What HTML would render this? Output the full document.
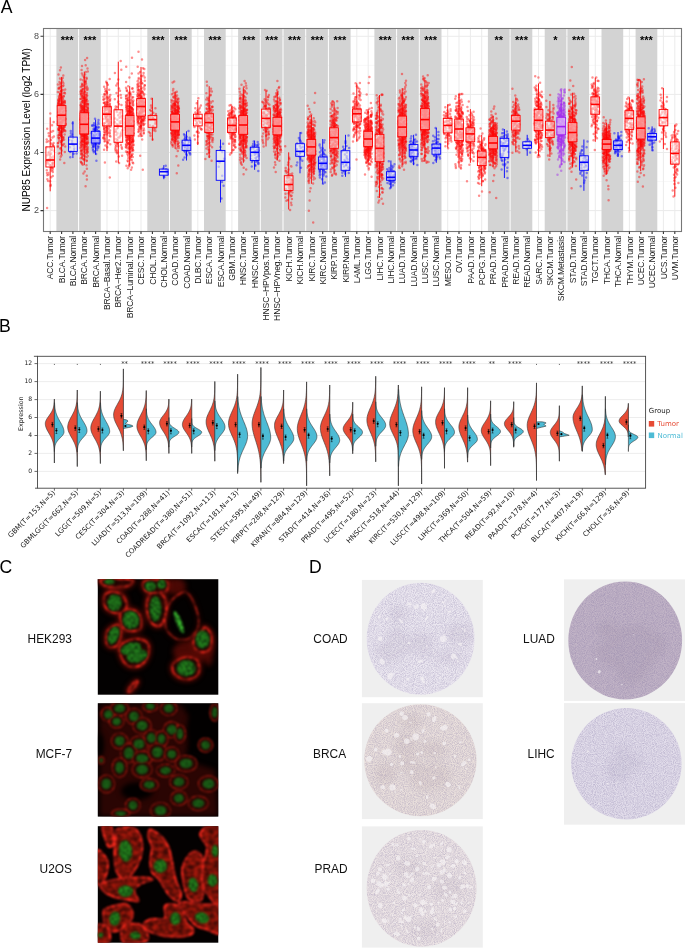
<!DOCTYPE html><html><head><meta charset="utf-8"><title>NUP85 figure</title><style>html,body{margin:0;padding:0;background:#fff;}svg{display:block;}</style></head><body><svg width="685" height="949" viewBox="0 0 685 949" font-family="Liberation Sans, Arial, sans-serif">
<rect width="685" height="949" fill="#fff"/>
<g id="pa">
<rect x="43.5" y="28.5" width="638.0" height="203.0" fill="#fff"/>
<path d="M43.5 181.6H681.5M43.5 123.5H681.5M43.5 65.3H681.5" stroke="#f2f2f2" stroke-width="0.6"/>
<path d="M43.5 210.6H681.5M43.5 152.5H681.5M43.5 94.4H681.5M43.5 36.3H681.5M50.2 28.5V231.5M61.6 28.5V231.5M72.9 28.5V231.5M84.3 28.5V231.5M95.6 28.5V231.5M107.0 28.5V231.5M118.3 28.5V231.5M129.7 28.5V231.5M141.0 28.5V231.5M152.4 28.5V231.5M163.8 28.5V231.5M175.1 28.5V231.5M186.5 28.5V231.5M197.8 28.5V231.5M209.2 28.5V231.5M220.5 28.5V231.5M231.9 28.5V231.5M243.3 28.5V231.5M254.6 28.5V231.5M266.0 28.5V231.5M277.3 28.5V231.5M288.7 28.5V231.5M300.0 28.5V231.5M311.4 28.5V231.5M322.7 28.5V231.5M334.1 28.5V231.5M345.5 28.5V231.5M356.8 28.5V231.5M368.2 28.5V231.5M379.5 28.5V231.5M390.9 28.5V231.5M402.2 28.5V231.5M413.6 28.5V231.5M424.9 28.5V231.5M436.3 28.5V231.5M447.7 28.5V231.5M459.0 28.5V231.5M470.4 28.5V231.5M481.7 28.5V231.5M493.1 28.5V231.5M504.4 28.5V231.5M515.8 28.5V231.5M527.2 28.5V231.5M538.5 28.5V231.5M549.9 28.5V231.5M561.2 28.5V231.5M572.6 28.5V231.5M583.9 28.5V231.5M595.3 28.5V231.5M606.6 28.5V231.5M618.0 28.5V231.5M629.4 28.5V231.5M640.7 28.5V231.5M652.1 28.5V231.5M663.4 28.5V231.5M674.8 28.5V231.5" stroke="#ebebeb" stroke-width="1"/>
<rect x="56.4" y="28.5" width="21.7" height="203.0" fill="#d3d3d3"/>
<rect x="79.1" y="28.5" width="21.7" height="203.0" fill="#d3d3d3"/>
<rect x="147.3" y="28.5" width="21.7" height="203.0" fill="#d3d3d3"/>
<rect x="170.0" y="28.5" width="21.7" height="203.0" fill="#d3d3d3"/>
<rect x="204.0" y="28.5" width="21.7" height="203.0" fill="#d3d3d3"/>
<rect x="238.1" y="28.5" width="21.7" height="203.0" fill="#d3d3d3"/>
<rect x="260.8" y="28.5" width="21.7" height="203.0" fill="#d3d3d3"/>
<rect x="283.5" y="28.5" width="21.7" height="203.0" fill="#d3d3d3"/>
<rect x="306.2" y="28.5" width="21.7" height="203.0" fill="#d3d3d3"/>
<rect x="328.9" y="28.5" width="21.7" height="203.0" fill="#d3d3d3"/>
<rect x="374.4" y="28.5" width="21.7" height="203.0" fill="#d3d3d3"/>
<rect x="397.1" y="28.5" width="21.7" height="203.0" fill="#d3d3d3"/>
<rect x="419.8" y="28.5" width="21.7" height="203.0" fill="#d3d3d3"/>
<rect x="487.9" y="28.5" width="21.7" height="203.0" fill="#d3d3d3"/>
<rect x="510.6" y="28.5" width="21.7" height="203.0" fill="#d3d3d3"/>
<rect x="544.7" y="28.5" width="21.7" height="203.0" fill="#d3d3d3"/>
<rect x="567.4" y="28.5" width="21.7" height="203.0" fill="#d3d3d3"/>
<rect x="601.5" y="28.5" width="21.7" height="203.0" fill="#d3d3d3"/>
<rect x="635.6" y="28.5" width="21.7" height="203.0" fill="#d3d3d3"/>
<path d="M47.8 162.0h0M47.2 128.7h0M50.2 181.3h0M51.3 167.2h0M48.1 162.3h0M48.1 181.0h0M53.7 146.0h0M49.0 164.2h0M49.6 160.5h0M48.6 133.3h0M50.0 165.0h0M53.9 136.5h0M52.1 125.3h0M52.9 164.5h0M52.5 137.6h0M46.8 170.2h0" stroke="#ff0000" stroke-opacity="0.44" stroke-width="2.5" stroke-linecap="round" fill="none"/>
<path d="M52.2 149.1h0M52.6 168.2h0M51.4 169.2h0M47.1 208.1h0M52.6 163.8h0M50.7 156.9h0M48.8 152.0h0M52.7 144.6h0M50.3 152.4h0M50.7 184.7h0M52.7 169.7h0M51.9 149.7h0M53.7 161.7h0M53.8 150.7h0M50.3 113.6h0M50.1 157.8h0" stroke="#ff0000" stroke-opacity="0.44" stroke-width="2.5" stroke-linecap="round" fill="none"/>
<path d="M52.8 172.1h0M53.8 166.0h0M48.4 153.2h0M51.0 140.0h0M53.7 122.0h0M48.5 141.3h0M52.8 176.0h0M47.1 163.5h0M52.9 145.5h0M46.7 161.3h0M51.1 154.0h0M46.6 147.6h0M50.5 186.0h0M47.3 179.2h0M47.9 159.8h0M47.3 175.2h0" stroke="#ff0000" stroke-opacity="0.44" stroke-width="2.5" stroke-linecap="round" fill="none"/>
<path d="M48.4 174.6h0M51.6 131.7h0M48.9 135.9h0M53.6 142.9h0M47.0 173.0h0M52.4 162.7h0M50.8 166.9h0M51.1 146.9h0M49.9 155.6h0M49.5 159.2h0M50.3 165.2h0M49.9 147.9h0M53.2 156.5h0M48.3 173.1h0M53.1 130.9h0M50.2 161.0h0" stroke="#ff0000" stroke-opacity="0.44" stroke-width="2.5" stroke-linecap="round" fill="none"/>
<path d="M52.4 167.9h0M47.4 155.3h0M51.6 158.4h0M51.5 170.8h0M52.0 166.5h0M46.7 139.6h0M53.0 163.0h0M50.9 143.4h0M51.2 177.3h0M47.9 160.6h0M50.6 150.2h0M52.1 165.4h0M52.9 158.5h0M46.7 141.9h0M49.7 154.5h0" stroke="#ff0000" stroke-opacity="0.44" stroke-width="2.5" stroke-linecap="round" fill="none"/>
<path d="M61.5 122.5h0M62.6 115.5h0M65.2 89.5h0M60.0 111.4h0M58.9 123.5h0M57.8 146.9h0M62.7 128.0h0M59.4 133.7h0M58.6 109.4h0M62.3 126.4h0M61.4 136.0h0M64.2 118.8h0M61.1 86.9h0M61.2 142.1h0M63.4 90.0h0M64.1 115.8h0M59.1 132.8h0M62.1 107.1h0M62.2 131.0h0M62.0 106.6h0M63.3 121.4h0M60.0 117.2h0M63.3 129.3h0M60.3 153.1h0M65.3 123.7h0M60.0 141.0h0M61.7 150.4h0M60.7 122.2h0M61.1 109.1h0M60.2 99.5h0M59.3 134.8h0M60.1 109.3h0M59.4 113.3h0M59.5 101.2h0M59.1 125.4h0M61.5 125.9h0M62.6 139.4h0M62.6 121.1h0M63.4 118.1h0M62.6 81.5h0M59.5 82.0h0M61.7 124.5h0M59.1 124.7h0M60.4 118.7h0M60.4 95.4h0M60.1 123.6h0M61.2 123.2h0M64.2 110.9h0M61.6 104.4h0M59.6 138.3h0M60.5 128.3h0M65.1 118.3h0M59.0 130.0h0M59.5 112.9h0M59.1 141.2h0M61.2 97.4h0M61.5 104.0h0M62.5 120.4h0M58.9 106.1h0M62.5 101.4h0M60.4 95.2h0M62.3 112.5h0M60.9 67.5h0M62.0 90.2h0M60.0 111.6h0M59.0 138.9h0M64.7 134.4h0M63.1 138.2h0M58.6 113.6h0M61.4 103.9h0M58.6 114.8h0M59.8 110.4h0M59.7 111.0h0M58.8 119.1h0M64.1 120.6h0M58.8 87.8h0M62.1 132.0h0M64.6 125.1h0M63.8 96.5h0M62.7 86.3h0M60.5 110.7h0M61.0 91.0h0" stroke="#ff0000" stroke-opacity="0.44" stroke-width="2.5" stroke-linecap="round" fill="none"/>
<path d="M65.0 93.4h0M58.7 100.4h0M63.0 122.7h0M62.0 132.6h0M63.1 108.2h0M60.7 114.6h0M58.7 105.3h0M63.7 137.2h0M58.6 115.3h0M64.9 101.0h0M58.2 103.1h0M61.3 123.8h0M60.9 122.1h0M60.7 118.6h0M60.0 94.2h0M58.7 113.7h0M62.1 134.0h0M60.6 105.0h0M60.2 115.1h0M62.6 120.1h0M60.4 117.9h0M59.1 121.9h0M59.6 92.6h0M63.7 105.7h0M58.1 121.8h0M59.6 92.4h0M58.2 143.0h0M62.0 116.7h0M64.7 93.0h0M57.8 145.9h0M61.1 110.6h0M61.1 108.9h0M60.3 124.8h0M58.8 119.3h0M64.5 123.2h0M65.2 124.2h0M62.2 117.3h0M63.4 83.2h0M60.2 108.3h0M58.5 124.4h0M60.2 133.4h0M64.6 105.8h0M64.0 129.4h0M61.2 142.5h0M62.2 102.8h0M64.3 106.5h0M63.2 131.6h0M59.2 135.0h0M64.2 113.8h0M64.4 114.2h0M59.5 88.5h0M63.3 75.4h0M61.4 110.3h0M63.0 119.4h0M60.0 98.2h0M57.9 84.6h0M60.7 134.1h0M63.5 116.2h0M60.2 110.1h0M58.9 128.4h0M62.6 126.5h0M62.2 140.7h0M64.8 113.9h0M63.6 126.5h0M59.2 97.1h0M64.7 102.2h0M62.0 132.6h0M59.0 117.4h0M60.7 133.3h0M63.0 115.4h0M60.6 120.5h0M63.7 95.9h0M60.4 114.4h0M58.4 112.6h0M58.8 129.7h0M64.6 120.2h0M65.2 146.5h0M58.9 96.2h0M58.8 111.5h0M59.7 109.1h0M58.7 118.4h0M60.0 125.2h0" stroke="#ff0000" stroke-opacity="0.44" stroke-width="2.5" stroke-linecap="round" fill="none"/>
<path d="M63.4 119.8h0M64.1 139.7h0M61.0 90.7h0M59.1 119.9h0M63.0 117.0h0M59.1 126.2h0M58.9 137.7h0M61.0 116.4h0M60.0 105.5h0M57.8 143.2h0M61.9 121.3h0M63.4 139.8h0M61.8 100.6h0M63.5 85.6h0M64.3 105.2h0M62.3 120.6h0M59.0 116.8h0M63.1 109.8h0M62.2 100.0h0M62.2 130.3h0M63.0 109.7h0M62.3 129.1h0M61.1 118.9h0M59.1 100.8h0M60.9 107.0h0M60.7 131.3h0M61.5 112.9h0M57.8 124.1h0M63.0 120.1h0M58.2 104.1h0M59.3 129.7h0M60.5 127.3h0M62.2 104.7h0M60.1 94.6h0M61.0 120.0h0M61.3 97.3h0M65.0 108.0h0M64.4 115.0h0M64.2 101.7h0M62.8 145.6h0M62.7 107.6h0M61.6 141.5h0M64.0 113.3h0M65.1 130.6h0M62.2 121.2h0M62.2 99.2h0M64.3 162.9h0M58.5 111.8h0M60.2 112.7h0M62.9 108.0h0M59.9 111.7h0M59.3 98.9h0M59.3 125.0h0M61.8 121.6h0M60.6 95.6h0M59.1 124.0h0M61.6 155.3h0M58.6 120.9h0M60.4 135.2h0M64.8 126.7h0M62.5 98.4h0M62.9 115.3h0M62.7 112.3h0M61.0 91.6h0M64.1 143.9h0M61.4 89.2h0M60.5 103.4h0M62.8 107.3h0M62.0 113.4h0M59.5 122.0h0M58.9 98.9h0M65.0 115.0h0M60.4 87.6h0M65.2 119.0h0M58.1 104.9h0M61.1 103.6h0M61.0 97.8h0M58.0 116.9h0M63.3 112.7h0M62.5 123.4h0M59.4 109.5h0M58.6 99.8h0" stroke="#ff0000" stroke-opacity="0.44" stroke-width="2.5" stroke-linecap="round" fill="none"/>
<path d="M63.1 99.4h0M64.4 92.7h0M65.2 124.9h0M61.5 136.8h0M61.3 110.6h0M62.5 137.0h0M61.7 114.1h0M59.1 102.7h0M60.7 116.6h0M60.6 85.7h0M64.6 108.5h0M61.8 135.7h0M60.1 125.7h0M60.0 117.8h0M65.0 124.3h0M58.2 100.2h0M58.7 110.0h0M59.8 111.9h0M59.4 109.9h0M63.1 111.4h0M60.4 118.1h0M59.4 117.9h0M59.8 112.0h0M62.5 102.0h0M61.9 116.3h0M59.4 130.4h0M58.6 112.1h0M60.6 133.0h0M58.5 74.5h0M57.8 116.3h0M58.0 104.3h0M63.2 116.1h0M61.6 144.3h0M62.0 116.6h0M63.8 106.8h0M58.8 107.4h0M60.0 100.9h0M58.2 123.0h0M60.2 94.5h0M62.7 78.1h0M65.0 121.0h0M59.6 96.7h0M64.7 107.4h0M59.5 97.5h0M60.5 99.9h0M63.2 103.2h0M62.5 98.1h0M61.2 114.9h0M63.5 109.6h0M63.3 127.6h0M60.4 113.7h0M60.1 105.9h0M63.9 117.5h0M62.3 107.0h0M58.4 108.6h0M61.7 128.6h0M61.4 131.8h0M60.9 148.1h0M58.9 98.5h0M60.6 107.9h0M63.1 111.3h0M59.9 105.2h0M64.8 151.9h0M60.6 125.7h0M63.2 118.5h0M61.9 119.5h0M63.3 109.2h0M58.7 117.1h0M60.2 122.9h0M59.7 112.4h0M60.6 115.9h0M62.8 128.0h0M58.6 130.2h0M60.3 105.7h0M61.5 91.2h0M61.0 83.0h0M60.0 70.2h0M61.0 132.4h0M59.3 127.7h0M62.0 108.2h0M65.0 110.3h0" stroke="#ff0000" stroke-opacity="0.44" stroke-width="2.5" stroke-linecap="round" fill="none"/>
<path d="M58.6 121.1h0M64.9 108.7h0M61.3 106.4h0M59.0 107.7h0M60.8 115.6h0M60.1 159.6h0M58.9 110.1h0M58.0 135.6h0M64.9 103.0h0M58.8 153.6h0M58.5 88.8h0M64.2 127.0h0M58.9 110.8h0M63.5 113.2h0M60.2 148.5h0M62.4 138.6h0M60.8 149.1h0M61.3 115.7h0M61.2 136.1h0M63.6 102.6h0M65.2 111.1h0M65.3 131.2h0M58.7 122.3h0M61.7 79.6h0M62.4 93.6h0M58.3 121.6h0M63.3 129.0h0M60.6 114.3h0M61.5 108.8h0M64.5 111.2h0M63.3 120.7h0M63.8 102.4h0M64.8 122.8h0M58.6 119.7h0M60.7 156.8h0M59.3 128.6h0M59.9 125.5h0M64.4 117.6h0M64.7 113.5h0M64.5 101.7h0M58.2 128.8h0M64.1 130.8h0M60.8 134.6h0M62.1 114.1h0M61.7 122.3h0M61.8 140.2h0M61.5 108.7h0M64.8 106.3h0M60.2 118.2h0M59.6 103.7h0M58.2 102.0h0M59.1 114.4h0M60.5 131.8h0M61.0 127.2h0M61.8 136.5h0M60.9 94.9h0M60.8 127.4h0M64.3 106.7h0M60.0 78.4h0M58.1 106.2h0M65.2 123.8h0M60.2 94.0h0M61.0 117.7h0M59.1 107.7h0M60.2 84.0h0M61.3 114.7h0M62.4 144.7h0M62.0 116.0h0M59.8 114.6h0M59.4 122.6h0M62.9 104.6h0M59.6 126.0h0M64.4 113.1h0M58.6 112.2h0M65.3 119.2h0M62.1 96.3h0M59.8 126.9h0M57.8 92.1h0M63.1 112.4h0M65.1 119.5h0M58.3 137.4h0" stroke="#ff0000" stroke-opacity="0.44" stroke-width="2.5" stroke-linecap="round" fill="none"/>
<path d="M73.9 145.6h0M70.3 157.3h0M74.2 148.6h0M70.8 131.0h0" stroke="#0000ff" stroke-opacity="0.44" stroke-width="2.5" stroke-linecap="round" fill="none"/>
<path d="M72.5 144.3h0M72.1 140.7h0M71.0 151.5h0M72.6 123.3h0" stroke="#0000ff" stroke-opacity="0.44" stroke-width="2.5" stroke-linecap="round" fill="none"/>
<path d="M70.9 133.3h0M72.1 134.5h0M69.8 147.3h0M73.0 137.7h0" stroke="#0000ff" stroke-opacity="0.44" stroke-width="2.5" stroke-linecap="round" fill="none"/>
<path d="M69.2 140.1h0M76.6 153.5h0M72.2 143.0h0M74.0 150.4h0" stroke="#0000ff" stroke-opacity="0.44" stroke-width="2.5" stroke-linecap="round" fill="none"/>
<path d="M70.7 136.0h0M70.0 152.1h0M73.6 153.8h0" stroke="#0000ff" stroke-opacity="0.44" stroke-width="2.5" stroke-linecap="round" fill="none"/>
<path d="M82.4 138.6h0M80.8 130.9h0M85.1 141.1h0M81.3 120.2h0M80.8 142.0h0M85.3 156.7h0M85.3 82.3h0M83.9 97.4h0M83.6 98.1h0M84.7 127.0h0M81.1 153.3h0M87.9 130.4h0M81.7 107.3h0M82.7 102.1h0M86.2 129.4h0M83.1 138.3h0M82.2 128.4h0M85.1 144.2h0M81.8 124.5h0M87.8 132.6h0M86.0 136.5h0M86.9 125.6h0M80.6 116.2h0M81.7 163.2h0M81.8 117.9h0M80.8 133.6h0M82.7 164.7h0M85.9 141.3h0M81.8 135.1h0M84.3 123.8h0M82.1 122.1h0M84.9 146.4h0M80.7 120.6h0M84.5 112.3h0M82.2 117.4h0M81.6 143.9h0M84.0 137.9h0M85.2 127.5h0M82.8 123.4h0M80.8 115.2h0M86.1 84.1h0M81.9 135.5h0M85.5 87.2h0M83.4 130.8h0M87.0 113.7h0M87.5 88.0h0M81.0 131.9h0M86.2 122.7h0M85.3 129.5h0M86.7 95.5h0M80.7 124.6h0M87.1 125.2h0M81.7 122.6h0M81.4 154.1h0M85.4 125.7h0M84.5 119.3h0M81.3 90.8h0M81.5 115.7h0M85.8 113.6h0M80.6 158.2h0M87.3 151.9h0M86.1 124.9h0M82.5 94.7h0M81.0 94.5h0M87.1 131.9h0M82.0 65.9h0M85.9 132.4h0M83.9 125.1h0M80.8 128.5h0M80.7 127.6h0M87.9 113.8h0M87.0 121.1h0M85.7 128.3h0M86.1 87.7h0M84.9 129.1h0M84.6 108.8h0M85.2 109.0h0M83.3 109.9h0M86.4 143.3h0M80.7 79.4h0M84.6 116.4h0M86.9 113.1h0M87.2 138.9h0M84.3 76.9h0M87.9 123.2h0M81.2 131.7h0M82.4 121.2h0M85.3 132.8h0M81.0 144.5h0M83.8 124.4h0M81.8 89.7h0M85.7 101.1h0M83.1 141.6h0M86.7 132.6h0M85.4 114.1h0M87.0 124.7h0M84.5 106.4h0M81.1 121.8h0M84.3 127.0h0M82.9 135.2h0M82.1 115.0h0M85.6 129.0h0M87.9 119.0h0M80.8 117.3h0M86.9 153.8h0M81.1 107.6h0M82.8 140.8h0M85.4 137.0h0M87.1 132.9h0M84.7 125.6h0M85.0 132.1h0M85.8 129.6h0M82.3 125.8h0M85.8 120.4h0M86.8 99.2h0M80.6 111.0h0M85.6 115.1h0M84.7 145.8h0M84.2 103.2h0M86.3 121.9h0M80.6 144.1h0M81.4 129.7h0M81.7 125.9h0M81.7 126.4h0M80.5 99.0h0M84.3 129.9h0M80.9 146.8h0M84.3 133.1h0M84.2 108.5h0M86.6 160.9h0M85.6 97.9h0M82.8 100.5h0M86.5 115.3h0M81.1 141.5h0M86.4 122.3h0M85.8 153.5h0M81.4 151.0h0M87.5 130.1h0M86.7 78.8h0M85.2 134.6h0" stroke="#ff0000" stroke-opacity="0.44" stroke-width="2.5" stroke-linecap="round" fill="none"/>
<path d="M85.8 128.5h0M83.0 126.9h0M86.1 129.5h0M87.3 148.1h0M82.1 141.0h0M80.7 119.6h0M87.7 126.6h0M86.0 120.6h0M83.4 173.5h0M87.7 89.6h0M87.4 106.8h0M84.9 129.4h0M86.7 125.0h0M87.2 114.7h0M82.4 118.4h0M84.2 122.4h0M86.0 128.6h0M87.5 100.9h0M86.9 92.9h0M83.9 108.9h0M87.6 125.3h0M85.2 100.2h0M85.5 136.5h0M81.6 119.7h0M82.3 101.8h0M82.0 130.2h0M85.0 120.5h0M84.0 111.8h0M81.9 118.7h0M84.5 155.7h0M87.7 129.1h0M81.9 108.3h0M82.0 106.2h0M87.3 125.9h0M83.9 137.2h0M80.8 87.0h0M87.3 104.5h0M83.0 86.0h0M86.5 142.8h0M86.9 125.1h0M87.7 106.6h0M81.4 123.0h0M83.3 106.0h0M83.2 131.1h0M87.2 127.9h0M86.1 94.3h0M86.3 136.9h0M82.8 134.9h0M86.6 103.4h0M86.9 168.8h0M87.9 105.5h0M87.1 58.0h0M84.2 120.7h0M81.4 95.9h0M83.6 133.3h0M80.8 131.3h0M84.6 123.8h0M87.6 152.4h0M82.7 126.8h0M81.5 132.2h0M88.0 110.6h0M85.7 146.2h0M85.7 112.9h0M82.9 133.7h0M83.3 116.7h0M85.8 129.7h0M84.6 129.2h0M86.3 143.2h0M84.8 102.0h0M82.4 136.0h0M84.2 131.2h0M82.3 123.6h0M85.4 130.5h0M82.5 113.9h0M86.5 99.6h0M80.6 131.0h0M87.8 133.5h0M81.5 116.5h0M84.8 98.4h0M82.0 153.0h0M81.7 119.5h0M84.9 91.5h0M82.3 127.8h0M85.0 126.3h0M84.3 117.5h0M82.8 127.7h0M84.4 135.7h0M81.4 122.9h0M84.1 130.8h0M81.1 151.2h0M80.7 134.3h0M81.1 90.4h0M84.5 128.4h0M85.9 133.0h0M81.6 70.0h0M84.0 116.0h0M87.2 136.1h0M87.7 125.3h0M80.5 91.8h0M83.9 159.8h0M87.2 109.5h0M83.3 107.7h0M87.9 108.7h0M85.5 128.2h0M82.9 116.1h0M82.0 129.7h0M85.7 117.4h0M81.1 93.6h0M84.0 133.8h0M84.0 114.8h0M82.2 119.1h0M87.8 124.0h0M80.7 130.3h0M85.0 118.1h0M81.7 117.6h0M85.4 104.9h0M84.0 143.0h0M85.8 104.0h0M85.5 133.2h0M86.4 137.8h0M85.0 124.8h0M82.3 113.5h0M86.2 125.2h0M82.3 118.0h0M82.2 116.8h0M80.9 122.5h0M80.5 105.7h0M85.4 129.3h0M83.2 138.2h0M86.7 150.4h0M81.3 131.6h0M85.7 71.9h0M85.7 65.2h0M87.5 152.2h0M82.1 84.7h0M81.4 124.8h0M83.9 113.2h0M88.0 127.9h0M86.3 129.0h0M81.3 128.0h0" stroke="#ff0000" stroke-opacity="0.44" stroke-width="2.5" stroke-linecap="round" fill="none"/>
<path d="M82.3 155.2h0M84.8 128.1h0M82.1 144.8h0M82.5 90.9h0M85.0 136.8h0M83.8 140.4h0M85.5 116.1h0M86.6 123.4h0M83.5 133.9h0M80.6 119.3h0M87.8 71.5h0M85.1 60.1h0M85.1 115.5h0M84.6 139.9h0M81.1 145.2h0M84.5 115.2h0M84.4 144.8h0M82.1 163.6h0M81.8 85.9h0M87.6 139.3h0M85.1 136.7h0M83.3 94.1h0M83.5 129.8h0M83.2 112.6h0M88.0 118.9h0M87.9 107.9h0M80.8 93.7h0M86.3 101.4h0M83.5 108.1h0M82.8 88.8h0M87.5 128.6h0M83.5 114.3h0M85.7 81.4h0M83.7 124.0h0M85.4 118.2h0M82.7 127.6h0M81.3 131.0h0M86.9 127.1h0M82.1 130.0h0M86.8 160.4h0M84.3 124.9h0M87.7 156.0h0M85.5 115.4h0M87.4 144.0h0M83.4 126.3h0M85.8 135.8h0M88.0 112.7h0M81.9 139.2h0M87.9 131.5h0M85.9 124.7h0M86.7 130.3h0M87.7 140.6h0M87.0 133.7h0M85.9 99.9h0M87.8 140.2h0M85.0 126.9h0M86.5 117.0h0M83.7 135.7h0M85.4 103.0h0M84.2 146.5h0M83.1 132.9h0M81.2 154.6h0M82.1 96.3h0M81.2 162.3h0M84.8 121.7h0M80.9 111.7h0M81.0 123.9h0M84.5 126.9h0M80.8 126.7h0M87.3 121.3h0M86.4 130.7h0M85.7 137.2h0M81.1 127.7h0M85.6 152.8h0M85.7 127.4h0M84.1 134.1h0M86.9 179.6h0M81.9 109.8h0M83.8 130.2h0M84.7 121.5h0M85.3 116.3h0M87.0 157.3h0M81.3 117.2h0M81.7 141.8h0M86.6 130.6h0M83.7 126.0h0M84.0 77.8h0M82.1 130.6h0M85.6 138.2h0M85.8 116.5h0M81.8 146.3h0M83.5 132.3h0M83.0 99.6h0M81.9 120.3h0M83.2 106.3h0M87.5 122.4h0M86.1 118.7h0M83.9 98.6h0M82.5 115.9h0M86.6 90.1h0M82.6 139.8h0M82.6 116.3h0M80.7 104.6h0M83.0 100.0h0M85.8 125.5h0M85.4 142.2h0M87.5 151.3h0M86.9 110.2h0M81.5 105.9h0M87.6 122.0h0M82.0 114.6h0M84.3 121.9h0M81.2 142.7h0M82.7 75.4h0M86.5 165.2h0M83.7 135.0h0M82.8 118.5h0M81.8 114.4h0M81.9 121.1h0M86.1 131.2h0M82.0 157.9h0M86.0 103.6h0M84.4 112.8h0M86.8 131.6h0M86.0 128.1h0M84.4 123.1h0M81.0 98.8h0M86.6 110.6h0M84.7 130.2h0M82.9 127.3h0M83.1 140.7h0M83.0 118.6h0M87.7 123.5h0M83.3 93.2h0M82.3 147.1h0M81.4 139.4h0M87.4 113.3h0M84.0 126.1h0M81.6 126.1h0M85.6 131.7h0" stroke="#ff0000" stroke-opacity="0.44" stroke-width="2.5" stroke-linecap="round" fill="none"/>
<path d="M85.7 125.5h0M87.3 123.2h0M87.8 109.6h0M86.2 105.7h0M83.5 121.3h0M82.5 120.8h0M86.8 138.7h0M87.0 129.3h0M84.8 150.7h0M86.7 134.7h0M81.5 120.8h0M81.4 135.3h0M86.8 145.6h0M83.5 149.2h0M88.1 112.2h0M86.0 117.8h0M82.0 156.9h0M82.3 123.5h0M81.0 119.0h0M88.0 131.3h0M84.8 92.1h0M80.7 108.1h0M86.6 134.8h0M81.1 128.9h0M81.2 104.7h0M83.8 114.2h0M82.3 123.0h0M81.8 134.5h0M83.7 115.8h0M81.7 142.3h0M87.5 118.4h0M83.0 132.8h0M86.7 113.9h0M84.6 135.9h0M83.2 145.9h0M82.4 110.3h0M88.0 115.5h0M86.0 126.6h0M80.6 117.9h0M82.8 145.3h0M85.7 119.8h0M83.2 132.7h0M83.8 129.2h0M80.8 137.7h0M85.6 80.6h0M84.6 142.0h0M82.7 106.9h0M85.0 114.5h0M81.0 115.0h0M86.8 133.2h0M85.0 109.7h0M86.1 111.5h0M83.5 84.6h0M87.8 134.0h0M87.2 113.4h0M82.7 125.6h0M87.0 117.3h0M80.7 132.4h0M81.5 119.6h0M83.8 111.4h0M85.7 117.1h0M85.3 97.0h0M81.2 121.0h0M81.6 121.4h0M82.0 130.0h0M86.7 127.1h0M81.6 109.3h0M88.0 142.6h0M85.5 139.4h0M85.2 122.8h0M87.3 128.1h0M85.6 115.9h0M84.3 148.2h0M88.0 103.7h0M84.8 123.3h0M84.9 85.2h0M82.8 159.0h0M87.7 137.4h0M83.2 120.1h0M85.1 114.0h0M81.4 107.1h0M87.0 112.5h0M87.4 149.8h0M85.4 128.8h0M87.6 116.6h0M84.3 120.4h0M87.4 138.0h0M83.7 126.5h0M84.3 126.5h0M80.8 161.8h0M83.6 131.8h0M81.1 105.0h0M84.3 107.4h0M81.7 150.4h0M84.7 138.6h0M82.7 112.0h0M82.7 128.7h0M81.2 131.5h0M82.1 123.6h0M85.3 134.3h0M80.7 109.2h0M85.7 143.4h0M85.0 118.8h0M85.3 128.7h0M85.5 122.6h0M84.0 136.2h0M82.0 120.0h0M86.9 124.1h0M87.1 143.5h0M85.0 129.9h0M82.1 124.1h0M81.9 136.2h0M83.1 92.8h0M83.8 127.3h0M85.0 124.4h0M85.2 142.9h0M81.0 117.8h0M83.9 97.2h0M84.7 171.5h0M87.4 107.8h0M82.3 124.4h0M83.5 123.7h0M82.1 122.7h0M84.7 105.1h0M82.3 92.5h0M82.0 145.5h0M82.3 97.6h0M82.6 118.3h0M81.2 121.8h0M80.5 147.9h0M82.1 123.0h0M83.0 89.2h0M81.7 132.5h0M85.4 150.1h0M87.0 124.6h0M81.8 105.3h0M85.4 118.1h0M87.5 68.5h0M86.4 145.0h0M85.6 186.2h0" stroke="#ff0000" stroke-opacity="0.44" stroke-width="2.5" stroke-linecap="round" fill="none"/>
<path d="M85.1 121.6h0M81.0 110.9h0M87.2 134.1h0M86.9 116.9h0M88.0 117.7h0M82.2 114.5h0M85.6 95.0h0M83.3 139.7h0M81.2 119.2h0M82.0 119.9h0M84.1 103.8h0M85.4 95.1h0M80.6 119.8h0M80.6 122.2h0M82.7 134.6h0M81.4 115.7h0M87.2 124.3h0M85.2 103.1h0M82.6 108.5h0M81.9 126.4h0M83.0 119.0h0M85.6 99.4h0M81.1 136.8h0M87.6 132.3h0M86.9 137.5h0M85.9 138.4h0M85.5 82.8h0M86.9 132.2h0M85.9 149.0h0M86.2 147.4h0M82.0 83.7h0M82.7 144.6h0M84.4 133.6h0M82.9 97.7h0M85.8 135.1h0M87.4 132.1h0M82.1 132.0h0M85.3 112.4h0M83.4 130.7h0M83.1 124.5h0M82.1 135.5h0M84.8 159.2h0M85.4 88.6h0M84.0 136.3h0M81.8 119.5h0M88.1 133.4h0M81.5 114.2h0M82.6 101.7h0M81.7 110.4h0M82.6 120.1h0M82.7 155.5h0M87.7 147.0h0M86.2 127.2h0M83.0 80.2h0M86.3 126.2h0M84.3 125.0h0M84.6 113.5h0M86.8 96.7h0M82.9 120.9h0M84.6 120.0h0M84.0 102.4h0M82.4 101.3h0M81.7 140.0h0M87.5 111.2h0M84.9 128.8h0M83.6 131.4h0M82.2 102.7h0M82.8 140.4h0M82.3 149.5h0M81.4 116.9h0M85.0 114.9h0M86.5 121.6h0M80.9 127.8h0M84.1 117.6h0M86.2 143.8h0M84.3 110.1h0M85.6 116.7h0M87.6 148.7h0M83.7 120.9h0M81.6 111.1h0M86.5 77.7h0M85.6 100.7h0M87.2 137.3h0M86.9 122.1h0M85.9 121.5h0M82.7 141.0h0M83.5 133.0h0M80.7 111.9h0M81.3 134.2h0M81.0 115.6h0M83.2 96.6h0M85.1 74.6h0M83.7 151.7h0M83.8 128.2h0M86.9 86.6h0M82.7 154.6h0M83.8 133.4h0M83.1 119.3h0M87.2 95.6h0M84.8 127.3h0M81.4 111.6h0M81.9 73.5h0M85.7 106.9h0M81.3 149.6h0M84.1 139.6h0M81.9 125.8h0M83.5 96.1h0M86.7 113.7h0M86.2 104.3h0M83.2 141.5h0M84.1 140.3h0M87.9 142.4h0M86.4 122.3h0M86.1 139.0h0M86.8 114.7h0M80.7 113.0h0M84.8 138.8h0M84.1 148.4h0M81.4 130.9h0M82.4 102.4h0M83.6 100.8h0M86.7 147.2h0M87.6 113.1h0M87.9 124.2h0M86.6 137.6h0M83.2 148.5h0M81.0 102.6h0M83.6 127.5h0M84.4 81.9h0M86.8 175.7h0M86.7 118.3h0M84.3 126.2h0M85.8 120.3h0M80.7 125.4h0M86.3 147.6h0M83.6 125.9h0M87.9 104.2h0M85.5 110.8h0M87.8 126.7h0M81.4 91.4h0" stroke="#ff0000" stroke-opacity="0.44" stroke-width="2.5" stroke-linecap="round" fill="none"/>
<path d="M94.3 130.0h0M93.0 150.4h0M98.6 130.9h0M98.3 122.3h0M94.0 123.3h0M99.0 133.7h0M98.2 147.3h0M96.4 160.7h0M95.8 126.8h0M94.3 126.2h0M99.0 134.9h0M94.4 130.5h0M93.6 144.7h0M93.6 145.9h0M93.6 130.3h0M95.8 135.1h0M92.4 137.6h0M93.8 135.1h0M92.5 125.2h0M95.4 142.7h0M98.3 140.4h0M95.5 147.6h0M98.2 148.1h0" stroke="#0000ff" stroke-opacity="0.44" stroke-width="2.5" stroke-linecap="round" fill="none"/>
<path d="M92.9 149.2h0M92.2 140.7h0M98.0 127.6h0M98.7 137.9h0M92.6 147.7h0M91.9 133.0h0M96.8 129.2h0M94.9 136.0h0M95.2 129.7h0M95.5 143.4h0M96.4 149.0h0M99.2 143.2h0M92.3 144.4h0M94.5 131.6h0M93.3 136.6h0M92.6 138.3h0M95.3 137.1h0M97.6 138.7h0M96.8 141.7h0M95.0 128.9h0M92.9 143.6h0M92.8 134.2h0M97.1 149.9h0" stroke="#0000ff" stroke-opacity="0.44" stroke-width="2.5" stroke-linecap="round" fill="none"/>
<path d="M92.2 138.8h0M97.7 142.9h0M93.5 141.1h0M94.2 141.3h0M92.1 125.7h0M94.8 128.5h0M98.5 136.9h0M95.9 143.9h0M94.8 142.5h0M94.5 132.1h0M98.9 144.1h0M92.8 141.2h0M94.6 132.3h0M94.0 144.8h0M98.9 127.3h0M92.0 142.4h0M97.9 136.2h0M98.1 143.6h0M96.1 139.8h0M94.9 130.7h0M97.1 134.6h0M93.5 146.1h0" stroke="#0000ff" stroke-opacity="0.44" stroke-width="2.5" stroke-linecap="round" fill="none"/>
<path d="M96.5 129.9h0M93.9 141.5h0M99.0 140.6h0M94.7 138.5h0M96.1 154.1h0M97.2 138.1h0M99.2 140.1h0M93.5 135.8h0M92.5 139.5h0M96.0 128.1h0M94.6 151.3h0M93.5 139.1h0M95.4 129.4h0M93.2 138.3h0M98.6 131.4h0M95.7 142.1h0M91.9 133.3h0M98.5 120.1h0M94.1 139.9h0M99.1 134.0h0M95.2 140.8h0M95.0 118.7h0" stroke="#0000ff" stroke-opacity="0.44" stroke-width="2.5" stroke-linecap="round" fill="none"/>
<path d="M93.9 139.3h0M98.4 146.6h0M96.6 145.6h0M98.6 124.0h0M94.2 125.1h0M96.4 127.0h0M98.4 139.1h0M93.8 152.3h0M99.3 135.5h0M97.8 132.8h0M95.4 133.5h0M97.7 124.6h0M95.3 131.2h0M95.7 145.1h0M94.7 137.2h0M99.0 141.8h0M96.3 145.2h0M97.8 132.5h0M93.4 136.4h0M93.6 128.7h0M94.8 139.6h0M93.3 146.7h0" stroke="#0000ff" stroke-opacity="0.44" stroke-width="2.5" stroke-linecap="round" fill="none"/>
<path d="M109.5 97.5h0M104.4 108.3h0M105.2 89.0h0M107.2 112.6h0M104.9 134.2h0M105.4 101.9h0M109.3 105.9h0M103.3 137.6h0M106.1 91.1h0M108.2 121.3h0M106.4 128.1h0M106.2 116.6h0M107.0 93.2h0M109.7 78.9h0M106.5 109.7h0M109.6 104.4h0M105.8 109.6h0M110.4 136.6h0M107.1 134.5h0M105.2 108.9h0M104.7 133.3h0M110.0 116.3h0M110.1 110.2h0M108.7 112.4h0M105.9 118.3h0M106.9 128.2h0M108.0 119.4h0M104.1 149.8h0M106.1 117.5h0M110.3 98.8h0M108.7 128.5h0M105.4 116.1h0M109.2 89.7h0M109.2 121.8h0M109.5 109.7h0M110.1 108.0h0M109.5 132.6h0M104.1 86.7h0" stroke="#ff0000" stroke-opacity="0.44" stroke-width="2.5" stroke-linecap="round" fill="none"/>
<path d="M110.3 119.2h0M106.7 121.0h0M107.3 125.0h0M105.4 145.6h0M108.3 97.8h0M104.4 110.7h0M105.0 105.6h0M109.6 111.0h0M110.4 110.9h0M110.3 144.2h0M103.9 102.9h0M104.8 140.8h0M110.5 111.4h0M109.9 116.0h0M106.8 127.7h0M104.5 136.9h0M105.2 98.6h0M106.5 120.3h0M103.5 99.8h0M107.3 129.8h0M109.8 100.6h0M103.4 96.8h0M109.1 125.2h0M104.9 109.1h0M104.1 127.6h0M105.9 104.2h0M110.2 106.4h0M107.4 107.9h0M109.7 112.0h0M107.1 129.2h0M107.5 103.2h0M105.0 95.5h0M103.7 124.8h0M106.2 81.8h0M110.5 122.3h0M110.1 118.0h0M110.2 124.4h0M104.5 139.2h0" stroke="#ff0000" stroke-opacity="0.44" stroke-width="2.5" stroke-linecap="round" fill="none"/>
<path d="M109.7 110.4h0M104.2 94.3h0M110.3 118.6h0M107.3 102.3h0M104.5 123.3h0M110.3 95.0h0M107.3 105.0h0M108.0 120.0h0M110.4 126.7h0M110.2 111.6h0M107.1 114.5h0M107.5 142.1h0M108.1 122.8h0M110.5 117.4h0M105.6 127.1h0M110.8 108.7h0M107.9 84.8h0M110.1 112.0h0M109.9 103.7h0M105.9 117.2h0M106.7 107.1h0M104.1 129.3h0M104.0 135.3h0M105.8 126.8h0M104.2 125.7h0M109.1 111.2h0M107.5 131.2h0M104.3 113.3h0M109.8 133.6h0M107.5 120.7h0M108.5 120.8h0M104.8 115.3h0M110.1 130.4h0M108.0 117.7h0M109.6 95.9h0M108.1 99.6h0M109.1 113.5h0M103.9 126.4h0" stroke="#ff0000" stroke-opacity="0.44" stroke-width="2.5" stroke-linecap="round" fill="none"/>
<path d="M109.8 111.3h0M110.4 122.4h0M107.0 97.3h0M106.3 108.5h0M109.8 106.6h0M108.3 114.3h0M103.7 99.3h0M108.6 108.2h0M103.9 102.7h0M106.2 114.1h0M106.7 110.0h0M105.9 112.8h0M105.6 117.0h0M104.9 113.8h0M104.9 112.3h0M107.2 110.1h0M107.2 121.5h0M104.2 128.9h0M105.2 105.3h0M103.9 123.6h0M105.3 107.4h0M106.2 107.0h0M109.7 120.4h0M103.3 138.2h0M107.7 115.7h0M108.6 115.1h0M105.3 132.2h0M109.8 177.6h0M108.2 104.8h0M104.9 94.0h0M109.2 109.3h0M104.9 162.5h0M109.6 112.9h0M105.9 106.0h0M108.7 123.9h0M108.2 114.7h0M104.6 130.1h0M106.8 82.9h0" stroke="#ff0000" stroke-opacity="0.44" stroke-width="2.5" stroke-linecap="round" fill="none"/>
<path d="M105.9 130.8h0M104.8 110.6h0M104.0 131.7h0M107.4 115.5h0M107.4 125.8h0M106.7 113.7h0M104.8 138.8h0M108.3 109.3h0M110.7 111.8h0M105.9 113.5h0M103.7 119.0h0M106.2 131.4h0M108.3 114.0h0M104.4 113.2h0M108.3 101.7h0M109.3 101.3h0M104.6 141.4h0M107.7 132.9h0M108.2 112.7h0M105.1 107.6h0M106.2 118.7h0M110.5 106.7h0M109.1 140.2h0M106.9 92.3h0M108.9 126.2h0M107.2 147.2h0M105.3 91.4h0M109.7 135.7h0M108.1 143.0h0M107.1 119.6h0M109.1 107.7h0M105.1 103.5h0M109.3 101.2h0M105.1 123.0h0M110.1 100.4h0M105.9 122.6h0M109.4 124.1h0M104.4 135.1h0" stroke="#ff0000" stroke-opacity="0.44" stroke-width="2.5" stroke-linecap="round" fill="none"/>
<path d="M115.4 141.9h0M118.1 127.6h0M121.2 135.4h0M122.0 148.7h0M116.1 145.6h0M117.4 83.4h0M115.5 143.7h0M114.9 122.3h0M121.1 97.8h0M115.7 139.0h0M115.5 132.0h0M119.7 113.0h0M116.9 139.4h0M120.4 114.0h0M115.7 106.4h0M116.9 144.2h0M120.6 116.4h0" stroke="#ff0000" stroke-opacity="0.44" stroke-width="2.5" stroke-linecap="round" fill="none"/>
<path d="M118.0 124.9h0M121.3 69.8h0M121.0 144.9h0M121.5 105.1h0M119.1 163.0h0M121.0 132.4h0M119.7 123.5h0M118.2 137.4h0M115.4 149.8h0M119.5 117.7h0M114.9 73.0h0M121.6 120.8h0M116.9 153.3h0M115.7 146.5h0M117.5 140.2h0M116.8 111.9h0M117.8 127.4h0" stroke="#ff0000" stroke-opacity="0.44" stroke-width="2.5" stroke-linecap="round" fill="none"/>
<path d="M114.8 99.2h0M122.1 130.2h0M116.2 161.4h0M118.2 146.2h0M117.5 152.2h0M120.1 136.0h0M118.3 79.6h0M116.4 109.9h0M118.8 156.5h0M120.0 90.8h0M116.7 123.9h0M116.5 93.1h0M117.3 143.4h0M116.9 150.4h0M120.7 61.0h0M116.4 135.1h0" stroke="#ff0000" stroke-opacity="0.44" stroke-width="2.5" stroke-linecap="round" fill="none"/>
<path d="M120.6 134.0h0M119.1 104.3h0M118.0 102.2h0M115.8 151.5h0M121.0 111.0h0M122.1 116.0h0M121.3 123.1h0M120.6 141.7h0M116.0 129.8h0M116.1 131.2h0M115.1 118.6h0M118.2 115.3h0M120.9 112.2h0M116.7 129.0h0M119.6 137.6h0M118.3 101.6h0" stroke="#ff0000" stroke-opacity="0.44" stroke-width="2.5" stroke-linecap="round" fill="none"/>
<path d="M117.4 133.2h0M117.5 125.9h0M121.7 147.3h0M121.3 126.7h0M117.3 119.8h0M115.4 108.7h0M118.1 96.1h0M120.7 95.1h0M122.0 118.2h0M119.0 88.6h0M117.9 142.7h0M119.8 121.5h0M117.3 106.9h0M116.3 85.4h0M122.1 155.7h0M115.5 148.3h0" stroke="#ff0000" stroke-opacity="0.44" stroke-width="2.5" stroke-linecap="round" fill="none"/>
<path d="M131.6 142.5h0M129.7 120.3h0M133.3 150.6h0M127.3 132.4h0M126.5 130.3h0M125.9 146.7h0M130.7 111.6h0M133.1 103.9h0M128.9 134.2h0M128.8 143.1h0M133.5 127.9h0M132.3 131.1h0M131.0 115.9h0M129.7 128.5h0M128.1 123.2h0M130.1 152.0h0M128.0 126.4h0M132.8 142.2h0M133.3 91.8h0M131.8 160.1h0M127.3 132.1h0M129.4 106.7h0M133.4 100.6h0M130.1 148.9h0M127.3 140.1h0M127.7 131.7h0M133.1 104.8h0M127.3 119.8h0M133.0 114.3h0M126.1 82.0h0M128.8 123.3h0M130.5 140.4h0M132.6 137.2h0M126.6 132.6h0M128.7 132.8h0M133.3 135.8h0M127.2 127.5h0M131.0 117.7h0M126.4 126.4h0M131.7 121.6h0M128.8 133.1h0M127.6 132.9h0M131.7 121.4h0M131.5 116.3h0M129.7 138.6h0M128.8 129.7h0M127.2 115.0h0M126.5 107.2h0M132.6 162.6h0M131.9 132.1h0M128.2 161.4h0M129.0 120.3h0M130.7 112.1h0M128.6 128.4h0M131.7 119.5h0M130.0 103.0h0M129.4 116.5h0M133.4 114.6h0M127.3 127.6h0M130.5 102.5h0M130.8 123.3h0M132.7 132.2h0M132.0 57.7h0M128.9 139.0h0M133.0 138.3h0M131.3 156.0h0M126.9 118.0h0M126.7 137.6h0M130.8 114.7h0M127.4 131.8h0M126.6 117.6h0M129.3 107.7h0M126.0 144.3h0M133.2 125.7h0M129.8 132.5h0M127.8 123.1h0M129.4 122.4h0M132.3 88.8h0M126.0 128.4h0M127.7 95.0h0M127.5 100.8h0M133.0 137.0h0M132.1 116.6h0M130.2 143.9h0M127.5 135.7h0M127.2 137.9h0M132.9 139.6h0M133.2 150.2h0M127.4 144.6h0M127.2 130.9h0M126.4 121.3h0M127.7 107.7h0M132.9 126.1h0M130.4 100.3h0M128.9 129.6h0M129.5 121.7h0M130.7 129.8h0M132.9 127.4h0M130.8 107.4h0M129.0 111.1h0M130.3 138.1h0M131.9 130.7h0M127.1 130.4h0M130.5 129.3h0M128.1 126.9h0M131.4 128.5h0M131.9 115.2h0M131.5 126.2h0M130.3 134.0h0M133.3 140.7h0M129.5 143.8h0M132.6 134.6h0M132.5 140.3h0" stroke="#ff0000" stroke-opacity="0.44" stroke-width="2.5" stroke-linecap="round" fill="none"/>
<path d="M128.0 116.9h0M126.4 136.7h0M128.7 105.9h0M131.2 118.5h0M132.6 149.6h0M127.2 122.7h0M128.7 124.8h0M126.6 128.8h0M131.4 114.8h0M129.5 111.4h0M130.4 111.2h0M131.3 138.2h0M127.7 108.8h0M131.4 115.8h0M132.6 133.0h0M126.2 124.2h0M129.4 77.5h0M133.3 145.3h0M133.2 121.0h0M132.8 147.0h0M129.7 130.7h0M127.4 114.0h0M127.2 124.2h0M130.6 147.1h0M128.6 144.0h0M126.4 165.8h0M128.9 119.9h0M128.8 124.8h0M133.2 163.2h0M130.0 127.3h0M133.0 133.4h0M129.0 135.1h0M128.8 137.1h0M130.2 153.8h0M126.5 111.8h0M127.5 148.6h0M128.0 103.6h0M126.4 109.6h0M131.8 117.0h0M132.9 109.0h0M133.1 113.8h0M131.0 135.3h0M132.5 112.2h0M132.8 157.1h0M128.6 117.3h0M129.3 131.8h0M127.5 100.1h0M128.9 132.3h0M126.7 125.8h0M132.1 131.0h0M128.4 137.3h0M129.7 127.7h0M127.2 131.2h0M130.1 107.3h0M130.2 146.1h0M132.8 102.4h0M131.7 128.6h0M131.5 133.6h0M133.1 105.6h0M131.4 124.6h0M127.5 120.8h0M129.5 136.5h0M133.1 97.3h0M130.9 142.0h0M126.2 99.1h0M132.5 108.5h0M126.7 141.4h0M130.5 117.8h0M127.7 121.0h0M126.8 125.9h0M130.5 145.0h0M131.7 155.1h0M128.0 123.7h0M128.4 110.1h0M130.7 132.8h0M126.2 117.4h0M132.6 138.9h0M129.5 103.2h0M129.3 164.1h0M133.1 105.3h0M130.9 111.7h0M133.0 128.2h0M131.8 123.0h0M127.1 105.6h0M133.1 145.7h0M131.6 109.2h0M132.6 102.9h0M130.4 127.4h0M133.0 117.9h0M126.6 126.8h0M130.6 94.2h0M133.1 140.9h0M126.6 109.9h0M129.3 118.8h0M129.6 122.7h0M129.2 135.2h0M126.9 99.2h0M130.0 141.3h0M129.2 134.9h0M128.3 129.2h0M126.0 134.9h0M126.9 123.5h0M128.4 134.7h0M130.1 141.7h0M126.1 132.1h0M130.2 153.1h0M132.6 131.2h0M127.9 118.0h0M128.1 123.9h0M126.7 105.0h0M132.7 150.0h0M131.3 118.6h0M131.8 113.7h0" stroke="#ff0000" stroke-opacity="0.44" stroke-width="2.5" stroke-linecap="round" fill="none"/>
<path d="M129.9 133.5h0M127.0 152.4h0M131.8 73.5h0M133.5 133.3h0M132.6 154.1h0M126.7 124.3h0M128.5 124.7h0M127.7 125.6h0M133.0 112.8h0M130.1 117.4h0M128.6 129.0h0M129.1 127.9h0M130.1 128.6h0M133.3 124.9h0M128.6 147.6h0M129.2 117.6h0M127.2 101.9h0M126.8 133.9h0M127.4 116.5h0M130.1 106.4h0M126.0 87.7h0M132.6 141.2h0M128.7 121.9h0M128.8 114.8h0M133.1 139.7h0M128.0 110.9h0M131.0 129.8h0M127.5 132.6h0M131.1 120.0h0M126.0 119.0h0M126.6 127.3h0M132.0 129.5h0M127.5 145.9h0M131.5 124.6h0M131.3 127.8h0M131.2 119.4h0M129.2 149.8h0M125.9 127.8h0M131.8 107.9h0M129.2 119.1h0M126.1 101.7h0M131.9 154.8h0M127.7 114.5h0M126.1 119.5h0M130.2 151.1h0M126.5 140.0h0M129.8 125.5h0M132.8 110.6h0M125.9 122.3h0M127.2 142.7h0M129.8 120.6h0M133.5 121.8h0M126.9 91.0h0M128.0 112.5h0M130.1 137.8h0M128.0 109.7h0M131.6 98.8h0M131.8 131.0h0M127.5 124.1h0M128.2 101.3h0M132.1 145.4h0M127.9 132.7h0M126.9 134.3h0M126.7 108.4h0M129.0 135.7h0M128.3 118.1h0M131.7 98.4h0M131.2 96.4h0M132.3 97.6h0M129.0 120.5h0M131.3 115.4h0M129.4 124.4h0M129.5 129.1h0M133.3 136.3h0M129.2 131.3h0M130.8 130.8h0M126.4 119.7h0M127.9 129.0h0M126.2 66.8h0M132.3 118.1h0M128.3 131.6h0M131.5 115.3h0M127.5 154.3h0M129.7 113.1h0M132.3 129.9h0M132.5 148.0h0M128.4 121.2h0M130.0 111.0h0M129.4 165.2h0M130.6 139.2h0M129.1 126.0h0M126.1 96.2h0M129.8 109.5h0M125.9 129.9h0M127.7 168.2h0M127.6 143.3h0M129.9 128.7h0M129.0 109.0h0M131.6 129.1h0M128.0 113.3h0M126.0 97.9h0M128.9 130.9h0M132.0 125.2h0M128.2 86.3h0M130.4 92.4h0M128.6 152.7h0M127.6 117.2h0M128.7 122.2h0M127.6 106.0h0M127.9 143.0h0M130.0 114.1h0M129.6 120.4h0" stroke="#ff0000" stroke-opacity="0.44" stroke-width="2.5" stroke-linecap="round" fill="none"/>
<path d="M131.7 118.2h0M126.6 115.0h0M131.5 133.3h0M126.4 122.1h0M128.1 125.3h0M128.7 137.9h0M130.4 123.4h0M132.1 139.5h0M129.1 121.5h0M131.6 133.7h0M131.3 147.7h0M126.7 89.5h0M129.7 113.5h0M129.4 148.3h0M132.5 88.3h0M126.4 125.1h0M126.7 123.7h0M133.1 123.5h0M131.3 108.6h0M131.6 133.2h0M130.4 122.9h0M127.9 122.1h0M128.1 118.9h0M133.3 126.6h0M130.7 118.3h0M130.0 94.6h0M128.5 127.0h0M129.3 122.5h0M132.9 109.8h0M129.5 130.4h0M126.5 130.6h0M128.2 139.3h0M131.1 119.7h0M130.8 120.9h0M132.1 136.7h0M126.4 102.8h0M129.5 140.6h0M131.6 108.1h0M129.5 93.3h0M126.8 121.7h0M130.5 113.0h0M129.4 110.2h0M132.4 130.0h0M130.9 142.4h0M131.0 128.2h0M131.3 131.9h0M128.2 136.9h0M132.6 132.0h0M126.0 119.2h0M126.8 130.5h0M128.8 125.8h0M130.3 135.9h0M128.7 127.2h0M131.2 125.6h0M130.3 116.9h0M132.6 137.6h0M127.7 121.1h0M132.6 116.8h0M131.8 118.6h0M131.6 134.1h0M132.1 150.9h0M131.6 128.9h0M127.9 98.2h0M131.6 110.7h0M128.2 112.7h0M126.9 131.6h0M127.5 134.4h0M130.5 157.6h0M132.5 122.9h0M131.8 120.4h0M131.9 130.1h0M127.4 126.7h0M132.0 132.4h0M129.6 133.6h0M133.3 124.0h0M130.0 135.4h0M129.6 141.0h0M132.7 116.0h0M132.9 101.7h0M128.0 151.9h0M129.1 153.3h0M133.0 115.5h0M127.5 129.6h0M132.5 116.3h0M130.0 117.1h0M126.9 126.5h0M133.2 141.8h0M128.4 113.5h0M127.7 121.5h0M132.3 128.1h0M132.2 128.0h0M133.5 144.8h0M128.3 158.4h0M132.3 116.0h0M128.2 122.0h0M126.7 135.3h0M131.9 101.1h0M127.3 126.3h0M128.2 111.4h0M126.9 90.4h0M128.7 120.2h0M128.9 131.5h0M131.9 122.5h0M129.8 120.0h0M131.6 110.3h0M128.8 166.3h0M126.1 145.1h0M130.9 112.8h0M130.3 149.1h0M132.5 125.5h0M133.3 144.2h0M128.5 116.1h0" stroke="#ff0000" stroke-opacity="0.44" stroke-width="2.5" stroke-linecap="round" fill="none"/>
<path d="M127.2 125.1h0M131.9 108.2h0M129.1 139.8h0M126.0 133.1h0M132.1 126.7h0M126.1 124.0h0M133.3 133.8h0M128.5 96.9h0M131.5 130.2h0M128.4 135.5h0M132.0 141.5h0M130.3 115.5h0M125.9 127.6h0M129.0 128.3h0M128.5 134.0h0M128.0 143.2h0M127.0 151.7h0M129.3 106.3h0M130.0 158.7h0M128.0 121.3h0M131.7 142.9h0M130.7 104.7h0M132.3 112.0h0M128.2 99.7h0M128.7 127.0h0M132.4 149.2h0M128.2 155.6h0M129.6 138.8h0M129.4 118.7h0M132.8 134.5h0M126.7 142.0h0M131.0 112.4h0M131.1 106.8h0M126.6 138.5h0M128.2 112.3h0M128.7 115.7h0M131.1 129.5h0M131.0 156.8h0M128.3 156.6h0M132.8 126.8h0M128.2 139.3h0M130.1 125.4h0M130.3 159.6h0M126.2 119.2h0M130.2 144.5h0M126.7 131.5h0M126.0 136.4h0M127.6 125.0h0M128.8 138.6h0M127.0 136.6h0M131.9 114.0h0M126.0 147.4h0M132.1 109.3h0M128.4 122.3h0M126.0 125.0h0M128.4 123.1h0M129.3 123.8h0M129.0 135.0h0M131.1 169.8h0M126.9 110.5h0M130.7 129.4h0M126.1 105.4h0M133.3 130.1h0M126.3 95.5h0M126.7 114.4h0M126.0 95.7h0M128.8 118.4h0M128.6 113.7h0M128.2 113.2h0M129.1 119.0h0M127.7 122.6h0M126.3 140.6h0M127.0 104.5h0M126.1 126.1h0M129.6 120.8h0M128.9 143.5h0M127.7 120.7h0M126.2 134.4h0M130.4 148.1h0M126.0 151.4h0M126.1 129.3h0M126.9 123.7h0M131.4 136.1h0M129.1 136.2h0M130.7 146.2h0M130.8 146.8h0M131.1 133.8h0M126.2 134.5h0M130.2 104.1h0M129.9 134.8h0M126.2 107.0h0M131.9 167.4h0M127.7 99.5h0M133.0 119.9h0M128.6 92.8h0M127.2 130.3h0M126.4 127.2h0M126.1 137.4h0M127.5 160.7h0M126.2 127.1h0M129.5 128.8h0M131.4 124.5h0M127.4 106.5h0M131.4 126.5h0M130.4 103.6h0M131.5 116.7h0M126.8 116.2h0M129.5 146.4h0M126.5 104.3h0M129.1 126.3h0M131.8 131.4h0M128.8 119.4h0" stroke="#ff0000" stroke-opacity="0.44" stroke-width="2.5" stroke-linecap="round" fill="none"/>
<path d="M141.2 75.8h0M142.5 116.3h0M138.3 87.0h0M139.8 103.5h0M143.9 115.3h0M141.9 106.9h0M141.7 119.7h0M138.9 97.9h0M139.4 113.0h0M142.8 103.8h0M140.2 103.2h0M141.8 105.0h0M140.6 96.4h0M139.9 110.8h0M142.2 111.2h0M140.5 112.1h0M139.6 93.2h0M138.4 132.1h0M143.3 101.5h0M141.1 110.2h0M142.8 108.7h0M143.7 133.4h0M140.7 102.2h0M141.0 108.7h0M137.4 103.6h0M137.5 92.2h0M139.2 123.2h0M139.5 99.1h0M141.1 125.8h0M141.0 109.7h0M143.0 119.4h0M138.5 51.8h0M144.0 99.3h0M141.5 109.0h0M143.8 124.8h0M137.9 90.7h0M137.6 94.5h0M141.9 91.0h0M144.0 98.9h0M138.9 102.1h0M144.7 85.2h0M143.6 107.8h0M142.4 106.8h0M144.0 105.1h0M139.7 111.0h0M138.3 90.5h0M141.2 111.5h0M143.4 104.9h0M137.6 105.8h0M139.9 102.6h0M138.5 73.5h0M144.7 111.1h0M140.4 91.4h0M139.1 127.2h0M138.6 103.3h0M139.6 105.4h0M141.6 113.2h0M138.2 96.0h0M137.6 122.4h0M141.4 121.2h0M144.4 106.3h0" stroke="#ff0000" stroke-opacity="0.44" stroke-width="2.5" stroke-linecap="round" fill="none"/>
<path d="M139.9 100.2h0M139.0 85.8h0M138.5 129.4h0M141.6 116.1h0M142.2 139.6h0M142.9 98.6h0M143.4 120.4h0M138.7 116.6h0M140.3 126.9h0M137.7 107.6h0M143.4 75.4h0M139.6 113.6h0M141.5 92.6h0M140.2 155.8h0M138.9 82.4h0M144.5 103.2h0M140.9 126.1h0M141.3 100.7h0M137.4 99.7h0M137.6 118.9h0M139.2 114.7h0M139.0 115.8h0M139.7 114.5h0M137.7 104.3h0M141.7 97.5h0M143.8 128.4h0M144.3 93.9h0M144.4 106.5h0M144.1 130.3h0M137.7 66.7h0M144.5 114.6h0M141.2 112.5h0M142.7 111.4h0M140.9 78.8h0M138.8 89.5h0M140.8 105.8h0M139.4 95.3h0M138.0 121.1h0M141.9 96.2h0M142.0 116.0h0M141.9 106.3h0M144.7 77.6h0M144.8 117.8h0M137.9 109.2h0M142.7 91.9h0M144.3 98.3h0M141.5 111.8h0M138.8 107.5h0M138.7 78.0h0M142.2 102.9h0M137.7 96.9h0M138.9 104.1h0M141.3 93.0h0M144.3 107.2h0M137.6 81.2h0M138.9 118.8h0M143.7 103.4h0M139.4 103.0h0M141.6 108.3h0M140.8 113.4h0M138.0 115.8h0" stroke="#ff0000" stroke-opacity="0.44" stroke-width="2.5" stroke-linecap="round" fill="none"/>
<path d="M143.0 93.4h0M143.0 120.9h0M141.2 80.5h0M143.7 104.7h0M143.6 99.8h0M142.5 83.4h0M144.0 118.2h0M143.4 110.2h0M144.8 115.2h0M138.8 105.3h0M144.7 105.5h0M141.5 101.9h0M141.6 97.7h0M141.2 105.6h0M144.1 117.5h0M139.2 113.9h0M144.5 88.6h0M142.6 112.3h0M139.1 119.9h0M138.6 122.6h0M142.2 122.1h0M143.1 99.5h0M143.6 87.6h0M139.5 90.3h0M141.0 117.1h0M142.9 123.4h0M137.9 100.4h0M144.0 95.6h0M143.8 132.8h0M140.1 105.2h0M139.3 91.6h0M141.6 105.7h0M138.3 100.0h0M141.7 118.6h0M140.0 102.7h0M144.8 80.8h0M144.5 115.5h0M144.2 106.7h0M137.9 118.0h0M143.7 106.0h0M138.4 119.1h0M141.3 110.6h0M144.8 85.6h0M140.4 100.1h0M138.4 115.6h0M139.1 106.2h0M144.6 118.4h0M141.9 110.4h0M142.8 113.9h0M142.1 101.1h0M139.6 97.2h0M140.1 112.0h0M144.3 103.9h0M144.8 102.8h0M140.3 96.5h0M139.8 99.0h0M141.1 97.0h0M142.7 110.5h0M144.5 101.1h0M144.4 89.5h0M144.3 109.9h0" stroke="#ff0000" stroke-opacity="0.44" stroke-width="2.5" stroke-linecap="round" fill="none"/>
<path d="M138.9 131.2h0M141.1 82.0h0M140.5 127.6h0M143.1 119.6h0M142.4 109.0h0M140.5 107.7h0M141.8 83.0h0M137.5 87.3h0M137.8 89.8h0M139.4 110.8h0M141.5 128.1h0M139.6 95.1h0M141.9 100.8h0M137.6 109.2h0M142.3 107.4h0M141.3 89.0h0M137.4 110.0h0M141.2 114.3h0M142.8 169.8h0M139.7 107.1h0M142.1 108.1h0M139.0 124.3h0M140.1 106.0h0M138.9 101.7h0M142.5 111.6h0M143.6 106.6h0M141.4 102.4h0M141.1 98.8h0M137.7 88.4h0M141.6 76.6h0M141.2 122.6h0M143.6 102.5h0M143.0 68.3h0M140.4 115.0h0M140.1 108.0h0M141.5 121.7h0M139.6 101.4h0M140.6 98.5h0M140.3 104.6h0M142.3 104.3h0M143.7 119.2h0M137.7 113.6h0M142.3 92.3h0M140.5 112.9h0M142.4 104.4h0M137.3 95.8h0M139.5 99.6h0M139.6 126.0h0M137.9 124.5h0M142.6 120.7h0M137.6 86.5h0M137.5 117.4h0M139.3 118.1h0M140.0 101.3h0M139.6 104.5h0M142.6 102.0h0M138.0 121.8h0M142.5 104.0h0M140.7 109.8h0M137.8 84.1h0M141.5 114.3h0" stroke="#ff0000" stroke-opacity="0.44" stroke-width="2.5" stroke-linecap="round" fill="none"/>
<path d="M144.6 120.6h0M139.4 129.2h0M144.2 108.6h0M142.2 107.2h0M138.8 135.9h0M137.4 120.2h0M141.0 126.4h0M140.6 100.7h0M142.8 130.5h0M138.6 79.6h0M140.7 86.5h0M141.0 125.0h0M140.4 117.2h0M142.1 135.7h0M143.7 116.8h0M141.3 88.0h0M142.9 124.1h0M143.6 72.9h0M142.6 116.5h0M141.2 121.4h0M140.1 72.1h0M143.0 109.6h0M143.2 125.3h0M138.3 103.8h0M140.0 94.1h0M140.5 108.4h0M138.1 93.7h0M137.9 108.3h0M139.2 94.9h0M139.3 114.1h0M142.7 101.5h0M141.7 100.9h0M141.0 98.1h0M140.5 83.8h0M137.3 112.6h0M139.1 112.2h0M143.7 123.5h0M137.5 84.7h0M140.5 128.9h0M138.7 112.8h0M144.4 109.4h0M144.2 101.8h0M138.0 99.3h0M138.5 116.7h0M138.8 115.0h0M141.9 120.0h0M141.5 100.4h0M144.5 123.7h0M142.2 104.8h0M144.3 69.0h0M140.1 134.2h0M142.7 99.9h0M142.0 59.4h0M144.4 111.8h0M138.8 102.4h0M139.0 113.1h0M139.1 94.6h0M140.7 117.0h0M141.4 122.9h0M140.5 117.7h0" stroke="#ff0000" stroke-opacity="0.44" stroke-width="2.5" stroke-linecap="round" fill="none"/>
<path d="M155.4 108.2h0M149.7 117.1h0M155.9 121.8h0M155.9 114.0h0M149.9 125.2h0M151.2 114.8h0M155.4 128.6h0M150.5 135.8h0" stroke="#ff0000" stroke-opacity="0.44" stroke-width="2.5" stroke-linecap="round" fill="none"/>
<path d="M152.7 139.4h0M155.0 123.5h0M153.2 127.4h0M152.7 126.4h0M155.0 120.4h0M152.9 117.5h0M151.6 107.8h0" stroke="#ff0000" stroke-opacity="0.44" stroke-width="2.5" stroke-linecap="round" fill="none"/>
<path d="M153.1 118.0h0M150.2 133.3h0M155.8 124.0h0M153.2 125.9h0M155.4 131.0h0M152.0 116.4h0M151.2 111.1h0" stroke="#ff0000" stroke-opacity="0.44" stroke-width="2.5" stroke-linecap="round" fill="none"/>
<path d="M155.7 122.8h0M155.1 115.9h0M150.8 119.7h0M150.1 110.0h0M150.0 115.7h0M153.3 112.7h0M150.3 118.6h0" stroke="#ff0000" stroke-opacity="0.44" stroke-width="2.5" stroke-linecap="round" fill="none"/>
<path d="M154.1 129.2h0M154.0 119.2h0M148.8 132.0h0M152.5 119.0h0M151.6 98.8h0M151.0 105.4h0M153.7 130.3h0" stroke="#ff0000" stroke-opacity="0.44" stroke-width="2.5" stroke-linecap="round" fill="none"/>
<path d="M165.7 165.8h0M162.8 168.8h0" stroke="#0000ff" stroke-opacity="0.44" stroke-width="2.5" stroke-linecap="round" fill="none"/>
<path d="M163.8 176.4h0M167.5 174.3h0" stroke="#0000ff" stroke-opacity="0.44" stroke-width="2.5" stroke-linecap="round" fill="none"/>
<path d="M166.7 172.4h0M164.3 177.0h0" stroke="#0000ff" stroke-opacity="0.44" stroke-width="2.5" stroke-linecap="round" fill="none"/>
<path d="M167.5 172.1h0M166.0 169.2h0" stroke="#0000ff" stroke-opacity="0.44" stroke-width="2.5" stroke-linecap="round" fill="none"/>
<path d="M166.8 170.9h0" stroke="#0000ff" stroke-opacity="0.44" stroke-width="2.5" stroke-linecap="round" fill="none"/>
<path d="M171.7 120.8h0M177.5 130.1h0M173.2 97.3h0M177.3 124.3h0M173.7 129.8h0M174.2 132.2h0M175.8 136.1h0M174.8 103.4h0M173.1 123.0h0M174.4 113.8h0M172.9 131.7h0M172.0 113.0h0M175.8 113.9h0M173.8 108.4h0M171.6 109.6h0M173.8 123.3h0M173.2 114.2h0M176.5 106.4h0M175.4 111.6h0M178.9 119.6h0M174.6 135.7h0M172.9 110.1h0M172.2 136.2h0M176.0 116.0h0M175.4 115.9h0M176.6 122.2h0M177.5 145.8h0M174.0 113.2h0M173.2 138.1h0M177.3 110.2h0M177.6 140.7h0M176.0 130.3h0M172.0 111.0h0M174.0 109.1h0M177.8 124.4h0M172.8 122.0h0M177.7 130.4h0M177.7 133.4h0M174.0 132.4h0M175.2 129.0h0M178.1 131.1h0M175.8 116.9h0M175.6 115.8h0M172.6 139.3h0M171.5 133.0h0M177.3 115.0h0M173.2 138.1h0M178.9 112.0h0M178.1 125.8h0M176.0 102.1h0M175.4 128.7h0M172.3 126.4h0M173.7 120.5h0M174.9 105.3h0M177.5 132.2h0M174.6 137.6h0M175.0 116.6h0M175.5 96.1h0M173.1 125.4h0M174.4 126.7h0M173.5 109.9h0M173.6 135.2h0M171.5 109.8h0M171.4 129.6h0M178.6 106.6h0M175.4 109.4h0M172.6 144.7h0M173.7 114.1h0M176.9 123.6h0M174.2 118.8h0M171.6 111.5h0M174.4 137.7h0M178.8 134.6h0M174.7 114.5h0M172.7 122.9h0M174.0 115.3h0M178.4 108.6h0M171.4 143.5h0M175.2 120.7h0M172.1 122.8h0M177.9 114.6h0M176.7 119.5h0M175.9 122.0h0M176.7 111.8h0M174.5 103.0h0M173.3 117.1h0M178.4 137.9h0M177.8 135.0h0M173.1 126.9h0M171.6 107.7h0M173.9 120.4h0M175.0 134.7h0" stroke="#ff0000" stroke-opacity="0.44" stroke-width="2.5" stroke-linecap="round" fill="none"/>
<path d="M174.8 128.4h0M178.3 118.0h0M171.9 121.8h0M175.5 110.4h0M176.9 124.2h0M178.7 122.4h0M176.7 119.0h0M176.1 130.6h0M176.8 173.3h0M172.7 121.6h0M172.4 124.3h0M176.0 131.5h0M176.6 121.5h0M174.3 123.4h0M177.7 121.7h0M178.6 134.2h0M174.1 127.2h0M178.3 132.5h0M174.1 125.9h0M174.7 119.8h0M172.1 138.6h0M173.2 126.4h0M175.6 139.7h0M174.2 81.4h0M177.3 119.9h0M177.7 123.4h0M173.7 113.3h0M171.6 130.0h0M175.6 140.5h0M174.7 104.4h0M178.4 115.4h0M176.3 97.6h0M175.3 124.7h0M178.8 133.1h0M175.1 132.1h0M176.3 126.0h0M178.4 119.8h0M177.8 144.0h0M177.3 127.8h0M174.8 128.9h0M178.0 103.7h0M178.4 119.3h0M174.6 116.7h0M178.3 99.3h0M174.7 112.8h0M177.3 112.9h0M173.7 129.2h0M177.4 124.6h0M176.3 127.3h0M178.1 112.5h0M174.2 106.0h0M172.4 145.0h0M178.0 118.9h0M177.6 118.7h0M177.6 107.1h0M176.5 119.0h0M178.3 120.7h0M177.4 122.8h0M172.5 123.7h0M176.3 123.2h0M175.1 104.9h0M174.6 138.9h0M174.2 125.9h0M176.9 134.8h0M178.5 120.8h0M176.8 118.3h0M177.5 116.7h0M174.9 133.3h0M173.7 122.4h0M175.2 112.2h0M174.7 128.5h0M173.0 128.6h0M174.8 125.1h0M176.5 156.2h0M174.4 120.1h0M171.4 119.4h0M177.3 126.5h0M174.9 124.0h0M176.8 91.7h0M172.7 107.4h0M177.5 109.9h0M177.8 133.9h0M173.9 136.8h0M171.8 106.6h0M175.2 120.1h0M173.7 113.6h0M178.8 122.7h0M171.4 127.6h0M172.0 125.2h0M176.9 121.5h0M173.4 93.3h0M173.8 130.5h0" stroke="#ff0000" stroke-opacity="0.44" stroke-width="2.5" stroke-linecap="round" fill="none"/>
<path d="M171.9 94.3h0M172.3 130.1h0M174.6 117.8h0M178.8 142.8h0M177.7 125.0h0M175.2 123.1h0M178.4 135.3h0M172.3 114.7h0M171.7 126.8h0M171.4 125.0h0M172.4 120.3h0M172.3 123.0h0M172.8 114.9h0M174.6 107.8h0M175.4 122.3h0M177.9 110.9h0M175.2 141.1h0M176.6 130.7h0M172.3 129.3h0M172.0 139.4h0M175.9 130.8h0M177.1 114.3h0M173.6 118.1h0M178.3 165.5h0M178.6 135.5h0M177.5 131.5h0M178.2 105.6h0M174.5 97.9h0M175.8 125.7h0M178.8 109.3h0M173.3 115.1h0M178.8 127.9h0M173.9 104.6h0M178.8 148.0h0M171.6 102.0h0M177.2 110.4h0M172.7 118.0h0M173.4 126.6h0M172.2 133.7h0M173.1 136.5h0M177.0 112.9h0M177.3 125.4h0M174.7 114.0h0M172.2 101.1h0M177.6 113.5h0M178.5 108.1h0M177.0 138.3h0M173.8 119.2h0M176.3 119.7h0M172.8 139.8h0M174.3 132.0h0M176.5 127.0h0M178.5 130.9h0M178.7 131.2h0M174.7 129.4h0M176.1 121.7h0M175.6 137.4h0M173.6 106.9h0M174.6 120.6h0M172.8 105.8h0M178.5 131.9h0M174.5 140.3h0M173.7 117.3h0M175.9 128.0h0M178.2 128.3h0M176.3 118.7h0M171.8 111.4h0M178.5 101.5h0M176.1 137.1h0M172.8 121.1h0M175.1 117.0h0M173.7 125.3h0M171.8 108.7h0M172.9 116.2h0M173.8 123.9h0M175.7 139.1h0M172.8 113.4h0M172.1 121.6h0M174.0 129.5h0M173.1 128.9h0M178.7 119.5h0M178.1 147.3h0M174.5 117.4h0M174.0 142.2h0M172.8 134.0h0M174.4 124.6h0M177.5 136.6h0M172.2 120.0h0M177.2 129.8h0M176.9 101.5h0M172.5 137.3h0" stroke="#ff0000" stroke-opacity="0.44" stroke-width="2.5" stroke-linecap="round" fill="none"/>
<path d="M177.4 142.6h0M175.0 127.9h0M172.5 132.9h0M177.5 122.2h0M178.9 121.4h0M177.8 132.8h0M176.8 99.7h0M173.8 96.6h0M173.1 135.1h0M178.5 111.2h0M173.8 120.9h0M176.6 124.5h0M178.0 128.8h0M178.9 123.7h0M177.5 102.3h0M176.0 99.6h0M174.7 103.9h0M177.4 133.8h0M173.5 116.3h0M175.5 133.2h0M173.5 119.1h0M177.8 151.1h0M172.3 106.8h0M175.3 115.6h0M172.6 117.1h0M171.7 126.1h0M175.3 126.1h0M176.1 138.7h0M176.0 114.8h0M172.5 124.8h0M174.6 116.4h0M178.8 124.9h0M172.7 113.6h0M178.3 108.4h0M176.7 125.7h0M173.1 115.7h0M175.1 127.3h0M175.3 120.9h0M173.0 120.0h0M173.9 105.1h0M175.4 92.7h0M177.7 117.6h0M178.2 128.2h0M174.4 117.7h0M172.9 129.6h0M177.6 111.7h0M178.1 131.4h0M177.0 132.5h0M175.7 126.2h0M176.8 122.7h0M173.5 104.3h0M177.5 142.1h0M176.4 148.6h0M175.4 94.8h0M171.7 134.1h0M172.1 123.5h0M177.6 113.8h0M174.3 128.3h0M173.7 133.5h0M177.1 95.4h0M171.8 118.5h0M171.4 121.1h0M174.5 123.8h0M171.8 124.0h0M172.8 126.6h0M177.2 128.1h0M173.6 118.9h0M177.7 106.3h0M177.8 127.6h0M178.4 130.0h0M171.5 115.4h0M172.5 131.7h0M177.8 144.0h0M177.4 118.4h0M172.3 112.1h0M172.8 146.4h0M171.8 114.8h0M175.8 115.6h0M174.0 117.8h0M174.5 127.5h0M177.8 118.3h0M177.2 115.2h0M176.3 131.8h0M177.3 117.5h0M176.6 100.7h0M177.1 114.4h0M176.1 127.7h0M176.1 131.1h0M177.8 117.2h0M174.0 125.1h0M178.6 127.5h0" stroke="#ff0000" stroke-opacity="0.44" stroke-width="2.5" stroke-linecap="round" fill="none"/>
<path d="M171.6 132.7h0M171.9 135.4h0M175.1 120.5h0M178.3 98.5h0M178.0 107.6h0M171.8 115.5h0M173.9 125.6h0M178.9 108.2h0M172.0 125.5h0M174.1 127.1h0M174.9 143.3h0M173.0 90.4h0M176.2 133.6h0M177.3 118.4h0M172.5 134.3h0M175.2 116.5h0M175.1 114.4h0M172.3 131.3h0M177.9 111.1h0M172.5 124.5h0M173.6 124.1h0M173.0 120.2h0M177.0 118.2h0M176.0 123.2h0M175.4 115.8h0M172.4 112.4h0M175.3 137.0h0M172.7 119.3h0M172.4 130.5h0M171.7 121.0h0M176.1 104.9h0M171.4 141.8h0M175.3 141.3h0M174.3 127.0h0M177.3 136.4h0M174.1 128.6h0M173.8 140.9h0M174.3 110.7h0M176.7 135.8h0M175.2 121.3h0M176.4 122.6h0M177.1 107.4h0M177.8 122.5h0M171.7 118.1h0M172.5 140.0h0M173.3 88.9h0M174.3 102.7h0M174.1 100.9h0M174.2 129.4h0M176.5 110.5h0M178.4 121.9h0M171.8 117.3h0M174.9 116.9h0M176.5 117.9h0M178.6 134.4h0M171.6 116.1h0M173.8 116.8h0M178.3 118.6h0M176.6 136.9h0M178.3 121.2h0M172.3 126.3h0M173.6 110.8h0M175.9 120.3h0M175.0 130.2h0M177.6 98.9h0M174.8 134.7h0M177.7 103.0h0M176.0 116.1h0M172.5 104.0h0M177.8 126.8h0M177.5 123.8h0M175.9 112.7h0M177.4 116.5h0M178.8 145.9h0M172.1 115.0h0M175.2 108.9h0M176.2 132.7h0M174.9 119.5h0M173.9 121.3h0M171.5 100.1h0M171.5 105.6h0M178.3 130.9h0M175.9 136.0h0M176.4 109.5h0M177.2 112.0h0M171.5 129.1h0M174.3 109.0h0M173.2 117.5h0M175.5 122.1h0M172.6 82.6h0M177.1 112.4h0" stroke="#ff0000" stroke-opacity="0.44" stroke-width="2.5" stroke-linecap="round" fill="none"/>
<path d="M188.5 131.1h0M190.0 139.0h0M183.1 159.8h0M186.4 150.5h0M186.2 153.9h0M185.3 141.0h0M189.7 137.8h0M185.2 147.6h0M186.9 146.2h0" stroke="#0000ff" stroke-opacity="0.44" stroke-width="2.5" stroke-linecap="round" fill="none"/>
<path d="M182.7 142.3h0M189.3 148.8h0M184.1 151.1h0M187.2 148.4h0M185.2 140.5h0M187.5 145.4h0M186.7 136.7h0M185.1 137.0h0" stroke="#0000ff" stroke-opacity="0.44" stroke-width="2.5" stroke-linecap="round" fill="none"/>
<path d="M184.1 143.9h0M186.8 155.2h0M184.6 157.4h0M190.1 153.3h0M184.4 144.6h0M183.6 145.8h0M184.5 146.8h0M184.0 134.3h0" stroke="#0000ff" stroke-opacity="0.44" stroke-width="2.5" stroke-linecap="round" fill="none"/>
<path d="M185.2 152.0h0M184.5 149.8h0M189.2 152.4h0M188.0 150.7h0M188.5 141.5h0M187.2 149.2h0M188.3 144.2h0M185.2 138.5h0" stroke="#0000ff" stroke-opacity="0.44" stroke-width="2.5" stroke-linecap="round" fill="none"/>
<path d="M184.5 139.3h0M183.5 143.2h0M185.0 143.2h0M184.7 135.3h0M187.0 139.8h0M188.9 142.0h0M190.2 154.4h0M188.5 146.9h0" stroke="#0000ff" stroke-opacity="0.44" stroke-width="2.5" stroke-linecap="round" fill="none"/>
<path d="M197.0 122.3h0M198.4 98.2h0M195.4 112.6h0M196.4 115.2h0M195.2 119.7h0M199.0 116.8h0M196.8 132.1h0M197.9 114.7h0M200.4 128.3h0M194.9 139.5h0" stroke="#ff0000" stroke-opacity="0.44" stroke-width="2.5" stroke-linecap="round" fill="none"/>
<path d="M197.6 124.4h0M198.1 113.5h0M197.5 119.3h0M194.4 135.6h0M201.5 129.4h0M197.0 118.1h0M197.8 143.0h0M200.0 122.7h0M199.8 118.3h0M197.4 116.1h0" stroke="#ff0000" stroke-opacity="0.44" stroke-width="2.5" stroke-linecap="round" fill="none"/>
<path d="M196.8 113.7h0M200.9 105.4h0M199.8 107.7h0M198.0 136.6h0M196.6 116.0h0M200.0 112.3h0M201.4 129.2h0M196.7 103.2h0M196.4 114.3h0M196.8 123.3h0" stroke="#ff0000" stroke-opacity="0.44" stroke-width="2.5" stroke-linecap="round" fill="none"/>
<path d="M198.8 115.6h0M197.4 110.4h0M195.8 124.6h0M197.2 117.1h0M194.5 127.0h0M195.6 116.5h0M199.0 121.1h0M199.0 109.4h0M198.0 111.5h0" stroke="#ff0000" stroke-opacity="0.44" stroke-width="2.5" stroke-linecap="round" fill="none"/>
<path d="M197.1 117.6h0M198.8 132.8h0M199.3 126.2h0M201.2 118.8h0M195.3 108.2h0M200.3 121.9h0M198.3 125.5h0M195.7 120.7h0M197.4 131.4h0" stroke="#ff0000" stroke-opacity="0.44" stroke-width="2.5" stroke-linecap="round" fill="none"/>
<path d="M206.1 112.7h0M207.9 118.3h0M207.1 114.7h0M207.2 97.7h0M205.8 119.3h0M212.2 120.0h0M206.7 141.2h0M207.0 132.4h0M207.1 109.1h0M206.2 99.5h0M212.6 121.1h0M210.8 126.1h0M210.8 123.4h0M209.2 108.3h0M208.7 122.5h0M211.0 120.6h0M209.0 97.4h0M209.7 128.2h0M208.0 112.1h0M210.6 109.8h0M208.6 136.6h0M212.2 116.5h0M209.9 105.6h0M212.9 113.8h0M208.4 121.8h0M206.7 114.2h0M211.9 140.3h0M212.8 128.9h0M209.5 122.1h0M205.8 131.9h0M208.2 146.9h0M209.5 118.9h0M208.0 105.4h0M207.6 104.3h0M207.4 127.6h0M205.8 113.8h0M207.5 138.4h0" stroke="#ff0000" stroke-opacity="0.44" stroke-width="2.5" stroke-linecap="round" fill="none"/>
<path d="M209.5 131.7h0M209.1 103.2h0M208.6 115.7h0M207.1 124.6h0M211.9 122.7h0M206.1 114.5h0M210.7 119.8h0M212.2 116.6h0M210.4 95.4h0M210.9 102.8h0M206.3 117.4h0M206.3 145.0h0M207.1 154.1h0M208.2 133.0h0M209.8 127.8h0M211.2 133.6h0M208.8 137.8h0M211.1 113.4h0M211.3 129.5h0M206.1 120.8h0M205.5 124.7h0M211.9 125.3h0M208.8 130.7h0M208.8 105.9h0M211.0 123.1h0M209.9 116.1h0M212.5 134.4h0M207.2 136.4h0M209.8 118.5h0M207.3 129.8h0M206.7 142.7h0M210.6 101.9h0M206.7 143.8h0M208.5 117.3h0M208.5 114.3h0M211.6 160.7h0M207.4 117.9h0" stroke="#ff0000" stroke-opacity="0.44" stroke-width="2.5" stroke-linecap="round" fill="none"/>
<path d="M206.7 113.0h0M208.4 140.1h0M210.8 109.6h0M207.9 119.1h0M207.8 103.5h0M206.8 122.0h0M208.1 129.1h0M210.8 135.2h0M212.8 110.3h0M209.3 130.9h0M208.4 133.1h0M211.3 126.4h0M208.6 118.2h0M207.9 110.8h0M206.5 108.4h0M212.2 128.4h0M210.0 123.0h0M206.7 120.3h0M210.6 91.3h0M205.5 124.0h0M211.9 117.6h0M208.3 139.5h0M211.9 91.4h0M206.9 132.6h0M207.7 121.6h0M212.2 106.6h0M211.6 111.3h0M212.9 138.1h0M211.0 134.8h0M208.3 124.4h0M208.4 149.4h0M206.5 125.8h0M208.3 127.1h0M209.0 153.0h0M211.4 111.8h0M212.7 101.2h0M212.6 127.4h0" stroke="#ff0000" stroke-opacity="0.44" stroke-width="2.5" stroke-linecap="round" fill="none"/>
<path d="M209.2 151.8h0M210.1 137.1h0M209.2 117.9h0M209.6 142.4h0M210.4 128.0h0M206.3 125.5h0M210.9 130.5h0M211.3 117.0h0M210.4 145.5h0M212.6 107.1h0M209.5 107.8h0M206.4 148.5h0M207.5 130.1h0M206.7 129.4h0M206.5 140.9h0M211.4 120.6h0M209.3 156.5h0M212.1 147.2h0M211.9 115.7h0M208.3 99.0h0M207.6 135.9h0M209.7 138.8h0M206.4 104.7h0M212.8 124.2h0M207.1 135.5h0M207.4 144.3h0M209.2 134.1h0M205.4 158.9h0M210.7 123.8h0M206.8 116.8h0M206.7 126.0h0M212.7 123.5h0M210.7 94.8h0M206.5 132.2h0M209.6 134.7h0M209.2 133.7h0M209.1 100.5h0" stroke="#ff0000" stroke-opacity="0.44" stroke-width="2.5" stroke-linecap="round" fill="none"/>
<path d="M211.8 107.3h0M211.1 128.7h0M208.4 100.4h0M207.3 126.5h0M212.5 142.1h0M213.0 139.7h0M206.4 93.2h0M210.8 115.2h0M209.7 120.2h0M208.4 131.2h0M207.5 115.4h0M206.4 119.6h0M209.3 121.3h0M209.5 111.7h0M209.4 108.9h0M208.2 136.0h0M208.1 125.2h0M211.0 88.8h0M207.1 85.5h0M206.1 131.4h0M207.3 119.5h0M205.6 114.9h0M205.7 121.4h0M209.9 110.7h0M209.0 126.7h0M211.4 137.6h0M208.0 122.4h0M206.8 81.7h0M209.2 149.7h0M206.7 130.0h0M212.8 118.8h0M208.9 127.0h0M212.8 124.9h0M206.3 112.4h0M211.2 116.1h0M208.8 143.3h0" stroke="#ff0000" stroke-opacity="0.44" stroke-width="2.5" stroke-linecap="round" fill="none"/>
<path d="M218.7 166.8h0M221.5 198.6h0M224.1 158.8h0" stroke="#0000ff" stroke-opacity="0.44" stroke-width="2.5" stroke-linecap="round" fill="none"/>
<path d="M220.4 150.2h0M223.6 185.7h0" stroke="#0000ff" stroke-opacity="0.44" stroke-width="2.5" stroke-linecap="round" fill="none"/>
<path d="M222.2 175.8h0M222.3 152.1h0" stroke="#0000ff" stroke-opacity="0.44" stroke-width="2.5" stroke-linecap="round" fill="none"/>
<path d="M220.5 146.9h0M222.0 181.9h0" stroke="#0000ff" stroke-opacity="0.44" stroke-width="2.5" stroke-linecap="round" fill="none"/>
<path d="M223.1 143.8h0M219.5 162.5h0" stroke="#0000ff" stroke-opacity="0.44" stroke-width="2.5" stroke-linecap="round" fill="none"/>
<path d="M230.0 154.6h0M235.4 109.3h0M233.1 141.0h0M228.7 132.2h0M229.3 122.2h0M232.8 118.0h0M235.6 120.1h0M229.1 126.6h0M233.5 125.0h0M232.8 139.2h0M230.0 116.6h0M234.1 145.5h0M234.7 137.1h0M229.6 119.5h0M235.6 129.1h0M235.2 142.1h0M234.5 120.5h0M232.5 128.5h0M234.9 123.2h0M230.1 123.9h0M234.2 130.6h0M232.9 133.3h0M230.5 117.1h0M231.9 112.3h0M234.2 124.9h0M230.9 153.2h0M235.0 133.8h0M232.9 125.8h0M234.7 122.2h0M228.4 127.5h0M232.1 107.3h0" stroke="#ff0000" stroke-opacity="0.44" stroke-width="2.5" stroke-linecap="round" fill="none"/>
<path d="M234.9 130.1h0M232.9 117.2h0M235.7 118.2h0M234.0 114.4h0M234.5 114.8h0M228.5 119.0h0M233.0 117.3h0M234.0 132.9h0M234.2 123.6h0M232.5 134.9h0M231.3 113.0h0M230.9 105.1h0M228.2 111.3h0M234.1 132.6h0M229.4 113.6h0M231.5 127.8h0M228.6 119.3h0M234.6 125.3h0M234.2 131.4h0M235.1 139.7h0M230.9 137.6h0M229.5 120.4h0M234.4 122.9h0M231.8 114.4h0M232.4 125.5h0M235.3 146.9h0M232.3 115.2h0M232.2 132.6h0M234.4 115.8h0M233.8 131.2h0M230.8 134.3h0" stroke="#ff0000" stroke-opacity="0.44" stroke-width="2.5" stroke-linecap="round" fill="none"/>
<path d="M233.9 121.3h0M229.9 129.7h0M228.2 130.8h0M233.0 129.8h0M230.1 127.7h0M229.4 124.4h0M230.0 122.5h0M232.9 134.2h0M228.3 115.1h0M234.0 124.4h0M234.2 119.9h0M231.4 131.0h0M230.6 138.5h0M234.0 121.9h0M229.8 113.3h0M228.4 128.3h0M234.8 116.2h0M235.7 130.3h0M230.4 136.2h0M235.4 128.2h0M231.1 138.0h0M230.3 110.4h0M234.4 126.2h0M230.0 121.2h0M229.6 133.6h0M230.7 136.0h0M229.0 113.9h0M234.0 121.5h0M231.5 112.5h0M232.7 150.2h0M235.0 140.5h0" stroke="#ff0000" stroke-opacity="0.44" stroke-width="2.5" stroke-linecap="round" fill="none"/>
<path d="M233.2 110.4h0M231.8 108.8h0M235.3 117.5h0M234.6 135.1h0M229.5 131.8h0M234.6 141.5h0M234.1 134.7h0M229.5 105.4h0M230.2 126.1h0M232.6 127.0h0M228.8 115.4h0M233.5 117.6h0M235.0 116.0h0M228.8 124.1h0M230.2 130.4h0M234.2 132.0h0M232.8 123.8h0M229.8 126.8h0M228.3 118.4h0M233.1 142.7h0M229.2 119.8h0M233.0 138.7h0M231.0 113.8h0M234.6 116.4h0M235.3 125.9h0M234.5 128.9h0M232.0 136.6h0M234.0 111.7h0M234.5 140.0h0M234.2 107.7h0" stroke="#ff0000" stroke-opacity="0.44" stroke-width="2.5" stroke-linecap="round" fill="none"/>
<path d="M232.5 124.7h0M232.5 111.2h0M235.2 123.5h0M228.9 119.1h0M235.3 135.5h0M230.5 116.6h0M230.5 127.1h0M233.6 145.3h0M230.5 129.5h0M234.0 121.0h0M230.8 121.8h0M232.5 118.6h0M229.9 131.5h0M235.4 147.5h0M233.6 116.8h0M231.4 120.8h0M228.5 127.9h0M231.7 129.2h0M234.8 127.4h0M230.2 115.5h0M234.7 144.4h0M231.3 123.1h0M229.1 143.7h0M230.7 125.3h0M233.7 149.8h0M234.9 128.7h0M230.7 122.7h0M230.1 117.9h0M235.6 136.7h0M234.2 126.5h0" stroke="#ff0000" stroke-opacity="0.44" stroke-width="2.5" stroke-linecap="round" fill="none"/>
<path d="M241.2 126.0h0M239.5 132.7h0M245.4 121.9h0M240.3 134.3h0M241.9 130.6h0M245.5 124.4h0M245.1 103.2h0M244.8 150.4h0M240.9 120.9h0M245.6 115.5h0M240.4 98.1h0M242.2 130.3h0M246.0 125.6h0M244.1 128.4h0M246.0 125.2h0M240.4 136.4h0M241.7 108.0h0M242.2 153.5h0M241.7 141.2h0M245.4 134.5h0M245.4 125.3h0M239.5 131.1h0M240.6 119.3h0M244.7 119.1h0M241.5 123.0h0M246.5 120.4h0M243.0 98.9h0M239.6 127.5h0M243.5 112.2h0M245.3 147.4h0M244.2 111.8h0M244.6 121.5h0M242.7 115.6h0M243.6 174.3h0M246.3 117.5h0M240.5 94.0h0M241.0 135.1h0M244.5 118.2h0M239.9 120.9h0M239.5 116.4h0M239.7 112.1h0M245.5 136.0h0M244.5 140.7h0M242.1 116.3h0M243.1 153.9h0M246.7 123.7h0M242.9 113.9h0M246.2 138.5h0M241.5 151.5h0M239.8 130.4h0M243.8 129.2h0M245.5 144.3h0M243.1 128.7h0M244.4 101.3h0M244.3 111.5h0M242.6 132.4h0M243.9 96.1h0M247.0 123.4h0M245.8 100.5h0M242.0 107.0h0M243.2 137.6h0M246.6 131.5h0M240.8 110.6h0M244.3 117.8h0M241.4 117.1h0M241.9 105.9h0M243.2 118.7h0M245.7 132.2h0M247.0 122.5h0M245.5 133.1h0M244.0 113.7h0M245.9 127.7h0M241.8 141.8h0M245.8 113.5h0M243.1 126.2h0M245.5 142.8h0M241.0 114.2h0M243.6 128.2h0M244.2 121.1h0M246.0 124.2h0M246.5 130.8h0M246.6 119.9h0M247.0 109.7h0M241.0 129.0h0M239.9 133.6h0M246.9 131.1h0M242.8 113.9h0M246.2 169.6h0M240.2 157.4h0M243.7 167.7h0M242.8 126.1h0M242.2 133.2h0M245.7 125.4h0M243.2 131.0h0M244.1 109.1h0M240.9 107.2h0M242.0 129.3h0M240.6 120.2h0M244.0 125.5h0M240.0 159.7h0M240.3 95.7h0M246.5 123.9h0M244.6 81.0h0M244.1 125.1h0" stroke="#ff0000" stroke-opacity="0.44" stroke-width="2.5" stroke-linecap="round" fill="none"/>
<path d="M240.6 149.5h0M242.6 104.0h0M244.2 116.1h0M241.8 118.0h0M244.8 137.1h0M245.8 135.7h0M244.1 128.0h0M240.4 142.3h0M247.0 128.6h0M241.4 119.7h0M245.3 120.5h0M243.8 126.0h0M244.7 133.5h0M241.0 130.6h0M241.7 129.7h0M243.3 135.7h0M243.6 125.7h0M244.1 156.2h0M244.1 125.7h0M243.5 133.3h0M239.5 132.4h0M242.5 114.5h0M241.6 130.0h0M243.8 112.3h0M246.2 105.6h0M243.4 99.9h0M246.5 88.2h0M241.3 127.3h0M242.5 147.2h0M241.5 148.3h0M242.2 135.5h0M241.6 115.2h0M246.5 119.1h0M242.0 110.9h0M242.4 131.5h0M244.2 96.6h0M239.7 144.0h0M239.7 130.1h0M240.4 136.5h0M240.6 132.0h0M245.1 116.1h0M239.6 137.9h0M246.8 124.6h0M246.1 146.7h0M244.6 156.8h0M243.4 101.5h0M241.4 149.6h0M240.5 123.9h0M242.4 118.7h0M244.8 124.7h0M247.0 132.6h0M241.0 163.4h0M244.8 123.8h0M244.4 119.3h0M240.0 105.7h0M245.5 123.3h0M242.4 144.7h0M244.5 140.3h0M241.7 134.0h0M246.0 111.6h0M239.5 116.7h0M246.2 85.7h0M245.8 121.8h0M239.6 134.3h0M239.9 107.5h0M243.7 121.6h0M243.4 94.7h0M244.9 126.2h0M246.6 118.8h0M245.8 114.7h0M243.0 146.6h0M242.7 120.6h0M244.0 90.3h0M239.5 108.3h0M241.7 122.8h0M245.3 92.1h0M244.5 129.9h0M240.6 141.6h0M244.8 129.6h0M246.9 112.8h0M246.1 128.3h0M244.1 137.4h0M241.9 119.5h0M247.0 137.0h0M241.7 122.2h0M245.2 154.7h0M245.2 122.9h0M244.6 122.3h0M245.1 104.4h0M242.6 129.1h0M243.7 96.7h0M243.9 99.6h0M245.8 129.3h0M240.0 98.6h0M241.4 111.9h0M244.6 129.7h0M244.1 110.0h0M244.7 153.0h0M240.0 132.1h0M246.6 141.5h0M244.7 107.2h0M243.4 140.3h0M241.5 106.6h0M243.6 113.2h0" stroke="#ff0000" stroke-opacity="0.44" stroke-width="2.5" stroke-linecap="round" fill="none"/>
<path d="M239.5 144.4h0M244.2 124.0h0M241.5 117.2h0M244.2 139.7h0M239.7 128.9h0M244.6 143.4h0M244.0 128.7h0M246.6 147.6h0M240.9 150.0h0M246.1 123.6h0M240.3 127.6h0M245.9 106.2h0M242.2 132.5h0M246.6 157.9h0M245.3 100.6h0M244.8 110.2h0M244.5 126.8h0M244.4 115.6h0M243.5 128.8h0M240.6 142.1h0M245.0 111.1h0M240.6 141.3h0M247.0 109.9h0M242.8 128.1h0M241.8 121.7h0M243.7 103.6h0M241.6 133.6h0M244.4 104.8h0M240.3 127.4h0M243.6 122.1h0M246.0 118.4h0M246.3 142.9h0M240.0 105.1h0M242.8 127.9h0M245.8 83.2h0M241.5 84.8h0M246.9 93.6h0M240.5 114.8h0M239.5 140.1h0M245.1 108.7h0M245.6 115.0h0M243.4 147.9h0M245.7 114.0h0M241.8 121.0h0M241.6 143.3h0M241.8 123.8h0M244.3 122.8h0M246.1 122.7h0M244.6 124.7h0M241.5 111.9h0M239.5 88.7h0M239.8 102.2h0M245.9 117.3h0M243.8 127.3h0M246.9 105.3h0M243.7 135.3h0M244.5 131.7h0M243.3 123.5h0M241.1 113.0h0M246.5 141.0h0M243.7 116.5h0M241.8 112.8h0M246.1 128.1h0M242.2 129.2h0M243.5 118.6h0M244.2 130.4h0M240.1 138.2h0M243.7 132.2h0M241.6 127.8h0M241.2 107.7h0M241.0 135.2h0M241.0 110.7h0M240.5 118.9h0M243.4 128.4h0M246.1 114.3h0M246.8 137.4h0M240.0 120.7h0M243.2 131.7h0M246.0 122.4h0M244.0 87.0h0M243.9 150.4h0M241.3 111.0h0M240.3 122.5h0M246.7 116.8h0M241.9 118.5h0M242.8 125.9h0M243.7 152.3h0M243.5 121.0h0M246.0 103.9h0M240.4 117.9h0M244.8 124.8h0M244.7 120.0h0M240.7 143.1h0M242.8 126.5h0M246.1 145.8h0M241.1 116.9h0M244.1 119.0h0M239.8 116.6h0M244.7 142.0h0M244.4 119.2h0M242.4 140.9h0M239.9 118.3h0M244.4 130.2h0M240.4 120.1h0" stroke="#ff0000" stroke-opacity="0.44" stroke-width="2.5" stroke-linecap="round" fill="none"/>
<path d="M243.8 136.2h0M243.8 119.6h0M242.0 146.2h0M239.9 145.2h0M245.4 130.0h0M243.1 134.7h0M240.8 130.9h0M243.2 107.9h0M245.2 152.5h0M240.2 106.4h0M246.2 138.0h0M246.0 136.8h0M242.8 124.1h0M245.8 125.0h0M242.4 95.1h0M240.1 131.6h0M241.3 144.1h0M242.0 121.9h0M243.0 134.1h0M243.1 124.5h0M240.4 142.5h0M243.9 120.3h0M239.8 127.7h0M244.9 91.1h0M244.5 116.0h0M242.8 101.8h0M240.9 132.8h0M241.7 117.1h0M239.5 119.9h0M241.2 126.3h0M246.8 103.0h0M246.5 145.7h0M240.5 116.2h0M244.2 131.2h0M244.7 121.4h0M240.0 120.8h0M243.2 134.8h0M240.9 122.1h0M244.8 139.0h0M244.1 111.2h0M242.0 111.4h0M245.5 146.8h0M242.9 117.6h0M244.0 136.8h0M239.6 108.2h0M244.3 92.8h0M241.5 119.4h0M241.3 115.3h0M240.5 125.4h0M243.9 149.0h0M245.1 155.3h0M239.5 135.9h0M243.1 123.2h0M239.9 131.9h0M241.9 158.7h0M240.6 98.2h0M246.4 102.8h0M243.6 115.2h0M241.6 146.0h0M244.7 138.8h0M240.2 148.2h0M242.7 115.7h0M247.0 133.7h0M244.5 126.9h0M242.9 110.5h0M244.6 122.3h0M245.0 109.6h0M239.5 148.5h0M246.0 120.3h0M242.7 133.0h0M244.7 117.4h0M241.2 122.0h0M246.7 139.8h0M239.9 109.0h0M240.6 150.8h0M242.2 139.4h0M242.9 135.4h0M241.2 137.9h0M241.9 164.7h0M244.0 160.6h0M243.9 132.9h0M244.7 128.9h0M246.6 136.7h0M243.0 136.1h0M244.1 134.9h0M244.0 109.4h0M243.5 128.2h0M245.3 151.2h0M245.3 117.7h0M245.7 139.9h0M243.6 137.2h0M245.5 97.4h0M244.3 149.1h0M241.0 130.7h0M240.0 99.4h0M244.5 108.9h0M245.7 125.0h0M241.4 113.1h0M246.8 124.2h0M243.5 125.2h0M242.6 126.9h0M243.7 140.8h0M240.6 128.5h0M245.7 155.8h0" stroke="#ff0000" stroke-opacity="0.44" stroke-width="2.5" stroke-linecap="round" fill="none"/>
<path d="M243.2 126.3h0M240.1 124.3h0M242.5 143.6h0M245.7 133.4h0M243.5 105.1h0M240.7 132.8h0M242.3 127.4h0M240.1 154.4h0M242.6 112.6h0M240.9 118.8h0M246.5 121.3h0M240.8 162.3h0M245.1 116.9h0M244.0 108.6h0M246.9 121.5h0M243.1 106.3h0M241.9 126.6h0M241.4 102.5h0M241.6 101.0h0M246.7 131.8h0M242.2 118.2h0M244.4 127.1h0M244.3 130.8h0M243.4 103.4h0M244.6 126.5h0M247.0 133.7h0M240.9 125.7h0M242.1 131.4h0M243.7 109.2h0M242.9 110.1h0M240.1 102.1h0M245.4 118.0h0M240.8 161.8h0M246.5 126.7h0M245.2 124.9h0M245.2 139.2h0M243.0 113.2h0M243.0 138.4h0M241.3 117.8h0M241.9 115.9h0M246.3 130.5h0M241.3 126.8h0M240.5 138.8h0M245.9 112.4h0M247.0 120.4h0M246.5 133.1h0M242.1 123.5h0M244.6 122.6h0M243.3 138.6h0M242.8 104.6h0M246.1 110.3h0M242.1 139.6h0M242.2 134.6h0M243.1 145.1h0M243.3 123.0h0M239.7 137.8h0M242.7 106.8h0M245.6 143.8h0M242.4 152.0h0M246.0 123.3h0M240.9 117.4h0M241.0 121.4h0M243.0 145.4h0M241.5 129.5h0M243.9 132.0h0M245.2 113.4h0M242.9 119.6h0M243.5 113.7h0M246.6 127.2h0M239.8 123.2h0M239.8 91.7h0M240.3 139.3h0M246.1 129.4h0M243.0 127.0h0M245.0 114.4h0M243.5 114.6h0M246.6 129.8h0M242.6 120.7h0M243.9 129.9h0M240.8 116.6h0M241.7 140.5h0M246.4 124.3h0M241.7 100.2h0M244.9 133.9h0M240.0 136.3h0M240.3 115.8h0M241.8 134.2h0M241.1 127.9h0M244.6 118.1h0M244.2 123.1h0M241.7 125.8h0M244.7 104.2h0M239.9 131.3h0M239.9 144.8h0M246.8 121.2h0M243.2 135.0h0M241.8 124.8h0M243.0 97.5h0M245.3 142.5h0M243.0 107.5h0M244.2 133.9h0M245.0 119.8h0M242.8 126.4h0M245.2 115.0h0" stroke="#ff0000" stroke-opacity="0.44" stroke-width="2.5" stroke-linecap="round" fill="none"/>
<path d="M258.3 144.2h0M257.9 161.0h0M258.2 150.2h0M255.4 165.8h0M251.9 162.1h0M258.3 156.0h0M253.3 148.5h0M258.3 171.1h0M256.1 159.4h0" stroke="#0000ff" stroke-opacity="0.44" stroke-width="2.5" stroke-linecap="round" fill="none"/>
<path d="M254.9 151.0h0M257.9 145.8h0M258.3 163.3h0M256.8 156.9h0M258.1 147.5h0M251.8 166.4h0M252.8 160.4h0M258.0 148.7h0M257.4 146.9h0" stroke="#0000ff" stroke-opacity="0.44" stroke-width="2.5" stroke-linecap="round" fill="none"/>
<path d="M257.1 160.5h0M258.3 150.8h0M254.7 154.7h0M256.9 145.4h0M251.2 155.5h0M258.1 154.3h0M257.0 149.9h0M255.1 165.1h0M257.7 142.0h0" stroke="#0000ff" stroke-opacity="0.44" stroke-width="2.5" stroke-linecap="round" fill="none"/>
<path d="M255.3 144.7h0M250.8 149.6h0M253.7 151.9h0M253.1 143.9h0M252.6 146.1h0M255.4 151.9h0M255.5 158.0h0M255.4 153.0h0M256.2 153.4h0" stroke="#0000ff" stroke-opacity="0.44" stroke-width="2.5" stroke-linecap="round" fill="none"/>
<path d="M258.3 162.7h0M253.7 141.6h0M251.0 158.8h0M253.3 146.4h0M256.0 161.7h0M254.4 147.0h0M258.4 164.1h0M250.9 148.1h0" stroke="#0000ff" stroke-opacity="0.44" stroke-width="2.5" stroke-linecap="round" fill="none"/>
<path d="M268.2 132.5h0M265.2 107.5h0M263.7 112.9h0M268.5 122.2h0M262.3 101.7h0M269.6 113.6h0M269.6 126.5h0M263.2 143.2h0M268.7 117.7h0M262.5 117.3h0M266.6 135.0h0M269.1 125.4h0M264.7 106.6h0M262.4 112.5h0M262.4 136.5h0M269.4 104.8h0M266.3 109.2h0M263.7 107.4h0M266.4 130.7h0M267.6 110.2h0" stroke="#ff0000" stroke-opacity="0.44" stroke-width="2.5" stroke-linecap="round" fill="none"/>
<path d="M267.7 100.1h0M267.9 111.1h0M265.7 132.0h0M265.3 128.3h0M262.8 124.7h0M264.4 106.3h0M267.5 128.6h0M269.5 120.5h0M267.3 118.9h0M263.4 113.2h0M267.1 102.2h0M265.0 116.0h0M262.5 139.8h0M264.2 111.9h0M262.6 115.6h0M267.0 124.0h0M264.6 99.3h0M267.8 108.5h0M266.8 116.1h0M268.6 131.6h0" stroke="#ff0000" stroke-opacity="0.44" stroke-width="2.5" stroke-linecap="round" fill="none"/>
<path d="M267.3 120.7h0M268.1 110.5h0M267.4 129.1h0M265.7 127.9h0M266.2 114.9h0M268.9 111.2h0M266.7 90.8h0M262.5 121.2h0M268.8 134.5h0M267.8 114.3h0M263.6 146.6h0M264.1 104.2h0M265.0 90.0h0M262.6 116.5h0M265.5 119.9h0M264.5 103.1h0M269.1 126.1h0M265.3 123.0h0M266.9 122.0h0" stroke="#ff0000" stroke-opacity="0.44" stroke-width="2.5" stroke-linecap="round" fill="none"/>
<path d="M268.2 103.8h0M267.5 119.3h0M268.2 118.7h0M268.1 96.8h0M268.6 137.7h0M263.8 121.5h0M268.2 122.4h0M265.8 105.5h0M266.1 135.9h0M267.7 139.3h0M263.9 129.8h0M264.0 124.5h0M267.0 118.0h0M268.8 125.3h0M264.9 130.0h0M269.5 127.6h0M268.7 134.1h0M265.9 131.3h0M269.8 108.8h0" stroke="#ff0000" stroke-opacity="0.44" stroke-width="2.5" stroke-linecap="round" fill="none"/>
<path d="M266.2 118.4h0M269.2 112.3h0M262.9 102.6h0M266.8 115.2h0M265.2 126.9h0M262.2 127.4h0M264.6 114.0h0M268.2 97.3h0M268.5 120.1h0M262.8 141.4h0M265.3 106.2h0M268.9 95.0h0M267.5 123.5h0M265.5 100.8h0M268.8 123.2h0M269.3 107.9h0M263.2 133.4h0M265.5 116.9h0M266.1 109.5h0" stroke="#ff0000" stroke-opacity="0.44" stroke-width="2.5" stroke-linecap="round" fill="none"/>
<path d="M279.2 136.3h0M277.4 117.3h0M280.4 104.4h0M280.1 123.3h0M279.7 132.2h0M276.9 124.1h0M279.5 115.3h0M274.6 115.7h0M280.5 108.8h0M274.3 96.9h0M277.1 109.6h0M276.5 132.3h0M275.1 119.2h0M275.1 135.9h0M277.7 115.1h0M278.2 128.9h0M281.0 135.8h0M276.7 127.6h0M273.8 143.5h0M277.1 127.8h0M280.9 118.1h0M277.5 108.0h0M276.2 116.2h0M273.6 125.5h0M276.1 134.9h0M279.4 130.3h0M276.3 124.0h0M277.3 118.7h0M276.7 130.1h0M275.2 118.0h0M278.1 142.6h0M275.1 115.9h0M277.3 123.0h0M276.2 100.9h0M275.9 126.4h0M278.2 119.2h0M279.5 120.2h0M280.7 151.9h0M274.1 121.8h0M275.0 143.0h0M275.7 121.4h0M279.8 150.2h0M275.0 115.5h0M274.0 151.4h0M274.9 152.1h0M279.3 131.1h0M280.2 129.9h0M280.1 125.8h0M277.8 128.6h0M274.9 130.8h0M280.9 123.0h0M274.5 122.5h0M276.0 108.9h0M279.7 128.8h0M280.6 124.9h0M276.5 140.1h0M276.9 132.9h0M277.1 94.8h0M280.1 112.7h0M274.0 106.9h0M274.9 147.4h0M275.9 125.1h0M274.6 120.9h0M278.9 113.3h0M276.1 127.3h0M281.0 150.4h0M278.9 109.9h0M279.6 136.6h0M278.9 117.6h0M276.4 126.1h0M280.3 128.2h0M275.3 119.4h0M278.1 123.6h0M273.7 146.3h0M276.8 149.0h0M275.7 141.9h0M279.7 119.9h0M275.9 128.4h0M274.9 119.7h0M280.4 127.1h0M275.7 110.9h0M279.2 122.4h0M274.8 124.7h0M273.8 106.2h0M273.9 137.8h0" stroke="#ff0000" stroke-opacity="0.44" stroke-width="2.5" stroke-linecap="round" fill="none"/>
<path d="M277.8 94.1h0M275.2 135.1h0M274.2 127.4h0M281.1 130.4h0M277.6 120.1h0M280.4 149.6h0M278.8 143.2h0M276.3 131.2h0M273.8 106.3h0M278.6 141.0h0M274.0 123.8h0M274.7 112.7h0M276.7 136.3h0M279.0 125.7h0M275.8 110.8h0M274.1 136.4h0M274.7 140.7h0M280.4 120.5h0M277.4 81.0h0M280.9 121.1h0M275.5 119.1h0M275.4 113.9h0M274.7 127.9h0M278.9 137.7h0M274.2 118.6h0M277.9 107.2h0M274.5 113.5h0M277.4 120.6h0M276.7 113.2h0M274.4 147.4h0M280.3 126.3h0M275.5 118.3h0M277.2 148.8h0M277.7 140.9h0M279.2 113.1h0M274.6 147.7h0M276.4 105.2h0M275.8 114.4h0M278.1 120.4h0M279.2 122.3h0M280.6 116.1h0M273.8 110.5h0M277.5 124.3h0M275.3 121.2h0M279.2 134.0h0M280.6 127.7h0M276.5 116.4h0M274.6 133.8h0M279.5 125.0h0M280.8 129.8h0M277.8 122.2h0M274.3 111.6h0M275.3 121.0h0M280.9 120.4h0M274.0 141.4h0M277.5 111.0h0M274.2 134.5h0M278.7 114.1h0M275.0 162.3h0M280.2 130.5h0M275.6 137.3h0M278.4 153.2h0M277.6 131.5h0M276.0 143.4h0M278.9 137.1h0M276.4 144.8h0M277.4 120.0h0M279.1 125.4h0M275.8 133.2h0M277.0 122.3h0M275.4 157.7h0M279.2 126.8h0M274.3 114.8h0M279.5 125.9h0M273.6 132.0h0M277.9 111.3h0M279.7 117.4h0M275.8 129.2h0M279.5 128.9h0M279.2 129.6h0M275.5 131.8h0M274.3 142.0h0M278.1 124.1h0M280.1 133.8h0" stroke="#ff0000" stroke-opacity="0.44" stroke-width="2.5" stroke-linecap="round" fill="none"/>
<path d="M274.8 131.4h0M274.7 101.4h0M280.4 103.0h0M274.7 124.3h0M276.3 138.2h0M280.5 128.2h0M280.3 128.1h0M275.4 153.8h0M276.5 138.6h0M275.9 118.8h0M277.3 105.9h0M277.5 139.7h0M277.0 105.3h0M279.0 126.0h0M274.5 126.6h0M276.3 110.4h0M273.8 129.5h0M277.4 108.4h0M278.3 126.5h0M277.9 131.3h0M279.8 130.7h0M278.8 142.3h0M274.7 138.2h0M281.1 117.2h0M274.5 132.9h0M280.0 129.3h0M275.8 109.3h0M277.4 126.6h0M279.2 144.5h0M275.6 133.4h0M276.2 101.8h0M278.9 122.4h0M277.7 134.1h0M276.8 145.8h0M279.9 124.9h0M277.4 117.5h0M278.3 139.7h0M276.9 127.6h0M277.1 90.2h0M278.1 116.3h0M280.0 142.4h0M279.1 128.6h0M275.6 122.8h0M280.0 121.5h0M277.6 130.0h0M276.4 139.3h0M277.7 129.1h0M276.3 124.8h0M276.1 123.2h0M277.1 135.6h0M278.8 127.0h0M274.0 167.6h0M280.5 133.6h0M276.5 134.7h0M276.5 151.0h0M278.9 123.8h0M278.0 112.9h0M274.2 135.5h0M276.0 125.6h0M280.2 134.7h0M275.7 97.1h0M278.8 116.7h0M277.5 157.2h0M277.2 103.7h0M274.2 109.5h0M274.6 121.7h0M274.5 116.6h0M278.6 131.6h0M278.7 88.1h0M278.8 111.7h0M280.4 146.6h0M279.4 132.3h0M280.3 115.2h0M275.8 145.3h0M280.2 133.6h0M280.4 120.7h0M274.0 134.2h0M279.0 114.2h0M278.4 143.8h0M278.7 124.4h0M274.3 139.8h0M280.0 128.4h0M279.7 113.8h0M274.8 141.6h0" stroke="#ff0000" stroke-opacity="0.44" stroke-width="2.5" stroke-linecap="round" fill="none"/>
<path d="M274.9 146.6h0M278.4 132.8h0M280.2 137.6h0M280.6 141.3h0M273.7 139.2h0M280.0 127.5h0M280.5 122.9h0M278.7 135.4h0M277.7 121.4h0M275.0 111.4h0M274.1 131.0h0M280.7 135.1h0M280.1 114.6h0M280.8 149.2h0M278.2 152.7h0M273.8 128.5h0M278.8 125.7h0M275.5 134.0h0M275.9 133.1h0M279.6 123.2h0M279.3 97.8h0M279.7 138.8h0M274.7 119.3h0M277.6 121.9h0M275.8 137.9h0M277.8 120.2h0M280.3 112.0h0M276.7 144.7h0M277.6 126.9h0M275.6 133.3h0M278.5 114.9h0M281.0 124.5h0M279.0 123.1h0M275.5 132.4h0M277.8 115.8h0M277.9 98.3h0M277.1 139.0h0M274.0 99.6h0M280.2 147.1h0M274.9 128.0h0M275.4 140.4h0M280.0 123.4h0M277.4 131.9h0M280.0 100.0h0M275.6 154.5h0M279.0 117.0h0M277.5 131.1h0M277.6 102.0h0M275.3 134.6h0M279.4 138.9h0M277.9 129.6h0M280.2 122.1h0M275.3 104.5h0M274.0 107.7h0M274.1 131.8h0M278.4 116.8h0M281.0 110.0h0M275.1 133.1h0M279.1 117.8h0M276.2 130.2h0M273.6 125.3h0M274.4 126.2h0M274.9 118.4h0M280.6 112.2h0M276.8 116.2h0M278.1 144.0h0M278.6 117.7h0M280.9 127.2h0M279.5 118.6h0M280.3 134.4h0M275.9 132.6h0M277.9 124.6h0M275.4 132.1h0M275.7 127.9h0M275.7 132.5h0M277.6 118.2h0M279.4 126.7h0M278.6 105.7h0M276.9 114.3h0M279.1 130.3h0M277.5 123.5h0M276.0 142.8h0M279.6 122.7h0M276.7 130.5h0" stroke="#ff0000" stroke-opacity="0.44" stroke-width="2.5" stroke-linecap="round" fill="none"/>
<path d="M278.2 118.9h0M276.9 125.8h0M278.1 136.1h0M275.1 107.4h0M275.4 164.7h0M277.0 136.7h0M276.5 125.2h0M277.9 128.8h0M276.9 144.1h0M273.9 129.4h0M274.5 129.8h0M277.7 124.4h0M274.5 130.6h0M275.7 172.0h0M277.5 119.0h0M279.2 87.0h0M279.4 137.4h0M273.5 114.8h0M276.9 139.5h0M277.5 133.4h0M277.3 108.2h0M278.5 131.6h0M278.1 122.7h0M278.9 145.4h0M279.0 146.0h0M279.1 119.6h0M276.1 123.7h0M278.7 130.9h0M275.9 119.8h0M279.9 138.1h0M279.7 99.2h0M277.7 156.0h0M279.2 112.3h0M280.3 118.4h0M277.2 138.4h0M277.4 103.9h0M278.9 117.9h0M279.0 126.1h0M277.2 120.7h0M274.0 148.4h0M277.1 135.2h0M275.3 122.0h0M276.3 107.1h0M274.0 129.4h0M275.0 155.2h0M274.0 123.9h0M280.1 111.9h0M278.2 102.8h0M279.6 100.4h0M280.1 137.0h0M276.4 145.0h0M275.8 119.5h0M277.8 92.0h0M279.4 140.5h0M278.2 112.5h0M276.6 117.1h0M279.7 154.4h0M276.9 136.8h0M278.4 106.6h0M274.9 120.9h0M275.9 95.8h0M274.2 121.2h0M275.1 129.1h0M277.7 121.7h0M274.8 134.3h0M279.2 121.5h0M273.8 108.5h0M276.6 109.1h0M273.8 125.2h0M278.2 140.2h0M277.5 148.2h0M276.0 132.7h0M279.4 160.7h0M280.5 103.3h0M276.9 141.8h0M280.1 135.9h0M276.1 93.2h0M279.7 127.3h0M279.7 110.1h0M278.9 102.3h0M280.5 127.0h0M277.6 113.7h0M276.1 104.9h0M276.8 159.1h0" stroke="#ff0000" stroke-opacity="0.44" stroke-width="2.5" stroke-linecap="round" fill="none"/>
<path d="M291.1 166.2h0M288.7 184.9h0M288.3 162.4h0M290.1 209.9h0M290.0 191.5h0M291.5 205.0h0M288.1 177.2h0M286.6 181.3h0M285.7 189.1h0M285.3 197.5h0M288.5 193.5h0M287.1 181.7h0M287.9 200.1h0M291.4 166.5h0" stroke="#ff0000" stroke-opacity="0.44" stroke-width="2.5" stroke-linecap="round" fill="none"/>
<path d="M291.9 199.0h0M289.6 177.9h0M286.7 172.7h0M290.7 196.2h0M287.0 177.1h0M291.6 182.7h0M291.9 180.2h0M289.4 159.2h0M285.7 170.6h0M291.6 183.8h0M291.1 202.8h0M292.2 173.5h0M288.5 169.6h0" stroke="#ff0000" stroke-opacity="0.44" stroke-width="2.5" stroke-linecap="round" fill="none"/>
<path d="M291.9 175.4h0M290.9 191.0h0M288.0 164.8h0M290.8 184.6h0M288.2 184.4h0M291.4 179.2h0M290.0 189.7h0M289.1 192.4h0M289.8 185.8h0M289.2 188.7h0M290.8 185.4h0M291.2 187.7h0M286.4 200.8h0" stroke="#ff0000" stroke-opacity="0.44" stroke-width="2.5" stroke-linecap="round" fill="none"/>
<path d="M289.3 176.5h0M290.3 190.3h0M285.7 168.0h0M288.9 187.4h0M290.2 174.2h0M291.2 182.0h0M285.5 193.8h0M287.3 178.4h0M292.4 192.6h0M289.4 186.6h0M289.5 183.2h0M289.3 180.5h0M289.2 157.7h0" stroke="#ff0000" stroke-opacity="0.44" stroke-width="2.5" stroke-linecap="round" fill="none"/>
<path d="M291.7 195.7h0M290.9 190.1h0M289.0 186.3h0M291.6 179.8h0M285.8 171.2h0M287.8 171.7h0M291.3 188.4h0M290.3 188.2h0M287.9 174.9h0M290.2 194.7h0M285.2 146.3h0M291.0 186.9h0M289.9 186.0h0" stroke="#ff0000" stroke-opacity="0.44" stroke-width="2.5" stroke-linecap="round" fill="none"/>
<path d="M296.6 165.2h0M296.9 155.0h0M297.1 143.6h0M302.3 160.8h0M296.9 149.3h0" stroke="#0000ff" stroke-opacity="0.44" stroke-width="2.5" stroke-linecap="round" fill="none"/>
<path d="M300.5 159.3h0M297.3 162.5h0M300.3 152.8h0M303.4 150.1h0M301.0 167.8h0" stroke="#0000ff" stroke-opacity="0.44" stroke-width="2.5" stroke-linecap="round" fill="none"/>
<path d="M300.2 152.0h0M299.8 153.7h0M302.6 151.6h0M300.5 140.9h0M300.9 141.9h0" stroke="#0000ff" stroke-opacity="0.44" stroke-width="2.5" stroke-linecap="round" fill="none"/>
<path d="M300.3 157.3h0M299.1 156.2h0M302.5 143.3h0M301.1 133.0h0M300.7 148.1h0" stroke="#0000ff" stroke-opacity="0.44" stroke-width="2.5" stroke-linecap="round" fill="none"/>
<path d="M296.9 154.3h0M298.9 138.1h0M299.9 145.9h0M302.6 146.9h0M299.7 139.7h0" stroke="#0000ff" stroke-opacity="0.44" stroke-width="2.5" stroke-linecap="round" fill="none"/>
<path d="M308.1 144.4h0M312.2 138.3h0M308.9 138.1h0M308.8 150.2h0M313.8 134.5h0M313.4 128.8h0M313.9 162.4h0M313.0 134.4h0M311.3 140.0h0M307.7 132.3h0M313.5 176.9h0M311.6 131.0h0M308.1 139.9h0M308.2 142.8h0M310.6 146.4h0M309.4 150.3h0M310.6 188.3h0M311.0 162.8h0M310.7 161.3h0M307.6 144.2h0M313.7 133.1h0M310.8 126.2h0M312.0 159.3h0M311.7 153.2h0M310.6 130.6h0M311.8 139.2h0M314.1 147.8h0M312.4 137.4h0M308.9 149.3h0M310.0 143.3h0M309.3 170.0h0M314.4 149.8h0M313.9 170.7h0M314.7 156.7h0M310.5 159.2h0M308.2 166.3h0M309.5 135.2h0M314.9 178.4h0M310.4 162.4h0M310.9 146.7h0M308.1 143.8h0M312.7 154.9h0M307.9 117.6h0M314.5 158.1h0M311.9 148.6h0M312.9 164.4h0M308.8 126.6h0M314.0 143.9h0M310.4 137.7h0M312.9 136.7h0M312.3 158.8h0M314.6 162.9h0M308.2 130.0h0M309.6 200.5h0M314.4 158.5h0M314.1 155.4h0M310.9 149.5h0M310.2 147.3h0M313.1 149.6h0M310.4 136.1h0M308.5 181.2h0M312.7 149.1h0M312.4 141.7h0M313.5 179.6h0M310.3 122.8h0M311.1 153.4h0M313.0 139.1h0M312.8 132.8h0M308.2 147.7h0M315.1 151.6h0M313.9 137.0h0M309.0 141.1h0M309.9 165.1h0M314.8 144.3h0M314.7 138.4h0M314.1 150.1h0M307.7 146.2h0M313.4 155.5h0M310.8 155.9h0M308.4 146.3h0M312.0 154.3h0M309.1 150.4h0M311.9 166.7h0M308.4 138.8h0M310.6 140.8h0M308.8 151.5h0M307.7 105.8h0M310.3 150.3h0M314.0 153.8h0M310.8 145.8h0M314.9 152.3h0M308.7 144.3h0M312.3 175.5h0M307.6 133.7h0M311.8 149.7h0M311.9 170.4h0M311.6 148.9h0M311.4 151.9h0M312.5 121.9h0M309.3 146.5h0M312.0 152.0h0M312.7 140.3h0M308.5 140.9h0M311.3 146.4h0M314.3 149.1h0M309.2 152.4h0M311.3 135.4h0" stroke="#ff0000" stroke-opacity="0.44" stroke-width="2.5" stroke-linecap="round" fill="none"/>
<path d="M310.2 157.7h0M309.4 171.2h0M314.3 150.7h0M312.2 136.3h0M312.4 146.7h0M310.8 161.9h0M311.6 147.4h0M311.1 145.4h0M313.5 144.1h0M313.4 155.8h0M311.2 114.5h0M312.6 138.3h0M315.1 145.3h0M310.5 177.7h0M314.2 156.2h0M314.9 141.2h0M308.1 119.1h0M313.3 150.6h0M313.5 160.4h0M313.3 140.5h0M310.0 146.0h0M312.8 147.7h0M315.2 163.0h0M313.1 132.0h0M313.5 151.3h0M314.7 164.2h0M309.1 145.9h0M313.2 151.9h0M310.2 144.1h0M309.1 131.6h0M314.2 157.1h0M312.4 160.2h0M310.2 115.8h0M314.0 137.7h0M313.7 173.4h0M312.3 153.1h0M309.7 160.9h0M314.4 136.0h0M313.6 145.2h0M308.5 153.8h0M311.9 145.3h0M308.3 134.7h0M311.7 148.7h0M314.1 153.3h0M310.3 164.7h0M309.4 159.4h0M308.1 155.6h0M312.4 147.5h0M307.7 151.1h0M312.0 136.5h0M311.7 132.4h0M312.0 145.6h0M313.0 128.2h0M314.3 150.6h0M314.4 168.8h0M307.9 143.9h0M309.9 154.2h0M309.2 174.3h0M309.4 154.3h0M309.3 152.8h0M314.5 102.8h0M314.5 144.0h0M308.6 137.5h0M312.1 128.5h0M313.0 140.3h0M314.6 163.5h0M309.1 142.2h0M314.1 125.1h0M308.2 124.2h0M313.2 151.5h0M312.5 142.5h0M313.8 142.9h0M311.3 136.9h0M312.8 142.2h0M313.8 144.9h0M312.5 130.4h0M315.2 154.0h0M310.6 134.0h0M311.0 153.1h0M312.4 145.1h0M313.2 222.4h0M314.7 141.5h0M310.3 158.7h0M308.2 154.6h0M313.3 157.4h0M308.1 159.7h0M311.1 129.7h0M308.5 166.0h0M314.1 171.3h0M314.5 154.7h0M309.2 138.5h0M310.2 142.3h0M309.2 165.4h0M313.5 124.8h0M314.6 158.6h0M312.7 133.7h0M308.8 150.1h0M309.8 191.4h0M308.5 141.9h0M309.7 169.2h0M314.0 141.0h0M314.2 156.4h0M308.8 180.8h0M310.6 166.7h0M309.9 134.3h0M312.9 154.9h0M309.9 111.9h0" stroke="#ff0000" stroke-opacity="0.44" stroke-width="2.5" stroke-linecap="round" fill="none"/>
<path d="M309.5 143.3h0M309.0 161.7h0M310.2 121.5h0M309.4 132.9h0M311.3 149.9h0M307.8 140.7h0M313.7 137.1h0M310.6 168.2h0M312.7 152.2h0M313.4 153.3h0M313.7 118.3h0M313.1 143.5h0M309.0 148.8h0M311.0 150.4h0M311.1 151.1h0M313.2 153.4h0M311.3 168.1h0M315.0 145.7h0M312.6 139.7h0M308.2 157.6h0M313.1 141.8h0M313.7 146.9h0M312.7 149.6h0M311.1 137.8h0M310.6 120.0h0M308.9 170.4h0M315.2 132.6h0M314.9 147.0h0M313.6 143.8h0M314.9 151.7h0M310.4 160.2h0M307.8 145.8h0M313.2 156.6h0M309.1 141.3h0M308.3 140.9h0M313.5 156.0h0M315.0 154.4h0M313.9 147.0h0M314.1 149.2h0M315.1 93.1h0M312.3 144.0h0M309.9 142.3h0M307.9 133.5h0M311.2 148.0h0M309.4 152.4h0M313.1 142.0h0M309.1 148.1h0M314.6 143.7h0M313.8 147.5h0M312.5 167.7h0M309.0 142.7h0M315.2 133.9h0M310.2 141.6h0M315.1 143.4h0M311.3 137.3h0M314.6 151.4h0M313.2 172.5h0M310.4 146.7h0M309.6 123.4h0M314.3 129.9h0M308.4 173.0h0M311.6 142.5h0M313.1 169.1h0M313.8 133.4h0M314.1 138.9h0M311.2 151.8h0M315.1 143.6h0M315.2 122.2h0M309.3 157.3h0M314.9 143.0h0M308.3 147.1h0M307.9 155.3h0M309.8 136.6h0M311.0 160.5h0M311.1 167.4h0M314.5 121.0h0M311.1 144.6h0M314.6 149.8h0M311.2 146.1h0M308.2 150.8h0M309.4 154.6h0M307.7 149.0h0M314.5 152.5h0M308.0 142.6h0M308.7 172.3h0M312.0 153.0h0M311.2 123.9h0M308.2 175.1h0M312.3 139.4h0M310.2 152.0h0M308.2 175.7h0M313.7 166.4h0M310.9 127.2h0M312.9 135.8h0M315.0 146.0h0M313.6 140.1h0M309.5 155.0h0M309.3 147.2h0M314.3 163.7h0M310.6 130.9h0M313.6 145.5h0M309.5 116.7h0M312.4 148.2h0M312.8 153.9h0M314.0 144.8h0M308.1 155.7h0M307.7 136.2h0" stroke="#ff0000" stroke-opacity="0.44" stroke-width="2.5" stroke-linecap="round" fill="none"/>
<path d="M311.6 120.6h0M313.1 140.4h0M310.2 129.0h0M314.6 150.7h0M309.9 152.7h0M313.0 142.0h0M308.5 129.5h0M311.7 128.5h0M313.6 140.1h0M314.4 133.3h0M307.9 132.6h0M311.7 161.4h0M314.0 137.1h0M311.8 143.1h0M308.2 147.9h0M311.5 136.8h0M312.5 158.3h0M314.3 140.8h0M310.3 139.9h0M311.9 156.2h0M308.5 156.9h0M313.9 173.8h0M311.3 143.4h0M310.1 169.6h0M313.4 161.5h0M314.0 146.9h0M314.2 165.2h0M307.6 127.6h0M314.2 143.5h0M310.1 158.4h0M312.9 160.8h0M314.3 138.6h0M314.9 159.9h0M312.5 157.0h0M309.7 130.4h0M309.5 149.9h0M308.2 125.5h0M312.5 138.7h0M308.6 142.4h0M309.7 142.6h0M309.5 127.8h0M308.9 127.3h0M309.9 146.8h0M311.6 132.1h0M309.7 134.9h0M309.1 176.4h0M311.0 149.4h0M312.8 169.6h0M314.2 156.4h0M311.9 150.0h0M309.2 136.4h0M315.0 144.4h0M307.8 145.4h0M315.0 152.4h0M313.1 157.3h0M313.4 143.2h0M312.1 153.5h0M311.8 149.7h0M311.5 146.2h0M308.3 177.3h0M311.7 131.8h0M312.8 134.8h0M314.5 151.0h0M310.5 146.3h0M308.2 142.8h0M313.2 172.1h0M313.8 162.6h0M309.2 151.2h0M307.7 148.9h0M315.2 150.9h0M310.3 148.3h0M314.2 167.2h0M310.3 139.7h0M311.1 131.3h0M308.6 140.6h0M314.4 147.3h0M310.5 139.4h0M313.0 131.1h0M314.0 151.7h0M307.6 158.9h0M309.8 159.8h0M314.7 137.6h0M312.5 141.4h0M312.3 162.1h0M311.0 164.6h0M309.7 148.4h0M310.9 139.5h0M311.0 146.6h0M308.7 135.6h0M312.4 152.6h0M309.5 131.5h0M312.6 163.2h0M308.4 155.2h0M313.9 137.9h0M312.0 163.3h0M314.7 165.7h0M309.8 139.8h0M310.2 159.8h0M309.5 174.5h0M312.5 130.2h0M311.2 148.0h0M310.7 135.1h0M311.2 152.8h0M315.0 143.1h0M312.5 164.0h0M312.4 167.0h0" stroke="#ff0000" stroke-opacity="0.44" stroke-width="2.5" stroke-linecap="round" fill="none"/>
<path d="M310.0 126.1h0M314.1 168.4h0M312.9 154.4h0M312.2 153.6h0M311.9 141.6h0M314.7 152.6h0M310.8 160.6h0M313.2 144.6h0M313.7 141.1h0M307.9 131.5h0M311.8 145.6h0M307.9 144.7h0M314.9 135.9h0M314.2 152.9h0M314.9 154.8h0M308.5 145.6h0M313.6 151.1h0M312.0 147.3h0M308.9 182.9h0M312.4 153.6h0M312.9 157.7h0M309.6 150.5h0M310.5 145.0h0M309.6 148.5h0M314.1 146.5h0M313.1 128.0h0M312.6 145.0h0M313.9 134.2h0M310.4 139.6h0M313.9 141.4h0M313.3 164.9h0M308.9 145.1h0M311.4 139.8h0M313.2 140.2h0M314.8 144.8h0M308.4 157.9h0M309.7 142.1h0M309.1 165.6h0M314.6 140.6h0M311.0 159.4h0M315.2 162.1h0M313.7 149.2h0M309.5 146.1h0M312.2 152.2h0M308.9 179.2h0M308.2 143.0h0M308.5 135.6h0M309.5 143.6h0M310.1 171.7h0M313.0 144.9h0M312.8 148.0h0M309.9 156.8h0M312.6 152.1h0M309.2 148.2h0M309.1 109.1h0M313.6 129.2h0M307.7 167.7h0M313.4 135.3h0M311.4 144.5h0M312.9 144.3h0M314.4 149.5h0M313.0 145.2h0M311.7 147.8h0M312.7 124.5h0M310.3 140.4h0M308.7 127.1h0M308.3 141.9h0M312.9 148.3h0M312.8 164.0h0M313.6 150.8h0M308.1 119.3h0M309.9 139.0h0M314.5 144.7h0M315.1 154.0h0M313.1 183.4h0M310.9 161.1h0M314.5 141.5h0M314.8 147.0h0M312.3 153.7h0M307.7 122.4h0M310.3 154.1h0M308.3 141.2h0M310.9 147.6h0M310.6 133.1h0M314.9 125.4h0M314.4 161.2h0M308.9 210.7h0M309.1 155.1h0M314.8 125.9h0M313.5 139.3h0M313.8 149.0h0M314.3 151.3h0M311.3 148.4h0M310.9 138.1h0M309.9 134.7h0M314.5 148.7h0M312.8 148.7h0M308.8 129.4h0M313.5 142.7h0M309.9 158.0h0M310.8 123.0h0M314.5 154.5h0M312.2 143.2h0M307.6 126.6h0M314.5 141.8h0M309.5 145.9h0" stroke="#ff0000" stroke-opacity="0.44" stroke-width="2.5" stroke-linecap="round" fill="none"/>
<path d="M323.4 158.8h0M324.7 150.2h0M325.4 165.3h0M321.6 163.7h0M319.4 160.7h0M323.7 170.0h0M323.8 173.7h0M323.9 153.7h0M319.6 171.0h0M321.1 162.5h0M319.5 169.4h0M323.9 163.4h0M323.5 153.1h0M320.9 168.9h0M323.0 168.1h0" stroke="#0000ff" stroke-opacity="0.44" stroke-width="2.5" stroke-linecap="round" fill="none"/>
<path d="M324.6 160.3h0M321.4 158.3h0M324.5 172.1h0M320.0 159.6h0M322.8 151.7h0M322.2 159.1h0M322.2 163.2h0M326.3 176.5h0M322.7 161.4h0M320.7 164.8h0M323.6 159.5h0M321.3 168.6h0M322.0 179.3h0M320.6 157.9h0M321.2 150.3h0" stroke="#0000ff" stroke-opacity="0.44" stroke-width="2.5" stroke-linecap="round" fill="none"/>
<path d="M323.9 157.2h0M324.3 166.2h0M324.9 182.5h0M319.9 177.6h0M325.7 162.3h0M320.1 171.4h0M322.7 164.7h0M321.5 154.7h0M320.6 147.7h0M323.6 175.6h0M320.9 165.8h0M320.4 174.5h0M324.0 142.4h0M322.9 156.7h0" stroke="#0000ff" stroke-opacity="0.44" stroke-width="2.5" stroke-linecap="round" fill="none"/>
<path d="M319.7 144.6h0M320.2 155.7h0M324.3 160.6h0M319.7 172.8h0M324.4 157.6h0M325.6 172.3h0M323.8 170.4h0M323.0 183.8h0M325.5 164.1h0M326.4 156.2h0M321.4 165.6h0M325.5 166.6h0M325.3 155.0h0M319.6 145.6h0" stroke="#0000ff" stroke-opacity="0.44" stroke-width="2.5" stroke-linecap="round" fill="none"/>
<path d="M319.8 169.8h0M323.7 161.8h0M321.9 164.4h0M319.9 152.3h0M319.4 161.2h0M319.9 167.1h0M321.0 167.7h0M322.9 148.4h0M325.6 167.5h0M325.3 162.7h0M323.5 153.9h0M322.0 167.0h0M324.5 140.3h0M319.6 175.2h0" stroke="#0000ff" stroke-opacity="0.44" stroke-width="2.5" stroke-linecap="round" fill="none"/>
<path d="M333.7 140.4h0M334.5 145.0h0M330.7 137.5h0M336.2 129.8h0M334.7 147.7h0M333.1 150.1h0M331.4 127.7h0M335.4 156.6h0M332.0 137.0h0M330.6 151.0h0M336.1 138.5h0M337.9 140.0h0M330.5 139.8h0M332.9 120.3h0M334.7 119.5h0M335.6 131.5h0M334.8 130.4h0M334.6 130.7h0M335.2 110.3h0M337.8 151.7h0M335.5 161.3h0M331.9 124.7h0M335.8 138.0h0M337.7 153.8h0M332.2 116.1h0M334.8 124.1h0M337.7 135.1h0M332.1 145.9h0M337.8 112.0h0M336.7 125.2h0M337.0 154.2h0M332.4 162.4h0M337.8 140.7h0M334.6 166.3h0M337.2 101.2h0M334.8 121.5h0M334.5 140.1h0M334.8 134.3h0M330.7 172.0h0M330.8 156.1h0M330.8 131.6h0M334.4 125.7h0M333.8 152.0h0M336.5 126.8h0M335.7 132.1h0M330.7 109.1h0M332.8 159.4h0M332.6 131.7h0M336.0 146.8h0M332.9 142.9h0M334.9 141.5h0M335.5 155.1h0M334.0 126.5h0M332.6 136.4h0M337.4 139.6h0M334.7 142.2h0M337.5 157.4h0M331.8 139.4h0" stroke="#ff0000" stroke-opacity="0.44" stroke-width="2.5" stroke-linecap="round" fill="none"/>
<path d="M331.3 103.3h0M333.0 125.5h0M335.6 133.6h0M336.9 132.3h0M335.5 129.8h0M335.1 160.0h0M331.0 147.0h0M330.4 127.4h0M330.8 127.0h0M330.6 142.7h0M330.8 134.7h0M332.9 133.9h0M332.8 152.9h0M332.8 117.0h0M334.9 158.2h0M336.9 138.8h0M337.9 126.1h0M333.7 153.5h0M330.3 149.4h0M334.6 136.7h0M336.6 151.1h0M331.7 140.9h0M336.4 142.1h0M336.6 152.3h0M334.9 126.2h0M337.2 143.8h0M331.0 156.8h0M336.3 142.0h0M332.8 134.9h0M330.7 128.9h0M333.5 139.8h0M336.2 136.3h0M337.1 136.8h0M333.6 164.1h0M334.6 136.0h0M332.7 139.4h0M331.2 157.3h0M336.6 145.1h0M337.5 142.5h0M335.4 131.9h0M335.8 139.0h0M335.7 147.5h0M331.8 106.8h0M331.3 157.8h0M337.4 156.3h0M337.3 129.4h0M335.5 148.9h0M332.2 174.8h0M330.4 135.9h0M330.8 169.5h0M330.8 149.7h0M331.5 139.1h0M331.6 116.3h0M334.2 149.6h0M334.5 114.2h0M336.5 135.1h0M335.4 158.9h0M332.3 145.5h0" stroke="#ff0000" stroke-opacity="0.44" stroke-width="2.5" stroke-linecap="round" fill="none"/>
<path d="M334.2 127.7h0M332.0 125.9h0M331.9 115.7h0M330.6 143.3h0M333.7 123.1h0M337.6 131.1h0M333.1 128.3h0M334.6 108.6h0M330.5 140.6h0M334.2 133.4h0M332.7 128.0h0M332.6 123.6h0M334.4 134.2h0M335.8 150.6h0M334.4 141.3h0M333.0 122.0h0M331.6 137.8h0M335.2 148.2h0M333.2 121.0h0M335.7 173.6h0M333.2 135.5h0M335.0 141.7h0M333.9 123.9h0M333.9 136.1h0M332.2 122.4h0M331.0 135.4h0M333.5 127.2h0M333.4 118.4h0M336.8 128.8h0M337.4 117.8h0M333.0 115.0h0M330.7 124.4h0M335.9 132.4h0M333.2 144.8h0M334.8 148.3h0M336.2 119.9h0M331.6 131.4h0M335.6 154.8h0M335.3 145.4h0M336.2 145.6h0M334.9 124.3h0M336.1 130.1h0M334.3 135.7h0M335.7 125.1h0M332.5 104.6h0M331.8 144.6h0M331.3 133.3h0M334.6 135.8h0M334.0 128.5h0M334.5 132.0h0M336.8 132.9h0M337.8 138.8h0M330.6 163.8h0M332.9 148.5h0M331.1 160.6h0M333.2 152.4h0M331.1 145.8h0M336.3 129.6h0" stroke="#ff0000" stroke-opacity="0.44" stroke-width="2.5" stroke-linecap="round" fill="none"/>
<path d="M332.4 101.5h0M334.8 143.4h0M331.4 155.9h0M333.7 144.3h0M331.8 133.9h0M332.7 119.9h0M336.5 148.6h0M332.5 145.3h0M333.2 122.2h0M332.0 175.7h0M336.6 153.5h0M337.2 143.7h0M335.0 146.7h0M336.6 155.4h0M336.4 120.7h0M334.4 147.8h0M333.0 123.0h0M337.5 137.4h0M332.3 160.1h0M332.0 140.3h0M335.1 137.7h0M331.2 146.3h0M331.3 154.1h0M331.8 138.2h0M331.6 135.3h0M336.6 155.5h0M334.7 158.6h0M332.9 168.2h0M333.1 129.2h0M335.8 130.0h0M336.5 112.2h0M337.6 113.8h0M335.7 159.1h0M335.2 141.2h0M331.6 146.1h0M334.9 134.7h0M335.4 141.8h0M332.1 150.4h0M336.3 118.1h0M334.4 132.9h0M334.4 138.3h0M333.5 131.1h0M332.8 133.2h0M330.6 151.4h0M330.7 120.6h0M337.5 149.0h0M335.3 131.0h0M336.3 161.0h0M332.2 130.8h0M331.7 118.8h0M337.8 144.1h0M331.9 105.1h0M332.2 152.7h0M335.9 141.4h0M334.0 126.4h0M330.5 153.2h0M334.1 128.6h0M331.6 118.5h0" stroke="#ff0000" stroke-opacity="0.44" stroke-width="2.5" stroke-linecap="round" fill="none"/>
<path d="M332.9 101.5h0M334.2 166.6h0M337.1 137.2h0M337.6 107.9h0M333.7 138.7h0M333.6 147.1h0M335.8 114.9h0M336.4 133.0h0M335.4 151.8h0M336.2 165.4h0M330.7 116.6h0M337.5 133.7h0M336.2 111.3h0M335.4 134.2h0M330.6 113.1h0M335.0 123.4h0M330.5 121.3h0M334.6 149.2h0M336.4 130.4h0M334.5 146.5h0M335.4 119.2h0M331.8 162.6h0M331.0 151.2h0M335.1 127.2h0M334.7 150.5h0M330.6 134.5h0M332.1 147.9h0M333.2 132.6h0M336.0 174.5h0M335.9 144.4h0M335.4 113.4h0M333.1 129.4h0M337.8 143.6h0M335.5 137.3h0M332.8 144.1h0M332.4 138.0h0M337.9 142.8h0M332.1 167.5h0M332.7 122.8h0M334.6 128.2h0M333.4 147.4h0M331.3 149.9h0M336.3 136.5h0M336.8 142.4h0M333.4 143.1h0M331.3 121.8h0M335.7 117.3h0M336.0 124.9h0M335.5 154.5h0M331.3 129.0h0M332.5 110.8h0M335.2 163.0h0M330.4 132.6h0M335.6 140.9h0M337.7 161.6h0M336.7 165.0h0M334.9 170.4h0M333.4 136.9h0" stroke="#ff0000" stroke-opacity="0.44" stroke-width="2.5" stroke-linecap="round" fill="none"/>
<path d="M346.7 163.1h0M341.8 151.5h0M345.3 161.1h0M342.3 175.7h0M343.6 150.1h0M344.9 154.5h0M345.5 141.2h0" stroke="#0000ff" stroke-opacity="0.44" stroke-width="2.5" stroke-linecap="round" fill="none"/>
<path d="M345.1 173.7h0M348.8 169.9h0M348.5 135.4h0M345.5 143.1h0M346.0 170.4h0M346.4 145.9h0M344.8 171.7h0" stroke="#0000ff" stroke-opacity="0.44" stroke-width="2.5" stroke-linecap="round" fill="none"/>
<path d="M346.9 152.5h0M344.5 160.1h0M342.3 172.7h0M342.7 171.3h0M343.9 149.3h0M348.8 173.0h0" stroke="#0000ff" stroke-opacity="0.44" stroke-width="2.5" stroke-linecap="round" fill="none"/>
<path d="M344.3 170.9h0M349.2 168.1h0M343.0 164.0h0M348.1 167.5h0M346.7 158.0h0M346.3 165.2h0" stroke="#0000ff" stroke-opacity="0.44" stroke-width="2.5" stroke-linecap="round" fill="none"/>
<path d="M346.1 165.1h0M346.7 156.3h0M343.1 146.7h0M347.6 159.6h0M349.2 148.1h0M344.1 166.4h0" stroke="#0000ff" stroke-opacity="0.44" stroke-width="2.5" stroke-linecap="round" fill="none"/>
<path d="M358.1 112.4h0M358.8 116.3h0M359.4 91.7h0M360.0 123.5h0M354.8 104.5h0M354.8 105.6h0M355.9 115.0h0M355.1 111.1h0M354.8 110.9h0M358.3 120.1h0M353.9 123.3h0M354.4 110.4h0M359.6 123.6h0M356.1 130.1h0M360.5 121.0h0M360.5 117.0h0M354.8 112.1h0M358.8 125.0h0M355.4 132.2h0M353.8 114.0h0M354.5 134.6h0M356.1 116.1h0M353.6 112.1h0M354.4 122.9h0M353.2 121.8h0M360.1 96.1h0M354.1 121.4h0M356.8 114.3h0M357.2 117.8h0M357.3 109.3h0M359.9 83.0h0M360.1 109.9h0M355.9 102.8h0M353.8 128.7h0M357.7 111.8h0" stroke="#ff0000" stroke-opacity="0.44" stroke-width="2.5" stroke-linecap="round" fill="none"/>
<path d="M355.2 104.1h0M354.4 102.1h0M356.5 132.0h0M358.1 87.7h0M360.4 108.9h0M358.0 103.2h0M358.5 118.8h0M356.4 114.7h0M353.9 117.2h0M356.9 125.2h0M353.1 107.6h0M354.8 106.1h0M358.3 118.3h0M355.9 113.5h0M360.2 115.4h0M359.3 118.6h0M354.3 113.0h0M357.9 113.4h0M355.5 132.9h0M355.5 117.5h0M360.3 110.5h0M355.2 106.5h0M356.4 127.6h0M353.6 129.6h0M353.5 93.5h0M354.1 111.6h0M356.0 110.2h0M360.2 124.2h0M358.0 110.1h0M358.9 95.6h0M356.5 159.6h0M360.5 93.2h0M356.1 116.8h0M353.7 102.3h0M357.1 101.7h0" stroke="#ff0000" stroke-opacity="0.44" stroke-width="2.5" stroke-linecap="round" fill="none"/>
<path d="M359.6 128.2h0M355.1 100.5h0M359.5 133.5h0M355.3 111.9h0M358.9 109.2h0M359.5 107.9h0M359.2 91.2h0M359.0 112.8h0M353.3 130.5h0M358.5 126.5h0M357.3 110.5h0M359.6 108.5h0M358.5 103.7h0M358.9 125.7h0M354.1 127.3h0M359.0 138.2h0M353.1 107.4h0M353.4 121.7h0M358.9 112.6h0M355.2 97.3h0M353.0 141.6h0M353.7 121.3h0M358.3 106.7h0M353.4 111.7h0M354.4 116.4h0M355.9 114.2h0M356.4 109.5h0M354.4 107.2h0M357.6 105.1h0M354.2 124.1h0M353.0 111.2h0M357.8 122.1h0M359.3 124.8h0M355.6 124.3h0M353.1 114.5h0" stroke="#ff0000" stroke-opacity="0.44" stroke-width="2.5" stroke-linecap="round" fill="none"/>
<path d="M357.1 119.1h0M354.1 119.8h0M359.7 110.9h0M359.8 128.0h0M359.9 120.5h0M354.5 109.3h0M356.8 116.6h0M353.4 109.7h0M358.8 115.2h0M358.2 119.4h0M360.3 130.7h0M359.5 89.0h0M356.5 125.9h0M358.3 110.8h0M355.9 112.2h0M357.0 104.9h0M354.5 129.0h0M359.8 111.4h0M355.3 122.5h0M357.8 122.8h0M355.6 83.3h0M360.5 117.7h0M356.3 122.3h0M356.7 86.3h0M354.1 114.8h0M353.1 113.1h0M354.0 135.5h0M358.8 131.5h0M355.2 115.8h0M357.4 140.0h0M354.9 98.9h0M357.5 127.0h0M359.0 112.9h0M355.7 113.3h0" stroke="#ff0000" stroke-opacity="0.44" stroke-width="2.5" stroke-linecap="round" fill="none"/>
<path d="M354.3 110.7h0M355.8 126.7h0M357.1 120.8h0M358.0 109.6h0M359.9 118.4h0M353.1 119.1h0M353.0 115.5h0M353.5 101.2h0M359.7 94.7h0M357.3 126.1h0M359.0 120.0h0M353.7 137.1h0M359.6 118.1h0M359.7 136.4h0M356.2 96.9h0M359.3 98.0h0M360.5 99.9h0M358.7 111.5h0M360.6 100.0h0M359.5 119.6h0M355.7 112.7h0M354.8 108.2h0M358.0 109.8h0M359.4 99.1h0M354.0 117.4h0M355.8 113.7h0M360.0 113.8h0M356.3 112.4h0M360.3 113.2h0M360.0 105.6h0M357.7 111.4h0M353.5 113.6h0M354.7 115.9h0M353.8 120.3h0" stroke="#ff0000" stroke-opacity="0.44" stroke-width="2.5" stroke-linecap="round" fill="none"/>
<path d="M367.8 150.3h0M369.0 128.5h0M367.8 129.3h0M369.0 144.6h0M367.5 143.7h0M367.6 135.1h0M365.1 154.9h0M365.8 131.1h0M366.1 119.6h0M365.3 147.8h0M368.7 150.6h0M368.3 117.5h0M369.0 131.4h0M370.1 131.5h0M366.5 158.3h0M365.1 148.3h0M367.5 147.8h0M367.1 132.8h0M367.1 153.3h0M368.1 130.3h0M371.4 129.0h0M369.7 129.1h0M371.4 130.6h0M367.9 144.8h0M371.2 145.1h0M370.2 130.9h0M364.7 145.2h0M366.1 149.6h0M368.7 169.4h0M367.1 139.6h0M366.6 131.0h0M365.8 134.1h0M368.6 132.6h0M371.3 139.5h0M371.1 132.1h0M370.2 135.4h0M371.3 120.7h0M368.8 138.8h0M371.3 136.1h0M366.4 161.8h0M371.6 124.6h0M367.6 146.7h0M371.2 134.0h0M367.1 142.3h0M368.9 146.9h0M366.3 135.2h0M370.7 133.7h0M368.3 137.9h0M367.8 144.4h0M367.1 136.7h0M366.5 139.9h0M365.1 135.0h0M367.9 139.7h0M365.9 151.9h0M364.7 136.2h0M369.4 140.2h0M366.6 153.6h0M370.6 115.3h0M369.4 136.8h0M367.0 135.5h0M371.9 145.3h0M365.5 153.3h0M371.3 132.5h0M369.3 142.4h0M367.9 129.6h0M364.7 136.6h0M369.6 129.5h0M368.5 138.3h0M370.3 142.5h0M365.3 142.2h0M368.3 140.8h0M367.5 165.9h0M369.4 145.6h0M366.2 153.9h0M371.8 133.8h0M365.9 138.6h0M365.9 124.0h0M367.6 145.8h0M369.2 128.2h0M367.8 155.5h0M370.3 143.6h0M366.2 140.5h0M365.9 136.4h0M369.2 131.9h0M365.3 145.4h0M367.5 141.8h0M369.4 146.3h0M371.8 135.0h0M367.1 135.8h0M365.2 112.7h0M365.2 156.0h0M365.0 141.8h0M366.1 151.3h0M364.7 141.2h0M369.5 141.6h0M371.2 131.3h0M369.9 155.2h0M368.4 160.1h0M370.1 148.1h0M369.8 139.9h0M368.7 83.1h0M365.3 151.0h0M369.7 151.0h0M369.7 136.0h0" stroke="#ff0000" stroke-opacity="0.44" stroke-width="2.5" stroke-linecap="round" fill="none"/>
<path d="M365.3 126.8h0M368.1 112.6h0M365.7 144.0h0M367.6 143.2h0M370.5 145.6h0M364.4 152.3h0M366.7 138.9h0M369.1 142.8h0M364.5 120.2h0M368.7 168.1h0M365.6 118.5h0M371.2 121.7h0M368.4 136.9h0M370.1 138.7h0M367.4 145.0h0M366.1 152.0h0M364.5 142.7h0M364.9 143.5h0M370.4 146.1h0M368.0 148.7h0M364.4 147.3h0M365.9 138.1h0M367.8 146.6h0M369.4 108.8h0M366.6 146.2h0M369.0 133.3h0M370.7 141.4h0M368.6 159.8h0M364.4 141.4h0M364.9 131.2h0M365.0 146.8h0M368.9 148.0h0M369.2 158.4h0M369.5 124.8h0M370.8 130.6h0M365.9 136.3h0M367.5 139.4h0M365.8 141.2h0M367.6 139.8h0M370.4 142.0h0M367.0 140.8h0M368.5 156.9h0M370.4 164.7h0M370.2 140.6h0M370.0 156.7h0M369.7 135.6h0M369.0 140.2h0M370.7 137.6h0M371.3 150.0h0M365.7 157.1h0M369.8 143.4h0M368.5 157.3h0M365.2 138.4h0M371.8 107.9h0M367.7 152.5h0M371.5 114.8h0M366.7 94.6h0M367.0 152.8h0M367.5 160.4h0M370.7 134.3h0M371.6 127.3h0M364.7 135.6h0M368.1 126.4h0M366.7 150.4h0M367.6 126.2h0M367.6 127.8h0M368.7 144.5h0M367.6 144.0h0M368.4 139.3h0M365.1 141.6h0M368.7 156.4h0M370.6 140.7h0M366.9 149.3h0M366.9 145.7h0M370.9 103.0h0M371.4 140.8h0M369.6 141.9h0M370.6 148.9h0M366.0 154.5h0M371.3 116.6h0M371.6 133.8h0M371.9 143.2h0M369.2 133.5h0M370.6 147.7h0M370.3 139.4h0M366.2 146.3h0M364.7 150.3h0M370.8 149.1h0M369.1 139.2h0M366.4 140.3h0M370.1 153.1h0M366.0 133.2h0M367.0 123.4h0M369.3 149.8h0M365.3 133.6h0M365.8 129.1h0M365.0 174.5h0M364.8 146.6h0M367.4 116.9h0M370.5 142.0h0M370.8 147.6h0M368.5 158.8h0M367.8 132.1h0" stroke="#ff0000" stroke-opacity="0.44" stroke-width="2.5" stroke-linecap="round" fill="none"/>
<path d="M371.8 139.1h0M365.6 122.4h0M364.5 144.4h0M368.5 132.8h0M368.2 140.5h0M370.0 154.0h0M371.8 123.3h0M369.0 135.9h0M371.0 145.3h0M365.0 143.5h0M364.6 132.0h0M371.9 148.1h0M364.8 134.3h0M364.5 131.3h0M364.8 136.3h0M367.7 144.1h0M371.8 137.5h0M370.8 117.1h0M369.7 154.3h0M367.5 141.0h0M371.5 127.9h0M371.0 161.1h0M369.5 156.2h0M368.4 121.2h0M364.5 124.9h0M368.4 142.3h0M365.2 157.8h0M364.9 134.9h0M367.1 119.0h0M366.2 162.9h0M369.0 131.6h0M364.8 142.4h0M371.4 141.3h0M370.3 126.0h0M369.2 139.1h0M368.0 130.0h0M364.4 143.1h0M369.5 141.5h0M366.5 126.6h0M370.7 122.5h0M367.2 133.5h0M367.0 141.5h0M365.8 147.4h0M364.4 155.0h0M371.9 113.3h0M368.0 160.8h0M368.3 155.3h0M368.4 123.8h0M366.0 140.3h0M365.4 125.6h0M365.3 140.9h0M365.6 119.3h0M371.6 127.6h0M366.5 146.8h0M367.3 148.5h0M371.9 142.6h0M368.8 137.5h0M366.4 146.4h0M370.6 134.2h0M367.3 118.0h0M366.0 123.1h0M366.8 150.7h0M369.6 163.5h0M368.9 136.1h0M368.9 138.5h0M364.8 152.9h0M368.4 117.7h0M365.0 134.0h0M370.1 132.6h0M370.7 148.4h0M365.8 149.5h0M368.6 118.2h0M364.4 119.9h0M367.8 135.9h0M366.3 138.9h0M370.4 140.0h0M369.1 150.5h0M371.9 137.8h0M366.3 125.3h0M369.1 129.9h0M368.0 151.8h0M368.4 138.1h0M371.7 114.4h0M368.4 159.4h0M368.2 143.4h0M364.8 149.2h0M369.7 148.8h0M369.9 145.9h0M365.1 138.9h0M366.2 126.9h0M365.5 127.4h0M370.1 147.9h0M371.6 176.8h0M371.8 130.0h0M366.7 131.8h0M371.8 132.4h0M371.3 129.6h0M367.3 137.3h0M368.8 136.5h0M366.0 154.2h0M371.7 144.3h0M371.5 130.8h0M366.7 134.7h0" stroke="#ff0000" stroke-opacity="0.44" stroke-width="2.5" stroke-linecap="round" fill="none"/>
<path d="M370.7 120.9h0M365.9 131.8h0M369.2 149.4h0M367.9 139.0h0M367.5 135.7h0M367.0 113.8h0M370.4 125.8h0M368.3 127.5h0M369.8 137.6h0M370.2 138.0h0M368.8 121.6h0M365.9 135.8h0M370.3 126.4h0M370.6 151.3h0M367.3 135.4h0M371.7 139.6h0M366.5 130.4h0M364.9 133.9h0M371.4 111.2h0M366.9 133.0h0M370.3 129.3h0M371.1 133.0h0M370.8 142.1h0M367.6 133.5h0M370.8 147.2h0M370.6 158.0h0M369.8 121.9h0M371.5 132.2h0M367.7 151.7h0M364.4 130.3h0M371.0 144.8h0M369.1 151.6h0M368.1 142.6h0M365.9 151.2h0M365.9 136.9h0M368.4 128.7h0M365.9 137.0h0M370.3 137.4h0M369.6 141.2h0M368.9 132.7h0M367.9 125.2h0M371.8 147.1h0M365.0 118.9h0M369.6 142.8h0M369.3 137.0h0M366.6 130.5h0M365.0 134.6h0M369.4 147.4h0M366.1 146.5h0M369.1 142.7h0M370.2 137.8h0M370.3 147.0h0M368.1 132.3h0M365.0 145.0h0M369.1 134.8h0M369.5 141.1h0M368.8 134.6h0M369.7 150.8h0M366.5 155.9h0M370.5 143.0h0M364.7 136.4h0M367.6 147.1h0M365.7 133.2h0M367.8 138.0h0M370.7 115.9h0M368.7 146.9h0M370.1 148.6h0M369.5 135.2h0M365.6 154.6h0M365.7 146.0h0M365.2 129.8h0M364.4 121.4h0M370.0 135.7h0M365.6 144.7h0M366.7 110.3h0M367.0 151.5h0M368.9 139.8h0M365.6 143.0h0M371.7 159.0h0M364.6 137.4h0M368.9 153.0h0M371.1 131.5h0M368.4 144.2h0M371.0 144.6h0M364.8 150.9h0M367.3 127.2h0M371.0 116.3h0M370.5 145.4h0M371.8 162.2h0M371.9 141.7h0M370.7 140.4h0M371.3 122.9h0M365.7 136.2h0M367.0 150.1h0M367.1 139.4h0M364.6 143.3h0M366.1 143.6h0M371.5 138.6h0M371.6 153.7h0M368.4 127.0h0M364.7 138.3h0M370.7 126.6h0M370.1 152.5h0" stroke="#ff0000" stroke-opacity="0.44" stroke-width="2.5" stroke-linecap="round" fill="none"/>
<path d="M367.5 145.8h0M370.1 142.9h0M370.8 124.2h0M368.8 145.5h0M365.7 125.0h0M366.7 130.8h0M369.0 127.1h0M371.9 128.4h0M365.2 152.7h0M369.1 148.5h0M366.4 131.7h0M371.2 115.2h0M369.5 143.8h0M369.0 153.8h0M367.6 136.7h0M367.2 137.2h0M369.4 76.9h0M369.8 134.9h0M366.9 132.3h0M364.8 145.9h0M370.7 135.3h0M368.5 130.1h0M367.4 131.9h0M366.9 137.9h0M369.3 134.8h0M367.1 133.1h0M370.9 137.2h0M365.2 125.4h0M367.3 134.4h0M367.2 120.5h0M366.6 152.3h0M369.7 152.1h0M367.9 140.0h0M370.0 155.7h0M369.4 140.1h0M366.2 126.1h0M371.0 156.6h0M367.0 118.8h0M366.6 149.9h0M365.1 138.7h0M366.0 139.7h0M368.6 144.1h0M370.3 123.0h0M369.3 134.5h0M369.4 157.5h0M366.4 133.1h0M368.2 149.0h0M369.9 120.5h0M367.5 143.7h0M370.1 137.2h0M367.9 124.5h0M367.8 142.2h0M365.8 128.0h0M365.3 132.9h0M369.3 140.5h0M367.6 125.8h0M368.0 148.2h0M371.5 133.3h0M369.8 137.7h0M369.3 154.8h0M367.1 136.6h0M365.9 128.8h0M371.1 124.4h0M368.0 123.8h0M368.5 128.9h0M370.8 144.2h0M367.9 138.2h0M371.3 141.9h0M365.7 121.8h0M367.8 139.2h0M366.1 159.3h0M366.2 120.0h0M369.2 148.9h0M365.3 140.7h0M367.7 144.7h0M368.0 111.9h0M371.5 128.2h0M371.5 122.2h0M370.7 149.3h0M368.9 138.3h0M369.6 163.9h0M368.7 124.1h0M370.8 143.9h0M368.1 149.7h0M371.3 141.0h0M366.0 137.1h0M371.7 146.1h0M368.4 133.8h0M369.8 134.7h0M366.8 162.4h0M364.4 122.6h0M369.0 144.9h0M366.3 128.7h0M370.3 127.7h0M369.8 123.6h0M371.4 134.2h0M369.2 129.8h0M365.5 125.5h0M367.9 142.9h0M367.9 147.5h0M367.1 149.9h0M370.8 128.3h0M368.2 138.5h0" stroke="#ff0000" stroke-opacity="0.44" stroke-width="2.5" stroke-linecap="round" fill="none"/>
<path d="M383.1 146.5h0M379.8 160.7h0M380.9 153.7h0M377.5 160.1h0M380.0 157.2h0M377.9 128.9h0M376.6 147.4h0M381.1 147.2h0M379.1 157.6h0M381.8 144.5h0M377.0 145.6h0M377.7 143.1h0M381.3 139.0h0M377.1 140.1h0M382.1 157.5h0M380.0 133.5h0M377.6 158.6h0M381.5 175.8h0M379.9 138.0h0M381.6 166.9h0M381.3 144.0h0M378.2 147.6h0M380.9 120.0h0M375.8 135.4h0M380.0 160.0h0M381.2 170.4h0M377.3 182.8h0M376.5 172.3h0M381.2 152.3h0M383.0 157.8h0M379.1 155.8h0M376.5 144.1h0M375.9 186.1h0M379.6 169.1h0M377.1 112.9h0M381.0 117.5h0M377.8 164.7h0M377.0 135.0h0M382.4 111.6h0M379.0 160.2h0M382.9 138.7h0M376.1 185.3h0M377.1 165.9h0M381.9 165.4h0M375.9 122.4h0M377.4 116.2h0M378.6 151.6h0M381.1 144.9h0M376.7 130.1h0M380.5 173.8h0M382.8 138.3h0M377.5 156.1h0M380.3 124.2h0M376.1 119.1h0M380.1 162.5h0M377.5 173.2h0M379.7 165.8h0M377.4 123.6h0M382.7 149.3h0M379.6 147.7h0M383.2 153.1h0M381.2 145.5h0M382.0 156.8h0M378.8 158.0h0M378.3 156.6h0M380.7 159.3h0M376.3 136.2h0M376.9 128.0h0M377.7 140.7h0M380.4 143.1h0M381.1 110.2h0M378.3 117.4h0M382.6 155.0h0M378.1 169.8h0M376.7 146.0h0" stroke="#ff0000" stroke-opacity="0.44" stroke-width="2.5" stroke-linecap="round" fill="none"/>
<path d="M380.9 148.4h0M376.8 118.4h0M380.2 154.9h0M377.4 166.3h0M376.8 191.0h0M380.8 171.2h0M377.3 141.1h0M382.0 174.7h0M377.8 131.4h0M377.3 134.4h0M377.0 142.8h0M377.2 170.3h0M376.4 152.7h0M378.1 137.4h0M379.2 128.7h0M375.9 133.6h0M378.2 121.1h0M380.9 144.8h0M378.2 171.8h0M378.2 171.0h0M382.6 94.8h0M381.3 149.0h0M383.0 147.9h0M379.7 146.3h0M383.0 163.9h0M379.8 176.4h0M380.7 144.4h0M375.7 167.3h0M383.0 203.8h0M377.9 143.7h0M381.9 148.2h0M375.9 182.1h0M379.5 156.8h0M381.0 148.1h0M380.9 111.3h0M379.7 109.2h0M380.1 162.8h0M379.3 126.1h0M376.8 122.2h0M378.3 161.3h0M378.2 173.1h0M383.1 152.7h0M382.3 155.3h0M376.7 140.0h0M382.0 132.8h0M379.4 158.3h0M382.6 137.8h0M379.0 148.7h0M378.2 173.7h0M375.9 146.0h0M377.8 139.2h0M377.0 162.2h0M380.8 127.4h0M378.4 202.5h0M376.6 102.7h0M376.9 162.1h0M378.4 150.7h0M376.7 152.2h0M376.8 123.2h0M382.6 124.6h0M380.8 144.1h0M379.6 124.0h0M377.2 115.8h0M379.6 132.1h0M380.2 134.6h0M380.0 151.2h0M379.1 142.6h0M378.2 138.6h0M382.2 169.8h0M382.9 156.5h0M376.9 149.6h0M375.8 158.9h0M382.2 166.7h0M376.4 148.9h0" stroke="#ff0000" stroke-opacity="0.44" stroke-width="2.5" stroke-linecap="round" fill="none"/>
<path d="M381.3 154.3h0M380.5 150.4h0M379.5 172.8h0M379.9 128.5h0M380.9 124.7h0M381.6 198.7h0M383.2 129.6h0M377.9 110.4h0M381.5 153.6h0M377.0 181.5h0M379.5 163.2h0M381.1 137.3h0M377.0 142.2h0M377.7 104.4h0M376.8 153.4h0M379.5 136.8h0M377.1 146.2h0M383.1 153.8h0M381.7 174.1h0M379.9 154.5h0M376.1 118.2h0M379.7 146.6h0M382.9 119.0h0M380.4 182.3h0M382.0 152.6h0M378.9 130.7h0M378.1 154.5h0M376.1 183.4h0M379.8 132.4h0M379.8 151.8h0M381.5 177.8h0M378.1 155.2h0M381.3 137.0h0M382.0 188.0h0M380.4 142.5h0M380.4 108.7h0M377.7 151.7h0M382.5 119.7h0M376.6 147.0h0M383.3 146.8h0M380.5 136.5h0M377.0 163.6h0M381.3 126.5h0M381.9 135.1h0M383.2 149.2h0M378.4 197.1h0M377.0 183.9h0M379.0 142.8h0M382.6 129.3h0M380.5 131.1h0M381.8 94.6h0M377.7 140.4h0M376.7 157.1h0M378.4 150.3h0M377.1 125.7h0M376.5 134.2h0M379.9 163.1h0M378.2 148.6h0M380.9 165.0h0M380.2 166.2h0M376.3 129.8h0M382.4 135.7h0M382.7 142.0h0M381.7 164.4h0M383.2 178.5h0M383.2 137.6h0M378.3 107.5h0M382.5 192.6h0M382.1 140.6h0M375.8 165.1h0M382.4 131.6h0M376.6 123.1h0M381.6 160.5h0M381.3 151.0h0" stroke="#ff0000" stroke-opacity="0.44" stroke-width="2.5" stroke-linecap="round" fill="none"/>
<path d="M382.0 134.1h0M381.2 135.3h0M381.7 145.8h0M377.0 115.1h0M378.4 138.5h0M377.4 161.9h0M380.3 159.5h0M383.0 167.1h0M380.4 134.8h0M380.0 140.9h0M377.7 98.6h0M379.3 131.4h0M382.7 156.0h0M382.4 138.1h0M377.7 179.2h0M382.4 192.2h0M380.1 169.0h0M377.2 160.8h0M382.0 145.0h0M382.9 135.9h0M379.7 153.3h0M379.1 138.8h0M378.8 155.8h0M380.2 170.8h0M381.4 174.8h0M380.2 148.3h0M380.7 122.7h0M378.9 186.8h0M379.9 171.4h0M382.6 137.0h0M381.6 150.6h0M381.8 158.8h0M381.5 125.9h0M381.5 133.0h0M377.4 133.3h0M377.6 155.6h0M377.5 150.1h0M381.3 154.7h0M379.8 147.3h0M378.4 167.8h0M381.8 136.1h0M377.9 121.7h0M376.8 139.6h0M376.8 141.6h0M380.2 159.7h0M377.2 161.5h0M379.0 97.3h0M379.5 162.7h0M380.9 104.7h0M381.4 150.8h0M381.8 163.5h0M381.4 188.5h0M376.2 131.9h0M377.3 177.1h0M381.3 143.5h0M381.8 139.8h0M380.4 149.7h0M381.4 125.1h0M380.4 161.8h0M380.5 127.1h0M378.8 179.3h0M378.4 130.4h0M380.5 136.7h0M380.9 168.3h0M377.3 141.3h0M381.6 94.9h0M380.7 120.3h0M379.4 149.5h0M377.6 102.0h0M377.5 116.7h0M382.5 127.8h0M377.5 168.0h0M380.6 133.8h0M379.9 143.7h0" stroke="#ff0000" stroke-opacity="0.44" stroke-width="2.5" stroke-linecap="round" fill="none"/>
<path d="M375.9 115.5h0M380.6 106.0h0M378.4 154.1h0M377.5 130.6h0M382.4 155.4h0M382.4 113.8h0M381.4 143.4h0M383.1 189.3h0M378.4 153.0h0M379.9 139.4h0M378.3 100.7h0M379.4 120.7h0M379.1 132.6h0M376.8 161.1h0M381.0 121.3h0M378.7 144.7h0M380.0 181.0h0M379.2 172.2h0M383.0 152.0h0M376.7 95.3h0M380.9 135.6h0M382.3 145.4h0M383.1 161.4h0M380.6 128.3h0M379.2 200.5h0M383.1 154.2h0M377.0 141.0h0M379.3 151.1h0M380.4 180.4h0M379.2 140.3h0M381.6 141.5h0M380.5 167.5h0M382.1 180.1h0M376.8 113.3h0M382.4 175.3h0M379.8 156.2h0M381.3 126.8h0M381.3 158.4h0M383.3 157.3h0M379.8 145.2h0M379.7 159.2h0M383.1 168.7h0M380.8 168.3h0M378.5 176.5h0M381.8 177.6h0M375.8 126.9h0M383.2 114.4h0M381.3 169.4h0M377.3 141.7h0M379.3 149.8h0M376.5 146.9h0M377.0 164.0h0M377.6 178.2h0M377.7 159.6h0M382.6 142.3h0M379.0 106.7h0M377.3 149.1h0M377.0 165.4h0M382.7 157.9h0M379.8 194.5h0M377.4 112.4h0M379.5 125.3h0M378.5 130.0h0M381.6 175.4h0M377.9 152.9h0M381.8 150.0h0M376.9 158.6h0M378.3 141.8h0M379.3 160.7h0M382.6 164.4h0M381.6 151.9h0M377.3 139.4h0M380.1 151.4h0M380.9 185.0h0" stroke="#ff0000" stroke-opacity="0.44" stroke-width="2.5" stroke-linecap="round" fill="none"/>
<path d="M394.5 164.2h0M390.8 184.0h0M387.5 183.0h0M387.3 179.3h0M391.7 165.7h0M392.1 170.6h0M389.2 180.9h0M389.6 176.0h0M390.2 176.1h0M387.1 173.7h0" stroke="#0000ff" stroke-opacity="0.44" stroke-width="2.5" stroke-linecap="round" fill="none"/>
<path d="M393.8 180.2h0M392.2 182.1h0M390.5 174.3h0M393.6 176.7h0M389.4 168.0h0M387.1 178.1h0M392.8 171.6h0M390.9 173.3h0M389.1 177.8h0M389.9 180.5h0" stroke="#0000ff" stroke-opacity="0.44" stroke-width="2.5" stroke-linecap="round" fill="none"/>
<path d="M390.0 188.2h0M392.5 175.4h0M393.3 177.5h0M391.1 179.7h0M391.0 179.0h0M393.9 179.4h0M387.1 169.3h0M391.7 178.8h0M388.7 172.9h0M391.1 186.5h0" stroke="#0000ff" stroke-opacity="0.44" stroke-width="2.5" stroke-linecap="round" fill="none"/>
<path d="M393.1 181.2h0M389.8 183.9h0M394.1 174.7h0M388.3 170.5h0M388.9 174.8h0M394.1 171.3h0M390.2 170.0h0M389.5 180.1h0M390.3 176.9h0M392.1 168.5h0" stroke="#0000ff" stroke-opacity="0.44" stroke-width="2.5" stroke-linecap="round" fill="none"/>
<path d="M390.0 177.7h0M389.3 178.5h0M388.8 161.2h0M392.9 167.1h0M392.4 178.2h0M393.4 166.5h0M390.4 181.7h0M393.1 185.3h0M394.5 182.6h0M389.0 172.0h0" stroke="#0000ff" stroke-opacity="0.44" stroke-width="2.5" stroke-linecap="round" fill="none"/>
<path d="M399.6 147.9h0M405.9 118.2h0M405.3 107.3h0M405.3 157.3h0M405.5 126.8h0M399.9 136.3h0M399.3 130.8h0M404.6 133.6h0M403.4 102.0h0M403.9 143.1h0M399.3 131.3h0M404.9 142.7h0M403.3 112.6h0M403.8 135.3h0M404.7 107.7h0M401.9 116.1h0M400.8 103.8h0M403.7 134.6h0M401.5 119.7h0M402.0 143.2h0M405.7 149.3h0M403.4 130.1h0M405.9 97.1h0M403.0 150.0h0M405.9 141.9h0M401.8 128.2h0M399.8 105.8h0M403.8 125.8h0M398.8 121.5h0M399.2 120.3h0M406.0 141.8h0M401.9 128.5h0M403.9 135.8h0M405.3 83.1h0M403.3 122.4h0M399.0 167.4h0M399.0 110.5h0M401.3 108.8h0M400.2 102.6h0M398.8 143.3h0M398.7 128.0h0M402.4 116.9h0M400.2 136.3h0M405.2 130.8h0M400.0 131.9h0M404.0 119.3h0M398.7 130.0h0M403.3 125.6h0M399.6 126.4h0M404.5 106.2h0M400.4 134.4h0M398.5 120.5h0M400.3 113.6h0M402.0 114.0h0M400.7 127.9h0M402.7 164.2h0M402.9 129.0h0M405.8 107.1h0M401.9 142.1h0M400.1 128.2h0M405.7 129.7h0M404.0 169.8h0M403.2 139.8h0M404.7 132.5h0M398.5 121.6h0M400.3 135.4h0M398.6 133.2h0M404.6 119.1h0M400.0 125.4h0M403.2 111.3h0M403.3 109.3h0M405.6 132.1h0M398.9 117.4h0M400.2 124.0h0M399.5 127.6h0M400.4 119.8h0M402.1 133.0h0M403.5 135.1h0M405.2 115.6h0M400.7 109.2h0M399.3 131.4h0M404.7 120.7h0M406.0 124.9h0M399.7 159.4h0M398.5 124.7h0M402.5 134.1h0M400.6 132.8h0M402.9 139.9h0M402.5 105.6h0M401.3 118.0h0M400.5 113.1h0M404.6 132.7h0M403.8 127.7h0M402.8 116.3h0M405.5 135.7h0M401.1 142.7h0M401.7 123.4h0M398.8 133.8h0M404.2 111.7h0M403.3 159.1h0M400.4 113.8h0M403.6 130.2h0M403.2 146.2h0" stroke="#ff0000" stroke-opacity="0.44" stroke-width="2.5" stroke-linecap="round" fill="none"/>
<path d="M402.1 119.5h0M398.6 104.6h0M404.3 149.6h0M405.8 150.6h0M404.5 132.1h0M400.9 141.3h0M402.5 127.4h0M400.1 139.1h0M402.8 140.2h0M399.4 119.2h0M402.8 101.0h0M405.5 119.1h0M404.9 129.3h0M404.6 134.7h0M399.2 145.3h0M404.2 121.8h0M401.2 111.4h0M402.4 119.6h0M400.2 118.4h0M404.2 92.6h0M399.4 150.5h0M404.4 126.6h0M401.4 146.4h0M398.5 104.0h0M405.8 110.8h0M405.5 119.0h0M399.8 168.0h0M399.7 128.4h0M404.2 147.4h0M399.5 121.2h0M402.3 142.5h0M400.9 154.8h0M402.9 102.9h0M399.9 125.5h0M404.1 152.2h0M405.1 147.0h0M405.3 139.6h0M399.0 105.3h0M406.0 80.8h0M399.1 155.3h0M402.9 129.0h0M404.5 114.5h0M399.3 134.6h0M398.7 136.8h0M403.7 114.8h0M399.0 133.8h0M400.4 125.3h0M398.7 122.7h0M404.3 122.7h0M404.6 124.4h0M399.3 118.2h0M399.7 123.1h0M400.4 140.9h0M403.7 101.5h0M405.4 138.1h0M401.4 117.7h0M401.3 109.5h0M404.4 112.7h0M399.4 111.9h0M405.5 146.2h0M402.7 93.3h0M405.9 133.4h0M403.4 137.9h0M401.4 110.1h0M404.3 113.9h0M401.2 124.5h0M403.7 155.8h0M402.3 151.8h0M403.3 138.5h0M399.8 115.4h0M399.9 130.0h0M400.4 118.9h0M403.5 121.5h0M402.1 156.6h0M398.8 133.1h0M405.3 125.6h0M399.9 106.6h0M404.3 136.5h0M405.1 125.1h0M399.2 117.9h0M402.0 113.2h0M403.3 102.1h0M402.9 145.7h0M400.7 120.1h0M398.5 112.3h0M405.3 126.7h0M399.3 127.6h0M399.5 120.8h0M400.9 135.5h0M401.8 134.1h0M399.9 146.6h0M402.9 153.9h0M400.7 121.0h0M404.6 116.5h0M405.6 142.3h0M404.9 134.0h0M399.3 112.5h0M403.4 151.1h0M405.0 131.8h0M404.6 111.7h0M404.0 123.8h0M399.4 127.1h0M404.6 133.3h0" stroke="#ff0000" stroke-opacity="0.44" stroke-width="2.5" stroke-linecap="round" fill="none"/>
<path d="M403.7 129.6h0M400.5 137.5h0M401.1 131.2h0M404.1 129.6h0M402.6 116.4h0M405.1 136.9h0M404.9 122.5h0M405.8 161.8h0M405.3 151.5h0M402.7 98.3h0M400.8 122.6h0M405.6 118.8h0M404.2 108.2h0M404.0 117.6h0M402.4 124.3h0M403.0 127.5h0M399.5 123.0h0M401.1 105.5h0M404.9 146.8h0M405.0 137.2h0M402.4 131.6h0M398.9 120.0h0M406.0 120.3h0M405.2 87.0h0M401.0 128.6h0M401.3 144.7h0M398.6 137.3h0M404.0 137.0h0M402.2 142.9h0M403.7 121.9h0M401.1 130.9h0M400.1 110.0h0M403.7 122.9h0M398.5 136.0h0M404.2 129.9h0M399.3 119.4h0M400.5 117.1h0M402.7 139.7h0M405.3 109.0h0M403.2 108.4h0M403.5 127.2h0M402.5 138.2h0M405.4 150.9h0M398.7 117.6h0M399.7 158.4h0M401.4 122.3h0M403.5 109.6h0M400.6 135.5h0M402.6 102.4h0M400.1 133.6h0M400.5 152.9h0M401.7 115.9h0M400.2 128.1h0M399.0 144.0h0M405.6 148.5h0M399.3 165.7h0M404.4 114.3h0M400.9 127.8h0M398.6 108.1h0M402.4 160.3h0M404.4 99.9h0M399.4 140.5h0M405.2 133.5h0M401.9 114.6h0M398.6 140.7h0M403.1 125.0h0M401.3 118.4h0M400.2 131.0h0M403.7 130.6h0M402.1 129.1h0M403.9 100.1h0M401.0 128.4h0M405.8 134.5h0M402.1 103.3h0M399.9 90.5h0M401.4 122.2h0M405.5 112.0h0M402.2 103.1h0M400.6 121.7h0M405.9 85.2h0M402.2 133.3h0M404.3 141.7h0M401.0 132.6h0M400.7 124.2h0M403.0 129.2h0M405.2 120.9h0M401.2 140.0h0M400.4 115.2h0M399.1 148.3h0M398.9 98.4h0M402.5 114.2h0M403.5 116.9h0M402.3 96.3h0M404.3 145.1h0M403.9 127.5h0M405.0 124.0h0M399.1 104.3h0M400.9 121.3h0M401.1 113.0h0M400.4 141.6h0M402.0 74.1h0M402.7 134.8h0M405.0 134.2h0" stroke="#ff0000" stroke-opacity="0.44" stroke-width="2.5" stroke-linecap="round" fill="none"/>
<path d="M400.4 130.2h0M405.0 153.2h0M403.6 114.5h0M404.2 117.4h0M401.4 99.3h0M405.9 131.7h0M404.0 139.3h0M398.6 134.9h0M399.8 97.4h0M402.4 137.5h0M402.0 95.3h0M401.4 136.2h0M404.6 130.9h0M403.3 129.8h0M405.1 136.1h0M404.8 138.3h0M405.8 131.7h0M403.3 133.7h0M404.1 106.1h0M404.0 128.9h0M401.0 107.6h0M399.9 135.1h0M401.4 135.6h0M399.1 115.7h0M399.6 123.8h0M405.5 132.0h0M400.6 161.4h0M402.4 137.8h0M402.6 110.4h0M403.1 137.7h0M404.0 99.6h0M401.3 95.6h0M400.4 115.1h0M400.1 143.6h0M403.1 89.5h0M402.3 107.9h0M402.8 135.2h0M405.6 91.4h0M403.9 144.5h0M404.8 116.5h0M400.4 128.7h0M402.5 117.3h0M400.9 96.6h0M402.8 132.8h0M399.5 134.4h0M404.9 137.4h0M404.0 122.0h0M402.0 129.4h0M405.8 127.0h0M405.2 116.8h0M400.5 117.1h0M402.7 149.0h0M402.2 149.4h0M402.8 135.9h0M405.1 120.8h0M400.2 152.1h0M405.5 104.7h0M398.7 126.3h0M403.7 129.7h0M404.4 133.0h0M405.5 141.1h0M400.9 116.7h0M403.8 106.7h0M404.3 100.5h0M404.2 147.6h0M399.3 126.1h0M401.3 118.7h0M401.7 140.6h0M404.4 94.1h0M404.2 122.8h0M406.0 111.2h0M401.3 124.6h0M402.7 126.3h0M398.9 131.5h0M403.7 115.5h0M405.5 132.4h0M399.2 144.5h0M401.2 148.8h0M401.7 104.5h0M398.9 125.9h0M401.1 126.7h0M398.8 126.4h0M403.5 141.1h0M399.0 132.2h0M399.8 125.2h0M398.7 111.1h0M405.3 99.0h0M400.6 130.4h0M401.6 131.1h0M402.4 128.2h0M400.6 132.4h0M400.8 145.4h0M402.9 110.7h0M402.2 125.1h0M404.8 89.1h0M403.5 152.5h0M399.4 135.0h0M403.9 117.8h0M400.4 108.6h0M403.6 106.3h0M399.6 111.0h0M405.1 124.1h0M401.4 129.3h0" stroke="#ff0000" stroke-opacity="0.44" stroke-width="2.5" stroke-linecap="round" fill="none"/>
<path d="M405.5 136.7h0M402.8 108.6h0M404.0 101.5h0M405.8 148.1h0M398.5 121.7h0M402.7 121.4h0M400.8 113.4h0M400.5 128.8h0M402.1 133.9h0M403.3 120.4h0M399.0 145.9h0M399.8 126.0h0M399.9 124.8h0M403.3 112.4h0M402.7 132.6h0M406.0 123.6h0M403.2 139.2h0M403.2 126.1h0M402.7 123.4h0M400.4 120.1h0M398.5 109.9h0M399.9 112.8h0M404.9 153.6h0M401.6 124.6h0M399.0 128.5h0M401.8 118.6h0M399.3 115.4h0M405.5 115.0h0M402.5 157.0h0M404.5 136.7h0M400.7 123.3h0M400.0 130.3h0M404.1 110.2h0M401.1 112.1h0M402.3 125.9h0M400.0 139.4h0M399.6 128.7h0M399.7 116.1h0M405.0 156.0h0M404.3 123.2h0M399.5 154.3h0M404.5 127.2h0M402.3 116.0h0M406.0 105.0h0M401.3 94.8h0M401.2 140.3h0M404.1 118.0h0M400.7 113.7h0M402.1 138.1h0M402.1 166.3h0M400.9 130.5h0M401.7 143.4h0M403.8 162.5h0M402.9 109.8h0M399.6 139.0h0M399.8 114.9h0M398.5 140.1h0M404.2 127.0h0M405.7 163.3h0M398.6 145.6h0M403.3 145.0h0M405.8 144.2h0M405.2 157.9h0M405.5 107.3h0M403.1 122.1h0M405.3 106.8h0M403.6 126.8h0M405.1 129.5h0M403.0 136.1h0M402.5 118.5h0M404.0 147.8h0M399.7 150.1h0M405.1 127.8h0M400.5 123.6h0M402.5 97.6h0M403.9 103.5h0M401.5 130.4h0M401.3 120.6h0M406.0 141.4h0M405.0 138.7h0M402.0 119.9h0M405.8 114.1h0M403.4 138.6h0M402.8 142.1h0M403.9 132.2h0M400.6 143.7h0M400.3 123.5h0M404.8 136.5h0M400.5 125.2h0M401.5 147.3h0M399.9 100.7h0M399.3 154.7h0M405.6 138.8h0M405.5 127.3h0M400.5 130.6h0M405.7 131.5h0M404.0 121.1h0M400.0 92.4h0M404.8 144.1h0M401.5 131.3h0M398.8 122.3h0M398.5 123.9h0M400.8 113.4h0" stroke="#ff0000" stroke-opacity="0.44" stroke-width="2.5" stroke-linecap="round" fill="none"/>
<path d="M416.8 151.0h0M410.2 154.6h0M411.8 156.1h0M414.0 148.0h0M412.7 148.7h0M415.2 142.1h0M413.9 143.2h0M411.2 141.0h0M411.3 161.5h0M410.2 152.0h0M414.8 143.8h0M410.8 156.5h0" stroke="#0000ff" stroke-opacity="0.44" stroke-width="2.5" stroke-linecap="round" fill="none"/>
<path d="M410.9 144.3h0M412.6 143.6h0M412.6 160.2h0M412.3 145.7h0M413.1 151.4h0M417.0 141.6h0M416.4 159.1h0M411.3 149.1h0M413.6 157.3h0M417.2 156.5h0M416.5 149.2h0M414.3 158.9h0" stroke="#0000ff" stroke-opacity="0.44" stroke-width="2.5" stroke-linecap="round" fill="none"/>
<path d="M409.9 147.6h0M411.1 152.9h0M414.6 145.0h0M410.3 156.9h0M411.4 136.3h0M413.0 160.0h0M409.8 145.2h0M416.0 134.8h0M415.2 139.5h0M410.1 149.5h0M410.7 150.6h0M412.4 146.2h0" stroke="#0000ff" stroke-opacity="0.44" stroke-width="2.5" stroke-linecap="round" fill="none"/>
<path d="M411.6 146.8h0M412.9 142.6h0M411.4 147.3h0M411.9 153.1h0M411.5 146.6h0M410.8 154.9h0M417.3 165.1h0M415.7 149.9h0M414.1 140.0h0M410.6 161.2h0M410.7 144.7h0M410.7 150.3h0" stroke="#0000ff" stroke-opacity="0.44" stroke-width="2.5" stroke-linecap="round" fill="none"/>
<path d="M416.2 157.8h0M411.4 158.2h0M413.2 157.6h0M410.0 141.7h0M413.6 163.5h0M413.4 155.4h0M413.4 152.3h0M417.4 154.1h0M416.4 148.3h0M410.8 138.6h0M413.8 153.8h0" stroke="#0000ff" stroke-opacity="0.44" stroke-width="2.5" stroke-linecap="round" fill="none"/>
<path d="M424.0 139.0h0M423.9 110.5h0M427.9 122.7h0M422.4 138.6h0M425.7 112.2h0M423.7 115.9h0M424.4 102.2h0M424.9 130.1h0M425.8 103.5h0M422.0 110.6h0M424.1 110.6h0M425.4 106.8h0M421.6 105.5h0M424.6 114.4h0M423.2 109.4h0M426.4 94.0h0M427.4 104.9h0M425.9 115.0h0M423.8 143.3h0M421.2 109.9h0M421.7 139.8h0M423.7 144.0h0M427.2 123.4h0M425.3 122.8h0M427.9 129.7h0M428.1 147.3h0M421.7 118.3h0M425.2 117.8h0M426.0 105.3h0M424.2 130.7h0M427.7 117.9h0M428.5 140.0h0M422.9 100.6h0M421.3 127.7h0M428.1 127.0h0M426.5 133.6h0M422.9 120.2h0M422.3 104.5h0M426.5 108.7h0M422.3 131.6h0M425.7 102.3h0M426.8 111.8h0M424.0 141.5h0M424.3 112.7h0M427.4 106.9h0M428.7 106.5h0M424.7 78.3h0M423.5 114.5h0M421.3 84.4h0M424.7 121.6h0M423.8 97.6h0M424.2 115.5h0M423.4 133.3h0M427.6 93.0h0M426.9 82.7h0M421.5 123.6h0M426.2 137.5h0M428.0 114.4h0M428.3 118.7h0M425.7 126.5h0M425.6 107.9h0M421.5 113.1h0M427.9 108.2h0M423.8 138.6h0M424.9 116.5h0M427.6 135.5h0M424.6 122.8h0M427.1 104.2h0M422.0 134.5h0M425.8 118.9h0M425.0 92.0h0M427.7 104.4h0M424.9 124.0h0M427.4 129.2h0M426.3 101.7h0M425.4 115.4h0M427.3 142.2h0M425.0 97.4h0M426.9 104.8h0M423.6 88.5h0M428.5 132.2h0M428.1 153.1h0M425.9 128.7h0M427.7 122.6h0M425.6 132.1h0M424.3 111.9h0M424.4 126.0h0M421.5 132.5h0M428.0 99.2h0M428.5 161.9h0M425.9 124.9h0M422.9 114.0h0M421.4 131.2h0M428.1 117.7h0M422.9 120.8h0M421.7 150.3h0M428.0 120.7h0M421.6 153.7h0M423.9 110.1h0M422.9 119.0h0M423.4 95.9h0" stroke="#ff0000" stroke-opacity="0.44" stroke-width="2.5" stroke-linecap="round" fill="none"/>
<path d="M425.3 133.1h0M425.0 122.3h0M423.5 99.1h0M424.3 124.2h0M421.7 110.8h0M423.8 120.0h0M424.1 128.8h0M426.7 119.4h0M422.4 131.8h0M422.8 100.8h0M422.6 100.1h0M426.7 105.0h0M425.0 160.5h0M422.6 123.0h0M425.0 134.0h0M422.4 87.1h0M425.1 127.8h0M421.4 109.0h0M426.7 92.3h0M421.6 106.7h0M427.7 117.6h0M423.3 144.7h0M425.7 117.6h0M427.8 125.7h0M428.5 106.2h0M421.9 89.1h0M423.3 136.4h0M423.2 103.4h0M425.5 127.2h0M421.4 115.1h0M423.3 114.9h0M422.0 136.2h0M422.9 97.6h0M426.7 161.4h0M425.0 101.5h0M421.2 130.2h0M427.6 141.7h0M424.3 123.8h0M426.7 124.7h0M424.2 113.0h0M427.1 124.8h0M426.0 114.6h0M422.8 120.4h0M423.5 128.5h0M425.5 92.8h0M425.4 119.5h0M426.5 96.3h0M427.6 94.8h0M424.7 109.3h0M424.8 128.3h0M425.7 126.7h0M423.0 90.5h0M428.2 124.4h0M427.5 112.2h0M423.1 79.3h0M426.4 135.4h0M423.4 95.3h0M424.5 98.0h0M423.9 142.8h0M426.2 107.9h0M425.8 111.4h0M424.1 108.3h0M428.0 107.3h0M421.4 113.5h0M423.3 123.0h0M425.4 117.1h0M422.6 142.6h0M426.5 112.9h0M426.3 126.8h0M423.0 118.8h0M425.4 104.8h0M428.2 108.4h0M423.9 123.9h0M422.2 134.6h0M426.3 103.2h0M426.4 112.8h0M425.9 134.8h0M427.2 121.2h0M424.5 103.9h0M421.5 139.7h0M423.8 131.5h0M426.5 123.8h0M424.6 113.1h0M421.5 111.3h0M428.3 108.5h0M425.0 126.9h0M422.2 161.1h0M425.4 102.1h0M426.1 148.9h0M424.3 114.1h0M421.4 126.6h0M427.9 97.0h0M427.1 136.9h0M423.9 135.6h0M421.6 113.6h0M427.6 127.0h0M422.2 138.2h0M426.8 109.1h0M422.9 144.2h0M423.8 101.6h0" stroke="#ff0000" stroke-opacity="0.44" stroke-width="2.5" stroke-linecap="round" fill="none"/>
<path d="M427.6 136.5h0M423.4 101.2h0M427.2 108.1h0M427.3 118.9h0M426.7 124.5h0M421.8 116.9h0M425.2 121.2h0M424.9 102.7h0M423.2 109.5h0M426.4 120.8h0M426.8 118.6h0M421.5 95.8h0M426.1 137.7h0M426.9 125.4h0M423.3 117.9h0M421.6 149.7h0M421.5 129.6h0M422.2 103.1h0M426.6 100.5h0M426.0 112.5h0M424.4 117.2h0M423.1 121.9h0M425.5 156.1h0M428.6 103.6h0M421.2 144.5h0M422.6 127.9h0M421.2 125.2h0M424.3 109.6h0M423.0 98.6h0M423.9 110.4h0M425.7 116.4h0M424.8 124.7h0M427.9 127.1h0M421.1 93.7h0M426.0 131.0h0M425.1 116.1h0M426.8 121.4h0M426.9 105.6h0M427.7 120.5h0M426.6 162.8h0M428.1 118.2h0M427.7 149.3h0M421.8 121.6h0M423.3 135.3h0M424.1 95.5h0M425.9 116.6h0M421.4 106.1h0M423.3 124.5h0M423.4 99.5h0M422.0 148.1h0M425.4 128.1h0M422.5 107.5h0M421.4 111.8h0M423.5 94.6h0M425.0 115.0h0M426.0 149.8h0M422.6 116.2h0M421.8 129.1h0M421.5 128.0h0M421.4 119.3h0M427.4 125.8h0M426.4 129.4h0M423.0 130.3h0M426.8 104.1h0M427.7 116.2h0M426.6 122.1h0M422.8 119.9h0M421.6 154.1h0M424.8 143.6h0M422.6 123.5h0M422.0 135.1h0M427.8 121.8h0M422.5 117.0h0M425.5 86.2h0M426.6 98.6h0M424.0 119.5h0M424.8 111.3h0M422.3 99.6h0M427.3 132.6h0M426.2 119.1h0M427.3 151.2h0M423.9 160.7h0M426.8 85.5h0M427.2 116.0h0M426.8 125.9h0M421.6 128.1h0M422.9 132.9h0M426.4 107.7h0M421.9 137.2h0M423.2 126.6h0M421.8 159.0h0M421.8 126.3h0M426.8 110.3h0M423.6 145.5h0M422.6 126.0h0M426.8 116.3h0M428.7 151.1h0M425.0 101.9h0M428.5 133.3h0M423.6 118.0h0" stroke="#ff0000" stroke-opacity="0.44" stroke-width="2.5" stroke-linecap="round" fill="none"/>
<path d="M423.8 117.3h0M427.2 126.2h0M422.8 112.1h0M427.3 101.3h0M422.7 120.4h0M427.0 89.8h0M426.9 110.0h0M422.8 133.8h0M426.1 140.6h0M426.4 91.4h0M428.2 136.0h0M425.5 120.0h0M423.1 118.5h0M427.9 136.7h0M426.3 107.0h0M425.9 119.7h0M421.8 127.5h0M425.6 130.5h0M422.1 113.8h0M425.9 125.5h0M424.1 111.1h0M426.3 122.9h0M422.5 125.3h0M423.1 76.4h0M427.9 110.8h0M424.6 113.8h0M423.8 125.5h0M424.0 105.8h0M423.7 78.6h0M423.2 124.1h0M425.9 115.8h0M427.1 126.3h0M422.1 135.9h0M424.2 114.2h0M424.6 122.2h0M422.5 138.4h0M428.3 128.5h0M428.1 132.8h0M427.5 98.8h0M424.1 122.5h0M425.8 140.2h0M424.4 114.7h0M424.8 96.6h0M425.8 139.2h0M424.0 120.6h0M424.6 121.1h0M427.3 100.3h0M426.0 98.3h0M428.0 127.6h0M424.9 135.0h0M426.1 130.4h0M425.4 114.3h0M428.2 128.2h0M423.2 118.2h0M421.2 91.1h0M428.4 123.4h0M428.5 125.1h0M423.9 140.9h0M425.0 126.1h0M427.4 119.6h0M427.7 75.2h0M422.1 108.7h0M422.1 128.8h0M421.8 108.9h0M424.5 125.6h0M424.8 156.4h0M422.6 120.1h0M421.5 129.3h0M421.7 143.3h0M427.2 92.5h0M427.7 129.5h0M426.3 152.4h0M421.2 88.0h0M422.5 94.3h0M424.6 116.8h0M423.1 131.3h0M425.1 132.8h0M427.6 121.7h0M422.3 123.2h0M427.1 114.8h0M426.0 81.5h0M427.6 118.5h0M422.7 95.0h0M425.3 109.8h0M425.4 98.1h0M426.3 117.5h0M423.2 105.8h0M422.9 119.8h0M425.1 125.0h0M423.4 131.2h0M426.8 86.7h0M428.2 129.9h0M427.0 141.3h0M422.0 99.7h0M423.5 140.5h0M425.2 134.0h0M428.2 102.8h0M428.0 121.3h0M426.4 131.9h0M424.3 129.0h0" stroke="#ff0000" stroke-opacity="0.44" stroke-width="2.5" stroke-linecap="round" fill="none"/>
<path d="M425.8 112.4h0M423.6 111.1h0M423.6 122.0h0M421.6 93.4h0M421.8 134.4h0M424.7 117.2h0M427.8 136.8h0M428.6 129.1h0M426.7 133.5h0M428.1 102.9h0M424.3 115.3h0M421.8 127.5h0M423.3 111.6h0M425.5 110.2h0M423.4 90.2h0M422.6 115.3h0M428.0 122.4h0M424.5 102.5h0M425.1 155.2h0M427.6 128.4h0M423.7 101.0h0M424.2 106.3h0M423.6 115.6h0M424.4 109.1h0M424.6 122.4h0M428.0 113.9h0M428.7 83.1h0M422.0 142.1h0M424.4 121.5h0M427.2 112.4h0M421.5 120.6h0M424.1 145.0h0M426.4 122.1h0M422.0 107.1h0M423.3 134.3h0M422.3 147.5h0M423.2 118.4h0M421.6 120.9h0M425.7 123.2h0M425.9 121.0h0M426.9 123.2h0M425.2 148.3h0M427.1 109.8h0M426.8 112.6h0M421.9 127.4h0M425.0 130.8h0M427.0 139.5h0M427.7 105.2h0M425.6 111.0h0M426.8 103.7h0M423.3 147.0h0M427.8 125.1h0M424.7 106.4h0M427.7 85.0h0M421.5 146.7h0M425.0 113.3h0M426.1 111.5h0M425.1 121.7h0M422.4 106.0h0M424.5 116.6h0M425.1 107.6h0M421.5 123.9h0M425.6 151.9h0M424.8 124.3h0M424.0 158.1h0M422.3 146.0h0M428.1 113.7h0M424.2 130.8h0M427.8 119.2h0M423.5 132.2h0M427.5 90.7h0M423.1 139.1h0M421.9 142.5h0M424.5 111.7h0M428.1 117.4h0M427.2 129.8h0M426.4 99.9h0M427.1 96.3h0M425.1 119.9h0M424.2 138.0h0M422.1 115.5h0M426.0 115.7h0M424.3 120.2h0M424.2 104.5h0M422.6 107.4h0M426.5 123.6h0M428.6 113.2h0M424.2 80.6h0M424.0 145.7h0M427.9 96.9h0M425.1 116.8h0M427.8 137.8h0M427.3 109.4h0M422.7 137.2h0M426.1 124.6h0M426.5 113.4h0M422.6 127.3h0M423.1 88.9h0M423.3 146.2h0M422.6 141.0h0" stroke="#ff0000" stroke-opacity="0.44" stroke-width="2.5" stroke-linecap="round" fill="none"/>
<path d="M440.0 144.0h0M434.9 140.6h0M435.6 128.0h0M439.5 156.7h0M433.2 135.8h0M433.8 144.5h0M437.6 141.7h0M436.3 150.6h0M434.4 156.1h0M432.9 141.3h0M437.3 139.0h0" stroke="#0000ff" stroke-opacity="0.44" stroke-width="2.5" stroke-linecap="round" fill="none"/>
<path d="M432.5 149.0h0M435.7 154.2h0M432.5 144.8h0M436.6 157.6h0M435.9 154.9h0M438.6 138.9h0M438.4 154.7h0M436.9 155.9h0M435.9 143.2h0M434.0 146.0h0" stroke="#0000ff" stroke-opacity="0.44" stroke-width="2.5" stroke-linecap="round" fill="none"/>
<path d="M433.8 155.3h0M435.5 147.4h0M434.8 137.3h0M438.5 135.2h0M436.5 147.0h0M435.4 153.0h0M438.9 145.5h0M434.6 151.6h0M437.5 142.5h0M435.8 146.2h0" stroke="#0000ff" stroke-opacity="0.44" stroke-width="2.5" stroke-linecap="round" fill="none"/>
<path d="M436.4 152.0h0M435.1 150.4h0M437.2 148.2h0M433.3 162.9h0M438.6 151.2h0M439.5 154.0h0M437.1 145.0h0M436.4 159.3h0M437.7 147.8h0M436.5 157.3h0" stroke="#0000ff" stroke-opacity="0.44" stroke-width="2.5" stroke-linecap="round" fill="none"/>
<path d="M437.0 148.7h0M438.4 132.0h0M439.1 145.7h0M434.6 149.9h0M438.3 146.8h0M440.0 158.4h0M435.4 160.2h0M438.9 149.4h0M438.4 153.2h0M435.1 147.5h0" stroke="#0000ff" stroke-opacity="0.44" stroke-width="2.5" stroke-linecap="round" fill="none"/>
<path d="M451.2 130.4h0M448.6 140.9h0M449.9 123.0h0M444.4 117.7h0M445.5 127.2h0M450.9 117.1h0M444.2 134.0h0M449.7 128.0h0M446.2 128.5h0M449.3 125.4h0M450.6 116.7h0M446.2 130.9h0M445.6 138.3h0M451.4 141.4h0M450.9 138.0h0M450.1 131.7h0M443.9 115.3h0M448.6 124.1h0" stroke="#ff0000" stroke-opacity="0.44" stroke-width="2.5" stroke-linecap="round" fill="none"/>
<path d="M450.6 109.3h0M448.3 105.3h0M450.4 123.3h0M444.3 111.9h0M447.3 124.0h0M448.9 134.4h0M447.2 137.2h0M448.9 118.2h0M444.3 122.4h0M446.2 113.3h0M450.6 119.8h0M448.8 121.3h0M446.3 136.7h0M450.6 123.5h0M446.4 120.9h0M450.1 127.7h0M450.2 118.6h0M447.0 122.6h0" stroke="#ff0000" stroke-opacity="0.44" stroke-width="2.5" stroke-linecap="round" fill="none"/>
<path d="M444.5 129.6h0M448.6 125.7h0M451.0 119.5h0M449.9 126.5h0M447.5 110.4h0M450.8 139.7h0M449.6 129.9h0M447.8 131.6h0M444.0 129.2h0M444.6 127.0h0M448.7 133.5h0M449.1 128.6h0M444.5 133.2h0M449.1 135.8h0M449.9 120.2h0M447.6 132.8h0M449.4 129.0h0" stroke="#ff0000" stroke-opacity="0.44" stroke-width="2.5" stroke-linecap="round" fill="none"/>
<path d="M449.8 104.8h0M444.0 131.1h0M445.5 142.0h0M448.9 126.5h0M449.1 135.4h0M451.3 132.3h0M451.2 124.6h0M448.3 143.6h0M450.6 111.0h0M450.7 136.3h0M447.0 120.4h0M447.4 135.0h0M445.3 107.2h0M448.3 112.6h0M446.4 116.0h0M448.3 132.6h0M446.4 117.9h0" stroke="#ff0000" stroke-opacity="0.44" stroke-width="2.5" stroke-linecap="round" fill="none"/>
<path d="M448.0 117.3h0M445.7 116.3h0M450.1 126.0h0M448.0 115.0h0M450.1 113.9h0M444.3 121.7h0M448.1 148.2h0M447.3 125.1h0M448.7 121.0h0M446.4 134.9h0M446.3 114.7h0M450.0 119.1h0M448.8 138.8h0M446.3 114.1h0M449.1 124.7h0M445.4 146.3h0M445.6 122.1h0" stroke="#ff0000" stroke-opacity="0.44" stroke-width="2.5" stroke-linecap="round" fill="none"/>
<path d="M462.3 149.9h0M457.0 120.4h0M460.2 137.7h0M462.1 153.5h0M459.2 94.9h0M461.9 120.6h0M458.5 143.3h0M458.1 111.4h0M455.4 117.6h0M457.1 146.6h0M460.8 146.1h0M462.3 133.0h0M460.4 143.9h0M461.3 111.9h0M462.3 124.3h0M456.3 132.2h0M461.2 116.2h0M456.9 130.7h0M456.4 121.4h0M455.7 124.6h0M457.1 118.6h0M461.1 165.2h0M457.8 142.3h0M455.5 123.1h0M455.4 164.2h0M458.4 118.3h0M458.9 155.1h0M456.5 119.2h0M459.2 155.5h0M455.7 131.1h0M459.6 117.1h0M461.5 133.8h0M459.4 132.9h0M462.3 141.5h0M455.7 130.4h0M455.8 129.7h0M456.3 110.9h0M462.6 150.0h0M457.9 121.8h0M462.3 125.4h0M461.9 136.1h0M461.0 168.6h0M459.3 134.9h0M459.0 118.4h0M459.1 125.6h0M458.5 162.3h0M456.7 148.1h0M462.6 148.5h0M457.6 149.5h0M455.4 123.9h0M462.7 113.5h0M456.4 137.4h0M456.2 117.9h0M456.7 139.3h0M459.6 135.6h0M459.7 142.8h0M457.9 121.6h0M462.1 144.2h0M460.5 143.2h0M462.2 156.1h0M461.9 146.9h0" stroke="#ff0000" stroke-opacity="0.44" stroke-width="2.5" stroke-linecap="round" fill="none"/>
<path d="M456.8 131.3h0M457.2 139.5h0M461.3 124.1h0M455.9 136.3h0M459.8 128.9h0M462.3 133.1h0M456.2 141.9h0M458.9 141.6h0M461.0 124.4h0M460.5 148.7h0M460.9 121.6h0M455.9 168.1h0M458.4 122.7h0M456.1 148.9h0M457.8 143.7h0M460.3 152.3h0M457.6 120.0h0M456.1 124.8h0M458.2 134.0h0M457.0 120.8h0M456.6 130.9h0M460.0 158.2h0M461.5 125.0h0M459.0 122.3h0M455.6 140.7h0M460.7 122.9h0M461.8 101.8h0M459.7 129.4h0M457.2 108.7h0M457.7 102.4h0M461.1 126.4h0M459.8 135.3h0M460.8 157.0h0M460.7 128.1h0M461.6 138.0h0M461.7 143.6h0M462.2 112.7h0M458.8 110.7h0M461.3 99.7h0M460.3 122.1h0M458.0 136.1h0M458.2 138.6h0M461.1 132.4h0M461.4 134.5h0M455.3 131.5h0M458.5 123.6h0M460.9 127.1h0M461.9 129.6h0M455.2 136.6h0M460.9 159.8h0M462.2 159.0h0M457.0 146.5h0M462.6 144.7h0M459.9 132.1h0M460.6 167.6h0M460.5 129.1h0M461.2 111.2h0M458.2 138.8h0M462.7 128.1h0M461.1 116.4h0M455.4 133.6h0" stroke="#ff0000" stroke-opacity="0.44" stroke-width="2.5" stroke-linecap="round" fill="none"/>
<path d="M462.4 127.1h0M455.2 98.8h0M457.3 126.5h0M456.9 131.9h0M458.7 121.2h0M457.6 134.7h0M457.8 111.7h0M459.7 136.9h0M461.6 121.0h0M462.4 131.0h0M456.2 106.5h0M455.3 132.4h0M460.2 120.5h0M461.7 137.2h0M458.3 156.7h0M460.5 145.9h0M458.0 129.9h0M462.0 130.0h0M459.3 115.5h0M461.7 127.6h0M462.0 160.8h0M462.7 114.3h0M460.1 115.1h0M455.8 126.2h0M462.6 150.8h0M456.4 109.5h0M456.2 107.7h0M456.0 126.9h0M459.9 134.0h0M458.9 106.2h0M461.9 134.7h0M462.1 112.2h0M459.7 122.8h0M458.6 130.2h0M455.3 130.3h0M460.1 103.3h0M455.7 125.9h0M457.1 130.5h0M460.4 131.4h0M456.5 142.4h0M460.9 128.3h0M458.2 124.1h0M459.7 145.7h0M462.3 141.0h0M460.7 109.4h0M461.4 125.0h0M457.2 122.2h0M458.1 113.1h0M461.1 119.7h0M461.2 93.9h0M458.2 120.3h0M459.8 114.0h0M459.4 93.9h0M459.2 109.0h0M456.6 121.9h0M455.7 110.3h0M459.5 119.5h0M461.7 140.2h0M457.4 133.3h0M461.5 132.8h0M460.4 116.9h0" stroke="#ff0000" stroke-opacity="0.44" stroke-width="2.5" stroke-linecap="round" fill="none"/>
<path d="M458.0 129.0h0M462.8 125.9h0M458.3 138.2h0M459.8 104.4h0M458.1 141.1h0M455.4 116.4h0M462.1 154.3h0M462.6 140.5h0M455.9 123.7h0M462.2 136.9h0M462.5 152.1h0M458.8 122.9h0M460.1 115.9h0M460.5 107.4h0M459.5 105.5h0M461.5 127.3h0M459.9 149.3h0M456.5 154.7h0M460.2 142.6h0M455.4 126.6h0M457.6 127.4h0M459.8 100.9h0M457.9 126.9h0M459.8 127.7h0M459.6 119.0h0M462.7 141.4h0M462.0 138.0h0M459.3 147.2h0M459.9 131.7h0M461.0 107.1h0M459.3 108.5h0M460.7 147.3h0M456.5 138.4h0M462.3 125.6h0M459.2 114.3h0M462.3 93.9h0M461.1 110.0h0M460.5 124.6h0M457.2 127.8h0M460.4 123.5h0M456.1 128.8h0M462.4 127.9h0M455.7 166.2h0M456.4 103.0h0M456.8 144.3h0M461.0 161.3h0M462.3 140.1h0M457.3 126.1h0M458.7 113.7h0M462.0 125.3h0M456.7 139.6h0M462.2 145.0h0M456.7 132.5h0M462.3 134.3h0M461.5 128.5h0M459.5 103.7h0M459.1 125.2h0M455.8 129.3h0M462.6 104.9h0M457.1 123.4h0" stroke="#ff0000" stroke-opacity="0.44" stroke-width="2.5" stroke-linecap="round" fill="none"/>
<path d="M460.8 147.9h0M458.3 122.5h0M457.3 123.3h0M461.4 108.2h0M460.3 118.7h0M461.3 137.4h0M457.3 133.5h0M462.4 117.5h0M455.8 137.6h0M460.8 140.8h0M459.9 118.1h0M457.1 138.9h0M460.0 135.4h0M460.7 146.3h0M459.0 97.5h0M457.1 113.4h0M461.7 142.1h0M456.0 121.3h0M460.5 118.9h0M458.4 153.1h0M462.1 145.1h0M461.9 153.7h0M461.2 115.1h0M461.0 151.9h0M457.2 119.3h0M459.7 136.5h0M455.9 110.3h0M460.7 150.4h0M457.4 143.0h0M461.8 117.3h0M458.8 151.0h0M462.5 112.9h0M462.4 135.8h0M457.4 140.0h0M461.1 158.4h0M455.8 96.3h0M459.0 100.4h0M456.8 139.8h0M455.9 147.8h0M462.5 112.4h0M459.6 152.9h0M461.4 135.1h0M457.3 134.2h0M459.1 139.0h0M455.3 126.7h0M458.1 144.6h0M455.6 128.6h0M458.8 114.8h0M461.4 120.1h0M461.5 116.0h0M459.6 135.9h0M458.3 115.3h0M457.8 105.9h0M458.9 116.8h0M456.6 117.7h0M458.0 128.3h0M461.7 119.8h0M457.6 151.4h0M459.5 145.4h0M460.7 114.7h0" stroke="#ff0000" stroke-opacity="0.44" stroke-width="2.5" stroke-linecap="round" fill="none"/>
<path d="M472.6 140.1h0M468.7 135.8h0M471.9 135.3h0M472.3 149.8h0M468.6 126.5h0M468.4 155.7h0M467.4 107.1h0M467.4 138.2h0M474.1 129.8h0M471.5 149.3h0M471.4 128.4h0M468.6 133.0h0M471.6 122.5h0M471.4 126.2h0M469.2 139.5h0M468.2 130.1h0M469.1 137.4h0M470.0 133.8h0M470.6 129.5h0M473.2 130.8h0M472.6 134.6h0M470.7 124.3h0M467.0 141.5h0M471.4 133.0h0M470.4 122.9h0M469.8 127.4h0M466.8 130.7h0M469.5 146.6h0M472.7 134.4h0M467.3 118.9h0M470.5 147.7h0M473.9 156.7h0M472.9 127.8h0M467.4 139.2h0M467.3 134.8h0M467.0 133.6h0" stroke="#ff0000" stroke-opacity="0.44" stroke-width="2.5" stroke-linecap="round" fill="none"/>
<path d="M470.3 137.9h0M471.6 135.4h0M466.7 144.7h0M472.1 124.4h0M474.0 131.5h0M466.8 116.9h0M473.6 131.8h0M472.6 132.1h0M472.4 152.7h0M468.8 126.9h0M469.7 121.3h0M469.2 130.0h0M472.5 140.8h0M472.3 123.3h0M471.7 132.7h0M468.1 132.3h0M467.4 136.4h0M472.8 129.4h0M468.0 139.6h0M472.5 121.9h0M468.3 155.2h0M468.5 141.6h0M471.9 128.8h0M472.0 118.4h0M471.2 112.8h0M467.9 111.0h0M471.4 138.0h0M470.0 132.8h0M468.0 136.7h0M470.4 137.0h0M471.0 132.6h0M467.4 123.9h0M473.7 131.4h0M473.4 132.0h0M466.7 133.7h0M467.2 137.1h0" stroke="#ff0000" stroke-opacity="0.44" stroke-width="2.5" stroke-linecap="round" fill="none"/>
<path d="M467.0 142.2h0M467.8 134.0h0M469.7 130.5h0M468.6 137.4h0M470.2 146.3h0M472.1 114.5h0M471.3 159.2h0M473.1 137.7h0M469.5 115.2h0M467.9 127.2h0M471.8 150.8h0M473.7 124.9h0M469.4 135.6h0M466.8 132.5h0M473.4 160.9h0M473.7 138.9h0M472.8 151.9h0M469.8 158.2h0M470.6 138.7h0M467.8 150.4h0M466.9 121.4h0M469.4 164.8h0M473.6 117.6h0M470.7 143.6h0M472.7 131.7h0M473.5 143.7h0M473.1 134.2h0M468.7 125.7h0M473.7 153.5h0M473.7 117.2h0M468.9 146.4h0M469.3 134.4h0M468.7 128.9h0M466.7 133.3h0M469.8 130.2h0M467.3 148.7h0" stroke="#ff0000" stroke-opacity="0.44" stroke-width="2.5" stroke-linecap="round" fill="none"/>
<path d="M469.7 136.1h0M473.1 143.2h0M467.8 124.6h0M468.9 127.6h0M473.6 111.8h0M473.0 133.4h0M472.6 145.4h0M471.0 139.9h0M471.0 126.8h0M468.2 141.0h0M474.1 119.8h0M470.5 136.0h0M469.6 120.2h0M473.4 123.5h0M473.8 136.9h0M471.8 130.9h0M470.0 150.2h0M473.8 144.5h0M468.2 131.7h0M470.2 144.1h0M470.4 145.5h0M468.0 147.5h0M468.7 119.4h0M473.7 133.2h0M471.9 131.2h0M468.6 143.0h0M470.9 142.8h0M472.7 135.1h0M470.0 128.1h0M473.3 128.5h0M471.5 125.5h0M466.7 140.5h0M472.4 115.9h0M467.6 125.8h0M472.4 128.3h0" stroke="#ff0000" stroke-opacity="0.44" stroke-width="2.5" stroke-linecap="round" fill="none"/>
<path d="M467.5 131.1h0M466.7 148.3h0M466.7 128.7h0M473.5 148.3h0M473.1 126.2h0M469.5 144.9h0M473.6 122.2h0M468.6 142.4h0M472.9 120.5h0M467.4 151.5h0M469.3 144.1h0M470.1 129.1h0M472.5 140.4h0M470.4 125.1h0M469.8 153.0h0M473.3 140.3h0M468.0 154.2h0M466.9 147.2h0M467.7 141.2h0M474.1 139.0h0M466.8 129.6h0M473.3 130.6h0M474.2 145.9h0M467.4 129.7h0M471.8 134.9h0M471.4 138.5h0M470.2 141.7h0M469.8 138.4h0M473.1 123.1h0M467.0 181.3h0M469.9 136.4h0M470.9 128.0h0M468.8 101.5h0M470.1 120.9h0M470.0 142.1h0" stroke="#ff0000" stroke-opacity="0.44" stroke-width="2.5" stroke-linecap="round" fill="none"/>
<path d="M485.0 150.1h0M483.8 150.8h0M485.0 151.9h0M479.7 170.8h0M480.2 174.4h0M484.0 139.7h0M485.2 179.4h0M483.1 160.1h0M481.3 149.1h0M484.6 165.7h0M480.4 170.1h0M479.4 166.4h0M482.4 155.2h0M485.1 157.2h0M478.0 153.3h0M478.1 161.0h0M478.8 179.0h0M484.1 162.1h0M478.0 182.9h0M480.8 161.5h0M482.2 143.5h0M481.5 154.2h0M479.9 166.5h0M484.8 163.8h0M478.3 150.5h0M480.1 172.6h0M482.7 160.4h0M482.1 156.1h0M482.8 181.2h0M483.3 165.1h0M483.5 150.7h0M481.7 152.9h0M481.4 145.1h0M482.6 140.7h0M479.2 141.5h0M482.4 133.6h0" stroke="#ff0000" stroke-opacity="0.44" stroke-width="2.5" stroke-linecap="round" fill="none"/>
<path d="M482.4 159.4h0M482.6 163.9h0M485.0 167.0h0M481.2 162.0h0M478.6 151.5h0M485.2 168.0h0M479.4 157.3h0M481.3 172.8h0M481.3 148.2h0M481.5 161.3h0M480.1 171.8h0M478.0 141.7h0M479.2 154.9h0M480.6 153.9h0M481.5 160.8h0M485.3 161.7h0M481.4 154.1h0M479.9 152.7h0M485.4 165.8h0M481.8 147.8h0M481.3 147.5h0M485.2 162.6h0M481.6 149.7h0M481.7 145.7h0M479.1 148.6h0M480.9 169.6h0M482.9 160.6h0M483.8 163.6h0M482.3 146.7h0M478.9 155.6h0M483.8 159.9h0M482.8 175.3h0M485.5 156.6h0M480.1 164.5h0M479.3 174.4h0M484.1 151.4h0" stroke="#ff0000" stroke-opacity="0.44" stroke-width="2.5" stroke-linecap="round" fill="none"/>
<path d="M480.3 163.2h0M485.1 169.1h0M484.0 157.6h0M478.0 156.5h0M481.2 144.8h0M479.4 175.6h0M484.9 151.9h0M480.7 162.9h0M482.1 159.7h0M479.3 152.5h0M485.0 167.8h0M483.5 163.5h0M479.5 154.5h0M479.1 195.7h0M482.0 153.6h0M483.3 153.2h0M484.2 170.1h0M485.0 154.8h0M481.5 169.5h0M484.2 138.2h0M479.5 136.1h0M479.6 159.2h0M484.1 158.6h0M483.4 148.8h0M482.1 162.5h0M485.0 172.2h0M482.9 181.0h0M479.8 146.9h0M480.2 156.8h0M478.2 171.4h0M484.0 164.5h0M482.8 155.3h0M480.4 157.0h0M484.3 155.0h0M480.6 165.3h0M482.5 152.4h0" stroke="#ff0000" stroke-opacity="0.44" stroke-width="2.5" stroke-linecap="round" fill="none"/>
<path d="M480.1 162.2h0M483.9 171.1h0M483.9 167.2h0M481.1 154.3h0M482.0 191.5h0M481.4 146.2h0M485.5 158.7h0M479.1 167.5h0M484.3 153.5h0M481.2 157.8h0M484.1 158.3h0M480.3 145.6h0M484.6 168.8h0M484.2 164.1h0M484.6 157.9h0M478.0 151.6h0M479.1 177.7h0M480.9 164.9h0M485.5 144.3h0M484.2 155.9h0M485.2 145.3h0M483.6 153.0h0M479.0 158.9h0M478.8 152.2h0M478.5 151.1h0M482.6 154.6h0M482.2 149.6h0M478.5 139.5h0M483.0 151.2h0M482.8 148.9h0M484.9 150.4h0M479.4 183.7h0M481.1 156.2h0M485.3 155.5h0M481.6 158.1h0M479.5 153.8h0" stroke="#ff0000" stroke-opacity="0.44" stroke-width="2.5" stroke-linecap="round" fill="none"/>
<path d="M483.0 152.7h0M479.7 156.7h0M482.6 175.9h0M478.2 147.1h0M484.7 173.4h0M480.7 155.6h0M478.9 155.8h0M480.8 159.8h0M481.3 177.2h0M485.0 163.1h0M482.2 142.8h0M483.9 157.4h0M481.8 148.4h0M484.3 156.4h0M483.6 160.4h0M481.1 165.4h0M483.8 158.5h0M480.0 142.1h0M479.2 170.6h0M480.2 144.0h0M483.8 166.0h0M478.2 176.8h0M479.3 168.3h0M478.4 137.7h0M478.5 161.3h0M485.5 149.9h0M480.6 143.0h0M483.4 159.2h0M483.5 149.3h0M480.4 166.9h0M480.6 128.5h0M483.2 147.8h0M483.4 168.5h0M478.5 146.6h0M482.5 173.7h0" stroke="#ff0000" stroke-opacity="0.44" stroke-width="2.5" stroke-linecap="round" fill="none"/>
<path d="M495.5 135.6h0M494.1 175.2h0M495.6 157.4h0M496.3 140.3h0M496.6 156.6h0M490.7 147.9h0M491.2 127.9h0M494.8 135.9h0M495.9 143.2h0M493.9 143.9h0M495.4 127.2h0M490.0 143.7h0M496.2 145.1h0M491.8 144.2h0M494.0 141.1h0M493.2 130.7h0M489.9 164.7h0M489.8 127.0h0M493.7 146.0h0M495.1 148.5h0M490.3 123.9h0M492.5 146.4h0M493.5 131.6h0M496.1 145.5h0M490.9 156.2h0M491.8 139.3h0M491.0 137.8h0M493.4 139.0h0M492.7 138.0h0M495.6 124.6h0M492.4 132.4h0M493.8 157.3h0M491.7 140.1h0M491.8 149.1h0M491.9 149.4h0M494.1 162.3h0M493.0 146.7h0M494.7 154.0h0M489.7 119.8h0M493.8 141.5h0M494.3 144.0h0M489.6 143.5h0M493.2 126.8h0M493.7 108.8h0M495.5 143.6h0M496.5 153.2h0M495.9 147.3h0M494.9 123.1h0M493.2 131.9h0M492.2 146.8h0M494.6 140.1h0M495.4 139.3h0M489.5 142.2h0M492.7 134.9h0M495.3 142.3h0M495.7 140.9h0M489.7 139.9h0M489.6 139.4h0M495.3 141.9h0M489.7 137.6h0M490.9 138.3h0M493.9 155.7h0M494.8 138.7h0M492.2 145.6h0M492.4 156.0h0M494.2 139.2h0M494.7 156.8h0M494.9 134.7h0M492.4 160.0h0M495.8 150.8h0M494.9 140.6h0M492.2 144.8h0M493.0 149.2h0M496.0 158.2h0M492.1 151.3h0M494.1 125.1h0M490.7 131.2h0M496.3 154.9h0M492.8 152.7h0M496.8 159.6h0M494.7 134.0h0M495.2 142.8h0M494.0 140.1h0M494.2 149.7h0M494.5 129.1h0M491.5 137.0h0M493.7 150.5h0M491.4 136.6h0M491.5 139.0h0M495.3 139.9h0M492.8 116.5h0M490.5 153.5h0M496.6 158.4h0M493.4 137.3h0M489.7 192.2h0M496.8 140.8h0M492.5 138.8h0M493.0 150.0h0M491.4 144.9h0M494.9 155.6h0" stroke="#ff0000" stroke-opacity="0.44" stroke-width="2.5" stroke-linecap="round" fill="none"/>
<path d="M495.1 154.5h0M491.9 156.9h0M490.2 130.1h0M489.3 135.9h0M495.3 136.5h0M495.0 143.7h0M491.5 145.2h0M494.0 140.7h0M491.7 134.6h0M492.9 158.0h0M489.9 126.1h0M492.7 128.1h0M496.2 157.8h0M491.0 129.3h0M489.5 150.1h0M489.4 161.0h0M491.0 143.6h0M496.9 125.7h0M494.5 143.8h0M496.3 144.7h0M490.3 139.7h0M493.6 153.8h0M496.2 152.6h0M495.4 125.6h0M491.2 135.1h0M495.6 140.4h0M491.4 142.9h0M489.9 155.0h0M492.9 148.9h0M494.5 140.5h0M492.1 143.0h0M491.0 147.6h0M490.8 158.8h0M491.6 144.9h0M490.5 122.9h0M491.5 161.3h0M491.3 159.0h0M492.1 147.6h0M496.4 147.7h0M496.3 129.7h0M495.4 138.5h0M489.9 147.3h0M492.5 121.1h0M492.0 147.4h0M492.2 155.9h0M492.8 142.1h0M491.2 138.2h0M496.1 134.8h0M492.9 143.4h0M494.6 146.9h0M489.4 129.9h0M494.6 132.2h0M495.6 151.5h0M490.9 118.0h0M489.3 132.3h0M493.9 133.7h0M493.7 147.1h0M491.7 130.2h0M493.5 141.2h0M493.5 126.3h0M492.6 121.3h0M490.4 155.3h0M493.7 152.9h0M492.0 141.4h0M491.6 143.1h0M490.6 141.2h0M493.3 145.3h0M496.8 123.6h0M495.3 148.7h0M495.4 144.1h0M490.2 155.1h0M495.5 160.1h0M496.7 162.1h0M494.7 123.3h0M493.3 136.1h0M496.0 136.9h0M495.9 145.8h0M493.1 133.5h0M490.4 164.9h0M494.7 148.0h0M492.1 142.0h0M496.1 166.2h0M495.5 163.1h0M490.1 157.2h0M491.8 132.9h0M494.0 128.9h0M493.9 146.6h0M490.8 146.8h0M491.2 143.0h0M495.6 126.4h0M493.7 131.5h0M496.5 139.8h0M495.7 113.7h0M493.2 181.1h0M491.0 159.4h0M490.3 154.3h0M489.4 154.6h0M492.5 139.2h0M491.3 153.9h0M496.7 155.4h0" stroke="#ff0000" stroke-opacity="0.44" stroke-width="2.5" stroke-linecap="round" fill="none"/>
<path d="M489.8 130.8h0M494.7 163.6h0M491.5 114.9h0M491.4 144.3h0M495.8 146.2h0M493.3 145.2h0M495.9 148.1h0M491.8 131.8h0M496.1 133.8h0M493.3 153.7h0M490.5 149.0h0M490.0 151.7h0M491.6 121.9h0M492.6 157.6h0M490.1 136.9h0M489.5 148.3h0M493.1 146.6h0M496.6 143.5h0M495.0 140.4h0M495.6 149.6h0M493.5 146.9h0M494.2 145.9h0M493.3 145.7h0M490.7 137.4h0M496.5 148.5h0M491.3 134.4h0M491.9 137.9h0M492.2 132.7h0M494.9 149.7h0M492.7 133.0h0M490.9 146.5h0M496.6 147.0h0M489.5 140.6h0M492.3 147.2h0M492.8 133.9h0M489.6 151.9h0M493.9 138.9h0M495.7 135.6h0M495.4 154.3h0M493.0 138.8h0M493.9 148.4h0M489.8 149.6h0M492.6 156.1h0M493.3 134.2h0M492.3 142.4h0M495.7 133.5h0M490.5 140.6h0M494.2 141.4h0M489.4 161.6h0M493.9 125.2h0M492.9 144.2h0M493.1 140.3h0M489.5 148.9h0M493.2 146.3h0M491.2 148.1h0M496.4 151.3h0M489.9 150.7h0M494.5 150.3h0M491.4 142.3h0M491.1 128.8h0M494.3 146.2h0M492.3 138.2h0M496.8 164.3h0M490.0 137.9h0M493.7 145.8h0M491.3 156.6h0M495.2 146.1h0M490.5 133.6h0M489.6 119.4h0M491.2 147.8h0M490.4 142.7h0M494.8 143.2h0M491.1 134.9h0M492.4 140.8h0M492.6 127.4h0M492.9 146.0h0M492.3 136.4h0M490.2 160.5h0M495.3 124.8h0M489.4 139.1h0M493.4 143.9h0M490.0 158.7h0M491.2 137.1h0M492.7 165.8h0M489.7 148.2h0M496.5 133.2h0M495.4 141.9h0M489.7 154.2h0M493.5 144.0h0M495.7 137.8h0M495.2 134.4h0M492.1 143.7h0M494.3 140.9h0M493.8 142.6h0M491.2 138.6h0M490.8 147.3h0M491.2 148.8h0M490.8 139.6h0M490.2 140.3h0" stroke="#ff0000" stroke-opacity="0.44" stroke-width="2.5" stroke-linecap="round" fill="none"/>
<path d="M494.7 167.5h0M495.5 151.0h0M494.5 168.3h0M490.6 152.8h0M489.7 138.4h0M491.4 144.7h0M496.0 151.6h0M496.8 142.6h0M489.9 148.4h0M490.0 144.7h0M492.0 141.6h0M492.9 131.7h0M492.6 159.3h0M490.4 129.4h0M489.5 124.3h0M493.1 147.4h0M490.5 145.0h0M494.4 139.1h0M491.6 151.1h0M491.5 130.3h0M494.2 136.7h0M492.7 138.3h0M489.5 146.1h0M491.4 144.4h0M492.0 143.3h0M491.1 132.1h0M491.6 151.0h0M495.2 141.1h0M494.0 135.3h0M490.6 153.4h0M489.6 137.2h0M491.4 128.1h0M493.5 141.4h0M494.4 142.7h0M494.7 144.5h0M491.8 158.3h0M496.4 128.5h0M490.9 144.8h0M489.6 153.0h0M492.3 134.1h0M495.6 145.2h0M491.3 137.5h0M493.9 147.2h0M491.7 144.6h0M495.3 147.5h0M496.0 141.3h0M490.2 136.4h0M490.7 152.2h0M490.6 137.2h0M491.6 139.5h0M494.2 144.4h0M492.2 160.9h0M492.7 149.8h0M495.0 154.7h0M494.3 106.5h0M491.0 137.5h0M489.7 145.6h0M490.6 145.4h0M496.3 152.6h0M494.2 145.4h0M496.6 149.5h0M495.2 149.1h0M495.9 134.5h0M490.2 124.2h0M493.2 120.0h0M490.0 150.6h0M490.8 137.7h0M491.9 144.2h0M495.9 130.9h0M491.3 111.5h0M494.6 140.0h0M490.0 135.7h0M496.1 129.1h0M496.0 136.2h0M493.7 128.7h0M490.3 149.3h0M490.0 146.4h0M496.2 197.9h0M493.6 152.0h0M491.6 136.5h0M489.9 152.2h0M493.1 131.4h0M493.6 139.4h0M491.7 145.7h0M496.6 143.0h0M489.5 137.5h0M490.5 141.0h0M490.1 150.4h0M489.4 146.3h0M496.3 142.8h0M491.9 142.4h0M489.6 144.6h0M490.4 153.7h0M491.0 152.1h0M492.8 146.2h0M489.4 135.2h0M495.9 143.2h0M492.9 136.8h0M496.2 132.8h0" stroke="#ff0000" stroke-opacity="0.44" stroke-width="2.5" stroke-linecap="round" fill="none"/>
<path d="M494.7 145.4h0M496.2 132.2h0M493.9 144.1h0M496.4 160.2h0M496.5 118.5h0M491.3 142.7h0M490.7 141.8h0M491.4 129.6h0M493.7 145.6h0M489.9 138.0h0M491.2 137.0h0M492.7 149.9h0M491.5 130.5h0M491.5 152.3h0M494.0 135.1h0M494.7 127.5h0M494.6 142.3h0M492.9 145.3h0M490.5 144.1h0M494.2 128.4h0M492.0 143.3h0M491.1 153.1h0M492.2 117.5h0M492.5 147.9h0M496.8 132.7h0M496.9 127.8h0M494.3 135.8h0M490.4 156.4h0M491.8 143.4h0M496.6 147.0h0M494.8 141.6h0M496.4 143.8h0M493.3 139.6h0M489.6 134.2h0M491.6 148.6h0M493.6 140.2h0M493.6 146.8h0M491.6 136.7h0M492.9 162.6h0M496.2 129.8h0M493.4 139.8h0M492.9 122.5h0M492.6 145.0h0M493.0 141.0h0M492.6 136.2h0M494.8 146.7h0M490.4 145.0h0M491.1 130.6h0M492.0 138.6h0M494.8 141.6h0M491.9 147.8h0M490.5 138.5h0M491.4 122.0h0M495.1 163.4h0M495.5 150.8h0M489.6 155.2h0M490.1 138.4h0M495.5 126.0h0M490.4 146.5h0M493.9 144.5h0M494.4 147.5h0M494.2 137.3h0M495.4 150.2h0M493.8 143.2h0M496.7 138.1h0M495.6 131.2h0M496.4 141.8h0M492.8 133.4h0M494.2 148.0h0M492.9 142.5h0M491.3 153.3h0M496.5 141.7h0M493.2 142.0h0M492.7 147.8h0M492.7 151.2h0M489.7 145.9h0M493.4 142.2h0M495.1 135.5h0M495.6 136.0h0M495.6 150.6h0M492.9 141.9h0M495.8 137.6h0M496.0 144.4h0M491.0 150.0h0M494.5 152.4h0M492.1 148.3h0M492.9 132.5h0M494.4 126.9h0M495.1 133.2h0M490.3 139.7h0M489.8 139.5h0M491.3 141.3h0M495.3 135.3h0M491.2 148.8h0M495.5 131.1h0M494.9 151.4h0M492.9 148.6h0M494.3 151.8h0M490.9 120.6h0" stroke="#ff0000" stroke-opacity="0.44" stroke-width="2.5" stroke-linecap="round" fill="none"/>
<path d="M505.3 163.9h0M504.0 139.3h0M502.6 137.3h0M507.0 136.7h0M501.8 136.9h0M503.9 151.0h0M501.2 158.1h0M506.3 147.3h0M504.9 148.5h0M507.9 158.3h0M500.7 137.7h0" stroke="#0000ff" stroke-opacity="0.44" stroke-width="2.5" stroke-linecap="round" fill="none"/>
<path d="M502.9 129.6h0M502.9 164.4h0M502.3 161.0h0M502.9 148.1h0M505.2 145.9h0M502.7 155.4h0M507.0 171.3h0M500.9 154.3h0M502.1 133.3h0M503.8 136.0h0M502.1 157.0h0" stroke="#0000ff" stroke-opacity="0.44" stroke-width="2.5" stroke-linecap="round" fill="none"/>
<path d="M505.0 159.6h0M501.0 142.0h0M503.7 133.1h0M507.5 178.1h0M501.6 160.1h0M506.3 134.9h0M503.2 153.4h0M501.6 144.3h0M504.1 138.7h0M506.3 146.3h0" stroke="#0000ff" stroke-opacity="0.44" stroke-width="2.5" stroke-linecap="round" fill="none"/>
<path d="M505.3 149.5h0M507.7 144.5h0M504.0 143.5h0M506.9 131.6h0M505.3 142.6h0M505.7 141.1h0M507.4 140.5h0M504.7 165.4h0M506.8 139.9h0M503.0 144.9h0" stroke="#0000ff" stroke-opacity="0.44" stroke-width="2.5" stroke-linecap="round" fill="none"/>
<path d="M508.1 152.1h0M501.6 156.1h0M503.7 150.3h0M503.0 143.0h0M507.7 134.2h0M507.8 162.2h0M507.3 167.7h0M507.7 135.8h0M507.2 138.1h0M501.6 169.6h0" stroke="#0000ff" stroke-opacity="0.44" stroke-width="2.5" stroke-linecap="round" fill="none"/>
<path d="M514.8 110.7h0M514.4 113.1h0M517.2 110.2h0M517.2 108.1h0M516.0 112.3h0M517.5 114.3h0M519.0 126.9h0M516.3 147.3h0M513.3 128.5h0M513.9 135.4h0M512.7 123.2h0M515.9 119.8h0M515.8 133.6h0M517.0 117.0h0M516.1 127.9h0M515.1 123.5h0M514.2 111.1h0M516.4 113.0h0M513.9 116.9h0M518.3 114.5h0M515.6 120.7h0M517.6 116.6h0M518.9 107.4h0M517.4 151.3h0M518.7 109.4h0M517.6 126.0h0M512.4 136.5h0M513.4 134.4h0M515.1 122.1h0M515.8 106.4h0M513.7 122.3h0M512.1 115.8h0M514.9 114.9h0M516.2 129.3h0" stroke="#ff0000" stroke-opacity="0.44" stroke-width="2.5" stroke-linecap="round" fill="none"/>
<path d="M512.8 143.9h0M517.0 121.1h0M512.3 111.9h0M518.4 116.4h0M518.0 120.2h0M512.9 123.4h0M517.0 126.3h0M512.6 132.4h0M512.3 121.5h0M514.7 129.0h0M518.0 126.7h0M517.2 138.2h0M516.2 112.1h0M516.7 137.9h0M514.8 108.7h0M518.3 104.4h0M518.2 117.5h0M519.1 148.6h0M519.3 109.8h0M516.5 118.8h0M518.8 117.2h0M513.7 111.3h0M516.1 122.0h0M516.0 118.5h0M518.7 146.1h0M515.4 124.9h0M514.4 124.5h0M512.7 120.8h0M519.3 152.5h0M516.7 134.2h0M515.9 103.1h0M517.2 131.9h0M514.6 140.6h0" stroke="#ff0000" stroke-opacity="0.44" stroke-width="2.5" stroke-linecap="round" fill="none"/>
<path d="M512.5 127.3h0M519.5 131.2h0M514.4 113.8h0M517.0 121.4h0M515.5 119.2h0M517.8 115.6h0M514.0 113.5h0M514.1 135.7h0M513.0 116.5h0M512.6 119.8h0M516.0 120.9h0M514.0 111.6h0M514.0 140.8h0M515.0 130.7h0M513.0 119.2h0M514.2 129.7h0M513.5 126.1h0M514.0 128.1h0M519.4 120.6h0M514.0 115.2h0M513.1 110.3h0M513.8 139.9h0M515.4 122.7h0M515.8 127.8h0M515.4 135.1h0M515.3 95.4h0M514.9 117.6h0M516.8 98.9h0M515.4 103.5h0M517.7 120.4h0M515.4 132.9h0M518.6 133.7h0M512.4 152.7h0" stroke="#ff0000" stroke-opacity="0.44" stroke-width="2.5" stroke-linecap="round" fill="none"/>
<path d="M512.4 88.7h0M516.0 118.3h0M516.9 123.0h0M518.7 130.2h0M516.1 141.7h0M514.7 122.4h0M517.8 117.1h0M519.4 124.7h0M513.7 137.2h0M512.4 142.0h0M517.0 125.2h0M515.7 118.9h0M516.5 118.3h0M512.4 119.9h0M515.4 129.0h0M516.4 131.4h0M518.6 123.7h0M513.2 102.1h0M513.2 139.5h0M512.9 134.7h0M514.5 136.2h0M513.2 120.1h0M515.1 115.9h0M512.6 131.7h0M519.0 124.2h0M518.9 130.5h0M518.9 118.1h0M519.4 138.7h0M514.0 144.6h0M517.8 137.2h0M515.3 112.7h0M512.9 106.9h0M512.8 116.0h0" stroke="#ff0000" stroke-opacity="0.44" stroke-width="2.5" stroke-linecap="round" fill="none"/>
<path d="M512.8 142.6h0M516.7 113.6h0M517.2 128.7h0M517.3 117.8h0M517.9 132.7h0M518.7 120.5h0M518.0 125.8h0M518.2 116.1h0M515.5 108.2h0M513.1 125.7h0M517.2 125.3h0M517.6 105.9h0M515.1 121.6h0M513.9 130.9h0M518.0 118.6h0M514.1 130.0h0M512.8 114.8h0M515.2 114.2h0M514.9 133.2h0M519.1 123.9h0M517.4 100.6h0M516.4 105.7h0M513.2 119.5h0M514.0 105.0h0M514.6 124.2h0M516.0 127.6h0M518.5 117.9h0M515.4 109.2h0M517.6 119.6h0M515.6 117.4h0M513.2 119.1h0M518.6 115.4h0M518.4 127.0h0" stroke="#ff0000" stroke-opacity="0.44" stroke-width="2.5" stroke-linecap="round" fill="none"/>
<path d="M528.6 146.8h0M530.1 152.4h0" stroke="#0000ff" stroke-opacity="0.44" stroke-width="2.5" stroke-linecap="round" fill="none"/>
<path d="M529.3 141.1h0M530.4 143.3h0" stroke="#0000ff" stroke-opacity="0.44" stroke-width="2.5" stroke-linecap="round" fill="none"/>
<path d="M526.6 149.2h0M525.7 141.7h0" stroke="#0000ff" stroke-opacity="0.44" stroke-width="2.5" stroke-linecap="round" fill="none"/>
<path d="M526.7 145.2h0M527.8 139.1h0" stroke="#0000ff" stroke-opacity="0.44" stroke-width="2.5" stroke-linecap="round" fill="none"/>
<path d="M529.9 145.5h0M528.7 147.7h0" stroke="#0000ff" stroke-opacity="0.44" stroke-width="2.5" stroke-linecap="round" fill="none"/>
<path d="M535.6 127.8h0M536.3 128.6h0M536.0 112.7h0M534.7 123.7h0M537.4 139.1h0M542.1 125.5h0M541.3 111.7h0M539.7 95.6h0M540.6 106.5h0M535.3 113.4h0M536.6 136.1h0M540.0 133.6h0M537.2 134.8h0M539.3 110.9h0M542.2 116.6h0M540.1 82.7h0M539.7 111.0h0M536.7 102.3h0M540.3 144.5h0M541.9 110.2h0M539.2 132.9h0M537.5 106.0h0M541.4 114.5h0M539.7 151.0h0M536.1 130.2h0M540.6 141.2h0M535.4 101.1h0M538.7 99.3h0M535.7 152.4h0M539.9 132.6h0M540.0 124.2h0M538.4 77.6h0M540.7 138.1h0M537.0 128.3h0M535.7 90.0h0M536.3 118.9h0M535.8 125.0h0M536.3 118.1h0M540.9 122.6h0M535.9 123.4h0M540.7 133.5h0M541.9 127.7h0M539.9 96.0h0M538.8 105.4h0M537.5 121.5h0M540.9 115.8h0M539.2 111.9h0M539.3 100.4h0M535.8 131.8h0M537.0 115.3h0M537.7 112.4h0M540.8 117.0h0" stroke="#ff0000" stroke-opacity="0.44" stroke-width="2.5" stroke-linecap="round" fill="none"/>
<path d="M539.7 121.2h0M541.9 117.7h0M540.7 132.4h0M537.9 113.4h0M540.2 108.5h0M539.2 117.3h0M537.7 123.6h0M539.4 117.6h0M537.7 111.6h0M536.3 128.8h0M541.4 120.3h0M535.9 143.1h0M539.2 148.1h0M538.7 134.0h0M538.6 123.9h0M535.0 139.7h0M536.8 116.8h0M534.8 125.1h0M542.0 126.1h0M536.5 114.1h0M540.3 108.2h0M541.7 135.5h0M537.0 141.7h0M539.2 107.7h0M536.8 97.1h0M541.7 91.7h0M535.2 130.5h0M534.8 108.4h0M537.9 105.8h0M536.7 118.6h0M540.5 131.0h0M542.1 97.3h0M541.5 127.5h0M537.8 119.7h0M540.6 116.4h0M541.4 149.3h0M541.5 145.3h0M538.4 142.2h0M535.0 120.1h0M541.2 103.4h0M538.0 130.9h0M537.7 98.3h0M537.0 101.8h0M535.2 76.2h0M538.3 120.9h0M540.6 109.1h0M535.9 143.6h0M535.8 88.5h0M540.4 130.7h0M540.3 137.1h0M535.6 102.8h0M539.3 118.8h0" stroke="#ff0000" stroke-opacity="0.44" stroke-width="2.5" stroke-linecap="round" fill="none"/>
<path d="M539.3 125.9h0M539.0 154.9h0M537.1 138.5h0M538.8 118.4h0M536.3 121.9h0M538.2 103.2h0M540.4 128.0h0M539.8 114.3h0M541.0 114.6h0M535.9 136.6h0M539.8 119.8h0M538.8 129.7h0M535.1 139.8h0M538.9 92.8h0M536.6 122.2h0M539.2 145.6h0M536.2 117.8h0M540.3 104.0h0M539.1 111.2h0M534.7 87.4h0M536.0 134.6h0M540.0 123.1h0M539.1 133.8h0M542.0 126.8h0M537.9 119.2h0M539.9 135.6h0M539.1 131.5h0M539.4 137.6h0M535.6 109.9h0M535.8 104.4h0M536.6 89.7h0M537.8 127.1h0M540.0 132.3h0M538.2 149.9h0M541.1 119.1h0M537.2 124.3h0M539.0 99.3h0M536.3 115.6h0M541.3 136.6h0M537.6 129.0h0M539.5 93.2h0M540.5 136.0h0M538.9 134.2h0M538.5 130.0h0M539.8 124.7h0M539.8 132.0h0M542.0 135.3h0M536.3 122.8h0M539.4 143.9h0M541.4 125.2h0M538.0 108.9h0M540.6 122.1h0" stroke="#ff0000" stroke-opacity="0.44" stroke-width="2.5" stroke-linecap="round" fill="none"/>
<path d="M541.2 114.8h0M536.7 120.4h0M537.8 157.0h0M535.2 98.7h0M538.0 155.4h0M541.4 126.8h0M536.3 85.8h0M539.6 156.4h0M536.5 120.5h0M540.3 138.7h0M536.4 126.2h0M540.8 107.2h0M538.1 129.2h0M534.9 121.6h0M537.2 132.9h0M536.9 97.9h0M542.1 147.0h0M537.4 102.1h0M541.8 108.7h0M542.0 133.3h0M536.8 93.7h0M541.4 105.0h0M535.3 122.7h0M535.6 121.3h0M535.8 142.8h0M534.9 110.5h0M539.3 147.4h0M536.6 91.3h0M537.3 122.3h0M539.7 107.6h0M540.3 128.5h0M535.9 130.2h0M535.2 115.5h0M535.9 140.3h0M537.0 106.3h0M534.9 113.8h0M540.7 95.0h0M535.6 127.4h0M540.8 129.5h0M538.6 104.9h0M539.7 127.2h0M537.5 112.6h0M538.7 107.2h0M539.5 120.7h0M536.8 115.0h0M540.8 128.2h0M538.4 113.6h0M539.6 106.8h0M534.8 116.7h0M540.5 109.8h0M541.1 126.6h0M540.8 121.0h0" stroke="#ff0000" stroke-opacity="0.44" stroke-width="2.5" stroke-linecap="round" fill="none"/>
<path d="M540.8 102.5h0M541.7 113.0h0M536.1 131.6h0M538.0 119.3h0M538.5 119.5h0M540.6 126.4h0M540.0 146.5h0M539.9 125.8h0M538.7 134.9h0M540.1 118.2h0M538.6 113.2h0M535.3 113.9h0M541.2 115.1h0M539.3 101.6h0M538.5 131.2h0M538.8 125.6h0M536.6 109.3h0M540.4 112.4h0M537.8 116.0h0M537.8 116.3h0M538.5 100.0h0M538.6 103.8h0M538.1 117.9h0M538.8 107.9h0M541.0 112.0h0M540.2 106.7h0M535.8 115.9h0M538.4 139.5h0M541.6 140.9h0M540.1 121.9h0M536.4 109.6h0M537.6 100.9h0M535.0 141.5h0M542.1 124.9h0M539.2 117.2h0M534.8 123.0h0M536.5 105.6h0M536.2 110.6h0M537.0 137.3h0M537.8 104.6h0M539.2 123.3h0M537.8 120.0h0M535.6 110.3h0M539.5 124.1h0M538.7 129.5h0M539.5 111.3h0M541.6 137.8h0M537.1 94.8h0M540.6 124.5h0M541.9 96.5h0M539.1 100.2h0" stroke="#ff0000" stroke-opacity="0.44" stroke-width="2.5" stroke-linecap="round" fill="none"/>
<path d="M546.4 133.0h0M553.6 132.4h0M549.9 137.0h0M548.7 139.6h0M547.1 124.9h0M550.0 130.0h0M550.7 147.9h0M551.5 121.5h0M553.6 113.5h0M548.2 140.8h0M553.3 125.4h0M548.0 155.4h0M551.9 124.3h0M551.7 120.6h0M552.7 135.9h0M552.8 118.7h0M546.8 127.6h0M548.6 119.1h0M552.6 117.3h0M549.2 121.2h0M549.9 146.4h0" stroke="#ff0000" stroke-opacity="0.44" stroke-width="2.5" stroke-linecap="round" fill="none"/>
<path d="M551.7 122.7h0M547.8 133.8h0M547.4 120.0h0M550.5 125.3h0M551.6 127.2h0M547.1 129.8h0M549.7 137.4h0M549.2 159.4h0M548.4 131.1h0M551.2 134.2h0M552.8 116.9h0M550.1 95.0h0M548.2 139.4h0M550.3 150.6h0M550.0 142.7h0M551.0 137.7h0M547.0 144.0h0M552.3 126.3h0M548.4 110.2h0M546.3 118.0h0M552.6 143.5h0" stroke="#ff0000" stroke-opacity="0.44" stroke-width="2.5" stroke-linecap="round" fill="none"/>
<path d="M547.9 145.2h0M548.3 131.9h0M546.6 134.8h0M549.7 128.4h0M549.2 140.1h0M548.1 146.1h0M551.0 122.9h0M550.4 112.3h0M553.1 136.5h0M553.0 126.9h0M551.7 124.1h0M549.9 148.5h0M548.3 115.1h0M553.3 105.0h0M549.1 128.3h0M552.1 130.9h0M551.4 122.0h0M551.2 135.3h0M551.7 140.6h0M551.1 123.5h0M549.9 117.9h0" stroke="#ff0000" stroke-opacity="0.44" stroke-width="2.5" stroke-linecap="round" fill="none"/>
<path d="M551.0 131.7h0M553.0 144.6h0M549.2 119.3h0M546.4 107.1h0M550.3 132.2h0M552.6 135.4h0M548.8 114.3h0M549.2 142.0h0M551.4 127.8h0M549.6 149.5h0M549.0 128.8h0M547.6 135.9h0M550.4 129.5h0M552.9 122.3h0M548.4 126.6h0M549.9 130.4h0M546.3 100.8h0M552.7 141.4h0M553.6 107.8h0M548.2 120.1h0" stroke="#ff0000" stroke-opacity="0.44" stroke-width="2.5" stroke-linecap="round" fill="none"/>
<path d="M549.2 116.5h0M552.9 125.8h0M551.4 153.6h0M553.2 134.0h0M546.7 132.9h0M546.6 133.5h0M546.7 115.8h0M550.4 138.7h0M551.8 129.0h0M546.9 114.1h0M552.0 142.3h0M552.7 111.4h0M553.6 134.5h0M553.4 109.2h0M549.7 131.4h0M551.3 138.3h0M546.9 123.6h0M550.4 130.6h0M549.2 136.5h0M547.6 138.1h0" stroke="#ff0000" stroke-opacity="0.44" stroke-width="2.5" stroke-linecap="round" fill="none"/>
<path d="M564.3 144.1h0M562.2 115.8h0M560.0 133.6h0M562.5 160.9h0M564.5 123.2h0M564.3 126.0h0M559.4 102.0h0M561.9 124.0h0M563.1 117.2h0M564.6 134.1h0M561.7 124.6h0M560.2 145.1h0M561.5 112.9h0M560.4 154.5h0M561.0 128.5h0M562.6 121.8h0M559.4 112.0h0M562.9 98.2h0M563.5 111.3h0M561.7 153.6h0M561.6 125.7h0M563.3 123.5h0M564.1 148.0h0M557.9 131.9h0M559.3 102.6h0M558.4 99.6h0M558.9 141.7h0M557.5 121.6h0M557.9 137.7h0M562.5 121.4h0M560.2 150.5h0M560.0 152.0h0M559.9 119.8h0M562.1 125.8h0M558.0 125.4h0M557.7 127.3h0M558.3 146.4h0M563.1 128.1h0M561.6 123.8h0M559.1 134.5h0M557.8 128.6h0M558.5 135.1h0M564.6 137.3h0M562.7 121.9h0M558.2 120.9h0M564.1 137.9h0M557.7 133.2h0M564.8 122.6h0M560.1 123.6h0M560.6 133.4h0M557.7 118.4h0M563.2 104.7h0M563.9 125.9h0M564.0 122.9h0M562.2 117.5h0M560.0 116.1h0M562.5 141.3h0M564.4 128.0h0M562.7 134.8h0M557.8 126.5h0M557.7 147.1h0M562.4 128.3h0M558.2 139.2h0M559.4 127.6h0M559.5 132.8h0M560.2 109.4h0M557.5 127.9h0M560.6 135.8h0M557.8 119.6h0M559.4 110.4h0M563.1 131.2h0M559.7 117.0h0M559.7 142.0h0M564.0 114.5h0" stroke="#a020f0" stroke-opacity="0.44" stroke-width="2.5" stroke-linecap="round" fill="none"/>
<path d="M560.2 121.2h0M561.3 119.7h0M557.5 112.7h0M561.2 170.8h0M561.3 157.9h0M561.5 131.5h0M557.8 132.5h0M565.0 118.5h0M560.1 114.9h0M557.8 101.6h0M561.1 124.2h0M558.1 148.1h0M558.8 136.2h0M562.9 124.7h0M557.6 147.7h0M563.2 133.7h0M560.7 131.0h0M561.4 125.1h0M564.0 113.5h0M564.9 115.2h0M564.7 89.6h0M560.8 121.5h0M559.8 132.4h0M563.6 128.3h0M563.9 142.8h0M563.7 122.5h0M559.8 96.8h0M563.6 134.8h0M558.2 97.5h0M559.1 128.4h0M560.0 124.8h0M559.9 134.0h0M558.6 138.3h0M562.3 126.7h0M559.9 95.3h0M561.5 125.2h0M563.9 109.3h0M559.2 156.0h0M560.6 129.2h0M561.0 130.7h0M562.2 122.6h0M559.6 124.1h0M560.7 90.3h0M560.9 124.5h0M560.8 139.5h0M560.4 141.7h0M563.1 120.8h0M558.8 120.5h0M560.4 120.3h0M564.5 108.6h0M559.0 129.0h0M563.3 150.0h0M559.1 157.3h0M562.2 124.4h0M561.8 164.0h0M557.5 106.3h0M560.8 132.3h0M561.0 119.0h0M564.1 134.3h0M558.3 126.7h0M558.4 104.1h0M559.7 133.6h0M561.6 123.9h0M558.6 121.1h0M561.1 128.9h0M560.3 125.0h0M558.0 141.3h0M563.4 128.5h0M561.0 133.0h0M561.1 123.1h0M560.7 129.9h0M562.8 119.9h0M562.9 135.8h0M560.1 116.5h0" stroke="#a020f0" stroke-opacity="0.44" stroke-width="2.5" stroke-linecap="round" fill="none"/>
<path d="M561.1 117.8h0M557.6 120.5h0M558.6 143.9h0M557.8 113.8h0M564.7 129.0h0M559.9 167.0h0M563.6 119.3h0M557.8 132.2h0M562.7 113.7h0M561.0 109.6h0M558.6 127.4h0M564.1 125.3h0M563.2 117.1h0M564.2 145.9h0M560.5 126.3h0M564.0 103.0h0M563.5 127.1h0M558.7 122.7h0M557.6 128.8h0M560.4 151.5h0M558.0 159.6h0M563.2 118.9h0M560.0 108.7h0M560.5 146.8h0M560.5 111.5h0M562.1 121.0h0M561.0 105.1h0M562.1 140.5h0M561.1 106.8h0M560.7 135.3h0M564.2 121.0h0M563.4 119.5h0M564.1 153.9h0M558.4 130.4h0M558.9 121.9h0M564.6 105.5h0M563.4 137.4h0M559.6 131.6h0M559.8 126.2h0M563.2 126.9h0M564.5 92.1h0M559.2 129.3h0M557.6 129.8h0M560.8 100.4h0M558.8 115.6h0M563.6 130.9h0M564.6 130.9h0M562.8 131.3h0M557.8 130.0h0M563.1 129.5h0M559.2 117.4h0M558.8 130.8h0M564.1 130.5h0M558.0 113.2h0M560.8 129.7h0M557.6 122.3h0M564.6 123.0h0M558.3 118.6h0M564.7 127.2h0M561.7 125.0h0M559.9 131.9h0M564.9 127.7h0M565.0 137.6h0M562.8 136.8h0M564.4 110.0h0M561.4 124.3h0M563.6 131.6h0M564.1 129.4h0M561.3 107.7h0M562.5 127.8h0M564.2 90.4h0M563.2 117.9h0M562.7 134.3h0M559.5 114.0h0" stroke="#a020f0" stroke-opacity="0.44" stroke-width="2.5" stroke-linecap="round" fill="none"/>
<path d="M559.3 129.8h0M560.3 143.5h0M560.3 119.2h0M558.3 139.8h0M563.1 129.5h0M562.0 144.4h0M564.2 135.5h0M558.8 117.6h0M558.4 122.3h0M561.0 149.0h0M560.1 165.5h0M563.3 116.6h0M560.2 120.6h0M562.2 119.0h0M563.0 155.4h0M563.0 109.8h0M563.2 107.4h0M564.4 132.8h0M558.8 138.1h0M560.8 139.3h0M561.8 122.0h0M558.4 133.5h0M561.4 103.8h0M561.5 138.5h0M564.3 130.1h0M560.1 123.7h0M560.6 118.2h0M560.0 108.1h0M560.7 135.2h0M562.2 143.0h0M563.1 120.0h0M557.7 113.5h0M563.7 131.4h0M563.0 134.7h0M563.5 140.0h0M564.1 130.6h0M557.5 174.8h0M562.5 144.7h0M558.5 153.2h0M563.1 116.8h0M563.8 126.4h0M560.1 140.9h0M563.3 118.1h0M562.2 130.4h0M559.6 156.8h0M563.1 127.1h0M558.4 118.7h0M564.1 130.3h0M561.3 110.9h0M562.5 136.6h0M562.2 98.9h0M564.4 103.5h0M562.9 142.2h0M563.1 126.9h0M561.0 133.8h0M562.0 109.0h0M560.2 114.2h0M559.7 127.5h0M558.5 94.2h0M560.7 129.1h0M559.1 114.7h0M558.3 115.0h0M559.8 119.4h0M557.5 134.5h0M558.5 131.3h0M562.4 159.5h0M562.4 149.6h0M559.2 136.3h0M561.6 128.8h0M557.5 112.5h0M564.7 92.5h0M563.0 149.2h0M565.0 145.5h0" stroke="#a020f0" stroke-opacity="0.44" stroke-width="2.5" stroke-linecap="round" fill="none"/>
<path d="M563.9 121.5h0M563.0 122.1h0M563.3 152.6h0M561.5 143.2h0M561.8 120.1h0M562.7 116.2h0M559.7 151.0h0M559.2 98.7h0M561.6 101.2h0M564.4 161.9h0M563.4 125.6h0M557.7 140.1h0M562.2 138.6h0M560.0 110.2h0M563.2 112.4h0M560.8 123.4h0M563.6 113.1h0M558.4 117.6h0M563.5 127.8h0M561.7 111.1h0M559.9 116.4h0M558.4 136.7h0M562.6 111.7h0M561.5 135.9h0M558.8 111.8h0M558.4 107.9h0M564.5 123.1h0M563.8 102.4h0M559.5 139.0h0M563.1 151.1h0M561.9 110.7h0M561.8 133.3h0M559.0 137.1h0M560.3 138.8h0M559.3 100.8h0M560.8 145.0h0M560.5 106.0h0M558.6 108.2h0M558.1 143.7h0M564.4 128.0h0M564.6 116.0h0M558.8 105.8h0M564.4 106.6h0M559.3 126.0h0M564.2 146.9h0M558.4 133.0h0M561.1 104.4h0M557.9 140.9h0M561.0 126.8h0M563.9 126.3h0M561.3 89.2h0M564.0 115.3h0M560.6 115.4h0M558.8 123.3h0M559.6 132.0h0M557.7 114.4h0M562.5 132.3h0M561.4 132.6h0M561.9 131.8h0M562.7 130.1h0M558.5 148.7h0M563.6 140.4h0M560.2 107.0h0M565.0 112.2h0M565.0 132.6h0M558.8 120.2h0M562.8 142.5h0M564.7 124.9h0M558.4 146.0h0M561.2 133.9h0M564.0 95.6h0M564.6 125.5h0M558.4 118.2h0" stroke="#a020f0" stroke-opacity="0.44" stroke-width="2.5" stroke-linecap="round" fill="none"/>
<path d="M571.6 134.5h0M569.7 128.7h0M574.0 145.5h0M570.8 118.2h0M571.0 114.8h0M570.0 144.2h0M572.9 142.9h0M575.1 105.1h0M575.0 106.6h0M572.6 130.0h0M571.6 124.3h0M576.2 179.4h0M569.0 152.4h0M575.3 131.9h0M571.8 131.4h0M572.1 145.0h0M570.2 131.4h0M574.3 136.0h0M575.2 133.8h0M574.7 123.3h0M573.5 136.8h0M575.3 150.0h0M571.9 144.5h0M574.8 122.7h0M572.2 143.3h0M573.2 152.1h0M571.6 137.8h0M573.1 117.7h0M575.5 114.6h0M574.0 139.4h0M570.5 120.4h0M574.8 107.2h0M575.9 135.3h0M570.1 121.9h0M574.9 135.0h0M575.5 129.0h0M571.0 123.5h0M570.2 123.9h0M574.3 126.3h0M574.2 119.6h0M575.2 133.0h0M569.5 141.4h0M570.8 116.6h0M575.6 123.1h0M571.7 142.2h0M569.8 147.6h0M574.0 151.2h0M571.3 138.0h0M573.1 146.7h0M570.9 128.8h0M569.5 139.2h0M575.2 139.5h0M569.7 125.4h0M569.5 111.2h0M576.1 147.3h0M570.5 138.2h0M576.2 157.7h0M571.5 116.9h0M569.6 119.1h0M569.6 132.9h0M571.1 137.4h0M569.1 120.9h0M569.3 156.5h0M575.2 138.5h0M574.6 120.5h0M572.2 155.5h0M575.0 136.9h0M575.4 128.4h0M569.2 135.4h0M570.8 133.9h0M574.3 147.9h0M569.6 130.9h0M570.2 136.7h0M573.7 140.6h0M572.9 158.1h0M575.8 132.6h0M571.7 118.5h0M573.1 128.2h0M570.9 152.9h0M570.2 116.2h0M574.4 105.5h0M576.1 141.2h0M574.6 120.1h0" stroke="#ff0000" stroke-opacity="0.44" stroke-width="2.5" stroke-linecap="round" fill="none"/>
<path d="M574.8 109.5h0M574.9 136.6h0M575.8 112.8h0M570.2 119.6h0M574.9 154.1h0M572.3 163.0h0M569.1 144.9h0M569.4 115.6h0M569.3 141.0h0M572.5 123.8h0M575.8 127.9h0M573.4 132.7h0M569.5 134.1h0M574.1 141.5h0M574.2 118.9h0M569.1 125.2h0M573.4 132.1h0M572.9 129.8h0M572.2 165.1h0M571.4 143.5h0M569.6 138.3h0M570.9 128.1h0M576.1 139.9h0M575.0 121.6h0M573.6 154.7h0M573.8 153.0h0M574.2 148.8h0M572.3 125.1h0M570.9 142.8h0M576.2 127.6h0M575.0 119.9h0M575.2 150.7h0M571.0 128.6h0M572.0 109.1h0M572.5 135.9h0M574.1 132.4h0M571.5 141.1h0M574.3 150.3h0M569.5 132.4h0M574.1 124.7h0M570.4 128.9h0M572.9 155.0h0M575.8 125.6h0M571.8 124.0h0M571.6 154.0h0M569.3 142.4h0M573.4 151.8h0M575.0 145.1h0M573.4 124.1h0M572.7 147.1h0M573.7 161.3h0M573.0 108.0h0M572.3 122.9h0M575.6 104.4h0M569.4 114.0h0M573.7 105.7h0M575.1 124.1h0M573.3 140.7h0M571.9 136.4h0M569.2 131.7h0M575.4 134.9h0M572.6 132.9h0M575.9 166.0h0M571.2 140.2h0M575.3 130.7h0M568.9 98.0h0M575.3 140.0h0M569.2 103.7h0M575.7 130.8h0M575.0 137.6h0M569.4 99.7h0M573.1 149.2h0M571.4 118.0h0M571.6 155.2h0M572.5 126.5h0M574.9 123.6h0M573.9 137.0h0M569.2 158.4h0M571.5 107.5h0M576.0 126.1h0M575.2 126.1h0M572.5 134.2h0M568.8 138.0h0" stroke="#ff0000" stroke-opacity="0.44" stroke-width="2.5" stroke-linecap="round" fill="none"/>
<path d="M576.2 134.4h0M570.7 127.9h0M575.0 139.1h0M574.4 137.6h0M571.5 121.2h0M570.8 151.0h0M575.4 119.9h0M568.9 133.2h0M571.5 125.8h0M571.0 122.1h0M571.7 142.5h0M575.5 130.2h0M573.4 157.5h0M575.6 135.9h0M573.2 114.9h0M569.3 147.3h0M571.5 171.8h0M571.6 135.8h0M575.5 126.8h0M575.6 131.0h0M569.4 129.1h0M575.4 95.9h0M576.2 146.0h0M571.5 123.0h0M571.6 188.2h0M569.8 140.4h0M571.4 132.5h0M571.9 117.3h0M569.6 102.8h0M573.1 151.9h0M569.2 137.4h0M571.8 156.0h0M570.2 101.0h0M571.8 125.5h0M571.5 148.9h0M574.3 112.6h0M575.1 106.1h0M570.4 117.2h0M574.5 128.4h0M569.9 135.7h0M575.9 113.2h0M570.9 145.2h0M571.6 141.8h0M573.6 135.1h0M575.1 100.4h0M574.2 116.1h0M570.6 136.4h0M572.7 124.8h0M571.9 113.0h0M570.4 122.2h0M575.5 122.1h0M575.9 139.0h0M570.5 140.0h0M569.6 132.7h0M573.2 111.4h0M573.3 146.7h0M570.3 130.3h0M570.3 80.5h0M569.2 133.7h0M576.0 123.2h0M575.8 129.8h0M576.2 159.3h0M574.6 118.3h0M573.1 143.6h0M570.9 121.7h0M569.1 148.2h0M576.1 113.5h0M574.4 138.8h0M573.0 124.5h0M573.7 129.4h0M571.0 130.7h0M572.6 133.1h0M572.2 108.1h0M570.0 131.1h0M573.0 118.6h0M575.9 129.3h0M575.4 149.1h0M572.7 139.6h0M571.3 94.6h0M573.7 134.6h0M574.2 149.7h0M569.5 142.1h0M575.3 101.2h0" stroke="#ff0000" stroke-opacity="0.44" stroke-width="2.5" stroke-linecap="round" fill="none"/>
<path d="M572.8 162.7h0M571.8 137.3h0M575.8 126.8h0M570.4 106.7h0M569.5 142.5h0M572.5 111.8h0M573.6 143.9h0M571.8 113.8h0M573.8 115.3h0M569.7 143.7h0M574.5 147.7h0M573.2 85.9h0M576.2 146.9h0M573.4 112.3h0M576.2 143.8h0M573.9 122.8h0M569.5 124.9h0M573.0 115.2h0M571.2 167.2h0M575.4 130.1h0M570.5 156.2h0M575.3 143.2h0M575.3 121.4h0M573.4 151.5h0M571.2 127.0h0M571.7 145.7h0M575.3 144.3h0M573.7 121.3h0M569.2 109.6h0M574.3 157.2h0M574.8 144.6h0M573.5 152.7h0M568.8 138.3h0M574.1 93.7h0M570.2 137.1h0M570.4 134.8h0M570.7 124.6h0M569.7 168.5h0M569.8 141.4h0M572.0 143.1h0M574.9 140.9h0M571.4 109.9h0M571.6 126.9h0M569.6 140.4h0M571.9 153.6h0M569.6 142.7h0M574.5 146.5h0M569.1 149.5h0M575.8 131.2h0M568.9 133.4h0M569.3 160.6h0M573.0 127.8h0M571.4 108.7h0M571.8 127.4h0M573.4 130.5h0M571.4 129.3h0M570.2 117.0h0M570.6 128.7h0M571.4 144.1h0M570.0 127.6h0M570.5 136.2h0M570.6 139.1h0M571.4 137.9h0M572.8 135.2h0M569.1 141.7h0M572.7 129.7h0M569.2 125.9h0M574.4 140.1h0M570.5 134.3h0M571.2 112.0h0M574.1 148.0h0M569.1 110.9h0M573.5 127.2h0M569.1 113.9h0M571.5 117.8h0M575.3 132.1h0M572.8 114.3h0M576.3 110.5h0M568.9 136.8h0M569.4 133.4h0M574.3 119.0h0M574.4 154.5h0M570.3 134.2h0" stroke="#ff0000" stroke-opacity="0.44" stroke-width="2.5" stroke-linecap="round" fill="none"/>
<path d="M570.5 132.3h0M574.3 148.4h0M569.3 127.4h0M570.9 138.6h0M573.3 131.8h0M569.4 103.9h0M569.5 136.1h0M575.9 130.3h0M573.3 134.9h0M570.3 150.3h0M569.8 126.7h0M575.0 140.5h0M569.4 133.8h0M575.7 98.5h0M572.9 133.5h0M569.7 126.0h0M572.9 159.9h0M573.7 115.7h0M572.7 148.6h0M570.9 129.2h0M574.3 140.8h0M572.1 125.0h0M571.4 141.6h0M574.5 131.1h0M575.3 131.9h0M574.6 161.9h0M574.6 138.4h0M572.9 120.6h0M570.0 131.6h0M576.3 135.5h0M570.0 142.0h0M575.6 150.8h0M571.7 116.4h0M569.1 111.5h0M570.2 138.7h0M573.3 120.2h0M572.5 149.9h0M569.5 120.9h0M574.9 138.9h0M569.1 130.5h0M573.6 153.3h0M576.2 110.2h0M570.4 131.6h0M573.9 97.2h0M572.0 126.4h0M569.2 129.5h0M571.8 134.7h0M571.2 134.0h0M571.5 136.3h0M570.6 146.4h0M570.7 133.5h0M573.4 133.2h0M571.8 67.0h0M571.7 145.5h0M571.5 124.4h0M574.4 125.3h0M576.1 139.7h0M575.4 146.2h0M574.5 116.0h0M569.8 137.1h0M570.1 135.4h0M570.3 163.7h0M571.8 127.8h0M571.0 125.7h0M574.7 122.5h0M571.5 135.6h0M569.0 119.3h0M569.4 89.9h0M572.4 126.6h0M571.0 145.9h0M575.2 123.7h0M571.2 101.9h0M576.2 139.6h0M570.4 128.2h0M574.0 144.7h0M569.7 117.6h0M569.0 127.2h0M575.5 103.0h0M569.2 158.9h0M570.8 130.0h0M570.2 122.6h0M572.6 137.7h0M572.1 109.0h0" stroke="#ff0000" stroke-opacity="0.44" stroke-width="2.5" stroke-linecap="round" fill="none"/>
<path d="M586.9 160.3h0M586.5 160.9h0M581.5 165.6h0M587.7 169.8h0M582.3 146.6h0M581.9 150.0h0M584.9 162.0h0" stroke="#0000ff" stroke-opacity="0.44" stroke-width="2.5" stroke-linecap="round" fill="none"/>
<path d="M584.1 182.8h0M582.1 171.1h0M584.4 167.2h0M580.3 154.0h0M583.6 158.4h0M582.4 154.2h0M586.1 166.3h0" stroke="#0000ff" stroke-opacity="0.44" stroke-width="2.5" stroke-linecap="round" fill="none"/>
<path d="M586.8 173.0h0M584.8 157.0h0M580.7 186.2h0M582.1 175.6h0M584.6 180.6h0M585.1 156.5h0M586.1 177.5h0" stroke="#0000ff" stroke-opacity="0.44" stroke-width="2.5" stroke-linecap="round" fill="none"/>
<path d="M580.5 156.0h0M582.9 161.3h0M586.6 147.2h0M580.6 152.5h0M580.6 172.2h0M587.5 141.6h0M585.7 159.8h0" stroke="#0000ff" stroke-opacity="0.44" stroke-width="2.5" stroke-linecap="round" fill="none"/>
<path d="M585.6 164.9h0M585.7 157.7h0M581.4 168.1h0M581.4 163.9h0M581.7 150.8h0M584.6 163.1h0M580.3 173.7h0" stroke="#0000ff" stroke-opacity="0.44" stroke-width="2.5" stroke-linecap="round" fill="none"/>
<path d="M596.0 116.3h0M592.9 97.1h0M597.6 103.3h0M598.9 105.1h0M596.7 130.7h0M595.5 100.5h0M591.6 103.8h0M593.7 133.9h0M592.5 77.6h0M593.0 94.8h0M591.9 87.9h0M596.9 120.9h0M597.5 105.4h0M598.2 112.1h0M596.3 127.2h0M592.7 101.5h0M597.0 104.2h0M597.0 138.2h0M593.5 99.3h0M596.2 102.7h0M596.4 92.0h0M598.4 102.3h0M594.0 102.0h0M596.6 95.9h0M592.3 93.6h0M597.7 106.7h0M593.4 102.9h0M598.1 99.5h0M596.2 103.6h0M595.7 131.9h0" stroke="#ff0000" stroke-opacity="0.44" stroke-width="2.5" stroke-linecap="round" fill="none"/>
<path d="M592.8 108.0h0M592.0 109.1h0M596.8 104.6h0M595.5 118.5h0M595.3 112.8h0M592.3 100.0h0M594.4 105.9h0M593.9 94.1h0M597.5 107.1h0M596.3 110.4h0M593.1 87.0h0M596.8 121.6h0M594.9 114.0h0M592.7 98.3h0M594.8 96.8h0M597.4 111.1h0M596.6 101.6h0M593.4 108.6h0M596.0 108.9h0M593.1 108.3h0M595.9 93.5h0M595.0 98.9h0M598.4 94.6h0M598.9 110.9h0M597.3 103.9h0M593.7 84.2h0M595.1 107.7h0M595.9 95.4h0M595.0 100.0h0M598.5 80.9h0" stroke="#ff0000" stroke-opacity="0.44" stroke-width="2.5" stroke-linecap="round" fill="none"/>
<path d="M593.8 122.9h0M594.0 91.6h0M596.7 125.1h0M593.9 123.5h0M595.5 107.4h0M598.6 90.8h0M593.4 93.0h0M595.2 96.4h0M598.6 88.5h0M595.6 136.5h0M595.0 110.0h0M596.3 77.6h0M597.0 101.3h0M594.4 117.2h0M597.9 104.7h0M596.4 113.4h0M592.1 97.7h0M597.7 96.1h0M592.5 85.4h0M598.4 129.0h0M596.1 100.8h0M594.1 89.2h0M594.0 118.7h0M594.1 90.3h0M591.7 84.4h0M591.6 126.3h0M598.7 98.0h0M594.8 119.5h0M597.9 106.3h0M591.8 113.0h0" stroke="#ff0000" stroke-opacity="0.44" stroke-width="2.5" stroke-linecap="round" fill="none"/>
<path d="M595.0 102.5h0M596.6 111.5h0M595.5 124.1h0M596.3 97.5h0M596.6 133.1h0M592.9 119.8h0M592.0 86.2h0M591.9 111.3h0M595.5 127.6h0M598.5 106.6h0M598.4 113.8h0M592.6 102.8h0M597.8 100.7h0M595.5 112.4h0M594.4 122.2h0M594.8 149.9h0M596.8 109.6h0M594.8 98.7h0M592.0 103.2h0M598.3 117.7h0M594.3 90.1h0M593.1 108.7h0M596.9 89.7h0M595.6 104.3h0M597.2 99.1h0M593.8 83.1h0M596.6 95.5h0M592.1 99.8h0M596.1 97.2h0M597.5 101.1h0" stroke="#ff0000" stroke-opacity="0.44" stroke-width="2.5" stroke-linecap="round" fill="none"/>
<path d="M597.9 105.2h0M597.5 92.2h0M593.5 140.2h0M597.8 128.5h0M599.1 112.0h0M597.0 109.6h0M593.0 115.4h0M591.5 114.2h0M597.6 87.7h0M597.3 120.3h0M594.5 96.9h0M597.4 105.6h0M595.8 117.8h0M597.6 80.8h0M592.0 124.7h0M592.8 114.7h0M593.9 94.3h0M595.2 110.3h0M597.7 101.9h0M592.1 117.0h0M598.3 98.5h0M595.6 91.2h0M596.3 95.0h0M593.0 121.4h0M596.0 92.8h0M598.1 107.1h0M596.8 115.7h0M594.8 114.9h0M595.5 116.2h0M593.6 100.4h0" stroke="#ff0000" stroke-opacity="0.44" stroke-width="2.5" stroke-linecap="round" fill="none"/>
<path d="M603.0 142.2h0M605.7 163.4h0M607.6 140.3h0M604.1 131.3h0M609.9 161.5h0M605.3 148.9h0M606.4 141.2h0M608.3 153.5h0M608.8 131.5h0M607.4 166.3h0M605.9 149.4h0M609.1 145.2h0M603.8 148.5h0M610.1 155.8h0M604.3 139.6h0M605.3 146.8h0M605.6 129.0h0M602.8 148.4h0M609.3 157.2h0M607.2 144.7h0M604.2 145.8h0M606.8 134.1h0M606.2 154.3h0M604.8 133.3h0M604.5 140.6h0M603.2 140.9h0M608.7 141.9h0M610.1 134.1h0M607.8 146.9h0M605.6 137.7h0M606.4 143.0h0M606.1 160.5h0M609.2 127.5h0M608.6 128.3h0M603.1 162.9h0M606.0 140.0h0M604.5 161.0h0M608.1 132.7h0M604.9 147.8h0M604.3 143.2h0M609.8 148.7h0M604.8 166.6h0M610.0 139.7h0M608.1 132.6h0M605.5 146.3h0M604.1 141.3h0M606.8 148.0h0M603.1 163.7h0M609.3 155.6h0M603.0 145.4h0M606.2 140.4h0M603.4 140.9h0M603.3 167.2h0M607.2 146.7h0M609.3 147.2h0M604.9 134.6h0M609.7 137.5h0M608.9 159.3h0M603.6 141.6h0M609.1 134.4h0M607.1 148.4h0M609.3 135.5h0M603.3 145.7h0M603.5 163.4h0M607.5 144.7h0M607.5 152.3h0M607.7 144.0h0M604.2 149.0h0M605.5 161.3h0M607.0 149.2h0M610.2 145.8h0M604.4 139.0h0M604.9 152.3h0M608.5 146.4h0M603.1 145.9h0M606.6 171.2h0M603.0 140.8h0M603.5 133.0h0M605.9 151.5h0M608.3 136.8h0M605.5 149.6h0M603.3 142.8h0M602.9 143.1h0M607.4 153.9h0M603.9 153.6h0M606.6 142.6h0M609.5 136.1h0M605.2 168.1h0M603.9 142.9h0M607.0 149.5h0M606.8 143.1h0M608.6 147.4h0M605.7 174.1h0M606.2 157.6h0M607.9 138.1h0M607.7 151.5h0M609.4 147.6h0M607.5 148.2h0M607.0 134.2h0M603.2 147.8h0M607.3 151.0h0" stroke="#ff0000" stroke-opacity="0.44" stroke-width="2.5" stroke-linecap="round" fill="none"/>
<path d="M609.8 138.1h0M603.4 141.7h0M602.9 143.4h0M608.6 142.0h0M604.5 150.5h0M610.0 135.7h0M602.9 160.2h0M606.2 132.2h0M610.0 146.0h0M603.7 141.8h0M605.4 135.2h0M610.3 149.1h0M610.0 133.4h0M605.3 138.7h0M606.6 149.4h0M605.6 133.2h0M607.7 142.4h0M603.9 142.6h0M608.6 144.5h0M608.0 140.0h0M606.7 138.9h0M609.2 154.7h0M605.9 120.5h0M603.3 123.1h0M606.5 142.5h0M608.5 141.3h0M604.7 132.9h0M607.4 141.0h0M606.6 149.5h0M604.3 148.9h0M602.9 133.6h0M605.4 130.9h0M606.2 141.6h0M606.2 141.9h0M607.4 152.1h0M605.1 139.6h0M610.0 150.5h0M610.3 138.2h0M604.0 141.7h0M604.1 154.5h0M605.9 146.2h0M603.0 139.7h0M608.2 148.6h0M604.5 138.9h0M609.1 125.5h0M609.6 143.4h0M610.4 120.1h0M607.2 128.7h0M604.3 135.9h0M603.4 146.9h0M603.6 144.1h0M604.8 144.6h0M604.6 156.1h0M609.2 134.0h0M604.2 136.6h0M610.1 122.3h0M606.6 142.3h0M603.4 138.8h0M609.9 124.6h0M605.9 155.9h0M603.3 142.1h0M606.5 144.4h0M603.9 139.8h0M605.6 147.8h0M605.8 157.0h0M607.1 148.3h0M605.5 164.2h0M605.1 159.7h0M607.9 143.2h0M608.4 145.5h0M610.0 130.5h0M602.9 158.1h0M603.7 140.1h0M609.7 139.6h0M608.7 159.1h0M606.8 137.8h0M606.8 145.2h0M607.7 146.2h0M610.0 158.9h0M607.0 148.3h0M603.2 139.9h0M605.9 130.0h0M606.8 144.1h0M605.1 145.5h0M604.3 151.7h0M604.7 140.2h0M608.7 150.9h0M608.8 145.3h0M607.2 155.2h0M609.5 129.2h0M610.0 142.4h0M608.1 146.0h0M609.2 140.2h0M609.4 137.5h0M604.6 144.9h0M604.2 140.3h0M605.1 144.3h0M606.2 129.8h0M604.5 139.4h0M609.5 167.6h0" stroke="#ff0000" stroke-opacity="0.44" stroke-width="2.5" stroke-linecap="round" fill="none"/>
<path d="M610.1 147.2h0M605.1 140.8h0M603.6 142.3h0M609.9 140.7h0M608.0 134.5h0M607.9 154.4h0M609.6 139.9h0M604.8 137.3h0M607.1 154.1h0M610.0 148.1h0M607.7 138.7h0M606.1 136.3h0M603.1 146.4h0M606.9 144.2h0M606.2 155.9h0M605.3 129.3h0M608.2 142.1h0M608.6 150.2h0M606.2 145.8h0M604.7 143.6h0M606.9 145.3h0M603.1 137.5h0M603.8 157.6h0M604.9 147.4h0M606.9 172.9h0M607.0 139.9h0M605.8 142.9h0M604.6 170.8h0M603.9 146.7h0M604.6 145.2h0M608.0 146.9h0M608.6 140.7h0M608.4 189.2h0M609.1 127.0h0M602.9 147.6h0M603.6 126.1h0M608.8 142.8h0M606.4 143.7h0M608.1 144.3h0M606.9 153.8h0M604.5 162.8h0M603.4 134.9h0M603.6 153.7h0M608.7 146.4h0M610.0 147.5h0M603.3 147.3h0M608.6 144.0h0M605.7 152.8h0M603.7 117.3h0M605.6 145.1h0M609.1 161.7h0M604.1 168.9h0M609.9 147.1h0M604.9 158.4h0M605.8 157.8h0M603.4 147.0h0M610.3 142.2h0M603.3 141.3h0M604.2 141.1h0M603.1 144.6h0M606.3 145.0h0M604.4 142.9h0M605.4 137.1h0M606.4 165.3h0M603.0 135.6h0M603.4 148.2h0M603.5 142.7h0M605.3 143.5h0M607.4 157.3h0M610.4 143.7h0M603.1 136.5h0M604.8 138.5h0M608.8 150.7h0M608.2 146.6h0M603.1 128.2h0M608.0 149.3h0M604.1 156.9h0M608.8 147.1h0M605.5 150.2h0M603.4 161.1h0M606.0 139.7h0M605.4 140.4h0M605.4 141.6h0M608.9 134.7h0M605.3 133.5h0M606.1 149.9h0M609.3 141.1h0M605.7 145.9h0M604.8 134.8h0M607.9 138.6h0M610.2 149.0h0M608.5 132.8h0M608.6 133.7h0M608.2 145.9h0M607.1 146.1h0M606.6 137.8h0M608.4 141.4h0M605.1 152.8h0M610.1 143.1h0M607.3 140.1h0" stroke="#ff0000" stroke-opacity="0.44" stroke-width="2.5" stroke-linecap="round" fill="none"/>
<path d="M607.0 138.5h0M605.8 132.1h0M603.4 153.3h0M607.7 154.9h0M608.8 143.7h0M609.3 138.0h0M610.1 139.4h0M608.4 168.5h0M606.9 145.6h0M609.3 140.4h0M607.8 147.2h0M608.6 143.0h0M607.1 136.0h0M607.9 132.2h0M608.8 143.8h0M608.5 124.9h0M609.1 143.9h0M606.5 164.3h0M605.5 145.7h0M605.7 140.9h0M607.7 170.4h0M609.1 131.8h0M603.1 146.5h0M604.7 145.6h0M603.3 162.0h0M608.0 145.0h0M607.8 143.8h0M605.1 139.2h0M606.4 143.4h0M607.3 146.8h0M606.8 140.5h0M607.4 146.3h0M608.2 141.7h0M606.9 154.2h0M603.0 144.6h0M604.6 158.7h0M605.0 129.6h0M605.6 145.4h0M606.6 139.1h0M607.6 144.8h0M605.6 152.5h0M604.4 146.1h0M608.7 140.0h0M605.8 145.5h0M609.9 136.2h0M609.9 156.5h0M604.8 153.4h0M603.5 145.3h0M609.0 151.0h0M603.8 141.8h0M605.3 143.6h0M609.0 141.5h0M606.5 144.2h0M605.9 155.0h0M605.7 145.0h0M604.8 126.8h0M603.6 136.7h0M609.0 136.3h0M606.0 135.3h0M607.7 146.6h0M604.3 142.2h0M609.4 146.2h0M610.0 143.6h0M608.1 147.9h0M610.2 150.4h0M603.7 139.2h0M606.5 149.1h0M604.4 141.0h0M609.0 160.8h0M603.8 150.0h0M606.3 143.3h0M605.5 143.8h0M608.8 151.1h0M606.1 143.4h0M609.5 127.8h0M605.8 130.1h0M602.9 156.6h0M607.8 140.6h0M604.9 137.2h0M608.8 141.4h0M603.9 142.0h0M603.8 142.7h0M608.3 126.3h0M604.5 139.5h0M608.3 164.8h0M608.6 152.0h0M609.4 141.9h0M607.5 165.0h0M606.5 157.9h0M609.4 141.4h0M610.4 144.2h0M604.1 144.8h0M604.6 142.1h0M607.5 136.8h0M610.1 158.8h0M607.8 140.6h0M609.9 143.3h0M609.3 140.2h0M608.5 150.7h0M609.0 144.7h0" stroke="#ff0000" stroke-opacity="0.44" stroke-width="2.5" stroke-linecap="round" fill="none"/>
<path d="M604.8 149.6h0M609.8 142.5h0M608.0 141.1h0M607.0 142.7h0M605.9 131.0h0M608.1 142.8h0M607.3 135.4h0M606.6 151.9h0M605.8 162.6h0M608.3 148.2h0M607.7 154.8h0M603.9 159.4h0M605.9 122.9h0M603.5 140.7h0M606.4 143.9h0M603.8 153.0h0M602.9 153.1h0M607.8 137.3h0M608.8 155.3h0M606.2 148.9h0M609.0 142.3h0M606.1 137.7h0M603.8 139.1h0M608.1 148.0h0M607.4 143.8h0M608.6 156.3h0M606.1 149.2h0M609.1 147.7h0M605.9 132.4h0M605.3 148.6h0M605.2 169.6h0M606.4 144.1h0M606.0 142.5h0M606.8 136.9h0M606.3 131.6h0M605.0 123.9h0M606.6 138.2h0M607.0 141.2h0M608.6 131.1h0M609.3 148.8h0M606.7 138.4h0M604.3 137.1h0M604.8 139.3h0M605.7 150.1h0M603.0 130.4h0M603.6 165.9h0M604.0 135.7h0M606.7 135.1h0M608.3 186.1h0M603.8 160.3h0M602.9 148.5h0M608.6 144.5h0M603.7 152.6h0M606.9 148.0h0M609.9 147.1h0M605.2 135.3h0M603.5 133.8h0M606.7 141.8h0M605.2 144.9h0M604.2 136.5h0M604.0 145.0h0M605.0 140.5h0M608.9 135.9h0M608.1 138.4h0M610.4 148.0h0M603.7 175.8h0M606.0 142.4h0M609.6 144.4h0M609.6 148.8h0M605.8 127.9h0M604.3 130.6h0M609.7 156.8h0M608.1 159.9h0M606.3 138.0h0M610.3 147.7h0M604.8 172.3h0M604.0 141.5h0M604.1 152.4h0M609.0 151.3h0M606.4 165.7h0M606.4 158.5h0M606.8 146.5h0M606.7 137.0h0M608.6 200.2h0M606.5 131.9h0M608.5 143.1h0M604.5 146.8h0M606.6 180.3h0M607.0 162.2h0M602.9 151.4h0M604.8 155.4h0M602.9 149.8h0M609.2 143.5h0M604.3 148.7h0M607.0 143.2h0M604.5 147.4h0M607.2 151.7h0M608.7 147.5h0M603.1 135.0h0M605.0 144.0h0" stroke="#ff0000" stroke-opacity="0.44" stroke-width="2.5" stroke-linecap="round" fill="none"/>
<path d="M618.4 139.7h0M618.6 138.6h0M615.4 150.9h0M615.1 150.0h0M616.0 139.4h0M615.2 148.2h0M621.8 156.3h0M620.7 143.5h0M616.3 140.9h0M620.4 148.0h0M614.3 142.5h0M617.7 155.6h0" stroke="#0000ff" stroke-opacity="0.44" stroke-width="2.5" stroke-linecap="round" fill="none"/>
<path d="M616.8 145.8h0M620.4 141.4h0M616.8 141.3h0M621.3 132.1h0M620.4 143.6h0M620.1 148.8h0M621.7 149.2h0M615.3 152.3h0M619.1 138.5h0M620.6 146.1h0M618.3 136.5h0M621.2 142.7h0" stroke="#0000ff" stroke-opacity="0.44" stroke-width="2.5" stroke-linecap="round" fill="none"/>
<path d="M621.2 144.0h0M617.5 142.1h0M621.2 135.4h0M618.7 145.2h0M617.8 149.8h0M619.6 151.6h0M616.0 143.1h0M619.7 144.4h0M615.9 147.0h0M620.1 146.7h0M618.9 151.3h0M615.2 147.2h0" stroke="#0000ff" stroke-opacity="0.44" stroke-width="2.5" stroke-linecap="round" fill="none"/>
<path d="M619.2 145.0h0M614.4 133.2h0M618.7 137.6h0M614.5 141.8h0M619.0 137.8h0M619.5 146.3h0M617.0 147.8h0M617.6 149.5h0M617.4 150.3h0M618.0 154.3h0M615.8 140.5h0M615.7 150.6h0" stroke="#0000ff" stroke-opacity="0.44" stroke-width="2.5" stroke-linecap="round" fill="none"/>
<path d="M621.2 145.5h0M617.7 144.6h0M621.4 147.4h0M616.5 152.1h0M615.0 153.3h0M619.3 144.1h0M615.6 152.7h0M621.3 149.0h0M616.9 140.4h0M620.8 139.8h0M619.5 136.4h0" stroke="#0000ff" stroke-opacity="0.44" stroke-width="2.5" stroke-linecap="round" fill="none"/>
<path d="M629.4 106.0h0M629.0 127.9h0M626.4 121.9h0M626.6 104.0h0M632.7 113.7h0M627.0 106.7h0M631.3 125.1h0M628.2 119.6h0M630.6 126.8h0M628.0 105.2h0M626.2 118.0h0M626.3 121.1h0M625.6 129.9h0M631.6 108.1h0M628.6 109.1h0M628.4 135.5h0M628.5 135.8h0M628.3 140.3h0M625.9 121.6h0M626.5 110.0h0M630.9 113.4h0M627.2 111.0h0M627.5 130.5h0M628.3 113.1h0" stroke="#ff0000" stroke-opacity="0.44" stroke-width="2.5" stroke-linecap="round" fill="none"/>
<path d="M626.7 137.4h0M628.6 112.8h0M628.9 108.7h0M630.1 133.4h0M626.4 113.9h0M630.5 126.5h0M632.3 130.3h0M626.7 129.1h0M626.7 115.7h0M630.2 122.8h0M631.8 124.7h0M632.5 110.8h0M629.3 139.9h0M630.4 116.5h0M627.8 123.3h0M632.2 100.2h0M630.0 103.3h0M632.1 132.2h0M630.1 115.9h0M631.1 114.2h0M630.8 138.5h0M626.8 120.7h0M629.1 133.9h0M628.6 137.3h0" stroke="#ff0000" stroke-opacity="0.44" stroke-width="2.5" stroke-linecap="round" fill="none"/>
<path d="M630.9 107.7h0M630.4 124.1h0M630.8 105.6h0M625.7 106.3h0M632.3 112.1h0M627.2 99.0h0M629.0 131.1h0M627.4 134.2h0M631.9 136.3h0M632.5 114.6h0M629.9 107.2h0M628.1 116.7h0M629.1 117.2h0M626.3 112.5h0M626.7 132.5h0M627.7 108.5h0M626.6 114.3h0M626.8 122.2h0M626.1 144.9h0M631.8 123.1h0M632.2 128.6h0M631.4 139.2h0M631.2 111.8h0M630.9 104.8h0" stroke="#ff0000" stroke-opacity="0.44" stroke-width="2.5" stroke-linecap="round" fill="none"/>
<path d="M632.0 114.8h0M625.7 112.2h0M631.6 109.2h0M633.0 101.5h0M630.7 110.0h0M628.9 148.1h0M628.1 117.5h0M626.2 117.8h0M626.0 125.6h0M627.4 120.3h0M628.4 129.4h0M630.7 108.1h0M627.2 125.9h0M631.5 128.3h0M626.2 131.6h0M626.1 117.1h0M630.6 116.1h0M632.7 125.0h0M632.6 143.5h0M631.3 116.7h0M633.2 127.6h0M631.4 131.7h0M626.8 142.0h0M628.4 97.4h0" stroke="#ff0000" stroke-opacity="0.44" stroke-width="2.5" stroke-linecap="round" fill="none"/>
<path d="M626.7 118.9h0M629.7 123.6h0M626.4 121.5h0M631.4 120.1h0M632.9 111.5h0M627.3 115.3h0M628.0 109.8h0M626.2 102.5h0M631.8 127.3h0M631.3 107.0h0M629.0 104.1h0M629.3 150.4h0M631.5 135.1h0M631.8 101.1h0M625.8 115.1h0M629.1 151.8h0M628.5 110.7h0M626.9 118.3h0M627.8 119.3h0M626.0 118.6h0M627.1 110.4h0M631.5 109.5h0M628.0 133.1h0M629.9 142.8h0" stroke="#ff0000" stroke-opacity="0.44" stroke-width="2.5" stroke-linecap="round" fill="none"/>
<path d="M642.2 138.9h0M640.9 109.9h0M639.1 117.2h0M643.9 79.3h0M639.0 146.6h0M640.1 133.1h0M644.2 122.5h0M643.1 158.5h0M638.7 144.9h0M643.1 114.4h0M638.9 137.6h0M639.6 136.7h0M641.8 104.1h0M637.3 134.0h0M640.5 106.8h0M642.9 186.6h0M644.3 113.8h0M640.7 104.4h0M638.6 142.4h0M643.4 130.1h0M642.6 137.8h0M637.7 127.1h0M640.9 139.7h0M638.5 130.1h0M641.0 149.3h0M642.0 133.0h0M644.1 120.0h0M639.5 123.4h0M643.6 135.8h0M641.3 128.4h0M637.4 126.8h0M642.5 121.0h0M640.5 143.0h0M638.3 148.7h0M642.3 126.2h0M642.3 99.0h0M640.8 149.7h0M642.0 130.6h0M641.6 104.9h0M639.5 139.3h0M643.4 127.7h0M644.3 150.3h0M643.5 107.6h0M643.9 134.3h0M643.8 115.5h0M639.2 140.4h0M639.1 111.2h0M644.2 126.4h0M637.9 125.1h0M637.2 163.8h0M639.2 152.8h0M644.0 121.3h0M642.1 129.7h0M640.5 127.6h0M637.5 98.4h0M643.6 161.1h0M640.4 144.0h0M641.3 124.0h0M643.2 129.6h0M641.4 132.2h0M639.9 138.3h0M644.1 143.6h0M638.6 156.3h0M641.1 153.3h0M637.2 136.8h0M638.9 115.4h0M643.9 118.2h0M641.1 140.6h0M638.0 135.8h0M643.6 101.5h0M640.2 124.1h0M644.0 99.9h0M638.0 127.5h0M641.8 82.1h0M642.6 147.1h0M641.3 139.6h0M642.9 98.8h0M639.7 136.4h0M640.7 99.5h0M638.4 147.4h0M637.1 108.0h0M641.6 147.1h0M641.4 138.8h0M638.4 100.1h0M639.9 137.9h0M643.5 136.6h0M641.4 90.7h0M644.3 145.6h0M637.3 138.3h0M640.8 146.7h0M638.2 146.0h0M641.9 112.2h0M638.9 148.6h0M643.5 123.1h0M644.5 131.4h0M640.5 143.3h0M641.2 109.4h0M641.7 132.6h0M637.6 128.6h0M637.9 123.6h0M643.3 131.6h0M643.8 131.2h0M638.6 150.9h0M637.1 114.3h0M638.1 122.1h0M640.7 138.7h0M641.5 115.6h0M642.9 119.6h0M642.6 92.8h0" stroke="#ff0000" stroke-opacity="0.44" stroke-width="2.5" stroke-linecap="round" fill="none"/>
<path d="M641.8 129.9h0M643.6 128.8h0M638.7 124.4h0M641.5 160.4h0M640.7 141.3h0M641.5 138.2h0M637.4 150.2h0M639.9 122.1h0M639.5 134.8h0M643.9 111.5h0M637.9 125.4h0M642.8 120.8h0M640.9 111.8h0M638.2 97.8h0M640.6 114.0h0M642.7 127.7h0M643.9 100.8h0M641.6 117.8h0M643.5 152.3h0M641.5 117.1h0M639.3 132.1h0M643.1 137.7h0M639.2 122.9h0M637.0 137.0h0M644.4 143.1h0M641.8 124.5h0M640.7 101.3h0M637.0 102.9h0M638.8 102.6h0M637.3 138.1h0M639.6 141.4h0M638.3 110.7h0M639.7 101.0h0M641.8 132.9h0M640.4 128.0h0M638.8 115.9h0M638.2 139.8h0M637.3 95.3h0M637.5 119.2h0M643.1 96.4h0M643.1 135.2h0M639.2 148.3h0M643.6 97.9h0M643.2 137.0h0M641.9 145.3h0M639.0 157.9h0M641.6 142.0h0M641.3 161.5h0M640.6 118.7h0M641.8 143.7h0M640.1 154.0h0M642.0 135.4h0M643.8 152.5h0M642.9 134.2h0M643.3 168.6h0M640.8 120.5h0M642.3 137.4h0M641.7 110.1h0M641.5 138.4h0M637.9 154.8h0M640.6 134.4h0M637.4 149.6h0M639.9 142.5h0M644.2 133.8h0M639.9 131.0h0M639.7 115.1h0M642.3 119.5h0M639.8 138.0h0M641.8 129.5h0M641.9 131.3h0M644.3 135.9h0M637.2 120.4h0M637.2 127.3h0M637.5 138.6h0M642.1 111.9h0M640.8 127.0h0M643.3 140.5h0M638.9 107.4h0M642.6 126.9h0M643.8 130.2h0M637.8 134.5h0M641.4 100.6h0M637.7 129.9h0M638.3 139.3h0M637.2 142.2h0M641.8 117.9h0M638.1 159.0h0M643.7 150.7h0M637.5 79.7h0M637.5 103.4h0M641.6 116.7h0M642.7 113.4h0M637.7 95.7h0M642.6 133.3h0M637.8 181.8h0M642.6 132.8h0M643.7 120.1h0M639.1 167.6h0M637.6 94.3h0M637.7 163.7h0M637.0 120.5h0M639.9 117.5h0M638.3 137.5h0M640.7 123.4h0M641.1 112.7h0M641.3 124.8h0M643.2 118.6h0M644.2 118.0h0M642.9 130.4h0" stroke="#ff0000" stroke-opacity="0.44" stroke-width="2.5" stroke-linecap="round" fill="none"/>
<path d="M638.6 129.8h0M641.6 141.8h0M639.5 130.6h0M639.9 108.3h0M640.1 93.6h0M642.3 135.5h0M638.1 118.6h0M637.0 125.9h0M639.2 120.9h0M640.7 173.1h0M643.4 142.6h0M644.2 140.1h0M641.9 143.9h0M641.1 134.1h0M639.3 108.4h0M640.9 133.5h0M640.3 123.7h0M637.0 122.6h0M644.0 136.1h0M639.2 103.1h0M640.1 119.8h0M638.8 123.9h0M640.3 139.9h0M640.9 118.3h0M640.8 133.1h0M641.2 142.9h0M641.1 126.6h0M644.4 137.2h0M638.3 149.1h0M637.7 86.6h0M641.3 146.1h0M639.4 120.6h0M640.8 121.7h0M639.6 107.0h0M643.2 132.4h0M637.8 128.1h0M643.4 128.6h0M642.4 91.7h0M644.1 165.3h0M638.8 146.9h0M642.0 119.7h0M637.9 106.1h0M643.3 155.0h0M639.5 119.3h0M640.5 126.0h0M638.3 80.3h0M639.9 124.4h0M643.1 123.3h0M643.3 112.3h0M639.4 102.0h0M638.9 160.0h0M642.9 128.4h0M642.6 131.7h0M640.9 136.8h0M641.6 131.0h0M637.8 122.2h0M639.8 141.0h0M638.6 151.9h0M643.2 116.7h0M643.4 114.7h0M642.1 121.7h0M637.3 155.6h0M638.9 94.6h0M643.5 156.3h0M639.9 106.6h0M640.9 105.0h0M639.8 135.0h0M641.7 122.4h0M637.9 133.9h0M637.1 84.6h0M644.4 153.6h0M641.7 141.0h0M643.1 128.5h0M639.0 116.1h0M638.5 129.2h0M638.4 148.3h0M640.4 119.0h0M639.5 122.6h0M637.7 113.3h0M644.1 121.8h0M638.9 117.6h0M642.2 133.5h0M641.9 164.9h0M637.2 136.5h0M642.8 108.6h0M637.4 171.5h0M640.6 144.5h0M640.0 133.3h0M637.7 151.0h0M637.6 123.8h0M644.5 133.7h0M638.9 115.0h0M644.5 115.7h0M644.0 132.5h0M640.1 105.2h0M639.2 139.5h0M642.3 121.2h0M639.9 110.5h0M643.7 128.8h0M640.0 121.2h0M638.9 94.1h0M638.9 122.9h0M637.8 144.2h0M643.6 124.6h0M643.3 144.3h0M639.8 151.2h0M637.3 162.1h0M639.3 177.0h0M643.8 165.9h0" stroke="#ff0000" stroke-opacity="0.44" stroke-width="2.5" stroke-linecap="round" fill="none"/>
<path d="M643.3 111.3h0M637.5 135.0h0M641.3 141.7h0M641.0 120.2h0M643.8 135.6h0M642.8 125.3h0M637.7 140.7h0M638.6 116.4h0M639.6 156.7h0M639.1 96.9h0M637.3 126.3h0M638.3 113.7h0M638.0 106.3h0M643.8 112.9h0M642.4 139.1h0M642.8 105.6h0M642.3 86.4h0M640.9 135.6h0M642.5 125.8h0M641.7 110.2h0M640.1 136.3h0M637.4 103.8h0M637.6 129.3h0M643.8 103.1h0M637.8 134.8h0M640.2 118.3h0M642.2 117.8h0M637.8 131.5h0M641.3 127.2h0M637.1 112.1h0M642.1 131.1h0M637.6 129.6h0M638.6 113.0h0M640.9 134.7h0M643.1 117.3h0M638.4 114.5h0M639.0 138.5h0M638.4 127.8h0M639.7 126.1h0M638.0 152.1h0M641.4 130.7h0M637.7 124.3h0M638.4 132.1h0M643.2 129.1h0M643.1 107.9h0M638.1 135.2h0M642.7 125.6h0M643.0 135.3h0M640.1 157.6h0M642.3 146.3h0M639.1 148.0h0M642.5 131.5h0M640.2 91.3h0M637.0 121.9h0M639.1 105.4h0M642.8 102.2h0M643.8 125.2h0M642.8 155.9h0M641.5 145.0h0M642.2 127.4h0M637.1 151.3h0M642.4 144.6h0M641.6 113.1h0M642.5 130.8h0M641.1 130.3h0M640.6 120.2h0M643.7 125.3h0M639.7 135.7h0M643.6 136.0h0M639.8 116.9h0M640.4 124.7h0M641.4 125.0h0M641.5 121.5h0M637.3 132.8h0M641.8 162.7h0M642.2 162.3h0M638.3 137.6h0M640.0 128.3h0M643.8 118.8h0M637.1 130.5h0M641.5 107.1h0M640.0 122.8h0M639.3 80.0h0M641.9 121.0h0M641.8 128.2h0M637.2 129.4h0M638.5 128.2h0M644.2 129.0h0M643.5 116.3h0M637.5 129.5h0M641.1 157.0h0M637.8 130.8h0M641.8 141.6h0M644.0 175.3h0M637.3 121.5h0M643.9 132.4h0M640.7 110.3h0M637.6 95.8h0M641.0 124.2h0M639.9 108.9h0M637.8 117.7h0M641.9 87.9h0M642.1 132.6h0M642.4 149.4h0M638.1 89.9h0M643.0 148.9h0M641.0 130.4h0M637.4 137.1h0M639.9 166.9h0" stroke="#ff0000" stroke-opacity="0.44" stroke-width="2.5" stroke-linecap="round" fill="none"/>
<path d="M638.7 80.3h0M639.7 97.5h0M643.9 121.4h0M639.6 123.5h0M643.5 153.7h0M642.7 147.7h0M638.2 116.6h0M641.5 104.6h0M641.2 103.6h0M641.1 132.0h0M640.8 137.3h0M642.7 118.4h0M641.6 125.7h0M637.6 84.9h0M638.8 121.9h0M641.1 125.0h0M642.8 133.6h0M638.6 154.1h0M637.0 124.1h0M643.8 126.8h0M640.9 113.6h0M638.2 150.1h0M643.5 139.0h0M644.1 122.7h0M639.8 109.5h0M642.1 147.5h0M642.9 114.2h0M641.5 89.1h0M643.4 131.9h0M637.2 134.5h0M640.5 145.8h0M640.7 119.7h0M639.9 119.1h0M644.4 116.0h0M637.8 83.1h0M642.4 147.9h0M644.1 140.2h0M640.1 92.3h0M637.2 131.8h0M639.2 119.4h0M640.5 109.6h0M641.0 123.0h0M642.0 108.1h0M640.1 127.9h0M639.3 143.3h0M643.2 105.9h0M641.1 112.5h0M637.1 99.3h0M643.4 123.2h0M638.2 120.0h0M643.1 169.3h0M639.3 154.5h0M644.4 106.5h0M643.1 126.0h0M638.9 133.2h0M641.4 146.3h0M638.1 119.0h0M644.4 136.4h0M640.6 133.8h0M643.3 111.7h0M641.4 142.7h0M642.5 117.4h0M637.0 159.3h0M639.1 120.7h0M643.0 142.0h0M641.4 126.6h0M641.5 136.2h0M641.6 143.5h0M640.4 101.9h0M640.3 109.1h0M640.9 122.3h0M643.9 117.0h0M643.7 159.7h0M643.5 126.4h0M636.9 128.7h0M641.5 140.9h0M640.4 88.7h0M642.7 90.3h0M637.9 123.8h0M637.0 125.5h0M637.0 110.8h0M637.9 114.8h0M640.7 129.1h0M643.4 131.8h0M637.4 96.6h0M641.4 128.9h0M638.0 140.0h0M639.7 80.2h0M643.5 115.2h0M639.3 134.3h0M637.2 134.6h0M637.3 126.5h0M643.3 127.1h0M637.2 153.1h0M639.2 125.5h0M640.1 131.2h0M642.8 132.3h0M638.8 151.6h0M637.9 158.1h0M643.4 118.9h0M644.5 141.3h0M642.9 155.4h0M637.8 109.3h0M637.9 127.3h0M637.5 111.0h0M643.7 145.5h0M639.0 144.8h0M642.5 145.2h0M642.7 124.8h0" stroke="#ff0000" stroke-opacity="0.44" stroke-width="2.5" stroke-linecap="round" fill="none"/>
<path d="M654.2 142.6h0M654.6 131.8h0M650.4 139.2h0M650.3 141.3h0M650.0 144.4h0M649.6 144.8h0M650.0 135.6h0" stroke="#0000ff" stroke-opacity="0.44" stroke-width="2.5" stroke-linecap="round" fill="none"/>
<path d="M648.4 140.5h0M652.3 133.8h0M650.5 134.3h0M650.0 139.1h0M649.4 135.4h0M650.7 136.7h0M651.6 140.6h0" stroke="#0000ff" stroke-opacity="0.44" stroke-width="2.5" stroke-linecap="round" fill="none"/>
<path d="M651.4 136.0h0M652.8 150.3h0M651.3 137.2h0M654.0 135.1h0M653.4 137.8h0M652.5 143.4h0M654.3 128.9h0" stroke="#0000ff" stroke-opacity="0.44" stroke-width="2.5" stroke-linecap="round" fill="none"/>
<path d="M653.9 133.3h0M651.0 131.4h0M649.6 138.4h0M651.8 138.5h0M650.4 132.7h0M652.8 136.5h0M653.8 132.9h0" stroke="#0000ff" stroke-opacity="0.44" stroke-width="2.5" stroke-linecap="round" fill="none"/>
<path d="M651.9 129.7h0M655.8 139.8h0M651.5 137.3h0M652.5 147.2h0M654.8 130.6h0M650.6 134.7h0M648.7 128.2h0" stroke="#0000ff" stroke-opacity="0.44" stroke-width="2.5" stroke-linecap="round" fill="none"/>
<path d="M667.0 149.0h0M664.0 128.3h0M660.4 115.1h0M661.8 105.7h0M663.9 126.9h0M665.0 109.4h0M663.8 107.6h0M666.7 116.3h0M665.5 135.1h0M663.8 105.3h0M664.8 121.7h0M665.6 133.0h0" stroke="#ff0000" stroke-opacity="0.44" stroke-width="2.5" stroke-linecap="round" fill="none"/>
<path d="M664.8 114.4h0M662.1 88.2h0M664.7 119.0h0M661.2 97.8h0M661.9 108.0h0M664.5 118.7h0M666.6 117.4h0M661.6 106.4h0M662.5 123.5h0M663.4 103.4h0M667.0 97.0h0M661.7 113.4h0" stroke="#ff0000" stroke-opacity="0.44" stroke-width="2.5" stroke-linecap="round" fill="none"/>
<path d="M660.7 120.2h0M663.6 117.1h0M664.7 112.8h0M666.8 115.4h0M666.1 136.9h0M664.9 144.1h0M663.8 126.3h0M663.3 130.0h0M666.7 101.5h0M665.6 110.4h0M662.4 122.1h0" stroke="#ff0000" stroke-opacity="0.44" stroke-width="2.5" stroke-linecap="round" fill="none"/>
<path d="M666.8 113.9h0M662.4 102.5h0M661.7 139.0h0M660.5 100.5h0M660.3 124.5h0M666.1 112.3h0M664.7 111.3h0M666.8 121.0h0M660.8 125.4h0M662.7 122.6h0M662.0 132.5h0" stroke="#ff0000" stroke-opacity="0.44" stroke-width="2.5" stroke-linecap="round" fill="none"/>
<path d="M665.7 109.0h0M659.8 141.5h0M665.4 122.9h0M666.5 119.9h0M659.7 118.2h0M660.1 116.4h0M662.3 111.7h0M660.7 94.8h0M665.6 125.1h0M663.0 128.9h0M664.2 130.9h0" stroke="#ff0000" stroke-opacity="0.44" stroke-width="2.5" stroke-linecap="round" fill="none"/>
<path d="M676.2 173.0h0M675.3 130.0h0M672.7 190.6h0M672.7 137.3h0M676.7 169.7h0M677.8 164.5h0M677.0 141.9h0M673.2 162.7h0M674.9 144.5h0M677.2 144.2h0M676.6 145.4h0M675.4 187.8h0M675.5 135.6h0M676.4 124.6h0M676.5 139.4h0M677.4 151.6h0" stroke="#ff0000" stroke-opacity="0.44" stroke-width="2.5" stroke-linecap="round" fill="none"/>
<path d="M677.1 154.9h0M675.6 177.1h0M675.3 160.1h0M675.4 155.1h0M674.4 183.9h0M677.2 159.2h0M677.8 139.9h0M675.5 147.2h0M671.9 161.2h0M673.4 153.9h0M678.2 130.9h0M673.5 196.6h0M676.2 148.8h0M672.1 138.2h0M671.9 159.7h0M676.9 140.8h0" stroke="#ff0000" stroke-opacity="0.44" stroke-width="2.5" stroke-linecap="round" fill="none"/>
<path d="M677.1 146.3h0M673.5 153.7h0M676.1 156.3h0M676.9 148.2h0M675.6 143.2h0M674.7 136.6h0M672.7 151.0h0M675.0 166.7h0M674.1 152.4h0M674.5 141.7h0M674.2 180.4h0M676.7 158.5h0M676.3 151.9h0M676.3 163.2h0M672.3 145.7h0M674.9 149.6h0" stroke="#ff0000" stroke-opacity="0.44" stroke-width="2.5" stroke-linecap="round" fill="none"/>
<path d="M675.3 141.4h0M671.3 162.2h0M675.5 165.0h0M673.4 134.7h0M671.2 149.6h0M677.5 170.7h0M673.7 167.6h0M671.7 135.5h0M676.4 139.0h0M674.9 160.8h0M677.2 133.8h0M675.6 171.8h0M675.8 166.2h0M675.3 125.9h0M674.0 174.8h0M675.6 137.6h0" stroke="#ff0000" stroke-opacity="0.44" stroke-width="2.5" stroke-linecap="round" fill="none"/>
<path d="M675.3 156.9h0M672.1 147.9h0M678.4 150.3h0M672.1 143.3h0M672.5 157.2h0M674.4 178.1h0M677.1 174.4h0M672.3 163.8h0M675.9 155.6h0M678.4 183.0h0M676.4 158.1h0M677.2 168.9h0M671.4 140.3h0M674.0 132.1h0M673.8 157.8h0M675.3 153.0h0" stroke="#ff0000" stroke-opacity="0.44" stroke-width="2.5" stroke-linecap="round" fill="none"/>
<path d="M50.2 117.3V146.9M50.2 167.0V191.3" stroke="#ff0000" stroke-width="0.9"/>
<rect x="45.9" y="146.9" width="8.7" height="20.1" fill="#fff" fill-opacity="0.5" stroke="#ff0000" stroke-width="0.9"/>
<path d="M45.9 160.0H54.6" stroke="#ff0000" stroke-width="1.6"/>
<path d="M61.6 76.9V105.6M61.6 125.4V154.6" stroke="#ff0000" stroke-width="0.9"/>
<rect x="57.2" y="105.6" width="8.7" height="19.8" fill="#fff" fill-opacity="0.5" stroke="#ff0000" stroke-width="0.9"/>
<path d="M57.2 115.2H65.9" stroke="#ff0000" stroke-width="1.6"/>
<path d="M72.9 121.2V137.1M72.9 151.4V158.1" stroke="#0000ff" stroke-width="0.9"/>
<rect x="68.6" y="137.1" width="8.7" height="14.3" fill="#fff" fill-opacity="0.5" stroke="#0000ff" stroke-width="0.9"/>
<path d="M68.6 144.1H77.3" stroke="#0000ff" stroke-width="1.6"/>
<path d="M84.3 71.7V112.8M84.3 133.9V165.2" stroke="#ff0000" stroke-width="0.9"/>
<rect x="79.9" y="112.8" width="8.7" height="21.1" fill="#fff" fill-opacity="0.5" stroke="#ff0000" stroke-width="0.9"/>
<path d="M79.9 124.3H88.6" stroke="#ff0000" stroke-width="1.6"/>
<path d="M95.6 119.6V131.3M95.6 143.0V154.6" stroke="#0000ff" stroke-width="0.9"/>
<rect x="91.3" y="131.3" width="8.7" height="11.7" fill="#fff" fill-opacity="0.5" stroke="#0000ff" stroke-width="0.9"/>
<path d="M91.3 138.1H100.0" stroke="#0000ff" stroke-width="1.6"/>
<path d="M107.0 82.2V106.8M107.0 125.9V151.1" stroke="#ff0000" stroke-width="0.9"/>
<rect x="102.6" y="106.8" width="8.7" height="19.1" fill="#fff" fill-opacity="0.5" stroke="#ff0000" stroke-width="0.9"/>
<path d="M102.6 114.2H111.3" stroke="#ff0000" stroke-width="1.6"/>
<path d="M118.3 61.7V109.8M118.3 142.3V162.8" stroke="#ff0000" stroke-width="0.9"/>
<rect x="114.0" y="109.8" width="8.7" height="32.5" fill="#fff" fill-opacity="0.5" stroke="#ff0000" stroke-width="0.9"/>
<path d="M114.0 126.1H122.7" stroke="#ff0000" stroke-width="1.6"/>
<path d="M129.7 86.2V115.6M129.7 135.3V165.2" stroke="#ff0000" stroke-width="0.9"/>
<rect x="125.3" y="115.6" width="8.7" height="19.7" fill="#fff" fill-opacity="0.5" stroke="#ff0000" stroke-width="0.9"/>
<path d="M125.3 126.1H134.0" stroke="#ff0000" stroke-width="1.6"/>
<path d="M141.0 67.0V98.6M141.0 116.1V137.1" stroke="#ff0000" stroke-width="0.9"/>
<rect x="136.7" y="98.6" width="8.7" height="17.5" fill="#fff" fill-opacity="0.5" stroke="#ff0000" stroke-width="0.9"/>
<path d="M136.7 106.5H145.4" stroke="#ff0000" stroke-width="1.6"/>
<path d="M152.4 97.9V115.4M152.4 127.3V140.6" stroke="#ff0000" stroke-width="0.9"/>
<rect x="148.1" y="115.4" width="8.7" height="11.9" fill="#fff" fill-opacity="0.5" stroke="#ff0000" stroke-width="0.9"/>
<path d="M148.1 119.6H156.8" stroke="#ff0000" stroke-width="1.6"/>
<path d="M163.8 165.2V169.1M163.8 175.2V179.2" stroke="#0000ff" stroke-width="0.9"/>
<rect x="159.4" y="169.1" width="8.7" height="6.1" fill="#fff" fill-opacity="0.5" stroke="#0000ff" stroke-width="0.9"/>
<path d="M159.4 171.7H168.1" stroke="#0000ff" stroke-width="1.6"/>
<path d="M175.1 91.6V114.2M175.1 130.1V148.8" stroke="#ff0000" stroke-width="0.9"/>
<rect x="170.8" y="114.2" width="8.7" height="15.9" fill="#fff" fill-opacity="0.5" stroke="#ff0000" stroke-width="0.9"/>
<path d="M170.8 121.9H179.5" stroke="#ff0000" stroke-width="1.6"/>
<path d="M186.5 131.3V140.2M186.5 150.4V160.5" stroke="#0000ff" stroke-width="0.9"/>
<rect x="182.1" y="140.2" width="8.7" height="10.2" fill="#fff" fill-opacity="0.5" stroke="#0000ff" stroke-width="0.9"/>
<path d="M182.1 145.3H190.8" stroke="#0000ff" stroke-width="1.6"/>
<path d="M197.8 100.0V114.2M197.8 125.9V145.0" stroke="#ff0000" stroke-width="0.9"/>
<rect x="193.5" y="114.2" width="8.7" height="11.7" fill="#fff" fill-opacity="0.5" stroke="#ff0000" stroke-width="0.9"/>
<path d="M193.5 118.4H202.2" stroke="#ff0000" stroke-width="1.6"/>
<path d="M209.2 86.2V113.8M209.2 132.5V158.1" stroke="#ff0000" stroke-width="0.9"/>
<rect x="204.8" y="113.8" width="8.7" height="18.7" fill="#fff" fill-opacity="0.5" stroke="#ff0000" stroke-width="0.9"/>
<path d="M204.8 122.6H213.5" stroke="#ff0000" stroke-width="1.6"/>
<path d="M220.5 139.5V150.4M220.5 180.3V202.5" stroke="#0000ff" stroke-width="0.9"/>
<rect x="216.2" y="150.4" width="8.7" height="29.9" fill="#fff" fill-opacity="0.5" stroke="#0000ff" stroke-width="0.9"/>
<path d="M216.2 161.2H224.9" stroke="#0000ff" stroke-width="1.6"/>
<path d="M231.9 105.6V118.0M231.9 132.5V153.5" stroke="#ff0000" stroke-width="0.9"/>
<rect x="227.5" y="118.0" width="8.7" height="14.5" fill="#fff" fill-opacity="0.5" stroke="#ff0000" stroke-width="0.9"/>
<path d="M227.5 125.4H236.2" stroke="#ff0000" stroke-width="1.6"/>
<path d="M243.3 87.6V115.6M243.3 134.3V162.8" stroke="#ff0000" stroke-width="0.9"/>
<rect x="238.9" y="115.6" width="8.7" height="18.7" fill="#fff" fill-opacity="0.5" stroke="#ff0000" stroke-width="0.9"/>
<path d="M238.9 125.0H247.6" stroke="#ff0000" stroke-width="1.6"/>
<path d="M254.6 140.6V147.2M254.6 160.5V169.8" stroke="#0000ff" stroke-width="0.9"/>
<rect x="250.3" y="147.2" width="8.7" height="13.3" fill="#fff" fill-opacity="0.5" stroke="#0000ff" stroke-width="0.9"/>
<path d="M250.3 152.3H259.0" stroke="#0000ff" stroke-width="1.6"/>
<path d="M266.0 90.4V109.1M266.0 127.3V146.5" stroke="#ff0000" stroke-width="0.9"/>
<rect x="261.6" y="109.1" width="8.7" height="18.2" fill="#fff" fill-opacity="0.5" stroke="#ff0000" stroke-width="0.9"/>
<path d="M261.6 118.4H270.3" stroke="#ff0000" stroke-width="1.6"/>
<path d="M277.3 91.6V117.3M277.3 134.8V160.5" stroke="#ff0000" stroke-width="0.9"/>
<rect x="273.0" y="117.3" width="8.7" height="17.5" fill="#fff" fill-opacity="0.5" stroke="#ff0000" stroke-width="0.9"/>
<path d="M273.0 126.1H281.7" stroke="#ff0000" stroke-width="1.6"/>
<path d="M288.7 152.3V175.7M288.7 190.4V209.5" stroke="#ff0000" stroke-width="0.9"/>
<rect x="284.3" y="175.7" width="8.7" height="14.7" fill="#fff" fill-opacity="0.5" stroke="#ff0000" stroke-width="0.9"/>
<path d="M284.3 184.5H293.0" stroke="#ff0000" stroke-width="1.6"/>
<path d="M300.0 132.0V143.7M300.0 156.3V173.3" stroke="#0000ff" stroke-width="0.9"/>
<rect x="295.7" y="143.7" width="8.7" height="12.6" fill="#fff" fill-opacity="0.5" stroke="#0000ff" stroke-width="0.9"/>
<path d="M295.7 151.4H304.4" stroke="#0000ff" stroke-width="1.6"/>
<path d="M311.4 114.9V139.5M311.4 155.1V183.8" stroke="#ff0000" stroke-width="0.9"/>
<rect x="307.0" y="139.5" width="8.7" height="15.6" fill="#fff" fill-opacity="0.5" stroke="#ff0000" stroke-width="0.9"/>
<path d="M307.0 146.9H315.7" stroke="#ff0000" stroke-width="1.6"/>
<path d="M322.7 139.0V157.0M322.7 169.1V183.8" stroke="#0000ff" stroke-width="0.9"/>
<rect x="318.4" y="157.0" width="8.7" height="12.1" fill="#fff" fill-opacity="0.5" stroke="#0000ff" stroke-width="0.9"/>
<path d="M318.4 163.3H327.1" stroke="#0000ff" stroke-width="1.6"/>
<path d="M334.1 101.6V127.8M334.1 148.3V174.5" stroke="#ff0000" stroke-width="0.9"/>
<rect x="329.7" y="127.8" width="8.7" height="20.5" fill="#fff" fill-opacity="0.5" stroke="#ff0000" stroke-width="0.9"/>
<path d="M329.7 137.6H338.4" stroke="#ff0000" stroke-width="1.6"/>
<path d="M345.5 134.8V150.7M345.5 170.3V176.8" stroke="#0000ff" stroke-width="0.9"/>
<rect x="341.1" y="150.7" width="8.7" height="19.6" fill="#fff" fill-opacity="0.5" stroke="#0000ff" stroke-width="0.9"/>
<path d="M341.1 162.3H349.8" stroke="#0000ff" stroke-width="1.6"/>
<path d="M356.8 83.4V109.1M356.8 121.9V141.8" stroke="#ff0000" stroke-width="0.9"/>
<rect x="352.5" y="109.1" width="8.7" height="12.8" fill="#fff" fill-opacity="0.5" stroke="#ff0000" stroke-width="0.9"/>
<path d="M352.5 113.8H361.2" stroke="#ff0000" stroke-width="1.6"/>
<path d="M368.2 109.1V131.3M368.2 146.5V165.2" stroke="#ff0000" stroke-width="0.9"/>
<rect x="363.8" y="131.3" width="8.7" height="15.2" fill="#fff" fill-opacity="0.5" stroke="#ff0000" stroke-width="0.9"/>
<path d="M363.8 139.0H372.5" stroke="#ff0000" stroke-width="1.6"/>
<path d="M379.5 95.0V134.3M379.5 161.7V197.9" stroke="#ff0000" stroke-width="0.9"/>
<rect x="375.2" y="134.3" width="8.7" height="27.4" fill="#fff" fill-opacity="0.5" stroke="#ff0000" stroke-width="0.9"/>
<path d="M375.2 148.3H383.9" stroke="#ff0000" stroke-width="1.6"/>
<path d="M390.9 160.5V171.7M390.9 180.3V188.5" stroke="#0000ff" stroke-width="0.9"/>
<rect x="386.5" y="171.7" width="8.7" height="8.6" fill="#fff" fill-opacity="0.5" stroke="#0000ff" stroke-width="0.9"/>
<path d="M386.5 177.3H395.2" stroke="#0000ff" stroke-width="1.6"/>
<path d="M402.2 88.1V116.1M402.2 136.7V165.2" stroke="#ff0000" stroke-width="0.9"/>
<rect x="397.9" y="116.1" width="8.7" height="20.6" fill="#fff" fill-opacity="0.5" stroke="#ff0000" stroke-width="0.9"/>
<path d="M397.9 127.1H406.6" stroke="#ff0000" stroke-width="1.6"/>
<path d="M413.6 134.8V144.6M413.6 156.3V165.2" stroke="#0000ff" stroke-width="0.9"/>
<rect x="409.2" y="144.6" width="8.7" height="11.7" fill="#fff" fill-opacity="0.5" stroke="#0000ff" stroke-width="0.9"/>
<path d="M409.2 150.0H417.9" stroke="#0000ff" stroke-width="1.6"/>
<path d="M424.9 79.9V108.6M424.9 129.6V160.5" stroke="#ff0000" stroke-width="0.9"/>
<rect x="420.6" y="108.6" width="8.7" height="21.0" fill="#fff" fill-opacity="0.5" stroke="#ff0000" stroke-width="0.9"/>
<path d="M420.6 119.6H429.3" stroke="#ff0000" stroke-width="1.6"/>
<path d="M436.3 127.8V144.1M436.3 154.2V162.8" stroke="#0000ff" stroke-width="0.9"/>
<rect x="432.0" y="144.1" width="8.7" height="10.1" fill="#fff" fill-opacity="0.5" stroke="#0000ff" stroke-width="0.9"/>
<path d="M432.0 148.1H440.7" stroke="#0000ff" stroke-width="1.6"/>
<path d="M447.7 104.4V118.4M447.7 132.9V147.6" stroke="#ff0000" stroke-width="0.9"/>
<rect x="443.3" y="118.4" width="8.7" height="14.5" fill="#fff" fill-opacity="0.5" stroke="#ff0000" stroke-width="0.9"/>
<path d="M443.3 125.4H452.0" stroke="#ff0000" stroke-width="1.6"/>
<path d="M459.0 93.9V119.1M459.0 140.6V167.5" stroke="#ff0000" stroke-width="0.9"/>
<rect x="454.7" y="119.1" width="8.7" height="21.5" fill="#fff" fill-opacity="0.5" stroke="#ff0000" stroke-width="0.9"/>
<path d="M454.7 129.0H463.4" stroke="#ff0000" stroke-width="1.6"/>
<path d="M470.4 109.1V127.8M470.4 141.8V162.8" stroke="#ff0000" stroke-width="0.9"/>
<rect x="466.0" y="127.8" width="8.7" height="14.0" fill="#fff" fill-opacity="0.5" stroke="#ff0000" stroke-width="0.9"/>
<path d="M466.0 133.9H474.7" stroke="#ff0000" stroke-width="1.6"/>
<path d="M481.7 134.8V151.1M481.7 165.6V186.2" stroke="#ff0000" stroke-width="0.9"/>
<rect x="477.4" y="151.1" width="8.7" height="14.5" fill="#fff" fill-opacity="0.5" stroke="#ff0000" stroke-width="0.9"/>
<path d="M477.4 157.4H486.1" stroke="#ff0000" stroke-width="1.6"/>
<path d="M493.1 116.1V136.4M493.1 148.8V167.5" stroke="#ff0000" stroke-width="0.9"/>
<rect x="488.7" y="136.4" width="8.7" height="12.4" fill="#fff" fill-opacity="0.5" stroke="#ff0000" stroke-width="0.9"/>
<path d="M488.7 143.0H497.4" stroke="#ff0000" stroke-width="1.6"/>
<path d="M504.4 129.0V138.3M504.4 157.4V178.0" stroke="#0000ff" stroke-width="0.9"/>
<rect x="500.1" y="138.3" width="8.7" height="19.1" fill="#fff" fill-opacity="0.5" stroke="#0000ff" stroke-width="0.9"/>
<path d="M500.1 146.0H508.8" stroke="#0000ff" stroke-width="1.6"/>
<path d="M515.8 97.4V115.4M515.8 130.1V152.3" stroke="#ff0000" stroke-width="0.9"/>
<rect x="511.4" y="115.4" width="8.7" height="14.7" fill="#fff" fill-opacity="0.5" stroke="#ff0000" stroke-width="0.9"/>
<path d="M511.4 121.2H520.1" stroke="#ff0000" stroke-width="1.6"/>
<path d="M527.2 134.8V141.8M527.2 148.3V155.8" stroke="#0000ff" stroke-width="0.9"/>
<rect x="522.8" y="141.8" width="8.7" height="6.5" fill="#fff" fill-opacity="0.5" stroke="#0000ff" stroke-width="0.9"/>
<path d="M522.8 145.3H531.5" stroke="#0000ff" stroke-width="1.6"/>
<path d="M538.5 83.4V109.6M538.5 130.6V155.8" stroke="#ff0000" stroke-width="0.9"/>
<rect x="534.2" y="109.6" width="8.7" height="21.0" fill="#fff" fill-opacity="0.5" stroke="#ff0000" stroke-width="0.9"/>
<path d="M534.2 120.3H542.9" stroke="#ff0000" stroke-width="1.6"/>
<path d="M549.9 100.9V121.2M549.9 137.6V157.0" stroke="#ff0000" stroke-width="0.9"/>
<rect x="545.5" y="121.2" width="8.7" height="16.4" fill="#fff" fill-opacity="0.5" stroke="#ff0000" stroke-width="0.9"/>
<path d="M545.5 130.1H554.2" stroke="#ff0000" stroke-width="1.6"/>
<path d="M561.2 90.4V117.3M561.2 134.8V165.2" stroke="#a020f0" stroke-width="0.9"/>
<rect x="556.9" y="117.3" width="8.7" height="17.5" fill="#fff" fill-opacity="0.5" stroke="#a020f0" stroke-width="0.9"/>
<path d="M556.9 126.6H565.6" stroke="#a020f0" stroke-width="1.6"/>
<path d="M572.6 92.7V122.6M572.6 141.8V167.5" stroke="#ff0000" stroke-width="0.9"/>
<rect x="568.2" y="122.6" width="8.7" height="19.2" fill="#fff" fill-opacity="0.5" stroke="#ff0000" stroke-width="0.9"/>
<path d="M568.2 132.5H576.9" stroke="#ff0000" stroke-width="1.6"/>
<path d="M583.9 139.5V155.8M583.9 170.3V190.8" stroke="#0000ff" stroke-width="0.9"/>
<rect x="579.6" y="155.8" width="8.7" height="14.5" fill="#fff" fill-opacity="0.5" stroke="#0000ff" stroke-width="0.9"/>
<path d="M579.6 162.3H588.3" stroke="#0000ff" stroke-width="1.6"/>
<path d="M595.3 77.6V96.9M595.3 114.2V141.8" stroke="#ff0000" stroke-width="0.9"/>
<rect x="590.9" y="96.9" width="8.7" height="17.3" fill="#fff" fill-opacity="0.5" stroke="#ff0000" stroke-width="0.9"/>
<path d="M590.9 104.4H599.6" stroke="#ff0000" stroke-width="1.6"/>
<path d="M606.6 123.1V139.5M606.6 149.5V174.5" stroke="#ff0000" stroke-width="0.9"/>
<rect x="602.3" y="139.5" width="8.7" height="10.0" fill="#fff" fill-opacity="0.5" stroke="#ff0000" stroke-width="0.9"/>
<path d="M602.3 144.1H611.0" stroke="#ff0000" stroke-width="1.6"/>
<path d="M618.0 132.0V140.9M618.0 149.5V157.0" stroke="#0000ff" stroke-width="0.9"/>
<rect x="613.6" y="140.9" width="8.7" height="8.6" fill="#fff" fill-opacity="0.5" stroke="#0000ff" stroke-width="0.9"/>
<path d="M613.6 145.3H622.4" stroke="#0000ff" stroke-width="1.6"/>
<path d="M629.4 97.4V110.7M629.4 129.4V151.1" stroke="#ff0000" stroke-width="0.9"/>
<rect x="625.0" y="110.7" width="8.7" height="18.7" fill="#fff" fill-opacity="0.5" stroke="#ff0000" stroke-width="0.9"/>
<path d="M625.0 118.4H633.7" stroke="#ff0000" stroke-width="1.6"/>
<path d="M640.7 80.4V116.9M640.7 139.0V171.1" stroke="#ff0000" stroke-width="0.9"/>
<rect x="636.4" y="116.9" width="8.7" height="22.1" fill="#fff" fill-opacity="0.5" stroke="#ff0000" stroke-width="0.9"/>
<path d="M636.4 128.2H645.1" stroke="#ff0000" stroke-width="1.6"/>
<path d="M652.1 126.4V133.5M652.1 140.1V151.2" stroke="#0000ff" stroke-width="0.9"/>
<rect x="647.7" y="133.5" width="8.7" height="6.6" fill="#fff" fill-opacity="0.5" stroke="#0000ff" stroke-width="0.9"/>
<path d="M647.7 136.8H656.4" stroke="#0000ff" stroke-width="1.6"/>
<path d="M663.4 88.1V109.6M663.4 125.8V149.0" stroke="#ff0000" stroke-width="0.9"/>
<rect x="659.1" y="109.6" width="8.7" height="16.2" fill="#fff" fill-opacity="0.5" stroke="#ff0000" stroke-width="0.9"/>
<path d="M659.1 117.6H667.8" stroke="#ff0000" stroke-width="1.6"/>
<path d="M674.8 124.6V141.9M674.8 164.1V196.6" stroke="#ff0000" stroke-width="0.9"/>
<rect x="670.4" y="141.9" width="8.7" height="22.2" fill="#fff" fill-opacity="0.5" stroke="#ff0000" stroke-width="0.9"/>
<path d="M670.4 153.4H679.1" stroke="#ff0000" stroke-width="1.6"/>
<text x="67.2" y="44.4" text-anchor="middle" font-size="11" font-weight="bold" font-family="Liberation Sans, Arial, sans-serif" fill="#000">***</text>
<text x="89.9" y="44.4" text-anchor="middle" font-size="11" font-weight="bold" font-family="Liberation Sans, Arial, sans-serif" fill="#000">***</text>
<text x="158.1" y="44.4" text-anchor="middle" font-size="11" font-weight="bold" font-family="Liberation Sans, Arial, sans-serif" fill="#000">***</text>
<text x="180.8" y="44.4" text-anchor="middle" font-size="11" font-weight="bold" font-family="Liberation Sans, Arial, sans-serif" fill="#000">***</text>
<text x="214.9" y="44.4" text-anchor="middle" font-size="11" font-weight="bold" font-family="Liberation Sans, Arial, sans-serif" fill="#000">***</text>
<text x="248.9" y="44.4" text-anchor="middle" font-size="11" font-weight="bold" font-family="Liberation Sans, Arial, sans-serif" fill="#000">***</text>
<text x="271.6" y="44.4" text-anchor="middle" font-size="11" font-weight="bold" font-family="Liberation Sans, Arial, sans-serif" fill="#000">***</text>
<text x="294.4" y="44.4" text-anchor="middle" font-size="11" font-weight="bold" font-family="Liberation Sans, Arial, sans-serif" fill="#000">***</text>
<text x="317.1" y="44.4" text-anchor="middle" font-size="11" font-weight="bold" font-family="Liberation Sans, Arial, sans-serif" fill="#000">***</text>
<text x="339.8" y="44.4" text-anchor="middle" font-size="11" font-weight="bold" font-family="Liberation Sans, Arial, sans-serif" fill="#000">***</text>
<text x="385.2" y="44.4" text-anchor="middle" font-size="11" font-weight="bold" font-family="Liberation Sans, Arial, sans-serif" fill="#000">***</text>
<text x="407.9" y="44.4" text-anchor="middle" font-size="11" font-weight="bold" font-family="Liberation Sans, Arial, sans-serif" fill="#000">***</text>
<text x="430.6" y="44.4" text-anchor="middle" font-size="11" font-weight="bold" font-family="Liberation Sans, Arial, sans-serif" fill="#000">***</text>
<text x="498.8" y="44.4" text-anchor="middle" font-size="11" font-weight="bold" font-family="Liberation Sans, Arial, sans-serif" fill="#000">**</text>
<text x="521.5" y="44.4" text-anchor="middle" font-size="11" font-weight="bold" font-family="Liberation Sans, Arial, sans-serif" fill="#000">***</text>
<text x="555.5" y="44.4" text-anchor="middle" font-size="11" font-weight="bold" font-family="Liberation Sans, Arial, sans-serif" fill="#000">*</text>
<text x="578.3" y="44.4" text-anchor="middle" font-size="11" font-weight="bold" font-family="Liberation Sans, Arial, sans-serif" fill="#000">***</text>
<text x="646.4" y="44.4" text-anchor="middle" font-size="11" font-weight="bold" font-family="Liberation Sans, Arial, sans-serif" fill="#000">***</text>
<rect x="43.5" y="28.5" width="638.0" height="203.0" fill="none" stroke="#777" stroke-width="1.1"/>
<path d="M40.5 210.6H43.5M40.5 152.5H43.5M40.5 94.4H43.5M40.5 36.3H43.5M50.2 231.5v2.6M61.6 231.5v2.6M72.9 231.5v2.6M84.3 231.5v2.6M95.6 231.5v2.6M107.0 231.5v2.6M118.3 231.5v2.6M129.7 231.5v2.6M141.0 231.5v2.6M152.4 231.5v2.6M163.8 231.5v2.6M175.1 231.5v2.6M186.5 231.5v2.6M197.8 231.5v2.6M209.2 231.5v2.6M220.5 231.5v2.6M231.9 231.5v2.6M243.3 231.5v2.6M254.6 231.5v2.6M266.0 231.5v2.6M277.3 231.5v2.6M288.7 231.5v2.6M300.0 231.5v2.6M311.4 231.5v2.6M322.7 231.5v2.6M334.1 231.5v2.6M345.5 231.5v2.6M356.8 231.5v2.6M368.2 231.5v2.6M379.5 231.5v2.6M390.9 231.5v2.6M402.2 231.5v2.6M413.6 231.5v2.6M424.9 231.5v2.6M436.3 231.5v2.6M447.7 231.5v2.6M459.0 231.5v2.6M470.4 231.5v2.6M481.7 231.5v2.6M493.1 231.5v2.6M504.4 231.5v2.6M515.8 231.5v2.6M527.2 231.5v2.6M538.5 231.5v2.6M549.9 231.5v2.6M561.2 231.5v2.6M572.6 231.5v2.6M583.9 231.5v2.6M595.3 231.5v2.6M606.6 231.5v2.6M618.0 231.5v2.6M629.4 231.5v2.6M640.7 231.5v2.6M652.1 231.5v2.6M663.4 231.5v2.6M674.8 231.5v2.6" stroke="#333" stroke-width="1.1"/>
<text x="39.0" y="213.2" text-anchor="end" font-size="9" fill="#4d4d4d">2</text>
<text x="39.0" y="155.1" text-anchor="end" font-size="9" fill="#4d4d4d">4</text>
<text x="39.0" y="97.0" text-anchor="end" font-size="9" fill="#4d4d4d">6</text>
<text x="39.0" y="38.9" text-anchor="end" font-size="9" fill="#4d4d4d">8</text>
<text transform="translate(53.3,236) rotate(-90)" text-anchor="end" font-size="8.6" letter-spacing="-0.2" fill="#1a1a1a">ACC.Tumor</text>
<text transform="translate(64.7,236) rotate(-90)" text-anchor="end" font-size="8.6" letter-spacing="-0.2" fill="#1a1a1a">BLCA.Tumor</text>
<text transform="translate(76.0,236) rotate(-90)" text-anchor="end" font-size="8.6" letter-spacing="-0.2" fill="#1a1a1a">BLCA.Normal</text>
<text transform="translate(87.4,236) rotate(-90)" text-anchor="end" font-size="8.6" letter-spacing="-0.2" fill="#1a1a1a">BRCA.Tumor</text>
<text transform="translate(98.7,236) rotate(-90)" text-anchor="end" font-size="8.6" letter-spacing="-0.2" fill="#1a1a1a">BRCA.Normal</text>
<text transform="translate(110.1,236) rotate(-90)" text-anchor="end" font-size="8.6" letter-spacing="-0.2" fill="#1a1a1a">BRCA−Basal.Tumor</text>
<text transform="translate(121.4,236) rotate(-90)" text-anchor="end" font-size="8.6" letter-spacing="-0.2" fill="#1a1a1a">BRCA−Her2.Tumor</text>
<text transform="translate(132.8,236) rotate(-90)" text-anchor="end" font-size="8.6" letter-spacing="-0.2" fill="#1a1a1a">BRCA−Luminal.Tumor</text>
<text transform="translate(144.1,236) rotate(-90)" text-anchor="end" font-size="8.6" letter-spacing="-0.2" fill="#1a1a1a">CESC.Tumor</text>
<text transform="translate(155.5,236) rotate(-90)" text-anchor="end" font-size="8.6" letter-spacing="-0.2" fill="#1a1a1a">CHOL.Tumor</text>
<text transform="translate(166.9,236) rotate(-90)" text-anchor="end" font-size="8.6" letter-spacing="-0.2" fill="#1a1a1a">CHOL.Normal</text>
<text transform="translate(178.2,236) rotate(-90)" text-anchor="end" font-size="8.6" letter-spacing="-0.2" fill="#1a1a1a">COAD.Tumor</text>
<text transform="translate(189.6,236) rotate(-90)" text-anchor="end" font-size="8.6" letter-spacing="-0.2" fill="#1a1a1a">COAD.Normal</text>
<text transform="translate(200.9,236) rotate(-90)" text-anchor="end" font-size="8.6" letter-spacing="-0.2" fill="#1a1a1a">DLBC.Tumor</text>
<text transform="translate(212.3,236) rotate(-90)" text-anchor="end" font-size="8.6" letter-spacing="-0.2" fill="#1a1a1a">ESCA.Tumor</text>
<text transform="translate(223.6,236) rotate(-90)" text-anchor="end" font-size="8.6" letter-spacing="-0.2" fill="#1a1a1a">ESCA.Normal</text>
<text transform="translate(235.0,236) rotate(-90)" text-anchor="end" font-size="8.6" letter-spacing="-0.2" fill="#1a1a1a">GBM.Tumor</text>
<text transform="translate(246.4,236) rotate(-90)" text-anchor="end" font-size="8.6" letter-spacing="-0.2" fill="#1a1a1a">HNSC.Tumor</text>
<text transform="translate(257.7,236) rotate(-90)" text-anchor="end" font-size="8.6" letter-spacing="-0.2" fill="#1a1a1a">HNSC.Normal</text>
<text transform="translate(269.1,236) rotate(-90)" text-anchor="end" font-size="8.6" letter-spacing="-0.2" fill="#1a1a1a">HNSC−HPVpos.Tumor</text>
<text transform="translate(280.4,236) rotate(-90)" text-anchor="end" font-size="8.6" letter-spacing="-0.2" fill="#1a1a1a">HNSC−HPVneg.Tumor</text>
<text transform="translate(291.8,236) rotate(-90)" text-anchor="end" font-size="8.6" letter-spacing="-0.2" fill="#1a1a1a">KICH.Tumor</text>
<text transform="translate(303.1,236) rotate(-90)" text-anchor="end" font-size="8.6" letter-spacing="-0.2" fill="#1a1a1a">KICH.Normal</text>
<text transform="translate(314.5,236) rotate(-90)" text-anchor="end" font-size="8.6" letter-spacing="-0.2" fill="#1a1a1a">KIRC.Tumor</text>
<text transform="translate(325.8,236) rotate(-90)" text-anchor="end" font-size="8.6" letter-spacing="-0.2" fill="#1a1a1a">KIRC.Normal</text>
<text transform="translate(337.2,236) rotate(-90)" text-anchor="end" font-size="8.6" letter-spacing="-0.2" fill="#1a1a1a">KIRP.Tumor</text>
<text transform="translate(348.6,236) rotate(-90)" text-anchor="end" font-size="8.6" letter-spacing="-0.2" fill="#1a1a1a">KIRP.Normal</text>
<text transform="translate(359.9,236) rotate(-90)" text-anchor="end" font-size="8.6" letter-spacing="-0.2" fill="#1a1a1a">LAML.Tumor</text>
<text transform="translate(371.3,236) rotate(-90)" text-anchor="end" font-size="8.6" letter-spacing="-0.2" fill="#1a1a1a">LGG.Tumor</text>
<text transform="translate(382.6,236) rotate(-90)" text-anchor="end" font-size="8.6" letter-spacing="-0.2" fill="#1a1a1a">LIHC.Tumor</text>
<text transform="translate(394.0,236) rotate(-90)" text-anchor="end" font-size="8.6" letter-spacing="-0.2" fill="#1a1a1a">LIHC.Normal</text>
<text transform="translate(405.3,236) rotate(-90)" text-anchor="end" font-size="8.6" letter-spacing="-0.2" fill="#1a1a1a">LUAD.Tumor</text>
<text transform="translate(416.7,236) rotate(-90)" text-anchor="end" font-size="8.6" letter-spacing="-0.2" fill="#1a1a1a">LUAD.Normal</text>
<text transform="translate(428.0,236) rotate(-90)" text-anchor="end" font-size="8.6" letter-spacing="-0.2" fill="#1a1a1a">LUSC.Tumor</text>
<text transform="translate(439.4,236) rotate(-90)" text-anchor="end" font-size="8.6" letter-spacing="-0.2" fill="#1a1a1a">LUSC.Normal</text>
<text transform="translate(450.8,236) rotate(-90)" text-anchor="end" font-size="8.6" letter-spacing="-0.2" fill="#1a1a1a">MESO.Tumor</text>
<text transform="translate(462.1,236) rotate(-90)" text-anchor="end" font-size="8.6" letter-spacing="-0.2" fill="#1a1a1a">OV.Tumor</text>
<text transform="translate(473.5,236) rotate(-90)" text-anchor="end" font-size="8.6" letter-spacing="-0.2" fill="#1a1a1a">PAAD.Tumor</text>
<text transform="translate(484.8,236) rotate(-90)" text-anchor="end" font-size="8.6" letter-spacing="-0.2" fill="#1a1a1a">PCPG.Tumor</text>
<text transform="translate(496.2,236) rotate(-90)" text-anchor="end" font-size="8.6" letter-spacing="-0.2" fill="#1a1a1a">PRAD.Tumor</text>
<text transform="translate(507.5,236) rotate(-90)" text-anchor="end" font-size="8.6" letter-spacing="-0.2" fill="#1a1a1a">PRAD.Normal</text>
<text transform="translate(518.9,236) rotate(-90)" text-anchor="end" font-size="8.6" letter-spacing="-0.2" fill="#1a1a1a">READ.Tumor</text>
<text transform="translate(530.3,236) rotate(-90)" text-anchor="end" font-size="8.6" letter-spacing="-0.2" fill="#1a1a1a">READ.Normal</text>
<text transform="translate(541.6,236) rotate(-90)" text-anchor="end" font-size="8.6" letter-spacing="-0.2" fill="#1a1a1a">SARC.Tumor</text>
<text transform="translate(553.0,236) rotate(-90)" text-anchor="end" font-size="8.6" letter-spacing="-0.2" fill="#1a1a1a">SKCM.Tumor</text>
<text transform="translate(564.3,236) rotate(-90)" text-anchor="end" font-size="8.6" letter-spacing="-0.2" fill="#1a1a1a">SKCM.Metastasis</text>
<text transform="translate(575.7,236) rotate(-90)" text-anchor="end" font-size="8.6" letter-spacing="-0.2" fill="#1a1a1a">STAD.Tumor</text>
<text transform="translate(587.0,236) rotate(-90)" text-anchor="end" font-size="8.6" letter-spacing="-0.2" fill="#1a1a1a">STAD.Normal</text>
<text transform="translate(598.4,236) rotate(-90)" text-anchor="end" font-size="8.6" letter-spacing="-0.2" fill="#1a1a1a">TGCT.Tumor</text>
<text transform="translate(609.7,236) rotate(-90)" text-anchor="end" font-size="8.6" letter-spacing="-0.2" fill="#1a1a1a">THCA.Tumor</text>
<text transform="translate(621.1,236) rotate(-90)" text-anchor="end" font-size="8.6" letter-spacing="-0.2" fill="#1a1a1a">THCA.Normal</text>
<text transform="translate(632.5,236) rotate(-90)" text-anchor="end" font-size="8.6" letter-spacing="-0.2" fill="#1a1a1a">THYM.Tumor</text>
<text transform="translate(643.8,236) rotate(-90)" text-anchor="end" font-size="8.6" letter-spacing="-0.2" fill="#1a1a1a">UCEC.Tumor</text>
<text transform="translate(655.2,236) rotate(-90)" text-anchor="end" font-size="8.6" letter-spacing="-0.2" fill="#1a1a1a">UCEC.Normal</text>
<text transform="translate(666.5,236) rotate(-90)" text-anchor="end" font-size="8.6" letter-spacing="-0.2" fill="#1a1a1a">UCS.Tumor</text>
<text transform="translate(677.9,236) rotate(-90)" text-anchor="end" font-size="8.6" letter-spacing="-0.2" fill="#1a1a1a">UVM.Tumor</text>
<text transform="translate(30.1,129.9) rotate(-90)" text-anchor="middle" font-size="10" fill="#000">NUP85 Expression Level (log2 TPM)</text>
</g>
<g id="pb" font-family="DejaVu Sans, sans-serif">
<rect x="37.5" y="356.3" width="608.1" height="131.89999999999998" fill="#fff"/>
<path d="M37.5 471.4H645.6M37.5 453.4H645.6M37.5 435.5H645.6M37.5 417.5H645.6M37.5 399.6H645.6M37.5 381.6H645.6M37.5 363.6H645.6" stroke="#ebebeb" stroke-width="0.9"/>
<path d="M54.4 399.1V463" stroke="#555" stroke-width="0.55"/>
<path d="M54.40 399.10L54.35 399.10L54.32 400.17L54.27 401.23L54.21 402.30L54.12 403.36L54.01 404.43L53.85 405.49L53.64 406.56L53.37 407.62L53.04 408.69L52.63 409.75L52.15 410.81L51.58 411.88L50.95 412.94L50.25 414.01L49.51 415.08L48.74 416.14L47.98 417.21L47.26 418.27L46.61 419.34L46.06 420.40L45.65 421.47L45.39 422.53L45.30 423.60L45.36 424.66L45.52 425.73L45.80 426.79L46.16 427.86L46.62 428.92L47.13 429.99L47.70 431.05L48.30 432.12L48.91 433.18L49.53 434.25L50.13 435.31L50.70 436.38L51.24 437.44L51.73 438.50L52.17 439.57L52.56 440.63L52.91 441.70L53.20 442.76L53.45 443.83L53.65 444.89L53.82 445.96L53.96 447.02L54.07 448.09L54.15 449.15L54.22 450.22L54.27 451.29L54.30 452.35L54.33 453.42L54.35 454.48L54.37 455.55L54.38 456.61L54.38 457.68L54.39 458.74L54.39 459.81L54.40 460.87L54.40 461.94L54.40 463.00L54.40 463.00Z" fill="#e64b35" stroke="#333" stroke-width="0.6"/>
<path d="M54.40 402.70L54.55 402.70L54.58 403.51L54.63 404.33L54.69 405.14L54.75 405.95L54.83 406.77L54.93 407.58L55.04 408.39L55.16 409.21L55.31 410.02L55.48 410.83L55.68 411.65L55.89 412.46L56.14 413.27L56.41 414.09L56.71 414.90L57.04 415.71L57.39 416.53L57.77 417.34L58.17 418.15L58.60 418.97L59.04 419.78L59.49 420.59L59.96 421.41L60.42 422.22L60.89 423.03L61.34 423.85L61.78 424.66L62.20 425.47L62.59 426.29L62.94 427.10L63.25 427.91L63.51 428.73L63.72 429.54L63.87 430.35L63.97 431.17L64.00 431.98L63.91 432.79L63.65 433.61L63.22 434.42L62.65 435.23L61.97 436.05L61.21 436.86L60.42 437.67L59.61 438.49L58.83 439.30L58.09 440.11L57.42 440.93L56.82 441.74L56.31 442.55L55.87 443.37L55.51 444.18L55.23 444.99L55.00 445.81L54.83 446.62L54.70 447.43L54.61 448.25L54.54 449.06L54.49 449.87L54.46 450.69L54.44 451.50L54.40 451.50Z" fill="#4dbbd5" stroke="#333" stroke-width="0.6"/>
<path d="M52.4 422.4V426.8M51.5 422.4h1.8M51.5 426.8h1.8" stroke="#000" stroke-width="0.5"/>
<circle cx="52.4" cy="424.6" r="1.1" fill="#000"/>
<path d="M56.4 428.5V433.5M55.5 428.5h1.8M55.5 433.5h1.8" stroke="#000" stroke-width="0.5"/>
<circle cx="56.4" cy="430.5" r="1.1" fill="#000"/>
<path d="M53.9 364.4h1" stroke="#333" stroke-width="0.8"/>
<text transform="translate(55.7,493.2) rotate(-45)" text-anchor="end" font-size="7.05" fill="#222">GBM(T=153,N=5)</text>
<path d="M77.3 390V466.5" stroke="#555" stroke-width="0.55"/>
<path d="M77.30 390.00L77.28 390.00L77.27 391.27L77.25 392.55L77.23 393.82L77.19 395.10L77.15 396.38L77.09 397.65L77.01 398.93L76.90 400.20L76.77 401.48L76.60 402.75L76.38 404.02L76.12 405.30L75.80 406.57L75.42 407.85L74.99 409.12L74.49 410.40L73.94 411.68L73.33 412.95L72.68 414.23L71.99 415.50L71.30 416.77L70.61 418.05L69.94 419.32L69.33 420.60L68.79 421.88L68.34 423.15L68.00 424.43L67.78 425.70L67.70 426.98L67.76 428.25L67.96 429.52L68.30 430.80L68.76 432.07L69.33 433.35L69.96 434.62L70.65 435.90L71.37 437.18L72.09 438.45L72.80 439.73L73.46 441.00L74.08 442.27L74.64 443.55L75.14 444.82L75.57 446.10L75.94 447.38L76.24 448.65L76.49 449.93L76.69 451.20L76.85 452.48L76.97 453.75L77.06 455.02L77.13 456.30L77.18 457.57L77.22 458.85L77.25 460.12L77.26 461.40L77.28 462.68L77.28 463.95L77.29 465.23L77.29 466.50L77.30 466.50Z" fill="#e64b35" stroke="#333" stroke-width="0.6"/>
<path d="M77.30 402.70L77.44 402.70L77.47 403.52L77.52 404.34L77.58 405.16L77.65 405.99L77.73 406.81L77.83 407.63L77.95 408.45L78.09 409.27L78.25 410.09L78.44 410.92L78.65 411.74L78.89 412.56L79.16 413.38L79.46 414.20L79.80 415.02L80.16 415.85L80.55 416.67L80.97 417.49L81.42 418.31L81.89 419.13L82.37 419.95L82.86 420.78L83.36 421.60L83.86 422.42L84.34 423.24L84.81 424.06L85.25 424.88L85.66 425.71L86.02 426.53L86.34 427.35L86.60 428.17L86.79 428.99L86.93 429.81L86.99 430.64L86.98 431.46L86.81 432.28L86.51 433.10L86.07 433.92L85.53 434.75L84.89 435.57L84.20 436.39L83.46 437.21L82.72 438.03L82.00 438.85L81.30 439.68L80.66 440.50L80.07 441.32L79.56 442.14L79.10 442.96L78.72 443.78L78.40 444.61L78.14 445.43L77.93 446.25L77.77 447.07L77.64 447.89L77.54 448.71L77.47 449.54L77.42 450.36L77.38 451.18L77.35 452.00L77.30 452.00Z" fill="#4dbbd5" stroke="#333" stroke-width="0.6"/>
<path d="M75.3 425.9V430.3M74.4 425.9h1.8M74.4 430.3h1.8" stroke="#000" stroke-width="0.5"/>
<circle cx="75.3" cy="428.1" r="1.1" fill="#000"/>
<path d="M79.3 427.5V432.5M78.4 427.5h1.8M78.4 432.5h1.8" stroke="#000" stroke-width="0.5"/>
<circle cx="79.3" cy="429.5" r="1.1" fill="#000"/>
<path d="M76.8 364.4h1" stroke="#333" stroke-width="0.8"/>
<text transform="translate(78.6,493.2) rotate(-45)" text-anchor="end" font-size="7.05" fill="#222">GBMLGG(T=662,N=5)</text>
<path d="M100.4 391.2V463.5" stroke="#555" stroke-width="0.55"/>
<path d="M100.40 391.20L100.38 391.20L100.38 392.40L100.36 393.61L100.35 394.81L100.32 396.02L100.29 397.22L100.24 398.43L100.18 399.63L100.10 400.84L100.00 402.05L99.86 403.25L99.69 404.45L99.48 405.66L99.23 406.87L98.92 408.07L98.56 409.27L98.14 410.48L97.66 411.69L97.12 412.89L96.54 414.09L95.91 415.30L95.25 416.50L94.57 417.71L93.89 418.92L93.23 420.12L92.62 421.32L92.06 422.53L91.59 423.74L91.21 424.94L90.95 426.14L90.82 427.35L90.81 428.56L90.94 429.76L91.19 430.96L91.56 432.17L92.03 433.38L92.58 434.58L93.20 435.78L93.86 436.99L94.54 438.19L95.22 439.40L95.89 440.61L96.52 441.81L97.11 443.01L97.65 444.22L98.13 445.43L98.55 446.63L98.92 447.83L99.23 449.04L99.48 450.25L99.70 451.45L99.86 452.65L100.00 453.86L100.10 455.06L100.18 456.27L100.24 457.48L100.29 458.68L100.32 459.88L100.35 461.09L100.36 462.30L100.38 463.50L100.40 463.50Z" fill="#e64b35" stroke="#333" stroke-width="0.6"/>
<path d="M100.40 402.70L100.54 402.70L100.57 403.51L100.62 404.33L100.67 405.14L100.74 405.95L100.81 406.77L100.91 407.58L101.01 408.39L101.14 409.21L101.29 410.02L101.46 410.83L101.65 411.65L101.87 412.46L102.12 413.27L102.39 414.09L102.69 414.90L103.02 415.71L103.37 416.53L103.75 417.34L104.16 418.15L104.58 418.97L105.02 419.78L105.48 420.59L105.94 421.41L106.40 422.22L106.86 423.03L107.30 423.85L107.73 424.66L108.13 425.47L108.50 426.29L108.83 427.10L109.11 427.91L109.34 428.73L109.52 429.54L109.64 430.35L109.69 431.17L109.67 431.98L109.49 432.79L109.16 433.61L108.69 434.42L108.11 435.23L107.44 436.05L106.71 436.86L105.96 437.67L105.21 438.49L104.49 439.30L103.82 440.11L103.20 440.93L102.66 441.74L102.19 442.55L101.79 443.37L101.46 444.18L101.20 444.99L100.99 445.81L100.83 446.62L100.70 447.43L100.61 448.25L100.54 449.06L100.50 449.87L100.46 450.69L100.44 451.50L100.40 451.50Z" fill="#4dbbd5" stroke="#333" stroke-width="0.6"/>
<path d="M98.4 426.8V431.2M97.5 426.8h1.8M97.5 431.2h1.8" stroke="#000" stroke-width="0.5"/>
<circle cx="98.4" cy="429.0" r="1.1" fill="#000"/>
<path d="M102.4 428.0V433.0M101.5 428.0h1.8M101.5 433.0h1.8" stroke="#000" stroke-width="0.5"/>
<circle cx="102.4" cy="430.0" r="1.1" fill="#000"/>
<path d="M99.9 364.4h1" stroke="#333" stroke-width="0.8"/>
<text transform="translate(101.7,493.2) rotate(-45)" text-anchor="end" font-size="7.05" fill="#222">LGG(T=509,N=5)</text>
<path d="M123.4 368.9V450.7" stroke="#555" stroke-width="0.55"/>
<path d="M123.40 368.90L123.40 368.90L123.40 370.26L123.40 371.63L123.40 372.99L123.39 374.35L123.39 375.72L123.38 377.08L123.37 378.44L123.36 379.81L123.33 381.17L123.30 382.53L123.25 383.90L123.19 385.26L123.10 386.62L122.99 387.99L122.84 389.35L122.64 390.71L122.39 392.08L122.09 393.44L121.72 394.80L121.28 396.17L120.77 397.53L120.19 398.89L119.54 400.26L118.84 401.62L118.10 402.98L117.35 404.35L116.59 405.71L115.87 407.07L115.20 408.44L114.62 409.80L114.15 411.16L113.82 412.53L113.64 413.89L113.61 415.25L113.72 416.62L113.97 417.98L114.34 419.34L114.82 420.71L115.39 422.07L116.03 423.43L116.71 424.80L117.42 426.16L118.12 427.52L118.81 428.89L119.47 430.25L120.08 431.61L120.63 432.98L121.12 434.34L121.56 435.70L121.93 437.07L122.24 438.43L122.50 439.79L122.71 441.16L122.88 442.52L123.01 443.88L123.12 445.25L123.20 446.61L123.25 447.97L123.30 449.34L123.33 450.70L123.40 450.70Z" fill="#e64b35" stroke="#333" stroke-width="0.6"/>
<path d="M123.4 419.5C125.4 419.5 127.9 420 127.9 421.2C127.4 422.3 125.9 422.5 125.4 423.5C127.4 424.6 132.9 425 132.9 426.2C131.4 427.4 126.4 427.8 123.4 428.5Z" fill="#4dbbd5" stroke="#333" stroke-width="0.6"/>
<path d="M121.4 413.6V418.0M120.5 413.6h1.8M120.5 418.0h1.8" stroke="#000" stroke-width="0.5"/>
<circle cx="121.4" cy="415.8" r="1.1" fill="#000"/>
<circle cx="125.4" cy="426.0" r="1.1" fill="#000"/>
<text x="124.6" y="365.9" text-anchor="middle" font-size="6.8" fill="#222">**</text>
<text transform="translate(124.7,493.2) rotate(-45)" text-anchor="end" font-size="7.05" fill="#222">CESC(T=304,N=3)</text>
<path d="M146.3 390.6V460.7" stroke="#555" stroke-width="0.55"/>
<path d="M146.30 390.60L146.25 390.60L146.23 391.77L146.20 392.94L146.16 394.11L146.11 395.27L146.05 396.44L145.97 397.61L145.87 398.78L145.74 399.95L145.59 401.12L145.40 402.28L145.17 403.45L144.91 404.62L144.60 405.79L144.24 406.96L143.84 408.12L143.39 409.29L142.90 410.46L142.36 411.63L141.80 412.80L141.21 413.97L140.61 415.13L140.01 416.30L139.42 417.47L138.86 418.64L138.35 419.81L137.89 420.98L137.51 422.14L137.22 423.31L137.01 424.48L136.91 425.65L136.92 426.82L137.05 427.99L137.31 429.15L137.68 430.32L138.15 431.49L138.70 432.66L139.31 433.83L139.96 435.00L140.63 436.17L141.30 437.33L141.95 438.50L142.57 439.67L143.14 440.84L143.66 442.01L144.13 443.18L144.54 444.34L144.89 445.51L145.19 446.68L145.43 447.85L145.64 449.02L145.80 450.19L145.92 451.35L146.02 452.52L146.10 453.69L146.16 454.86L146.20 456.03L146.23 457.19L146.25 458.36L146.27 459.53L146.28 460.70L146.30 460.70Z" fill="#e64b35" stroke="#333" stroke-width="0.6"/>
<path d="M146.30 408.80L146.38 408.80L146.41 409.48L146.44 410.16L146.48 410.85L146.53 411.53L146.60 412.21L146.67 412.89L146.77 413.57L146.88 414.25L147.02 414.94L147.18 415.62L147.36 416.30L147.58 416.98L147.82 417.66L148.10 418.34L148.42 419.02L148.77 419.71L149.15 420.39L149.56 421.07L150.01 421.75L150.48 422.43L150.98 423.12L151.49 423.80L152.02 424.48L152.55 425.16L153.07 425.84L153.57 426.52L154.05 427.20L154.50 427.89L154.90 428.57L155.25 429.25L155.54 429.93L155.76 430.61L155.92 431.30L155.99 431.98L155.97 432.66L155.79 433.34L155.43 434.02L154.92 434.70L154.29 435.38L153.57 436.07L152.78 436.75L151.98 437.43L151.18 438.11L150.41 438.79L149.70 439.48L149.06 440.16L148.50 440.84L148.02 441.52L147.62 442.20L147.29 442.88L147.03 443.56L146.83 444.25L146.68 444.93L146.56 445.61L146.48 446.29L146.42 446.97L146.38 447.65L146.35 448.34L146.33 449.02L146.32 449.70L146.30 449.70Z" fill="#4dbbd5" stroke="#333" stroke-width="0.6"/>
<path d="M144.3 425.0V429.4M143.4 425.0h1.8M143.4 429.4h1.8" stroke="#000" stroke-width="0.5"/>
<circle cx="144.3" cy="427.2" r="1.1" fill="#000"/>
<path d="M148.3 428.8V433.8M147.4 428.8h1.8M147.4 433.8h1.8" stroke="#000" stroke-width="0.5"/>
<circle cx="148.3" cy="430.8" r="1.1" fill="#000"/>
<text x="147.5" y="365.9" text-anchor="middle" font-size="6.8" fill="#222">****</text>
<text transform="translate(147.6,493.2) rotate(-45)" text-anchor="end" font-size="7.05" fill="#222">LUAD(T=513,N=109)</text>
<path d="M168.9 399.1V453.4" stroke="#555" stroke-width="0.55"/>
<path d="M168.90 399.10L168.85 399.10L168.83 400.00L168.80 400.91L168.75 401.81L168.69 402.72L168.61 403.62L168.49 404.53L168.35 405.44L168.17 406.34L167.93 407.25L167.65 408.15L167.31 409.06L166.90 409.96L166.44 410.87L165.90 411.77L165.31 412.68L164.67 413.58L164.00 414.49L163.30 415.39L162.60 416.30L161.92 417.20L161.29 418.11L160.73 419.01L160.26 419.92L159.91 420.82L159.68 421.73L159.60 422.63L159.64 423.54L159.78 424.44L160.01 425.35L160.33 426.25L160.72 427.15L161.18 428.06L161.69 428.96L162.24 429.87L162.81 430.77L163.39 431.68L163.96 432.58L164.53 433.49L165.07 434.39L165.58 435.30L166.05 436.20L166.48 437.11L166.87 438.01L167.21 438.92L167.51 439.82L167.77 440.73L167.99 441.63L168.17 442.54L168.33 443.44L168.45 444.35L168.56 445.25L168.64 446.16L168.70 447.06L168.75 447.97L168.79 448.88L168.82 449.78L168.84 450.69L168.86 451.59L168.87 452.50L168.88 453.40L168.90 453.40Z" fill="#e64b35" stroke="#333" stroke-width="0.6"/>
<path d="M168.90 417.60L168.91 417.60L168.91 418.09L168.91 418.58L168.92 419.08L168.93 419.57L168.95 420.06L168.98 420.55L169.02 421.04L169.07 421.53L169.15 422.03L169.25 422.52L169.39 423.01L169.57 423.50L169.80 423.99L170.08 424.48L170.43 424.98L170.86 425.47L171.35 425.96L171.92 426.45L172.57 426.94L173.27 427.43L174.02 427.93L174.80 428.42L175.59 428.91L176.35 429.40L177.07 429.89L177.70 430.38L178.21 430.88L178.60 431.37L178.83 431.86L178.90 432.35L178.80 432.84L178.54 433.33L178.14 433.83L177.60 434.32L176.97 434.81L176.25 435.30L175.49 435.79L174.72 436.28L173.95 436.78L173.21 437.27L172.51 437.76L171.88 438.25L171.32 438.74L170.84 439.23L170.42 439.73L170.08 440.22L169.79 440.71L169.57 441.20L169.39 441.69L169.26 442.18L169.15 442.68L169.08 443.17L169.02 443.66L168.98 444.15L168.96 444.64L168.94 445.13L168.92 445.62L168.91 446.12L168.91 446.61L168.91 447.10L168.90 447.10Z" fill="#4dbbd5" stroke="#333" stroke-width="0.6"/>
<path d="M166.9 421.5V425.9M166.0 421.5h1.8M166.0 425.9h1.8" stroke="#000" stroke-width="0.5"/>
<circle cx="166.9" cy="423.7" r="1.1" fill="#000"/>
<path d="M170.9 428.8V433.8M170.0 428.8h1.8M170.0 433.8h1.8" stroke="#000" stroke-width="0.5"/>
<circle cx="170.9" cy="430.8" r="1.1" fill="#000"/>
<text x="170.1" y="365.9" text-anchor="middle" font-size="6.8" fill="#222">****</text>
<text transform="translate(170.2,493.2) rotate(-45)" text-anchor="end" font-size="7.05" fill="#222">COAD(T=288,N=41)</text>
<path d="M191.7 399.1V453.4" stroke="#555" stroke-width="0.55"/>
<path d="M191.70 399.10L191.63 399.10L191.60 400.00L191.56 400.91L191.50 401.81L191.43 402.72L191.34 403.62L191.23 404.53L191.09 405.44L190.91 406.34L190.70 407.25L190.44 408.15L190.14 409.06L189.79 409.96L189.39 410.87L188.93 411.77L188.43 412.68L187.89 413.58L187.31 414.49L186.70 415.39L186.08 416.30L185.46 417.20L184.85 418.11L184.28 419.01L183.75 419.92L183.30 420.82L182.92 421.73L182.64 422.63L182.46 423.54L182.40 424.44L182.45 425.35L182.62 426.25L182.90 427.15L183.28 428.06L183.74 428.96L184.28 429.87L184.86 430.77L185.48 431.68L186.12 432.58L186.75 433.49L187.37 434.39L187.96 435.30L188.51 436.20L189.01 437.11L189.47 438.01L189.87 438.92L190.22 439.82L190.51 440.73L190.76 441.63L190.97 442.54L191.14 443.44L191.27 444.35L191.38 445.25L191.46 446.16L191.53 447.06L191.57 447.97L191.61 448.88L191.64 449.78L191.66 450.69L191.67 451.59L191.68 452.50L191.69 453.40L191.70 453.40Z" fill="#e64b35" stroke="#333" stroke-width="0.6"/>
<path d="M191.70 418.50L191.70 418.50L191.70 418.98L191.71 419.45L191.71 419.93L191.72 420.41L191.73 420.88L191.75 421.36L191.79 421.84L191.83 422.31L191.90 422.79L191.99 423.27L192.11 423.74L192.29 424.22L192.51 424.70L192.80 425.17L193.16 425.65L193.61 426.13L194.14 426.60L194.76 427.08L195.46 427.56L196.23 428.03L197.06 428.51L197.90 428.99L198.75 429.46L199.55 429.94L200.27 430.42L200.88 430.89L201.33 431.37L201.61 431.85L201.70 432.32L201.61 432.80L201.38 433.28L201.00 433.75L200.51 434.23L199.91 434.71L199.23 435.18L198.50 435.66L197.75 436.14L197.00 436.61L196.27 437.09L195.58 437.57L194.94 438.04L194.37 438.52L193.86 439.00L193.42 439.47L193.05 439.95L192.75 440.43L192.50 440.90L192.30 441.38L192.14 441.86L192.02 442.33L191.93 442.81L191.86 443.29L191.81 443.76L191.78 444.24L191.75 444.72L191.73 445.19L191.72 445.67L191.71 446.15L191.71 446.62L191.71 447.10L191.70 447.10Z" fill="#4dbbd5" stroke="#333" stroke-width="0.6"/>
<path d="M189.7 423.3V427.7M188.8 423.3h1.8M188.8 427.7h1.8" stroke="#000" stroke-width="0.5"/>
<circle cx="189.7" cy="425.5" r="1.1" fill="#000"/>
<path d="M193.7 428.8V433.8M192.8 428.8h1.8M192.8 433.8h1.8" stroke="#000" stroke-width="0.5"/>
<circle cx="193.7" cy="430.8" r="1.1" fill="#000"/>
<text x="192.9" y="365.9" text-anchor="middle" font-size="6.8" fill="#222">****</text>
<text transform="translate(193.0,493.2) rotate(-45)" text-anchor="end" font-size="7.05" fill="#222">COADREAD(T=380,N=51)</text>
<path d="M214.8 381.5V461.2" stroke="#555" stroke-width="0.55"/>
<path d="M214.80 381.50L214.79 381.50L214.79 382.83L214.78 384.16L214.77 385.49L214.76 386.81L214.74 388.14L214.71 389.47L214.67 390.80L214.62 392.13L214.55 393.45L214.45 394.78L214.33 396.11L214.16 397.44L213.96 398.77L213.71 400.10L213.40 401.43L213.04 402.75L212.62 404.08L212.14 405.41L211.60 406.74L211.01 408.07L210.38 409.39L209.73 410.72L209.08 412.05L208.43 413.38L207.83 414.71L207.28 416.04L206.82 417.37L206.46 418.69L206.22 420.02L206.11 421.35L206.13 422.68L206.26 424.01L206.51 425.33L206.85 426.66L207.29 427.99L207.79 429.32L208.35 430.65L208.95 431.98L209.56 433.31L210.17 434.63L210.76 435.96L211.32 437.29L211.85 438.62L212.33 439.95L212.76 441.27L213.14 442.60L213.46 443.93L213.74 445.26L213.97 446.59L214.16 447.92L214.31 449.25L214.43 450.57L214.53 451.90L214.60 453.23L214.66 454.56L214.70 455.89L214.73 457.21L214.75 458.54L214.77 459.87L214.78 461.20L214.80 461.20Z" fill="#e64b35" stroke="#333" stroke-width="0.6"/>
<path d="M214.80 400.90L214.92 400.90L214.96 401.73L215.01 402.56L215.07 403.38L215.14 404.21L215.24 405.04L215.35 405.87L215.49 406.70L215.65 407.53L215.85 408.35L216.07 409.18L216.34 410.01L216.64 410.84L216.98 411.67L217.36 412.50L217.78 413.32L218.24 414.15L218.74 414.98L219.26 415.81L219.82 416.64L220.39 417.47L220.97 418.30L221.55 419.12L222.12 419.95L222.67 420.78L223.19 421.61L223.66 422.44L224.07 423.26L224.42 424.09L224.69 424.92L224.88 425.75L224.98 426.58L224.99 427.41L224.89 428.24L224.67 429.06L224.34 429.89L223.91 430.72L223.40 431.55L222.82 432.38L222.19 433.20L221.53 434.03L220.86 434.86L220.19 435.69L219.54 436.52L218.92 437.35L218.34 438.18L217.80 439.00L217.32 439.83L216.88 440.66L216.51 441.49L216.18 442.32L215.90 443.15L215.67 443.97L215.48 444.80L215.33 445.63L215.20 446.46L215.10 447.29L215.02 448.12L214.97 448.94L214.92 449.77L214.89 450.60L214.80 450.60Z" fill="#4dbbd5" stroke="#333" stroke-width="0.6"/>
<path d="M212.8 420.6V425.0M211.9 420.6h1.8M211.9 425.0h1.8" stroke="#000" stroke-width="0.5"/>
<circle cx="212.8" cy="422.8" r="1.1" fill="#000"/>
<path d="M216.8 423.6V428.6M215.9 423.6h1.8M215.9 428.6h1.8" stroke="#000" stroke-width="0.5"/>
<circle cx="216.8" cy="425.6" r="1.1" fill="#000"/>
<text x="216.0" y="365.9" text-anchor="middle" font-size="6.8" fill="#222">****</text>
<text transform="translate(216.1,493.2) rotate(-45)" text-anchor="end" font-size="7.05" fill="#222">BRCA(T=1092,N=113)</text>
<path d="M237.6 374.2V473.5" stroke="#555" stroke-width="0.55"/>
<path d="M237.60 374.20L237.60 374.20L237.60 375.85L237.59 377.51L237.59 379.16L237.58 380.82L237.57 382.47L237.55 384.13L237.52 385.78L237.49 387.44L237.43 389.09L237.36 390.75L237.25 392.40L237.11 394.06L236.93 395.71L236.69 397.37L236.40 399.02L236.03 400.68L235.60 402.33L235.09 403.99L234.51 405.64L233.86 407.30L233.16 408.95L232.43 410.61L231.68 412.26L230.95 413.92L230.27 415.57L229.66 417.23L229.15 418.88L228.78 420.54L228.56 422.19L228.50 423.85L228.61 425.50L228.88 427.16L229.30 428.81L229.84 430.47L230.48 432.12L231.18 433.78L231.93 435.44L232.68 437.09L233.40 438.75L234.09 440.40L234.72 442.06L235.27 443.71L235.76 445.37L236.17 447.02L236.51 448.68L236.78 450.33L237.00 451.99L237.17 453.64L237.29 455.30L237.39 456.95L237.45 458.61L237.50 460.26L237.54 461.91L237.56 463.57L237.57 465.23L237.58 466.88L237.59 468.53L237.59 470.19L237.60 471.85L237.60 473.50L237.60 473.50Z" fill="#e64b35" stroke="#333" stroke-width="0.6"/>
<path d="M237.60 396.60L237.85 396.60L237.92 397.85L237.99 399.10L238.09 400.35L238.20 401.60L238.34 402.85L238.50 404.10L238.68 405.35L238.89 406.60L239.13 407.85L239.41 409.10L239.71 410.35L240.05 411.60L240.43 412.85L240.83 414.10L241.27 415.35L241.73 416.60L242.22 417.85L242.72 419.10L243.24 420.35L243.76 421.60L244.29 422.85L244.80 424.10L245.29 425.35L245.76 426.60L246.19 427.85L246.58 429.10L246.91 430.35L247.19 431.60L247.39 432.85L247.53 434.10L247.60 435.35L247.58 436.60L247.48 437.85L247.28 439.10L247.00 440.35L246.65 441.60L246.22 442.85L245.74 444.10L245.22 445.35L244.67 446.60L244.09 447.85L243.50 449.10L242.92 450.35L242.35 451.60L241.81 452.85L241.29 454.10L240.80 455.35L240.36 456.60L239.95 457.85L239.58 459.10L239.26 460.35L238.98 461.60L238.73 462.85L238.52 464.10L238.34 465.35L238.19 466.60L238.07 467.85L237.97 469.10L237.89 470.35L237.82 471.60L237.60 471.60Z" fill="#4dbbd5" stroke="#333" stroke-width="0.6"/>
<path d="M235.6 422.4V426.8M234.7 422.4h1.8M234.7 426.8h1.8" stroke="#000" stroke-width="0.5"/>
<circle cx="235.6" cy="424.6" r="1.1" fill="#000"/>
<path d="M239.6 432.3V437.3M238.7 432.3h1.8M238.7 437.3h1.8" stroke="#000" stroke-width="0.5"/>
<circle cx="239.6" cy="434.3" r="1.1" fill="#000"/>
<text x="238.8" y="365.9" text-anchor="middle" font-size="6.8" fill="#222">****</text>
<text transform="translate(238.9,493.2) rotate(-45)" text-anchor="end" font-size="7.05" fill="#222">ESCA(T=181,N=13)</text>
<path d="M260.9 367.5V482.3" stroke="#555" stroke-width="0.55"/>
<path d="M260.90 367.50L260.90 367.50L260.90 369.41L260.89 371.33L260.89 373.24L260.88 375.15L260.87 377.07L260.85 378.98L260.83 380.89L260.79 382.81L260.74 384.72L260.66 386.63L260.56 388.55L260.42 390.46L260.24 392.37L260.00 394.29L259.70 396.20L259.33 398.11L258.88 400.03L258.36 401.94L257.77 403.85L257.11 405.77L256.40 407.68L255.67 409.59L254.93 411.51L254.21 413.42L253.56 415.33L252.99 417.25L252.55 419.16L252.25 421.07L252.11 422.99L252.13 424.90L252.26 426.81L252.50 428.73L252.84 430.64L253.27 432.55L253.77 434.47L254.32 436.38L254.91 438.29L255.52 440.21L256.13 442.12L256.72 444.03L257.29 445.95L257.82 447.86L258.31 449.77L258.75 451.69L259.13 453.60L259.47 455.51L259.76 457.43L260.00 459.34L260.20 461.25L260.36 463.17L260.49 465.08L260.59 466.99L260.67 468.91L260.74 470.82L260.78 472.73L260.82 474.65L260.84 476.56L260.86 478.47L260.87 480.39L260.88 482.30L260.90 482.30Z" fill="#e64b35" stroke="#333" stroke-width="0.6"/>
<path d="M260.90 396.60L261.16 396.60L261.22 397.79L261.29 398.98L261.38 400.18L261.48 401.37L261.59 402.56L261.73 403.75L261.88 404.94L262.06 406.13L262.25 407.33L262.48 408.52L262.73 409.71L263.00 410.90L263.30 412.09L263.63 413.28L263.99 414.48L264.37 415.67L264.77 416.86L265.19 418.05L265.63 419.24L266.09 420.43L266.55 421.62L267.01 422.82L267.48 424.01L267.93 425.20L268.37 426.39L268.79 427.58L269.18 428.78L269.54 429.97L269.86 431.16L270.13 432.35L270.36 433.54L270.53 434.73L270.64 435.93L270.70 437.12L270.68 438.31L270.55 439.50L270.30 440.69L269.94 441.88L269.49 443.08L268.96 444.27L268.37 445.46L267.73 446.65L267.07 447.84L266.41 449.03L265.76 450.23L265.13 451.42L264.53 452.61L263.98 453.80L263.48 454.99L263.04 456.18L262.65 457.38L262.31 458.57L262.03 459.76L261.79 460.95L261.59 462.14L261.43 463.33L261.30 464.53L261.20 465.72L261.12 466.91L261.06 468.10L260.90 468.10Z" fill="#4dbbd5" stroke="#333" stroke-width="0.6"/>
<path d="M258.9 422.4V426.8M258.0 422.4h1.8M258.0 426.8h1.8" stroke="#000" stroke-width="0.5"/>
<circle cx="258.9" cy="424.6" r="1.1" fill="#000"/>
<path d="M262.9 434.1V439.1M262.0 434.1h1.8M262.0 439.1h1.8" stroke="#000" stroke-width="0.5"/>
<circle cx="262.9" cy="436.1" r="1.1" fill="#000"/>
<text x="262.1" y="365.9" text-anchor="middle" font-size="6.8" fill="#222">****</text>
<text transform="translate(262.2,493.2) rotate(-45)" text-anchor="end" font-size="7.05" fill="#222">STES(T=595,N=49)</text>
<path d="M283.6 390V463.5" stroke="#555" stroke-width="0.55"/>
<path d="M283.60 390.00L283.58 390.00L283.58 391.23L283.56 392.45L283.55 393.68L283.52 394.90L283.48 396.12L283.43 397.35L283.37 398.57L283.28 399.80L283.16 401.02L283.00 402.25L282.81 403.48L282.57 404.70L282.28 405.93L281.92 407.15L281.51 408.38L281.03 409.60L280.50 410.82L279.90 412.05L279.27 413.27L278.60 414.50L277.92 415.73L277.24 416.95L276.59 418.18L275.99 419.40L275.47 420.62L275.04 421.85L274.73 423.07L274.55 424.30L274.50 425.52L274.56 426.75L274.69 427.98L274.90 429.20L275.18 430.43L275.53 431.65L275.93 432.88L276.37 434.10L276.85 435.32L277.36 436.55L277.88 437.77L278.40 439.00L278.91 440.23L279.42 441.45L279.90 442.68L280.35 443.90L280.78 445.12L281.17 446.35L281.52 447.57L281.84 448.80L282.13 450.02L282.38 451.25L282.59 452.48L282.78 453.70L282.93 454.93L283.07 456.15L283.18 457.38L283.27 458.60L283.34 459.82L283.40 461.05L283.44 462.27L283.48 463.50L283.60 463.50Z" fill="#e64b35" stroke="#333" stroke-width="0.6"/>
<path d="M283.60 408.80L283.76 408.80L283.80 409.67L283.86 410.54L283.92 411.42L284.00 412.29L284.10 413.16L284.21 414.03L284.34 414.90L284.50 415.77L284.68 416.65L284.88 417.52L285.12 418.39L285.38 419.26L285.68 420.13L286.01 421.00L286.38 421.88L286.77 422.75L287.19 423.62L287.65 424.49L288.12 425.36L288.62 426.23L289.13 427.11L289.66 427.98L290.18 428.85L290.69 429.72L291.20 430.59L291.68 431.46L292.13 432.34L292.54 433.21L292.90 434.08L293.21 434.95L293.46 435.82L293.64 436.69L293.76 437.56L293.80 438.44L293.74 439.31L293.53 440.18L293.18 441.05L292.71 441.92L292.14 442.80L291.49 443.67L290.79 444.54L290.05 445.41L289.30 446.28L288.57 447.15L287.87 448.03L287.21 448.90L286.61 449.77L286.08 450.64L285.61 451.51L285.20 452.38L284.86 453.25L284.58 454.13L284.35 455.00L284.16 455.87L284.02 456.74L283.91 457.61L283.82 458.49L283.76 459.36L283.71 460.23L283.68 461.10L283.60 461.10Z" fill="#4dbbd5" stroke="#333" stroke-width="0.6"/>
<path d="M281.6 424.1V428.5M280.7 424.1h1.8M280.7 428.5h1.8" stroke="#000" stroke-width="0.5"/>
<circle cx="281.6" cy="426.3" r="1.1" fill="#000"/>
<path d="M285.6 435.0V440.0M284.7 435.0h1.8M284.7 440.0h1.8" stroke="#000" stroke-width="0.5"/>
<circle cx="285.6" cy="437.0" r="1.1" fill="#000"/>
<text x="284.8" y="365.9" text-anchor="middle" font-size="6.8" fill="#222">****</text>
<text transform="translate(284.9,493.2) rotate(-45)" text-anchor="end" font-size="7.05" fill="#222">KIRP(T=288,N=129)</text>
<path d="M306.6 381.9V485.8" stroke="#555" stroke-width="0.55"/>
<path d="M306.60 381.90L306.57 381.90L306.56 383.63L306.54 385.36L306.51 387.09L306.47 388.83L306.41 390.56L306.33 392.29L306.23 394.02L306.09 395.75L305.92 397.48L305.70 399.22L305.42 400.95L305.09 402.68L304.69 404.41L304.23 406.14L303.71 407.88L303.12 409.61L302.47 411.34L301.79 413.07L301.08 414.80L300.37 416.53L299.68 418.26L299.04 420.00L298.46 421.73L297.98 423.46L297.62 425.19L297.39 426.92L297.30 428.65L297.36 430.39L297.54 432.12L297.85 433.85L298.27 435.58L298.78 437.31L299.36 439.05L299.99 440.78L300.66 442.51L301.33 444.24L302.00 445.97L302.63 447.70L303.23 449.44L303.78 451.17L304.27 452.90L304.71 454.63L305.08 456.36L305.40 458.09L305.66 459.82L305.88 461.56L306.06 463.29L306.19 465.02L306.30 466.75L306.38 468.48L306.44 470.22L306.49 471.95L306.52 473.68L306.55 475.41L306.56 477.14L306.58 478.87L306.58 480.61L306.59 482.34L306.59 484.07L306.60 485.80L306.60 485.80Z" fill="#e64b35" stroke="#333" stroke-width="0.6"/>
<path d="M306.60 408.80L306.74 408.80L306.78 409.67L306.84 410.54L306.90 411.42L306.98 412.29L307.08 413.16L307.21 414.03L307.35 414.90L307.52 415.77L307.72 416.65L307.95 417.52L308.22 418.39L308.52 419.26L308.87 420.13L309.25 421.00L309.67 421.88L310.12 422.75L310.61 423.62L311.13 424.49L311.67 425.36L312.23 426.23L312.80 427.11L313.37 427.98L313.93 428.85L314.47 429.72L314.98 430.59L315.45 431.46L315.87 432.34L316.23 433.21L316.52 434.08L316.73 434.95L316.86 435.82L316.90 436.69L316.84 437.56L316.66 438.44L316.37 439.31L315.97 440.18L315.48 441.05L314.92 441.92L314.31 442.80L313.65 443.67L312.97 444.54L312.29 445.41L311.63 446.28L310.99 447.15L310.38 448.03L309.82 448.90L309.31 449.77L308.86 450.64L308.46 451.51L308.11 452.38L307.81 453.25L307.56 454.13L307.35 455.00L307.18 455.87L307.05 456.74L306.94 457.61L306.85 458.49L306.79 459.36L306.74 460.23L306.70 461.10L306.60 461.10Z" fill="#4dbbd5" stroke="#333" stroke-width="0.6"/>
<path d="M304.6 427.6V432.0M303.7 427.6h1.8M303.7 432.0h1.8" stroke="#000" stroke-width="0.5"/>
<circle cx="304.6" cy="429.8" r="1.1" fill="#000"/>
<path d="M308.6 433.2V438.2M307.7 433.2h1.8M307.7 438.2h1.8" stroke="#000" stroke-width="0.5"/>
<circle cx="308.6" cy="435.2" r="1.1" fill="#000"/>
<text x="307.8" y="365.9" text-anchor="middle" font-size="6.8" fill="#222">****</text>
<text transform="translate(307.9,493.2) rotate(-45)" text-anchor="end" font-size="7.05" fill="#222">KIPAN(T=884,N=129)</text>
<path d="M329.7 385V475.8" stroke="#555" stroke-width="0.55"/>
<path d="M329.70 385.00L329.69 385.00L329.68 386.51L329.67 388.03L329.65 389.54L329.63 391.05L329.60 392.57L329.55 394.08L329.48 395.59L329.39 397.11L329.28 398.62L329.12 400.13L328.92 401.65L328.68 403.16L328.37 404.67L328.00 406.19L327.57 407.70L327.07 409.21L326.50 410.73L325.87 412.24L325.20 413.75L324.49 415.27L323.77 416.78L323.06 418.29L322.38 419.81L321.77 421.32L321.25 422.83L320.83 424.35L320.55 425.86L320.41 427.37L320.42 428.89L320.53 430.40L320.75 431.91L321.07 433.43L321.46 434.94L321.93 436.45L322.46 437.97L323.03 439.48L323.62 440.99L324.23 442.51L324.83 444.02L325.41 445.53L325.97 447.05L326.49 448.56L326.98 450.07L327.41 451.59L327.80 453.10L328.14 454.61L328.43 456.13L328.68 457.64L328.89 459.15L329.07 460.67L329.21 462.18L329.32 463.69L329.42 465.21L329.49 466.72L329.54 468.23L329.58 469.75L329.62 471.26L329.64 472.77L329.66 474.29L329.67 475.80L329.70 475.80Z" fill="#e64b35" stroke="#333" stroke-width="0.6"/>
<path d="M329.70 414.10L329.82 414.10L329.85 414.91L329.90 415.73L329.96 416.54L330.03 417.35L330.12 418.17L330.22 418.98L330.35 419.79L330.51 420.61L330.69 421.42L330.91 422.23L331.16 423.05L331.44 423.86L331.76 424.67L332.12 425.49L332.52 426.30L332.96 427.11L333.43 427.93L333.93 428.74L334.46 429.55L335.01 430.37L335.57 431.18L336.13 431.99L336.69 432.81L337.23 433.62L337.74 434.43L338.22 435.25L338.64 436.06L339.00 436.87L339.29 437.69L339.51 438.50L339.65 439.31L339.70 440.13L339.65 440.94L339.47 441.75L339.18 442.57L338.79 443.38L338.30 444.19L337.73 445.01L337.11 445.82L336.45 446.63L335.78 447.45L335.10 448.26L334.44 449.07L333.81 449.89L333.21 450.70L332.67 451.51L332.18 452.33L331.74 453.14L331.36 453.95L331.04 454.77L330.76 455.58L330.53 456.39L330.34 457.21L330.19 458.02L330.07 458.83L329.98 459.65L329.90 460.46L329.85 461.27L329.81 462.09L329.78 462.90L329.70 462.90Z" fill="#4dbbd5" stroke="#333" stroke-width="0.6"/>
<path d="M327.7 426.8V431.2M326.8 426.8h1.8M326.8 431.2h1.8" stroke="#000" stroke-width="0.5"/>
<circle cx="327.7" cy="429.0" r="1.1" fill="#000"/>
<path d="M331.7 436.7V441.7M330.8 436.7h1.8M330.8 441.7h1.8" stroke="#000" stroke-width="0.5"/>
<circle cx="331.7" cy="438.7" r="1.1" fill="#000"/>
<text x="330.9" y="365.9" text-anchor="middle" font-size="6.8" fill="#222">****</text>
<text transform="translate(331.0,493.2) rotate(-45)" text-anchor="end" font-size="7.05" fill="#222">STAD(T=414,N=36)</text>
<path d="M352.7 402.2V453.7" stroke="#555" stroke-width="0.55"/>
<path d="M352.70 402.20L352.69 402.20L352.68 403.06L352.68 403.92L352.66 404.77L352.64 405.63L352.62 406.49L352.59 407.35L352.54 408.21L352.47 409.07L352.39 409.93L352.28 410.78L352.14 411.64L351.96 412.50L351.74 413.36L351.47 414.22L351.14 415.07L350.76 415.93L350.32 416.79L349.82 417.65L349.26 418.51L348.66 419.37L348.01 420.22L347.34 421.08L346.65 421.94L345.98 422.80L345.33 423.66L344.73 424.52L344.21 425.38L343.78 426.23L343.46 427.09L343.27 427.95L343.20 428.81L343.27 429.67L343.46 430.52L343.78 431.38L344.21 432.24L344.73 433.10L345.32 433.96L345.96 434.82L346.63 435.68L347.31 436.53L347.98 437.39L348.63 438.25L349.23 439.11L349.79 439.97L350.29 440.82L350.73 441.68L351.12 442.54L351.44 443.40L351.71 444.26L351.94 445.12L352.12 445.97L352.27 446.83L352.38 447.69L352.46 448.55L352.53 449.41L352.58 450.27L352.62 451.12L352.64 451.98L352.66 452.84L352.67 453.70L352.70 453.70Z" fill="#e64b35" stroke="#333" stroke-width="0.6"/>
<path d="M352.70 414.10L352.73 414.10L352.74 414.71L352.76 415.32L352.78 415.93L352.82 416.53L352.87 417.14L352.93 417.75L353.01 418.36L353.12 418.97L353.25 419.58L353.42 420.18L353.63 420.79L353.89 421.40L354.19 422.01L354.55 422.62L354.97 423.23L355.44 423.83L355.97 424.44L356.55 425.05L357.17 425.66L357.83 426.27L358.51 426.88L359.19 427.48L359.85 428.09L360.48 428.70L361.06 429.31L361.56 429.92L361.97 430.53L362.27 431.13L362.45 431.74L362.50 432.35L362.43 432.96L362.23 433.57L361.92 434.18L361.50 434.78L360.99 435.39L360.41 436.00L359.78 436.61L359.12 437.22L358.45 437.83L357.78 438.43L357.13 439.04L356.51 439.65L355.94 440.26L355.42 440.87L354.95 441.48L354.54 442.08L354.18 442.69L353.88 443.30L353.63 443.91L353.42 444.52L353.25 445.12L353.12 445.73L353.01 446.34L352.93 446.95L352.87 447.56L352.82 448.17L352.79 448.78L352.76 449.38L352.74 449.99L352.73 450.60L352.70 450.60Z" fill="#4dbbd5" stroke="#333" stroke-width="0.6"/>
<path d="M350.7 427.6V432.0M349.8 427.6h1.8M349.8 432.0h1.8" stroke="#000" stroke-width="0.5"/>
<circle cx="350.7" cy="429.8" r="1.1" fill="#000"/>
<path d="M354.7 428.8V433.8M353.8 428.8h1.8M353.8 433.8h1.8" stroke="#000" stroke-width="0.5"/>
<circle cx="354.7" cy="430.8" r="1.1" fill="#000"/>
<text x="353.9" y="365.9" text-anchor="middle" font-size="6.8" fill="#222">****</text>
<text transform="translate(354.0,493.2) rotate(-45)" text-anchor="end" font-size="7.05" fill="#222">PRAD(T=495,N=52)</text>
<path d="M375.7 376.3V461.8" stroke="#555" stroke-width="0.55"/>
<path d="M375.70 376.30L375.69 376.30L375.68 377.73L375.67 379.15L375.65 380.57L375.63 382.00L375.60 383.43L375.56 384.85L375.51 386.28L375.44 387.70L375.35 389.12L375.23 390.55L375.08 391.98L374.89 393.40L374.66 394.82L374.39 396.25L374.07 397.68L373.69 399.10L373.26 400.53L372.78 401.95L372.25 403.38L371.68 404.80L371.08 406.23L370.46 407.65L369.84 409.07L369.24 410.50L368.67 411.93L368.15 413.35L367.70 414.78L367.34 416.20L367.08 417.62L366.93 419.05L366.90 420.48L367.00 421.90L367.20 423.32L367.52 424.75L367.93 426.18L368.42 427.60L368.97 429.03L369.57 430.45L370.19 431.88L370.81 433.30L371.42 434.73L372.01 436.15L372.56 437.57L373.06 439.00L373.52 440.43L373.92 441.85L374.26 443.27L374.56 444.70L374.80 446.12L375.01 447.55L375.17 448.98L375.30 450.40L375.41 451.83L375.48 453.25L375.54 454.68L375.59 456.10L375.62 457.52L375.65 458.95L375.66 460.38L375.68 461.80L375.70 461.80Z" fill="#e64b35" stroke="#333" stroke-width="0.6"/>
<path d="M375.70 401.80L375.78 401.80L375.81 402.54L375.85 403.28L375.90 404.02L375.96 404.76L376.04 405.50L376.13 406.24L376.25 406.98L376.39 407.72L376.56 408.46L376.77 409.20L377.00 409.94L377.28 410.68L377.59 411.42L377.95 412.16L378.35 412.90L378.79 413.64L379.27 414.38L379.79 415.12L380.33 415.86L380.90 416.60L381.49 417.34L382.07 418.08L382.66 418.82L383.22 419.56L383.76 420.30L384.25 421.04L384.69 421.78L385.05 422.52L385.35 423.26L385.56 424.00L385.67 424.74L385.70 425.48L385.60 426.22L385.38 426.96L385.04 427.70L384.59 428.44L384.06 429.18L383.45 429.92L382.80 430.66L382.12 431.40L381.43 432.14L380.74 432.88L380.08 433.62L379.46 434.36L378.88 435.10L378.36 435.84L377.90 436.58L377.49 437.32L377.14 438.06L376.84 438.80L376.59 439.54L376.39 440.28L376.23 441.02L376.10 441.76L375.99 442.50L375.92 443.24L375.86 443.98L375.81 444.72L375.78 445.46L375.75 446.20L375.70 446.20Z" fill="#4dbbd5" stroke="#333" stroke-width="0.6"/>
<path d="M373.7 418.9V423.3M372.8 418.9h1.8M372.8 423.3h1.8" stroke="#000" stroke-width="0.5"/>
<circle cx="373.7" cy="421.1" r="1.1" fill="#000"/>
<path d="M377.7 421.8V426.8M376.8 421.8h1.8M376.8 426.8h1.8" stroke="#000" stroke-width="0.5"/>
<circle cx="377.7" cy="423.8" r="1.1" fill="#000"/>
<text x="376.9" y="365.9" text-anchor="middle" font-size="6.8" fill="#222">****</text>
<text transform="translate(377.0,493.2) rotate(-45)" text-anchor="end" font-size="7.05" fill="#222">UCEC(T=180,N=23)</text>
<path d="M398.4 385V485.8" stroke="#555" stroke-width="0.55"/>
<path d="M398.40 385.00L398.34 385.00L398.31 386.68L398.26 388.36L398.20 390.04L398.11 391.72L397.99 393.40L397.83 395.08L397.62 396.76L397.36 398.44L397.03 400.12L396.63 401.80L396.16 403.48L395.61 405.16L395.00 406.84L394.34 408.52L393.63 410.20L392.91 411.88L392.19 413.56L391.52 415.24L390.91 416.92L390.40 418.60L390.02 420.28L389.78 421.96L389.70 423.64L389.81 425.32L390.13 427.00L390.64 428.68L391.29 430.36L392.04 432.04L392.86 433.72L393.69 435.40L394.49 437.08L395.24 438.76L395.91 440.44L396.48 442.12L396.96 443.80L397.34 445.48L397.65 447.16L397.87 448.84L398.04 450.52L398.16 452.20L398.25 453.88L398.30 455.56L398.34 457.24L398.36 458.92L398.38 460.60L398.39 462.28L398.39 463.96L398.40 465.64L398.40 467.32L398.40 469.00L398.40 470.68L398.40 472.36L398.40 474.04L398.40 475.72L398.40 477.40L398.40 479.08L398.40 480.76L398.40 482.44L398.40 484.12L398.40 485.80L398.40 485.80Z" fill="#e64b35" stroke="#333" stroke-width="0.6"/>
<path d="M398.40 389.50L398.69 389.50L398.76 390.78L398.83 392.06L398.92 393.35L399.03 394.63L399.15 395.91L399.29 397.19L399.45 398.47L399.63 399.75L399.84 401.03L400.06 402.32L400.32 403.60L400.60 404.88L400.90 406.16L401.23 407.44L401.59 408.72L401.97 410.01L402.37 411.29L402.79 412.57L403.23 413.85L403.68 415.13L404.14 416.42L404.60 417.70L405.06 418.98L405.52 420.26L405.96 421.54L406.38 422.82L406.77 424.11L407.14 425.39L407.47 426.67L407.75 427.95L407.99 429.23L408.17 430.51L408.31 431.79L408.38 433.08L408.40 434.36L408.31 435.64L408.10 436.92L407.78 438.20L407.35 439.49L406.84 440.77L406.25 442.05L405.62 443.33L404.95 444.61L404.28 445.89L403.60 447.17L402.95 448.46L402.33 449.74L401.75 451.02L401.22 452.30L400.74 453.58L400.32 454.87L399.96 456.15L399.65 457.43L399.39 458.71L399.17 459.99L398.99 461.27L398.85 462.55L398.74 463.84L398.65 465.12L398.59 466.40L398.40 466.40Z" fill="#4dbbd5" stroke="#333" stroke-width="0.6"/>
<path d="M396.4 422.4V426.8M395.5 422.4h1.8M395.5 426.8h1.8" stroke="#000" stroke-width="0.5"/>
<circle cx="396.4" cy="424.6" r="1.1" fill="#000"/>
<path d="M400.4 430.6V435.6M399.5 430.6h1.8M399.5 435.6h1.8" stroke="#000" stroke-width="0.5"/>
<circle cx="400.4" cy="432.6" r="1.1" fill="#000"/>
<text x="399.6" y="365.9" text-anchor="middle" font-size="6.8" fill="#222">****</text>
<text transform="translate(399.7,493.2) rotate(-45)" text-anchor="end" font-size="7.05" fill="#222">HNSC(T=518,N=44)</text>
<path d="M421.6 386.8V484" stroke="#555" stroke-width="0.55"/>
<path d="M421.60 386.80L421.59 386.80L421.58 388.42L421.57 390.04L421.55 391.66L421.52 393.28L421.48 394.90L421.43 396.52L421.35 398.14L421.24 399.76L421.11 401.38L420.93 403.00L420.70 404.62L420.41 406.24L420.06 407.86L419.65 409.48L419.16 411.10L418.61 412.72L417.99 414.34L417.33 415.96L416.63 417.58L415.92 419.20L415.23 420.82L414.57 422.44L413.98 424.06L413.49 425.68L413.12 427.30L412.88 428.92L412.80 430.54L412.87 432.16L413.10 433.78L413.46 435.40L413.94 437.02L414.52 438.64L415.18 440.26L415.87 441.88L416.58 443.50L417.28 445.12L417.95 446.74L418.56 448.36L419.12 449.98L419.61 451.60L420.03 453.22L420.39 454.84L420.68 456.46L420.91 458.08L421.09 459.70L421.24 461.32L421.34 462.94L421.42 464.56L421.48 466.18L421.52 467.80L421.55 469.42L421.56 471.04L421.58 472.66L421.59 474.28L421.59 475.90L421.59 477.52L421.60 479.14L421.60 480.76L421.60 482.38L421.60 484.00L421.60 484.00Z" fill="#e64b35" stroke="#333" stroke-width="0.6"/>
<path d="M421.60 410.60L421.72 410.60L421.75 411.41L421.80 412.23L421.86 413.04L421.93 413.85L422.02 414.67L422.13 415.48L422.26 416.29L422.42 417.11L422.60 417.92L422.82 418.73L423.07 419.55L423.36 420.36L423.68 421.17L424.05 421.99L424.45 422.80L424.89 423.61L425.37 424.43L425.87 425.24L426.41 426.05L426.96 426.87L427.53 427.68L428.10 428.49L428.66 429.31L429.21 430.12L429.72 430.93L430.20 431.75L430.63 432.56L430.99 433.37L431.29 434.19L431.51 435.00L431.65 435.81L431.70 436.63L431.65 437.44L431.47 438.25L431.18 439.07L430.78 439.88L430.28 440.69L429.71 441.51L429.09 442.32L428.42 443.13L427.74 443.95L427.05 444.76L426.39 445.57L425.75 446.39L425.15 447.20L424.60 448.01L424.10 448.83L423.66 449.64L423.28 450.45L422.95 451.27L422.67 452.08L422.44 452.89L422.25 453.71L422.10 454.52L421.98 455.33L421.88 456.15L421.81 456.96L421.75 457.77L421.71 458.59L421.68 459.40L421.60 459.40Z" fill="#4dbbd5" stroke="#333" stroke-width="0.6"/>
<path d="M419.6 429.4V433.8M418.7 429.4h1.8M418.7 433.8h1.8" stroke="#000" stroke-width="0.5"/>
<circle cx="419.6" cy="431.6" r="1.1" fill="#000"/>
<path d="M423.6 433.2V438.2M422.7 433.2h1.8M422.7 438.2h1.8" stroke="#000" stroke-width="0.5"/>
<circle cx="423.6" cy="435.2" r="1.1" fill="#000"/>
<text x="422.8" y="365.9" text-anchor="middle" font-size="6.8" fill="#222">****</text>
<text transform="translate(422.9,493.2) rotate(-45)" text-anchor="end" font-size="7.05" fill="#222">KIRC(T=530,N=129)</text>
<path d="M444.5 387.7V468.3" stroke="#555" stroke-width="0.55"/>
<path d="M444.50 387.70L444.48 387.70L444.46 389.04L444.44 390.39L444.41 391.73L444.37 393.07L444.31 394.42L444.23 395.76L444.11 397.10L443.96 398.45L443.76 399.79L443.51 401.13L443.19 402.48L442.81 403.82L442.35 405.16L441.82 406.51L441.22 407.85L440.56 409.19L439.86 410.54L439.13 411.88L438.40 413.22L437.70 414.57L437.05 415.91L436.50 417.25L436.06 418.60L435.76 419.94L435.61 421.28L435.62 422.63L435.76 423.97L436.01 425.31L436.37 426.66L436.82 428.00L437.34 429.34L437.92 430.69L438.54 432.03L439.17 433.37L439.80 434.72L440.41 436.06L440.99 437.40L441.53 438.75L442.02 440.09L442.46 441.43L442.85 442.78L443.18 444.12L443.45 445.46L443.69 446.81L443.87 448.15L444.03 449.49L444.15 450.84L444.24 452.18L444.31 453.52L444.36 454.87L444.40 456.21L444.43 457.55L444.45 458.90L444.47 460.24L444.48 461.58L444.49 462.93L444.49 464.27L444.49 465.61L444.50 466.96L444.50 468.30L444.50 468.30Z" fill="#e64b35" stroke="#333" stroke-width="0.6"/>
<path d="M444.50 408.80L444.58 408.80L444.61 409.51L444.65 410.22L444.69 410.94L444.75 411.65L444.82 412.36L444.91 413.07L445.02 413.78L445.15 414.49L445.30 415.20L445.48 415.92L445.70 416.63L445.95 417.34L446.23 418.05L446.55 418.76L446.92 419.48L447.32 420.19L447.75 420.90L448.23 421.61L448.73 422.32L449.26 423.03L449.81 423.75L450.38 424.46L450.95 425.17L451.50 425.88L452.05 426.59L452.56 427.30L453.03 428.01L453.46 428.73L453.82 429.44L454.11 430.15L454.32 430.86L454.45 431.57L454.50 432.29L454.43 433.00L454.20 433.71L453.84 434.42L453.35 435.13L452.76 435.84L452.10 436.56L451.38 437.27L450.63 437.98L449.88 438.69L449.15 439.40L448.46 440.11L447.82 440.82L447.24 441.54L446.73 442.25L446.28 442.96L445.90 443.67L445.59 444.38L445.33 445.10L445.13 445.81L444.96 446.52L444.84 447.23L444.74 447.94L444.67 448.65L444.62 449.37L444.58 450.08L444.56 450.79L444.54 451.50L444.50 451.50Z" fill="#4dbbd5" stroke="#333" stroke-width="0.6"/>
<path d="M442.5 420.6V425.0M441.6 420.6h1.8M441.6 425.0h1.8" stroke="#000" stroke-width="0.5"/>
<circle cx="442.5" cy="422.8" r="1.1" fill="#000"/>
<path d="M446.5 428.8V433.8M445.6 428.8h1.8M445.6 433.8h1.8" stroke="#000" stroke-width="0.5"/>
<circle cx="446.5" cy="430.8" r="1.1" fill="#000"/>
<text x="445.7" y="365.9" text-anchor="middle" font-size="6.8" fill="#222">****</text>
<text transform="translate(445.8,493.2) rotate(-45)" text-anchor="end" font-size="7.05" fill="#222">LUSC(T=498,N=109)</text>
<path d="M467.6 387.7V462.1" stroke="#555" stroke-width="0.55"/>
<path d="M467.60 387.70L467.59 387.70L467.59 388.94L467.58 390.18L467.57 391.42L467.55 392.66L467.53 393.90L467.50 395.14L467.46 396.38L467.41 397.62L467.34 398.86L467.25 400.10L467.13 401.34L466.98 402.58L466.80 403.82L466.58 405.06L466.31 406.30L465.99 407.54L465.62 408.78L465.19 410.02L464.72 411.26L464.20 412.50L463.64 413.74L463.05 414.98L462.44 416.22L461.82 417.46L461.22 418.70L460.66 419.94L460.14 421.18L459.70 422.42L459.34 423.66L459.08 424.90L458.94 426.14L458.90 427.38L458.98 428.62L459.15 429.86L459.42 431.10L459.77 432.34L460.19 433.58L460.67 434.82L461.20 436.06L461.76 437.30L462.33 438.54L462.90 439.78L463.45 441.02L463.99 442.26L464.49 443.50L464.95 444.74L465.37 445.98L465.75 447.22L466.08 448.46L466.37 449.70L466.61 450.94L466.81 452.18L466.98 453.42L467.12 454.66L467.24 455.90L467.32 457.14L467.39 458.38L467.45 459.62L467.49 460.86L467.52 462.10L467.60 462.10Z" fill="#e64b35" stroke="#333" stroke-width="0.6"/>
<path d="M467.60 415.00L467.69 415.00L467.72 415.71L467.76 416.42L467.80 417.13L467.86 417.84L467.93 418.55L468.01 419.26L468.11 419.97L468.23 420.68L468.38 421.39L468.55 422.10L468.74 422.81L468.97 423.52L469.23 424.23L469.52 424.94L469.85 425.65L470.21 426.36L470.61 427.07L471.04 427.78L471.49 428.49L471.98 429.20L472.48 429.91L473.00 430.62L473.53 431.33L474.06 432.04L474.58 432.75L475.09 433.46L475.56 434.17L476.00 434.88L476.39 435.59L476.73 436.30L477.00 437.01L477.21 437.72L477.34 438.43L477.40 439.14L477.35 439.85L477.13 440.56L476.76 441.27L476.24 441.98L475.62 442.69L474.90 443.40L474.14 444.11L473.35 444.82L472.57 445.53L471.82 446.24L471.12 446.95L470.49 447.66L469.93 448.37L469.44 449.08L469.03 449.79L468.69 450.50L468.42 451.21L468.21 451.92L468.04 452.63L467.91 453.34L467.82 454.05L467.75 454.76L467.70 455.47L467.67 456.18L467.64 456.89L467.63 457.60L467.60 457.60Z" fill="#4dbbd5" stroke="#333" stroke-width="0.6"/>
<path d="M465.6 425.9V430.3M464.7 425.9h1.8M464.7 430.3h1.8" stroke="#000" stroke-width="0.5"/>
<circle cx="465.6" cy="428.1" r="1.1" fill="#000"/>
<path d="M469.6 435.8V440.8M468.7 435.8h1.8M468.7 440.8h1.8" stroke="#000" stroke-width="0.5"/>
<circle cx="469.6" cy="437.8" r="1.1" fill="#000"/>
<text x="468.8" y="365.9" text-anchor="middle" font-size="6.8" fill="#222">****</text>
<text transform="translate(468.9,493.2) rotate(-45)" text-anchor="end" font-size="7.05" fill="#222">LIHC(T=369,N=50)</text>
<path d="M490.6 400.8V465.6" stroke="#555" stroke-width="0.55"/>
<path d="M490.60 400.80L490.58 400.80L490.57 401.88L490.56 402.96L490.54 404.04L490.51 405.12L490.46 406.20L490.40 407.28L490.32 408.36L490.21 409.44L490.07 410.52L489.88 411.60L489.65 412.68L489.36 413.76L489.01 414.84L488.59 415.92L488.10 417.00L487.54 418.08L486.93 419.16L486.26 420.24L485.55 421.32L484.83 422.40L484.11 423.48L483.42 424.56L482.79 425.64L482.24 426.72L481.80 427.80L481.49 428.88L481.33 429.96L481.31 431.04L481.45 432.12L481.74 433.20L482.15 434.28L482.68 435.36L483.30 436.44L483.98 437.52L484.70 438.60L485.42 439.68L486.13 440.76L486.81 441.84L487.43 442.92L488.00 444.00L488.50 445.08L488.93 446.16L489.30 447.24L489.60 448.32L489.84 449.40L490.04 450.48L490.19 451.56L490.30 452.64L490.39 453.72L490.45 454.80L490.50 455.88L490.53 456.96L490.56 458.04L490.57 459.12L490.58 460.20L490.59 461.28L490.59 462.36L490.60 463.44L490.60 464.52L490.60 465.60L490.60 465.60Z" fill="#e64b35" stroke="#333" stroke-width="0.6"/>
<path d="M490.60 414.10L490.62 414.10L490.63 414.67L490.65 415.23L490.67 415.80L490.69 416.36L490.73 416.93L490.78 417.49L490.85 418.06L490.94 418.62L491.05 419.19L491.20 419.75L491.38 420.31L491.60 420.88L491.86 421.44L492.18 422.01L492.56 422.58L492.99 423.14L493.47 423.71L494.02 424.27L494.61 424.84L495.24 425.40L495.91 425.97L496.59 426.53L497.27 427.10L497.93 427.66L498.56 428.23L499.13 428.79L499.62 429.36L500.01 429.92L500.29 430.49L500.46 431.05L500.50 431.62L500.39 432.18L500.14 432.75L499.75 433.31L499.25 433.88L498.65 434.44L497.97 435.00L497.25 435.57L496.51 436.13L495.77 436.70L495.06 437.26L494.39 437.83L493.76 438.39L493.20 438.96L492.71 439.53L492.29 440.09L491.93 440.66L491.63 441.22L491.38 441.79L491.19 442.35L491.03 442.92L490.92 443.48L490.83 444.05L490.76 444.61L490.71 445.18L490.68 445.74L490.65 446.31L490.63 446.87L490.62 447.44L490.61 448.00L490.60 448.00Z" fill="#4dbbd5" stroke="#333" stroke-width="0.6"/>
<path d="M488.6 429.4V433.8M487.7 429.4h1.8M487.7 433.8h1.8" stroke="#000" stroke-width="0.5"/>
<circle cx="488.6" cy="431.6" r="1.1" fill="#000"/>
<path d="M492.6 428.0V433.0M491.7 428.0h1.8M491.7 433.0h1.8" stroke="#000" stroke-width="0.5"/>
<circle cx="492.6" cy="430.0" r="1.1" fill="#000"/>
<text x="491.8" y="365.9" text-anchor="middle" font-size="6.8" fill="#222">**</text>
<text transform="translate(491.9,493.2) rotate(-45)" text-anchor="end" font-size="7.05" fill="#222">THCA(T=504,N=59)</text>
<path d="M513.7 401.7V447.2" stroke="#555" stroke-width="0.55"/>
<path d="M513.70 401.70L513.69 401.70L513.68 402.46L513.67 403.22L513.65 403.97L513.62 404.73L513.59 405.49L513.54 406.25L513.47 407.01L513.38 407.77L513.27 408.52L513.11 409.28L512.92 410.04L512.68 410.80L512.39 411.56L512.03 412.32L511.61 413.07L511.13 413.83L510.59 414.59L509.99 415.35L509.34 416.11L508.66 416.87L507.96 417.62L507.26 418.38L506.59 419.14L505.97 419.90L505.43 420.66L504.98 421.42L504.65 422.18L504.46 422.93L504.40 423.69L504.47 424.45L504.65 425.21L504.94 425.97L505.33 426.72L505.79 427.48L506.32 428.24L506.90 429.00L507.51 429.76L508.13 430.52L508.76 431.27L509.36 432.03L509.94 432.79L510.49 433.55L510.98 434.31L511.43 435.07L511.83 435.82L512.18 436.58L512.47 437.34L512.73 438.10L512.94 438.86L513.11 439.62L513.25 440.38L513.36 441.13L513.44 441.89L513.51 442.65L513.56 443.41L513.60 444.17L513.63 444.93L513.65 445.68L513.67 446.44L513.68 447.20L513.70 447.20Z" fill="#e64b35" stroke="#333" stroke-width="0.6"/>
<path d="M513.70 417.60L513.70 417.60L513.70 418.08L513.71 418.55L513.71 419.03L513.72 419.51L513.73 419.98L513.75 420.46L513.78 420.94L513.83 421.41L513.89 421.89L513.98 422.37L514.10 422.84L514.26 423.32L514.48 423.80L514.75 424.27L515.09 424.75L515.51 425.23L516.01 425.70L516.59 426.18L517.25 426.66L517.98 427.13L518.76 427.61L519.56 428.09L520.36 428.56L521.13 429.04L521.83 429.52L522.42 429.99L522.88 430.47L523.18 430.95L523.30 431.42L523.25 431.90L523.05 432.38L522.70 432.85L522.24 433.33L521.67 433.81L521.02 434.28L520.32 434.76L519.59 435.24L518.86 435.71L518.15 436.19L517.48 436.67L516.85 437.14L516.29 437.62L515.80 438.10L515.37 438.57L515.01 439.05L514.71 439.53L514.47 440.00L514.27 440.48L514.12 440.96L514.01 441.43L513.92 441.91L513.85 442.39L513.81 442.86L513.77 443.34L513.75 443.82L513.73 444.29L513.72 444.77L513.71 445.25L513.71 445.72L513.71 446.20L513.70 446.20Z" fill="#4dbbd5" stroke="#333" stroke-width="0.6"/>
<path d="M511.7 422.4V426.8M510.8 422.4h1.8M510.8 426.8h1.8" stroke="#000" stroke-width="0.5"/>
<circle cx="511.7" cy="424.6" r="1.1" fill="#000"/>
<path d="M515.7 428.0V433.0M514.8 428.0h1.8M514.8 433.0h1.8" stroke="#000" stroke-width="0.5"/>
<circle cx="515.7" cy="430.0" r="1.1" fill="#000"/>
<text x="514.9" y="365.9" text-anchor="middle" font-size="6.8" fill="#222">****</text>
<text transform="translate(515.0,493.2) rotate(-45)" text-anchor="end" font-size="7.05" fill="#222">READ(T=92,N=10)</text>
<path d="M536.5 382.9V480.5" stroke="#555" stroke-width="0.55"/>
<path d="M536.50 382.90L536.48 382.90L536.47 384.53L536.45 386.15L536.42 387.78L536.38 389.41L536.32 391.03L536.24 392.66L536.14 394.29L536.00 395.91L535.81 397.54L535.57 399.17L535.27 400.79L534.91 402.42L534.47 404.05L533.96 405.67L533.38 407.30L532.74 408.93L532.03 410.55L531.30 412.18L530.54 413.81L529.80 415.43L529.10 417.06L528.48 418.69L527.95 420.31L527.55 421.94L527.29 423.57L527.20 425.19L527.26 426.82L527.44 428.45L527.74 430.07L528.16 431.70L528.66 433.33L529.23 434.95L529.86 436.58L530.52 438.21L531.18 439.83L531.84 441.46L532.48 443.09L533.07 444.71L533.62 446.34L534.12 447.97L534.55 449.59L534.93 451.22L535.25 452.85L535.52 454.47L535.75 456.10L535.93 457.73L536.07 459.35L536.18 460.98L536.27 462.61L536.33 464.23L536.38 465.86L536.42 467.49L536.44 469.11L536.46 470.74L536.47 472.37L536.48 473.99L536.49 475.62L536.49 477.25L536.50 478.87L536.50 480.50L536.50 480.50Z" fill="#e64b35" stroke="#333" stroke-width="0.6"/>
<path d="M536.5 422C540.5 421.5 544.5 421.8 546.1 423C543.5 424 543.5 424.8 546.1 426C543.5 427 539.5 427.5 536.5 428.5Z" fill="#4dbbd5" stroke="#333" stroke-width="0.6"/>
<path d="M534.5 424.1V428.5M533.6 424.1h1.8M533.6 428.5h1.8" stroke="#000" stroke-width="0.5"/>
<circle cx="534.5" cy="426.3" r="1.1" fill="#000"/>
<circle cx="538.5" cy="424.0" r="1.1" fill="#000"/>
<path d="M536.0 364.4h1" stroke="#333" stroke-width="0.8"/>
<text transform="translate(537.8,493.2) rotate(-45)" text-anchor="end" font-size="7.05" fill="#222">PAAD(T=178,N=4)</text>
<path d="M559.4 405.7V461.2" stroke="#555" stroke-width="0.55"/>
<path d="M559.40 405.70L559.40 405.70L559.39 406.62L559.39 407.55L559.38 408.47L559.37 409.40L559.35 410.32L559.32 411.25L559.28 412.18L559.23 413.10L559.15 414.02L559.04 414.95L558.90 415.88L558.71 416.80L558.47 417.72L558.17 418.65L557.80 419.57L557.36 420.50L556.84 421.43L556.25 422.35L555.60 423.27L554.90 424.20L554.16 425.12L553.42 426.05L552.69 426.97L552.01 427.90L551.41 428.82L550.91 429.75L550.55 430.68L550.35 431.60L550.30 432.52L550.41 433.45L550.66 434.38L551.04 435.30L551.54 436.22L552.12 437.15L552.77 438.07L553.46 439.00L554.16 439.93L554.85 440.85L555.52 441.77L556.14 442.70L556.70 443.62L557.21 444.55L557.65 445.47L558.02 446.40L558.33 447.32L558.58 448.25L558.79 449.18L558.95 450.10L559.07 451.02L559.17 451.95L559.24 452.88L559.29 453.80L559.32 454.72L559.35 455.65L559.37 456.57L559.38 457.50L559.39 458.43L559.39 459.35L559.39 460.27L559.40 461.20L559.40 461.20Z" fill="#e64b35" stroke="#333" stroke-width="0.6"/>
<path d="M559.4 430.9C562.4 431.5 563.4 432.6 564.4 433.5C566.4 434.2 567.9 434.8 569.1999999999999 435.3C566.4 435.8 563.4 436.2 559.4 436.9Z" fill="#4dbbd5" stroke="#333" stroke-width="0.6"/>
<path d="M557.4 431.1V435.5M556.5 431.1h1.8M556.5 435.5h1.8" stroke="#000" stroke-width="0.5"/>
<circle cx="557.4" cy="433.3" r="1.1" fill="#000"/>
<circle cx="561.4" cy="434.2" r="1.1" fill="#000"/>
<path d="M558.9 364.4h1" stroke="#333" stroke-width="0.8"/>
<text transform="translate(560.7,493.2) rotate(-45)" text-anchor="end" font-size="7.05" fill="#222">PCPG(T=177,N=3)</text>
<path d="M582.3 385.9V450.7" stroke="#555" stroke-width="0.55"/>
<path d="M582.30 385.90L582.29 385.90L582.28 386.98L582.27 388.06L582.25 389.14L582.23 390.22L582.19 391.30L582.15 392.38L582.08 393.46L582.00 394.54L581.88 395.62L581.74 396.70L581.55 397.78L581.32 398.86L581.04 399.94L580.69 401.02L580.29 402.10L579.83 403.18L579.30 404.26L578.71 405.34L578.08 406.42L577.40 407.50L576.71 408.58L576.02 409.66L575.34 410.74L574.72 411.82L574.15 412.90L573.69 413.98L573.33 415.06L573.10 416.14L573.00 417.22L573.02 418.30L573.10 419.38L573.24 420.46L573.44 421.54L573.68 422.62L573.98 423.70L574.32 424.78L574.69 425.86L575.10 426.94L575.52 428.02L575.97 429.10L576.42 430.18L576.88 431.26L577.33 432.34L577.77 433.42L578.21 434.50L578.62 435.58L579.02 436.66L579.39 437.74L579.73 438.82L580.05 439.90L580.35 440.98L580.61 442.06L580.85 443.14L581.06 444.22L581.25 445.30L581.42 446.38L581.56 447.46L581.69 448.54L581.80 449.62L581.89 450.70L582.30 450.70Z" fill="#e64b35" stroke="#333" stroke-width="0.6"/>
<path d="M582.30 394.80L582.51 394.80L582.56 395.75L582.62 396.69L582.69 397.63L582.77 398.58L582.86 399.53L582.97 400.47L583.09 401.42L583.24 402.36L583.40 403.31L583.59 404.25L583.79 405.19L584.02 406.14L584.28 407.09L584.56 408.03L584.87 408.98L585.20 409.92L585.55 410.87L585.93 411.81L586.33 412.75L586.75 413.70L587.18 414.64L587.62 415.59L588.08 416.54L588.53 417.48L588.99 418.43L589.43 419.37L589.87 420.31L590.28 421.26L590.67 422.20L591.03 423.15L591.35 424.10L591.64 425.04L591.87 425.99L592.06 426.93L592.20 427.88L592.28 428.82L592.30 429.76L592.19 430.71L591.90 431.66L591.45 432.60L590.85 433.55L590.14 434.49L589.36 435.44L588.53 436.38L587.70 437.32L586.89 438.27L586.13 439.22L585.44 440.16L584.82 441.11L584.29 442.05L583.84 443.00L583.47 443.94L583.17 444.88L582.94 445.83L582.76 446.77L582.62 447.72L582.52 448.67L582.45 449.61L582.40 450.56L582.37 451.50L582.30 451.50Z" fill="#4dbbd5" stroke="#333" stroke-width="0.6"/>
<path d="M580.3 416.2V420.6M579.4 416.2h1.8M579.4 420.6h1.8" stroke="#000" stroke-width="0.5"/>
<circle cx="580.3" cy="418.4" r="1.1" fill="#000"/>
<path d="M584.3 426.2V431.2M583.4 426.2h1.8M583.4 431.2h1.8" stroke="#000" stroke-width="0.5"/>
<circle cx="584.3" cy="428.2" r="1.1" fill="#000"/>
<text x="583.5" y="365.9" text-anchor="middle" font-size="6.8" fill="#222">****</text>
<text transform="translate(583.6,493.2) rotate(-45)" text-anchor="end" font-size="7.05" fill="#222">BLCA(T=407,N=19)</text>
<path d="M605.4 396.4V474.7" stroke="#555" stroke-width="0.55"/>
<path d="M605.40 396.40L605.40 396.40L605.40 397.70L605.40 399.01L605.40 400.31L605.40 401.62L605.40 402.92L605.39 404.23L605.39 405.53L605.38 406.84L605.37 408.14L605.36 409.45L605.34 410.75L605.31 412.06L605.28 413.36L605.22 414.67L605.15 415.97L605.06 417.28L604.93 418.58L604.78 419.89L604.58 421.19L604.33 422.50L604.03 423.81L603.67 425.11L603.26 426.41L602.78 427.72L602.24 429.02L601.65 430.33L601.01 431.63L600.35 432.94L599.66 434.25L598.99 435.55L598.34 436.85L597.74 438.16L597.21 439.46L596.78 440.77L596.45 442.07L596.26 443.38L596.20 444.69L596.27 445.99L596.45 447.29L596.75 448.60L597.14 449.90L597.62 451.21L598.16 452.51L598.75 453.82L599.38 455.12L600.01 456.43L600.64 457.74L601.26 459.04L601.83 460.34L602.37 461.65L602.86 462.95L603.30 464.26L603.69 465.56L604.02 466.87L604.30 468.18L604.54 469.48L604.73 470.78L604.89 472.09L605.01 473.39L605.11 474.70L605.40 474.70Z" fill="#e64b35" stroke="#333" stroke-width="0.6"/>
<path d="M605.40 408.80L605.54 408.80L605.58 409.73L605.64 410.66L605.71 411.59L605.80 412.52L605.91 413.45L606.04 414.38L606.20 415.31L606.39 416.24L606.62 417.17L606.88 418.10L607.19 419.03L607.53 419.96L607.92 420.89L608.35 421.82L608.82 422.75L609.33 423.68L609.87 424.61L610.43 425.54L611.01 426.47L611.61 427.40L612.20 428.33L612.77 429.26L613.32 430.19L613.82 431.12L614.28 432.05L614.67 432.98L614.98 433.91L615.21 434.84L615.35 435.77L615.40 436.70L615.35 437.63L615.21 438.56L614.98 439.49L614.67 440.42L614.28 441.35L613.82 442.28L613.32 443.21L612.77 444.14L612.20 445.07L611.61 446.00L611.01 446.93L610.43 447.86L609.87 448.79L609.33 449.72L608.82 450.65L608.35 451.58L607.92 452.51L607.53 453.44L607.19 454.37L606.88 455.30L606.62 456.23L606.39 457.16L606.20 458.09L606.04 459.02L605.91 459.95L605.80 460.88L605.71 461.81L605.64 462.74L605.58 463.67L605.54 464.60L605.40 464.60Z" fill="#4dbbd5" stroke="#333" stroke-width="0.6"/>
<path d="M603.4 443.4V447.8M602.5 443.4h1.8M602.5 447.8h1.8" stroke="#000" stroke-width="0.5"/>
<circle cx="603.4" cy="445.6" r="1.1" fill="#000"/>
<path d="M607.4 433.2V438.2M606.5 433.2h1.8M606.5 438.2h1.8" stroke="#000" stroke-width="0.5"/>
<circle cx="607.4" cy="435.2" r="1.1" fill="#000"/>
<text x="606.6" y="365.9" text-anchor="middle" font-size="6.8" fill="#222">****</text>
<text transform="translate(606.7,493.2) rotate(-45)" text-anchor="end" font-size="7.05" fill="#222">KICH(T=66,N=129)</text>
<path d="M628.4 403.4V437" stroke="#555" stroke-width="0.55"/>
<path d="M628.40 403.40L628.32 403.40L628.29 403.96L628.25 404.52L628.20 405.08L628.14 405.64L628.07 406.20L627.97 406.76L627.86 407.32L627.72 407.88L627.55 408.44L627.35 409.00L627.12 409.56L626.86 410.12L626.55 410.68L626.21 411.24L625.83 411.80L625.41 412.36L624.95 412.92L624.46 413.48L623.94 414.04L623.41 414.60L622.86 415.16L622.31 415.72L621.77 416.28L621.25 416.84L620.76 417.40L620.32 417.96L619.93 418.52L619.61 419.08L619.36 419.64L619.19 420.20L619.11 420.76L619.12 421.32L619.25 421.88L619.49 422.44L619.84 423.00L620.28 423.56L620.80 424.12L621.37 424.68L621.99 425.24L622.63 425.80L623.27 426.36L623.90 426.92L624.50 427.48L625.07 428.04L625.59 428.60L626.06 429.16L626.47 429.72L626.84 430.28L627.15 430.84L627.41 431.40L627.63 431.96L627.80 432.52L627.95 433.08L628.06 433.64L628.15 434.20L628.22 434.76L628.27 435.32L628.31 435.88L628.33 436.44L628.35 437.00L628.40 437.00Z" fill="#e64b35" stroke="#333" stroke-width="0.6"/>
<path d="M628.40 424.90L628.40 424.90L628.40 425.34L628.40 425.79L628.40 426.23L628.41 426.67L628.41 427.12L628.42 427.56L628.43 428.00L628.46 428.45L628.50 428.89L628.55 429.33L628.64 429.78L628.77 430.22L628.95 430.66L629.20 431.11L629.53 431.55L629.96 431.99L630.49 432.44L631.14 432.88L631.89 433.32L632.73 433.77L633.64 434.21L634.57 434.65L635.47 435.10L636.31 435.54L637.01 435.98L637.53 436.43L637.83 436.87L637.90 437.31L637.79 437.76L637.54 438.20L637.17 438.64L636.69 439.09L636.11 439.53L635.47 439.97L634.79 440.42L634.08 440.86L633.38 441.30L632.70 441.75L632.05 442.19L631.46 442.63L630.92 443.08L630.45 443.52L630.04 443.96L629.69 444.41L629.40 444.85L629.17 445.29L628.98 445.74L628.83 446.18L628.71 446.62L628.63 447.07L628.56 447.51L628.51 447.95L628.48 448.40L628.45 448.84L628.43 449.28L628.42 449.73L628.41 450.17L628.41 450.61L628.41 451.06L628.40 451.50L628.40 451.50Z" fill="#4dbbd5" stroke="#333" stroke-width="0.6"/>
<path d="M626.4 419.8V424.2M625.5 419.8h1.8M625.5 424.2h1.8" stroke="#000" stroke-width="0.5"/>
<circle cx="626.4" cy="422.0" r="1.1" fill="#000"/>
<path d="M630.4 433.7V438.7M629.5 433.7h1.8M629.5 438.7h1.8" stroke="#000" stroke-width="0.5"/>
<circle cx="630.4" cy="435.7" r="1.1" fill="#000"/>
<text x="629.6" y="365.9" text-anchor="middle" font-size="6.8" fill="#222">****</text>
<text transform="translate(629.7,493.2) rotate(-45)" text-anchor="end" font-size="7.05" fill="#222">CHOL(T=36,N=9)</text>
<rect x="37.5" y="356.3" width="608.1" height="131.89999999999998" fill="none" stroke="#444" stroke-width="0.9"/>
<path d="M33.9 356.3H37.5M35.0 488.2H37.5" stroke="#444" stroke-width="0.9"/>
<path d="M34.5 471.4H37.5M34.5 453.4H37.5M34.5 435.5H37.5M34.5 417.5H37.5M34.5 399.6H37.5M34.5 381.6H37.5M34.5 363.6H37.5M54.4 488.2v2.5M77.3 488.2v2.5M100.4 488.2v2.5M123.4 488.2v2.5M146.3 488.2v2.5M168.9 488.2v2.5M191.7 488.2v2.5M214.8 488.2v2.5M237.6 488.2v2.5M260.9 488.2v2.5M283.6 488.2v2.5M306.6 488.2v2.5M329.7 488.2v2.5M352.7 488.2v2.5M375.7 488.2v2.5M398.4 488.2v2.5M421.6 488.2v2.5M444.5 488.2v2.5M467.6 488.2v2.5M490.6 488.2v2.5M513.7 488.2v2.5M536.5 488.2v2.5M559.4 488.2v2.5M582.3 488.2v2.5M605.4 488.2v2.5M628.4 488.2v2.5" stroke="#444" stroke-width="0.8"/>
<text x="32.2" y="473.1" text-anchor="end" font-size="6.1" fill="#222">0</text>
<text x="32.2" y="455.1" text-anchor="end" font-size="6.1" fill="#222">2</text>
<text x="32.2" y="437.2" text-anchor="end" font-size="6.1" fill="#222">4</text>
<text x="32.2" y="419.2" text-anchor="end" font-size="6.1" fill="#222">6</text>
<text x="32.2" y="401.3" text-anchor="end" font-size="6.1" fill="#222">8</text>
<text x="32.2" y="383.3" text-anchor="end" font-size="6.1" fill="#222">10</text>
<text x="32.2" y="365.3" text-anchor="end" font-size="6.1" fill="#222">12</text>
<text transform="translate(22.6,413.7) rotate(-90)" text-anchor="middle" font-size="6.4" fill="#222">Expression</text>
<text x="648.8" y="413.3" font-size="7" fill="#222">Group</text>
<rect x="648.8" y="421" width="5.4" height="5.6" fill="#e64b35"/>
<text x="657.3" y="426.4" font-size="7" fill="#e64b35">Tumor</text>
<rect x="648.8" y="432.5" width="5.4" height="5.6" fill="#4dbbd5"/>
<text x="657.5" y="437.9" font-size="7" fill="#4dbbd5">Normal</text>
</g>
<g id="pc">
<defs><filter color-interpolation-filters="sRGB" id="bl1" x="-30%" y="-30%" width="160%" height="160%"><feGaussianBlur stdDeviation="1.0"/></filter><filter color-interpolation-filters="sRGB" id="bl2" x="-30%" y="-30%" width="160%" height="160%"><feGaussianBlur stdDeviation="2.5"/></filter><filter color-interpolation-filters="sRGB" id="bl3" x="-30%" y="-30%" width="160%" height="160%"><feGaussianBlur stdDeviation="12"/></filter><filter color-interpolation-filters="sRGB" id="ntex" x="-10%" y="-10%" width="120%" height="120%"><feTurbulence type="fractalNoise" baseFrequency="0.35" numOctaves="2" seed="5" result="t"/><feColorMatrix in="t" type="matrix" values="1 0 0 0 0 1 0 0 0 0 1 0 0 0 0 0 0 0 0 1" result="g"/><feComposite in="SourceGraphic" in2="g" operator="arithmetic" k1="0.7" k2="0.5" k3="0" k4="0" result="c"/><feGaussianBlur in="c" stdDeviation="0.8"/></filter><filter color-interpolation-filters="sRGB" id="ntexz" x="-10%" y="-10%" width="120%" height="120%"><feTurbulence type="fractalNoise" baseFrequency="0.09" numOctaves="3" seed="5" result="t"/><feColorMatrix in="t" type="matrix" values="2.6 0 0 0 -0.75 2.6 0 0 0 -0.75 2.6 0 0 0 -0.75 0 0 0 0 1" result="g"/><feComposite in="SourceGraphic" in2="g" operator="arithmetic" k1="0.9" k2="0.45" k3="0" k4="0" result="c"/><feGaussianBlur in="c" stdDeviation="5"/></filter><filter color-interpolation-filters="sRGB" id="rtexz" x="-10%" y="-10%" width="120%" height="120%"><feTurbulence type="fractalNoise" baseFrequency="0.035 0.05" numOctaves="3" seed="9" result="t"/><feColorMatrix in="t" type="matrix" values="2.0 0 0 0 -0.5 2.0 0 0 0 -0.5 2.0 0 0 0 -0.5 0 0 0 0 1" result="g"/><feComposite in="SourceGraphic" in2="g" operator="arithmetic" k1="0.9" k2="0.45" k3="0" k4="0" result="c"/><feGaussianBlur in="c" stdDeviation="4.5"/></filter><filter color-interpolation-filters="sRGB" id="rtex" x="-10%" y="-10%" width="120%" height="120%"><feTurbulence type="fractalNoise" baseFrequency="0.25 0.7" numOctaves="2" seed="9" result="t"/><feColorMatrix in="t" type="matrix" values="1 0 0 0 0 1 0 0 0 0 1 0 0 0 0 0 0 0 0 1" result="g"/><feComposite in="SourceGraphic" in2="g" operator="arithmetic" k1="1.5" k2="0.15" k3="0" k4="0" result="c"/><feGaussianBlur in="c" stdDeviation="0.9"/></filter>
<clipPath id="cc0"><rect x="97.8" y="579.2" width="120.5" height="115.5"/></clipPath>
<clipPath id="cc1"><rect x="97.8" y="703.2" width="120.5" height="113.4"/></clipPath>
<clipPath id="cc2"><rect x="97.8" y="826.2" width="120.5" height="116.5"/></clipPath>
</defs>
<rect x="97.8" y="579.2" width="120.5" height="115.5" fill="#030101"/>
<g clip-path="url(#cc0)"><g transform="translate(90,570) scale(0.20437)">
<g filter="url(#bl3)" fill="#4a0804"><ellipse cx="500" cy="400" rx="95" ry="55"/><ellipse cx="420" cy="80" rx="50" ry="40"/><ellipse cx="580" cy="380" rx="25" ry="90"/></g>
<g filter="url(#bl3)" fill="#3a0603" stroke="#6a0c06" stroke-width="22"><path d="M60 45C82 40 178 40 200 45C222 50 203 68 190 75C177 82 140 85 120 85C100 85 80 82 70 75C60 68 38 50 60 45Z"/><path d="M75 120C83 110 105 106 120 108C135 110 155 118 165 130C175 142 180 167 178 180C176 193 163 204 150 208C137 212 113 208 100 202C87 196 76 184 72 170C68 156 67 130 75 120Z"/><path d="M150 210C158 200 185 191 200 193C215 195 234 206 242 220C250 234 252 267 248 280C244 293 228 297 215 298C202 299 178 295 168 287C158 279 155 263 152 250C149 237 142 220 150 210Z"/><path d="M85 300C93 285 119 270 130 268C141 266 150 276 152 290C154 304 149 337 142 352C135 367 120 377 110 378C100 379 86 373 82 360C78 347 77 315 85 300Z"/><path d="M148 372C156 359 181 348 200 343C219 338 247 337 262 343C277 349 286 364 288 380C290 396 282 427 272 442C262 457 246 469 230 472C214 475 191 471 178 462C165 453 157 435 152 420C147 405 140 385 148 372Z"/><path d="M288 130C295 120 308 108 320 108C332 108 353 115 362 130C371 145 374 178 372 200C370 222 361 250 352 262C343 274 331 277 320 272C309 267 295 249 288 232C281 215 278 187 278 170C278 153 281 140 288 130Z"/><path d="M262 60C267 52 285 50 300 48C315 46 337 46 350 48C363 50 376 51 380 60C384 69 382 92 375 100C368 108 352 106 340 108C328 110 312 112 300 110C288 108 274 103 268 95C262 87 257 68 262 60Z"/><path d="M545 312C554 304 554 279 562 280C570 281 588 301 592 318C596 335 595 368 588 382C581 396 564 402 552 402C540 402 520 394 513 382C506 370 505 342 510 330C515 318 536 320 545 312Z"/><path d="M408 460C417 448 441 431 460 428C479 425 510 428 522 440C534 452 537 485 532 500C527 515 507 528 492 532C477 536 454 532 440 527C426 522 413 511 408 500C403 489 399 472 408 460Z"/><path d="M380 180C389 156 405 140 420 128C435 116 455 101 470 108C485 115 502 145 512 170C522 195 534 235 532 260C530 285 516 308 502 322C488 336 467 342 450 342C433 342 414 334 400 322C386 310 371 294 368 270C365 246 371 204 380 180Z" fill="none" stroke-width="6"/><ellipse cx="210" cy="570" rx="8" ry="35" transform="rotate(40 210 570)"/></g>
<g filter="url(#rtexz)" fill="#2a0502" stroke="#d82418" stroke-width="9"><path d="M60 45C82 40 178 40 200 45C222 50 203 68 190 75C177 82 140 85 120 85C100 85 80 82 70 75C60 68 38 50 60 45Z"/><path d="M75 120C83 110 105 106 120 108C135 110 155 118 165 130C175 142 180 167 178 180C176 193 163 204 150 208C137 212 113 208 100 202C87 196 76 184 72 170C68 156 67 130 75 120Z"/><path d="M150 210C158 200 185 191 200 193C215 195 234 206 242 220C250 234 252 267 248 280C244 293 228 297 215 298C202 299 178 295 168 287C158 279 155 263 152 250C149 237 142 220 150 210Z"/><path d="M85 300C93 285 119 270 130 268C141 266 150 276 152 290C154 304 149 337 142 352C135 367 120 377 110 378C100 379 86 373 82 360C78 347 77 315 85 300Z"/><path d="M148 372C156 359 181 348 200 343C219 338 247 337 262 343C277 349 286 364 288 380C290 396 282 427 272 442C262 457 246 469 230 472C214 475 191 471 178 462C165 453 157 435 152 420C147 405 140 385 148 372Z"/><path d="M288 130C295 120 308 108 320 108C332 108 353 115 362 130C371 145 374 178 372 200C370 222 361 250 352 262C343 274 331 277 320 272C309 267 295 249 288 232C281 215 278 187 278 170C278 153 281 140 288 130Z"/><path d="M262 60C267 52 285 50 300 48C315 46 337 46 350 48C363 50 376 51 380 60C384 69 382 92 375 100C368 108 352 106 340 108C328 110 312 112 300 110C288 108 274 103 268 95C262 87 257 68 262 60Z"/><path d="M545 312C554 304 554 279 562 280C570 281 588 301 592 318C596 335 595 368 588 382C581 396 564 402 552 402C540 402 520 394 513 382C506 370 505 342 510 330C515 318 536 320 545 312Z"/><path d="M408 460C417 448 441 431 460 428C479 425 510 428 522 440C534 452 537 485 532 500C527 515 507 528 492 532C477 536 454 532 440 527C426 522 413 511 408 500C403 489 399 472 408 460Z"/><path d="M380 180C389 156 405 140 420 128C435 116 455 101 470 108C485 115 502 145 512 170C522 195 534 235 532 260C530 285 516 308 502 322C488 336 467 342 450 342C433 342 414 334 400 322C386 310 371 294 368 270C365 246 371 204 380 180Z" fill="none" stroke-width="6"/><ellipse cx="210" cy="570" rx="8" ry="35" transform="rotate(40 210 570)"/></g>
<g filter="url(#ntexz)" fill="#1d6a18"><ellipse cx="95" cy="57" rx="25.299999999999997" ry="13.440000000000001" /><ellipse cx="120" cy="160" rx="34.5" ry="40.32000000000001" /><ellipse cx="200" cy="245" rx="40.25" ry="44.800000000000004" transform="rotate(-20 200 245)" /><ellipse cx="115" cy="320" rx="25.299999999999997" ry="44.800000000000004" transform="rotate(20 115 320)" /><ellipse cx="200" cy="385" rx="51.74999999999999" ry="29.120000000000005" transform="rotate(-15 200 385)" /><ellipse cx="230" cy="420" rx="51.74999999999999" ry="31.360000000000003" transform="rotate(-15 230 420)" /><ellipse cx="320" cy="190" rx="28.749999999999996" ry="61.60000000000001" /><ellipse cx="295" cy="80" rx="27.599999999999998" ry="24.64" /><ellipse cx="350" cy="70" rx="20.7" ry="22.400000000000002" /><ellipse cx="550" cy="340" rx="34.5" ry="44.800000000000004" /><ellipse cx="470" cy="480" rx="46.0" ry="39.2" /><ellipse cx="435" cy="255" rx="13" ry="58" transform="rotate(-22 435 255)" fill="#32a028"/></g>
</g></g>
<rect x="97.8" y="703.2" width="120.5" height="113.4" fill="#030101"/>
<g clip-path="url(#cc1)">
<g filter="url(#bl2)" fill="#2a0503"><path d="M100 704L180 704L192 720L185 760L215 770L218 816L100 816Z"/></g>
<g filter="url(#bl2)" fill="#020000"><ellipse cx="137" cy="791" rx="16" ry="9" /><ellipse cx="200" cy="728" rx="13" ry="19" /><ellipse cx="100" cy="745" rx="4" ry="12" /></g>
<g filter="url(#rtex)"><ellipse cx="108.4" cy="714.4" rx="7.38" ry="7.174999999999999" fill="#300603" stroke="#a81c10" stroke-width="1.1"/><ellipse cx="119.6" cy="708.3" rx="9.18" ry="7.174999999999999" fill="#300603" stroke="#a81c10" stroke-width="1.1"/><ellipse cx="133.9" cy="716.5" rx="8.28" ry="8.049999999999999" fill="#300603" stroke="#a81c10" stroke-width="1.1"/><ellipse cx="116.6" cy="721.6" rx="7.38" ry="6.3" fill="#300603" stroke="#a81c10" stroke-width="1.1"/><ellipse cx="150.3" cy="706.2" rx="7.38" ry="5.425" fill="#300603" stroke="#a81c10" stroke-width="1.1"/><ellipse cx="168.7" cy="708.3" rx="8.28" ry="7.174999999999999" fill="#300603" stroke="#a81c10" stroke-width="1.1"/><ellipse cx="142.1" cy="725.7" rx="9.18" ry="8.049999999999999" fill="#300603" stroke="#a81c10" stroke-width="1.1"/><ellipse cx="171.7" cy="729.7" rx="8.28" ry="8.049999999999999" fill="#300603" stroke="#a81c10" stroke-width="1.1"/><ellipse cx="119.6" cy="741" rx="8.28" ry="8.049999999999999" fill="#300603" stroke="#a81c10" stroke-width="1.1"/><ellipse cx="139" cy="744" rx="9.18" ry="8.049999999999999" fill="#300603" stroke="#a81c10" stroke-width="1.1"/><ellipse cx="151.3" cy="737.9" rx="7.38" ry="8.049999999999999" fill="#300603" stroke="#a81c10" stroke-width="1.1"/><ellipse cx="161.5" cy="738.9" rx="6.48" ry="8.049999999999999" fill="#300603" stroke="#a81c10" stroke-width="1.1"/><ellipse cx="179.9" cy="733.8" rx="5.58" ry="8.924999999999999" fill="#300603" stroke="#a81c10" stroke-width="1.1"/><ellipse cx="128.8" cy="753.2" rx="8.28" ry="9.799999999999999" fill="#300603" stroke="#a81c10" stroke-width="1.1"/><ellipse cx="142.1" cy="758.4" rx="10.08" ry="7.174999999999999" fill="#300603" stroke="#a81c10" stroke-width="1.1"/><ellipse cx="157.4" cy="752.2" rx="9.18" ry="8.924999999999999" fill="#300603" stroke="#a81c10" stroke-width="1.1"/><ellipse cx="171.7" cy="754.3" rx="7.38" ry="7.174999999999999" fill="#300603" stroke="#a81c10" stroke-width="1.1"/><ellipse cx="119.6" cy="767.6" rx="7.38" ry="9.799999999999999" fill="#300603" stroke="#a81c10" stroke-width="1.1"/><ellipse cx="142.1" cy="769.6" rx="10.08" ry="8.049999999999999" fill="#300603" stroke="#a81c10" stroke-width="1.1"/><ellipse cx="165.6" cy="770.6" rx="9.18" ry="6.3" fill="#300603" stroke="#a81c10" stroke-width="1.1"/><ellipse cx="186.1" cy="763.5" rx="10.98" ry="8.049999999999999" fill="#300603" stroke="#a81c10" stroke-width="1.1"/><ellipse cx="205.5" cy="745.1" rx="7.38" ry="7.174999999999999" fill="#300603" stroke="#a81c10" stroke-width="1.1"/><ellipse cx="214.7" cy="712.4" rx="4.680000000000001" ry="8.924999999999999" fill="#300603" stroke="#a81c10" stroke-width="1.1"/><ellipse cx="106.3" cy="783.9" rx="8.28" ry="8.924999999999999" fill="#300603" stroke="#a81c10" stroke-width="1.1"/><ellipse cx="149.3" cy="784.9" rx="9.18" ry="6.3" fill="#300603" stroke="#a81c10" stroke-width="1.1"/><ellipse cx="178.9" cy="781.9" rx="9.18" ry="7.174999999999999" fill="#300603" stroke="#a81c10" stroke-width="1.1"/><ellipse cx="208.5" cy="783.9" rx="10.08" ry="8.049999999999999" fill="#300603" stroke="#a81c10" stroke-width="1.1"/><ellipse cx="178.9" cy="798.2" rx="8.28" ry="7.174999999999999" fill="#300603" stroke="#a81c10" stroke-width="1.1"/><ellipse cx="198.3" cy="803.3" rx="10.08" ry="7.174999999999999" fill="#300603" stroke="#a81c10" stroke-width="1.1"/><ellipse cx="132.9" cy="805.4" rx="7.38" ry="7.174999999999999" fill="#300603" stroke="#a81c10" stroke-width="1.1"/><ellipse cx="160.5" cy="810.5" rx="10.08" ry="8.049999999999999" fill="#300603" stroke="#a81c10" stroke-width="1.1"/><ellipse cx="120.7" cy="813.5" rx="9.18" ry="4.375" fill="#300603" stroke="#a81c10" stroke-width="1.1"/><ellipse cx="101.2" cy="760.4" rx="2.7" ry="3.5" fill="#300603" stroke="#a81c10" stroke-width="1.1"/></g>
<g filter="url(#ntex)"><ellipse cx="108.4" cy="714.4" rx="4.305" ry="4.305" fill="#1c6217"/><ellipse cx="119.6" cy="708.3" rx="5.3549999999999995" ry="4.305" fill="#1c6217"/><ellipse cx="133.9" cy="716.5" rx="4.83" ry="4.83" fill="#1c6217"/><ellipse cx="116.6" cy="721.6" rx="4.305" ry="3.7800000000000002" fill="#1c6217"/><ellipse cx="150.3" cy="706.2" rx="4.305" ry="3.2550000000000003" fill="#1c6217"/><ellipse cx="168.7" cy="708.3" rx="4.83" ry="4.305" fill="#1c6217"/><ellipse cx="142.1" cy="725.7" rx="5.3549999999999995" ry="4.83" fill="#1c6217"/><ellipse cx="171.7" cy="729.7" rx="4.83" ry="4.83" fill="#1c6217"/><ellipse cx="119.6" cy="741" rx="4.83" ry="4.83" fill="#1c6217"/><ellipse cx="139" cy="744" rx="5.3549999999999995" ry="4.83" fill="#1c6217"/><ellipse cx="151.3" cy="737.9" rx="4.305" ry="4.83" fill="#1c6217"/><ellipse cx="161.5" cy="738.9" rx="3.7800000000000002" ry="4.83" fill="#1c6217"/><ellipse cx="179.9" cy="733.8" rx="3.2550000000000003" ry="5.3549999999999995" fill="#1c6217"/><ellipse cx="128.8" cy="753.2" rx="4.83" ry="5.88" fill="#1c6217"/><ellipse cx="142.1" cy="758.4" rx="5.88" ry="4.305" fill="#1c6217"/><ellipse cx="157.4" cy="752.2" rx="5.3549999999999995" ry="5.3549999999999995" fill="#1c6217"/><ellipse cx="171.7" cy="754.3" rx="4.305" ry="4.305" fill="#1c6217"/><ellipse cx="119.6" cy="767.6" rx="4.305" ry="5.88" fill="#1c6217"/><ellipse cx="142.1" cy="769.6" rx="5.88" ry="4.83" fill="#1c6217"/><ellipse cx="165.6" cy="770.6" rx="5.3549999999999995" ry="3.7800000000000002" fill="#1c6217"/><ellipse cx="186.1" cy="763.5" rx="6.405" ry="4.83" fill="#1c6217"/><ellipse cx="205.5" cy="745.1" rx="4.305" ry="4.305" fill="#1c6217"/><ellipse cx="214.7" cy="712.4" rx="2.7300000000000004" ry="5.3549999999999995" fill="#1c6217"/><ellipse cx="106.3" cy="783.9" rx="4.83" ry="5.3549999999999995" fill="#1c6217"/><ellipse cx="149.3" cy="784.9" rx="5.3549999999999995" ry="3.7800000000000002" fill="#1c6217"/><ellipse cx="178.9" cy="781.9" rx="5.3549999999999995" ry="4.305" fill="#1c6217"/><ellipse cx="208.5" cy="783.9" rx="5.88" ry="4.83" fill="#1c6217"/><ellipse cx="178.9" cy="798.2" rx="4.83" ry="4.305" fill="#1c6217"/><ellipse cx="198.3" cy="803.3" rx="5.88" ry="4.305" fill="#1c6217"/><ellipse cx="132.9" cy="805.4" rx="4.305" ry="4.305" fill="#1c6217"/><ellipse cx="160.5" cy="810.5" rx="5.88" ry="4.83" fill="#1c6217"/><ellipse cx="120.7" cy="813.5" rx="5.3549999999999995" ry="2.625" fill="#1c6217"/><ellipse cx="101.2" cy="760.4" rx="1.5750000000000002" ry="2.1" fill="#1c6217"/></g>
</g>
<rect x="97.8" y="826.2" width="120.5" height="116.5" fill="#040101"/>
<g clip-path="url(#cc2)"><g transform="translate(97,826) scale(0.17809)">
<g filter="url(#rtexz)" fill="#7e1208" stroke="#d42218" stroke-width="12"><path d="M110 20C126 11 178 1 200 8C222 15 236 36 245 60C254 84 256 121 252 150C248 179 237 207 222 232C207 257 179 299 160 302C141 305 118 277 108 252C98 227 99 182 98 150C97 118 102 82 104 60C106 38 94 29 110 20Z"/><path d="M300 20C312 20 345 41 362 58C379 75 392 96 402 120C412 144 415 170 422 200C429 230 434 270 442 300C450 330 470 360 472 380C474 400 464 422 452 422C440 422 417 402 400 382C383 362 365 322 350 302C335 282 319 279 310 262C301 245 298 224 298 200C298 176 310 143 308 120C306 97 289 77 288 60C287 43 288 20 300 20Z"/><path d="M480 230C487 200 513 162 530 150C547 138 570 142 582 160C594 178 600 220 602 260C604 300 599 373 592 400C585 427 576 422 562 422C548 422 522 417 510 402C498 387 493 359 488 330C483 301 473 260 480 230Z"/><path d="M580 40C592 20 672 -63 690 0C708 63 702 356 690 420C678 484 637 402 620 382C603 362 593 330 590 300C587 270 595 230 600 200C605 170 621 147 618 120C615 93 568 60 580 40Z"/><path d="M20 330C30 316 82 305 120 298C158 291 218 288 250 288C282 288 312 294 312 300C312 306 267 312 250 322C233 332 213 345 210 362C207 379 240 414 232 422C224 430 181 415 160 412C139 409 125 407 108 402C91 397 73 394 58 382C43 370 10 344 20 330Z"/><path d="M40 470C50 458 78 453 100 448C122 443 153 431 170 440C187 449 204 480 202 500C200 520 177 547 160 562C143 577 118 590 100 592C82 594 60 584 50 572C40 560 40 537 38 520C36 503 30 482 40 470Z"/><path d="M380 450C388 437 413 437 430 440C447 443 468 453 480 470C492 487 492 522 502 540C512 558 539 568 542 580C545 592 542 605 522 612C502 619 454 624 420 622C386 620 347 612 320 602C293 592 261 575 258 562C255 549 280 529 300 522C320 515 367 532 380 520C393 508 372 463 380 450Z"/><path d="M460 440C460 424 497 428 520 428C543 428 572 435 600 440C628 445 675 433 690 460C705 487 702 580 690 600C678 620 642 588 620 582C598 576 577 572 560 562C543 552 537 542 520 522C503 502 460 456 460 440Z"/><path d="M150 560C167 544 228 544 250 558C272 572 299 626 282 642C265 658 170 666 148 652C126 638 133 576 150 560Z"/><path d="M0 560C10 545 48 555 60 570C72 585 80 635 70 650C60 665 12 675 0 660C-12 645 -10 575 0 560Z"/><path d="M0 140C10 120 53 173 60 200C67 227 52 280 42 300C32 320 7 349 0 322C-7 295 -10 160 0 140Z"/><path d="M30 0C33 -18 70 -17 80 0C90 17 93 82 90 100C87 118 70 127 60 110C50 93 27 18 30 0Z"/></g>
<g filter="url(#ntexz)" fill="#1f7019"><ellipse cx="160" cy="140" rx="37" ry="60" transform="rotate(-5 160 140)" /><ellipse cx="355" cy="225" rx="37" ry="38" /><ellipse cx="540" cy="330" rx="27" ry="40" transform="rotate(-10 540 330)" /><ellipse cx="648" cy="305" rx="28" ry="35" /><ellipse cx="662" cy="140" rx="18" ry="34" /><ellipse cx="160" cy="365" rx="42" ry="32" /><ellipse cx="100" cy="520" rx="30" ry="40" transform="rotate(10 100 520)" /><ellipse cx="440" cy="520" rx="28" ry="36" /><ellipse cx="590" cy="515" rx="40" ry="30" transform="rotate(20 590 515)" /><ellipse cx="215" cy="615" rx="30" ry="22" /><ellipse cx="20" cy="612" rx="14" ry="14" /></g>
</g></g>
<g font-family="Liberation Sans, Arial, sans-serif" font-size="11.9" fill="#111" text-anchor="end"><text x="71.9" y="643.1">HEK293</text><text x="72" y="758.3">MCF-7</text><text x="72" y="872.7">U2OS</text></g>
</g>
<g id="pd">
<defs><filter color-interpolation-filters="sRGB" id="tex" x="0" y="0" width="100%" height="100%"><feTurbulence type="fractalNoise" baseFrequency="1.1" numOctaves="1" seed="4" result="n"/><feColorMatrix in="n" type="matrix" values="0 0 0 0 0.45  0 0 0 0 0.4  0 0 0 0 0.6  0.7 0 0 0 -0.25" result="m"/><feComposite in="m" in2="SourceGraphic" operator="in"/></filter><filter color-interpolation-filters="sRGB" id="dbl" x="-20%" y="-20%" width="140%" height="140%"><feGaussianBlur stdDeviation="3.5"/></filter><filter color-interpolation-filters="sRGB" id="wbl" x="-50%" y="-50%" width="200%" height="200%"><feGaussianBlur stdDeviation="0.45"/></filter>
<clipPath id="dc0"><ellipse cx="420.6" cy="638.8" rx="54" ry="56"/></clipPath>
<clipPath id="dc1"><ellipse cx="420.4" cy="760.2" rx="56.2" ry="56"/></clipPath>
<clipPath id="dc2"><ellipse cx="421.6" cy="888.3" rx="55" ry="58.4"/></clipPath>
<clipPath id="dc3"><ellipse cx="625.2" cy="640.4" rx="56.9" ry="59"/></clipPath>
<clipPath id="dc4"><ellipse cx="626.4" cy="763.7" rx="55.3" ry="55.8"/></clipPath>
</defs>
<rect x="361.9" y="579.9" width="120.9" height="117.3" fill="#efefef"/>
<ellipse cx="420.6" cy="638.8" rx="54" ry="56" fill="#ebe7f0"/>
<g clip-path="url(#dc0)">
<g filter="url(#dbl)" fill="#9a8aa8" opacity="0.12"><ellipse cx="398.9" cy="645.7" rx="17.2" ry="9.7"/><ellipse cx="396.8" cy="637.6" rx="9.8" ry="10.1"/><ellipse cx="398.6" cy="614.5" rx="8.9" ry="8.4"/><ellipse cx="448.2" cy="657.1" rx="14.9" ry="6.3"/><ellipse cx="459.4" cy="634.3" rx="14.5" ry="10.9"/><ellipse cx="420.9" cy="639.3" rx="13.3" ry="6.5"/><ellipse cx="424.2" cy="648.3" rx="8.3" ry="9.7"/><ellipse cx="388.8" cy="651.7" rx="13.2" ry="11.1"/></g>
<ellipse cx="420.6" cy="638.8" rx="54" ry="56" fill="#000" filter="url(#tex)"/>
<g filter="url(#wbl)" fill="#f8f5f6" opacity="0.65"><ellipse cx="380.1" cy="638.9" rx="2.2" ry="2.2" transform="rotate(179 380.1 638.9)"/><ellipse cx="443.1" cy="602.2" rx="1.9" ry="0.9" transform="rotate(13 443.1 602.2)"/><ellipse cx="423.8" cy="606.3" rx="3.1" ry="3.1" transform="rotate(153 423.8 606.3)"/><ellipse cx="443.4" cy="638.9" rx="3.3" ry="3.3" transform="rotate(72 443.4 638.9)"/><ellipse cx="456.0" cy="656.9" rx="3.0" ry="1.1" transform="rotate(60 456.0 656.9)"/><ellipse cx="462.8" cy="628.7" rx="1.4" ry="0.5" transform="rotate(11 462.8 628.7)"/><ellipse cx="426.7" cy="618.0" rx="2.5" ry="1.1" transform="rotate(132 426.7 618.0)"/><ellipse cx="447.8" cy="669.2" rx="1.4" ry="0.6" transform="rotate(49 447.8 669.2)"/><ellipse cx="464.5" cy="630.4" rx="1.8" ry="0.8" transform="rotate(71 464.5 630.4)"/><ellipse cx="444.9" cy="606.0" rx="1.3" ry="0.6" transform="rotate(46 444.9 606.0)"/><ellipse cx="424.7" cy="609.5" rx="1.8" ry="0.7" transform="rotate(105 424.7 609.5)"/><ellipse cx="422.3" cy="678.8" rx="2.0" ry="1.9" transform="rotate(87 422.3 678.8)"/><ellipse cx="379.2" cy="617.1" rx="1.5" ry="1.4" transform="rotate(147 379.2 617.1)"/><ellipse cx="420.7" cy="661.3" rx="2.9" ry="1.3" transform="rotate(171 420.7 661.3)"/><ellipse cx="449.2" cy="611.7" rx="2.1" ry="0.7" transform="rotate(173 449.2 611.7)"/><ellipse cx="423.6" cy="682.0" rx="1.7" ry="1.2" transform="rotate(53 423.6 682.0)"/><ellipse cx="439.7" cy="677.9" rx="1.3" ry="0.9" transform="rotate(153 439.7 677.9)"/><ellipse cx="400.8" cy="620.8" rx="3.3" ry="1.0" transform="rotate(48 400.8 620.8)"/><ellipse cx="409.1" cy="643.0" rx="1.5" ry="1.1" transform="rotate(24 409.1 643.0)"/><ellipse cx="390.2" cy="675.9" rx="3.5" ry="2.7" transform="rotate(105 390.2 675.9)"/><ellipse cx="426.5" cy="646.3" rx="1.1" ry="0.9" transform="rotate(173 426.5 646.3)"/><ellipse cx="460.0" cy="644.3" rx="2.3" ry="1.2" transform="rotate(180 460.0 644.3)"/><ellipse cx="453.4" cy="656.2" rx="2.9" ry="2.4" transform="rotate(127 453.4 656.2)"/><ellipse cx="433.4" cy="591.2" rx="2.0" ry="1.8" transform="rotate(157 433.4 591.2)"/><ellipse cx="382.2" cy="661.6" rx="3.2" ry="2.4" transform="rotate(69 382.2 661.6)"/><ellipse cx="386.9" cy="618.8" rx="1.3" ry="1.3" transform="rotate(158 386.9 618.8)"/><ellipse cx="416.4" cy="606.9" rx="2.9" ry="1.8" transform="rotate(151 416.4 606.9)"/><ellipse cx="457.9" cy="661.3" rx="1.2" ry="0.7" transform="rotate(41 457.9 661.3)"/><ellipse cx="409.4" cy="604.3" rx="2.6" ry="1.2" transform="rotate(2 409.4 604.3)"/><ellipse cx="407.7" cy="679.2" rx="1.6" ry="1.5" transform="rotate(119 407.7 679.2)"/></g>
</g>
<rect x="361.9" y="703.2" width="120.9" height="115.9" fill="#efefef"/>
<ellipse cx="420.4" cy="760.2" rx="56.2" ry="56" fill="#e9dfdc"/>
<g clip-path="url(#dc1)">
<g filter="url(#dbl)" fill="#a08888" opacity="0.12"><ellipse cx="385.3" cy="773.6" rx="11.3" ry="11.3"/><ellipse cx="426.2" cy="777.4" rx="16.1" ry="13.3"/><ellipse cx="432.2" cy="749.2" rx="13.8" ry="8.5"/><ellipse cx="434.1" cy="775.9" rx="16.4" ry="12.8"/><ellipse cx="410.7" cy="721.5" rx="10.8" ry="7.4"/><ellipse cx="409.4" cy="763.7" rx="10.1" ry="9.3"/><ellipse cx="405.7" cy="745.5" rx="11.2" ry="12.7"/></g>
<ellipse cx="420.4" cy="760.2" rx="56.2" ry="56" fill="#000" filter="url(#tex)"/>
<g filter="url(#wbl)" fill="#f8f5f6" opacity="0.65"><ellipse cx="455.0" cy="756.3" rx="1.3" ry="1.2" transform="rotate(7 455.0 756.3)"/><ellipse cx="410.3" cy="722.5" rx="1.8" ry="0.6" transform="rotate(24 410.3 722.5)"/><ellipse cx="412.6" cy="762.5" rx="3.1" ry="1.2" transform="rotate(8 412.6 762.5)"/><ellipse cx="396.6" cy="735.2" rx="2.6" ry="2.3" transform="rotate(173 396.6 735.2)"/><ellipse cx="411.1" cy="739.1" rx="2.2" ry="0.7" transform="rotate(85 411.1 739.1)"/><ellipse cx="415.5" cy="738.9" rx="1.8" ry="1.4" transform="rotate(94 415.5 738.9)"/><ellipse cx="386.5" cy="730.6" rx="2.1" ry="1.9" transform="rotate(16 386.5 730.6)"/><ellipse cx="460.5" cy="742.2" rx="1.4" ry="1.0" transform="rotate(164 460.5 742.2)"/><ellipse cx="392.5" cy="787.4" rx="3.2" ry="3.1" transform="rotate(83 392.5 787.4)"/><ellipse cx="406.8" cy="741.2" rx="2.8" ry="2.8" transform="rotate(115 406.8 741.2)"/><ellipse cx="415.6" cy="736.8" rx="3.3" ry="3.3" transform="rotate(176 415.6 736.8)"/><ellipse cx="375.6" cy="749.6" rx="1.9" ry="1.9" transform="rotate(154 375.6 749.6)"/><ellipse cx="411.8" cy="772.3" rx="2.2" ry="1.8" transform="rotate(88 411.8 772.3)"/><ellipse cx="466.3" cy="768.4" rx="1.3" ry="0.5" transform="rotate(60 466.3 768.4)"/><ellipse cx="425.0" cy="741.4" rx="1.5" ry="1.2" transform="rotate(151 425.0 741.4)"/><ellipse cx="401.7" cy="713.6" rx="2.3" ry="2.3" transform="rotate(15 401.7 713.6)"/><ellipse cx="427.1" cy="797.1" rx="1.8" ry="1.3" transform="rotate(94 427.1 797.1)"/><ellipse cx="441.9" cy="728.1" rx="1.9" ry="1.7" transform="rotate(162 441.9 728.1)"/><ellipse cx="432.8" cy="806.2" rx="3.4" ry="2.4" transform="rotate(36 432.8 806.2)"/><ellipse cx="384.6" cy="752.0" rx="2.6" ry="2.5" transform="rotate(93 384.6 752.0)"/><ellipse cx="382.8" cy="787.2" rx="2.5" ry="1.9" transform="rotate(12 382.8 787.2)"/><ellipse cx="388.1" cy="752.2" rx="3.4" ry="3.4" transform="rotate(48 388.1 752.2)"/><ellipse cx="402.2" cy="763.3" rx="2.1" ry="2.1" transform="rotate(162 402.2 763.3)"/><ellipse cx="391.5" cy="764.5" rx="1.6" ry="1.5" transform="rotate(23 391.5 764.5)"/><ellipse cx="421.8" cy="752.5" rx="1.6" ry="1.2" transform="rotate(58 421.8 752.5)"/><ellipse cx="395.3" cy="792.3" rx="1.4" ry="0.5" transform="rotate(92 395.3 792.3)"/><ellipse cx="420.3" cy="783.2" rx="2.4" ry="1.3" transform="rotate(74 420.3 783.2)"/><ellipse cx="400.0" cy="756.4" rx="1.6" ry="1.2" transform="rotate(95 400.0 756.4)"/><ellipse cx="444.5" cy="727.7" rx="3.2" ry="2.6" transform="rotate(146 444.5 727.7)"/><ellipse cx="444.2" cy="743.5" rx="1.9" ry="1.9" transform="rotate(39 444.2 743.5)"/><ellipse cx="469.2" cy="759.7" rx="1.4" ry="1.2" transform="rotate(47 469.2 759.7)"/><ellipse cx="459.2" cy="787.2" rx="2.1" ry="0.8" transform="rotate(73 459.2 787.2)"/><ellipse cx="417.7" cy="753.9" rx="1.6" ry="1.5" transform="rotate(174 417.7 753.9)"/><ellipse cx="448.0" cy="784.5" rx="2.9" ry="2.3" transform="rotate(34 448.0 784.5)"/><ellipse cx="435.7" cy="767.4" rx="1.2" ry="0.8" transform="rotate(102 435.7 767.4)"/><ellipse cx="433.9" cy="777.9" rx="1.6" ry="1.6" transform="rotate(178 433.9 777.9)"/><ellipse cx="434.7" cy="753.1" rx="1.2" ry="1.2" transform="rotate(83 434.7 753.1)"/><ellipse cx="423.1" cy="730.8" rx="2.2" ry="1.3" transform="rotate(108 423.1 730.8)"/><ellipse cx="463.6" cy="763.8" rx="3.1" ry="1.9" transform="rotate(133 463.6 763.8)"/><ellipse cx="401.4" cy="773.0" rx="1.5" ry="0.5" transform="rotate(161 401.4 773.0)"/><ellipse cx="434.3" cy="719.1" rx="3.2" ry="1.9" transform="rotate(108 434.3 719.1)"/><ellipse cx="369.1" cy="758.8" rx="3.0" ry="2.9" transform="rotate(134 369.1 758.8)"/><ellipse cx="428.6" cy="714.3" rx="2.1" ry="2.1" transform="rotate(158 428.6 714.3)"/><ellipse cx="405.0" cy="717.7" rx="3.0" ry="2.4" transform="rotate(13 405.0 717.7)"/><ellipse cx="401.1" cy="789.8" rx="1.1" ry="0.8" transform="rotate(112 401.1 789.8)"/></g>
</g>
<rect x="361.9" y="826.4" width="120.9" height="121.2" fill="#efefef"/>
<ellipse cx="421.6" cy="888.3" rx="55" ry="58.4" fill="#ece4e5"/>
<g clip-path="url(#dc2)">
<g filter="url(#dbl)" fill="#a898a8" opacity="0.12"><ellipse cx="426.0" cy="929.4" rx="14.7" ry="8.7"/><ellipse cx="409.0" cy="867.3" rx="13.3" ry="9.1"/><ellipse cx="448.1" cy="888.3" rx="15.0" ry="12.1"/></g>
<ellipse cx="421.6" cy="888.3" rx="55" ry="58.4" fill="#000" filter="url(#tex)"/>
<g filter="url(#wbl)" fill="#f8f5f6" opacity="0.65"><ellipse cx="429.2" cy="887.3" rx="2.1" ry="2.1" transform="rotate(46 429.2 887.3)"/><ellipse cx="412.3" cy="895.3" rx="1.3" ry="0.5" transform="rotate(45 412.3 895.3)"/><ellipse cx="452.8" cy="866.0" rx="1.9" ry="1.9" transform="rotate(102 452.8 866.0)"/><ellipse cx="462.1" cy="887.0" rx="2.5" ry="1.8" transform="rotate(137 462.1 887.0)"/><ellipse cx="468.6" cy="902.8" rx="1.2" ry="0.5" transform="rotate(89 468.6 902.8)"/><ellipse cx="412.2" cy="879.9" rx="2.8" ry="1.9" transform="rotate(108 412.2 879.9)"/><ellipse cx="403.6" cy="909.8" rx="2.2" ry="1.1" transform="rotate(129 403.6 909.8)"/><ellipse cx="419.9" cy="894.4" rx="1.4" ry="0.6" transform="rotate(136 419.9 894.4)"/><ellipse cx="384.6" cy="920.8" rx="2.4" ry="2.4" transform="rotate(170 384.6 920.8)"/><ellipse cx="464.8" cy="911.1" rx="1.8" ry="1.7" transform="rotate(44 464.8 911.1)"/><ellipse cx="373.0" cy="880.7" rx="2.3" ry="2.3" transform="rotate(147 373.0 880.7)"/><ellipse cx="407.9" cy="877.2" rx="2.1" ry="0.9" transform="rotate(9 407.9 877.2)"/><ellipse cx="404.0" cy="885.0" rx="1.8" ry="1.8" transform="rotate(82 404.0 885.0)"/><ellipse cx="418.7" cy="929.3" rx="1.7" ry="1.7" transform="rotate(96 418.7 929.3)"/><ellipse cx="471.1" cy="887.5" rx="2.4" ry="0.9" transform="rotate(161 471.1 887.5)"/><ellipse cx="430.2" cy="846.7" rx="1.6" ry="1.3" transform="rotate(102 430.2 846.7)"/><ellipse cx="387.8" cy="865.0" rx="2.4" ry="1.1" transform="rotate(176 387.8 865.0)"/><ellipse cx="462.6" cy="862.8" rx="1.0" ry="0.5" transform="rotate(77 462.6 862.8)"/><ellipse cx="410.0" cy="876.2" rx="2.0" ry="0.7" transform="rotate(122 410.0 876.2)"/><ellipse cx="383.3" cy="874.9" rx="1.6" ry="0.7" transform="rotate(62 383.3 874.9)"/><ellipse cx="420.1" cy="839.0" rx="1.0" ry="0.9" transform="rotate(112 420.1 839.0)"/><ellipse cx="424.3" cy="863.6" rx="1.7" ry="1.5" transform="rotate(66 424.3 863.6)"/><ellipse cx="392.9" cy="844.3" rx="1.5" ry="1.3" transform="rotate(166 392.9 844.3)"/><ellipse cx="393.9" cy="902.7" rx="1.1" ry="1.1" transform="rotate(14 393.9 902.7)"/><ellipse cx="454.6" cy="908.5" rx="1.9" ry="1.9" transform="rotate(54 454.6 908.5)"/><ellipse cx="423.8" cy="873.6" rx="1.3" ry="1.3" transform="rotate(15 423.8 873.6)"/><ellipse cx="407.3" cy="931.6" rx="2.3" ry="0.9" transform="rotate(64 407.3 931.6)"/><ellipse cx="417.0" cy="856.1" rx="1.1" ry="1.1" transform="rotate(102 417.0 856.1)"/><ellipse cx="464.5" cy="862.7" rx="2.7" ry="2.3" transform="rotate(55 464.5 862.7)"/><ellipse cx="408.4" cy="919.3" rx="2.8" ry="2.8" transform="rotate(45 408.4 919.3)"/><ellipse cx="401.8" cy="913.2" rx="1.6" ry="0.9" transform="rotate(35 401.8 913.2)"/><ellipse cx="379.9" cy="869.5" rx="2.0" ry="2.0" transform="rotate(101 379.9 869.5)"/><ellipse cx="441.3" cy="930.3" rx="2.6" ry="0.8" transform="rotate(93 441.3 930.3)"/><ellipse cx="384.9" cy="877.2" rx="2.8" ry="2.8" transform="rotate(145 384.9 877.2)"/><ellipse cx="456.1" cy="903.9" rx="2.5" ry="0.9" transform="rotate(133 456.1 903.9)"/><ellipse cx="433.5" cy="879.0" rx="2.2" ry="1.8" transform="rotate(117 433.5 879.0)"/><ellipse cx="422.3" cy="913.6" rx="2.4" ry="2.0" transform="rotate(71 422.3 913.6)"/><ellipse cx="395.4" cy="933.4" rx="2.2" ry="1.5" transform="rotate(130 395.4 933.4)"/><ellipse cx="409.0" cy="838.6" rx="1.7" ry="1.7" transform="rotate(120 409.0 838.6)"/><ellipse cx="449.2" cy="849.8" rx="2.6" ry="2.6" transform="rotate(172 449.2 849.8)"/><ellipse cx="398.3" cy="858.2" rx="2.3" ry="2.3" transform="rotate(76 398.3 858.2)"/><ellipse cx="404.6" cy="898.2" rx="2.4" ry="2.4" transform="rotate(68 404.6 898.2)"/><ellipse cx="432.9" cy="909.5" rx="1.7" ry="1.7" transform="rotate(11 432.9 909.5)"/><ellipse cx="415.4" cy="905.3" rx="2.2" ry="2.2" transform="rotate(32 415.4 905.3)"/><ellipse cx="453.3" cy="902.2" rx="2.1" ry="2.1" transform="rotate(7 453.3 902.2)"/><ellipse cx="438.5" cy="902.9" rx="1.3" ry="1.1" transform="rotate(107 438.5 902.9)"/><ellipse cx="425.2" cy="911.1" rx="1.5" ry="1.2" transform="rotate(56 425.2 911.1)"/><ellipse cx="377.9" cy="873.8" rx="1.8" ry="1.7" transform="rotate(165 377.9 873.8)"/><ellipse cx="401.1" cy="921.7" rx="2.8" ry="1.3" transform="rotate(9 401.1 921.7)"/><ellipse cx="464.5" cy="872.7" rx="1.7" ry="1.1" transform="rotate(49 464.5 872.7)"/><ellipse cx="462.6" cy="885.6" rx="1.4" ry="0.9" transform="rotate(67 462.6 885.6)"/><ellipse cx="434.0" cy="844.8" rx="2.1" ry="0.9" transform="rotate(58 434.0 844.8)"/><ellipse cx="418.8" cy="938.4" rx="1.9" ry="1.9" transform="rotate(179 418.8 938.4)"/><ellipse cx="417.8" cy="927.5" rx="1.2" ry="1.2" transform="rotate(0 417.8 927.5)"/><ellipse cx="441.8" cy="843.7" rx="2.5" ry="1.2" transform="rotate(129 441.8 843.7)"/><ellipse cx="450.4" cy="909.7" rx="1.8" ry="1.8" transform="rotate(106 450.4 909.7)"/><ellipse cx="439.0" cy="865.1" rx="2.5" ry="2.3" transform="rotate(16 439.0 865.1)"/><ellipse cx="432.3" cy="866.5" rx="2.0" ry="0.8" transform="rotate(150 432.3 866.5)"/><ellipse cx="411.0" cy="916.1" rx="1.1" ry="0.7" transform="rotate(129 411.0 916.1)"/><ellipse cx="394.9" cy="922.7" rx="1.1" ry="0.7" transform="rotate(174 394.9 922.7)"/><ellipse cx="441.3" cy="850.1" rx="0.9" ry="0.7" transform="rotate(43 441.3 850.1)"/><ellipse cx="390.0" cy="874.0" rx="0.9" ry="0.9" transform="rotate(144 390.0 874.0)"/><ellipse cx="432.3" cy="929.0" rx="1.5" ry="1.0" transform="rotate(54 432.3 929.0)"/><ellipse cx="405.0" cy="917.1" rx="2.2" ry="1.0" transform="rotate(132 405.0 917.1)"/><ellipse cx="398.0" cy="934.3" rx="2.0" ry="2.0" transform="rotate(60 398.0 934.3)"/><ellipse cx="428.8" cy="873.8" rx="1.2" ry="0.9" transform="rotate(127 428.8 873.8)"/><ellipse cx="435.3" cy="919.2" rx="2.6" ry="0.9" transform="rotate(41 435.3 919.2)"/><ellipse cx="431.4" cy="904.1" rx="1.7" ry="1.6" transform="rotate(77 431.4 904.1)"/><ellipse cx="380.9" cy="885.2" rx="2.4" ry="2.4" transform="rotate(69 380.9 885.2)"/><ellipse cx="405.7" cy="918.4" rx="0.9" ry="0.7" transform="rotate(177 405.7 918.4)"/><ellipse cx="431.8" cy="845.9" rx="2.1" ry="1.1" transform="rotate(62 431.8 845.9)"/><ellipse cx="411.9" cy="874.1" rx="1.6" ry="1.4" transform="rotate(149 411.9 874.1)"/><ellipse cx="406.2" cy="874.5" rx="2.4" ry="2.4" transform="rotate(99 406.2 874.5)"/><ellipse cx="400.1" cy="918.8" rx="1.2" ry="1.2" transform="rotate(178 400.1 918.8)"/><ellipse cx="378.9" cy="883.7" rx="2.6" ry="2.5" transform="rotate(113 378.9 883.7)"/><ellipse cx="426.3" cy="903.0" rx="1.4" ry="1.1" transform="rotate(59 426.3 903.0)"/><ellipse cx="449.1" cy="874.3" rx="1.8" ry="1.8" transform="rotate(24 449.1 874.3)"/><ellipse cx="452.4" cy="865.8" rx="2.0" ry="1.0" transform="rotate(164 452.4 865.8)"/><ellipse cx="467.4" cy="885.9" rx="2.1" ry="1.8" transform="rotate(52 467.4 885.9)"/><ellipse cx="441.5" cy="872.4" rx="2.0" ry="2.0" transform="rotate(33 441.5 872.4)"/><ellipse cx="408.2" cy="883.9" rx="1.0" ry="1.0" transform="rotate(169 408.2 883.9)"/><ellipse cx="406.3" cy="863.3" rx="2.2" ry="2.2" transform="rotate(69 406.3 863.3)"/><ellipse cx="383.5" cy="862.0" rx="0.9" ry="0.6" transform="rotate(26 383.5 862.0)"/><ellipse cx="392.7" cy="914.9" rx="1.2" ry="0.6" transform="rotate(102 392.7 914.9)"/><ellipse cx="401.6" cy="925.8" rx="1.0" ry="1.0" transform="rotate(26 401.6 925.8)"/><ellipse cx="459.6" cy="877.8" rx="1.8" ry="1.3" transform="rotate(124 459.6 877.8)"/><ellipse cx="423.8" cy="841.7" rx="1.9" ry="1.9" transform="rotate(151 423.8 841.7)"/><ellipse cx="441.5" cy="861.1" rx="1.8" ry="1.6" transform="rotate(95 441.5 861.1)"/><ellipse cx="388.7" cy="882.8" rx="2.7" ry="0.9" transform="rotate(131 388.7 882.8)"/><ellipse cx="456.7" cy="861.2" rx="2.1" ry="2.1" transform="rotate(55 456.7 861.2)"/><ellipse cx="410.4" cy="880.4" rx="1.1" ry="0.7" transform="rotate(71 410.4 880.4)"/><ellipse cx="461.6" cy="902.7" rx="1.9" ry="1.0" transform="rotate(71 461.6 902.7)"/><ellipse cx="422.8" cy="902.3" rx="2.7" ry="2.7" transform="rotate(120 422.8 902.3)"/><ellipse cx="443.6" cy="862.3" rx="2.5" ry="2.1" transform="rotate(102 443.6 862.3)"/><ellipse cx="434.7" cy="878.7" rx="2.5" ry="1.7" transform="rotate(171 434.7 878.7)"/><ellipse cx="446.6" cy="888.4" rx="1.5" ry="0.5" transform="rotate(161 446.6 888.4)"/><ellipse cx="434.4" cy="857.2" rx="1.6" ry="0.5" transform="rotate(6 434.4 857.2)"/><ellipse cx="444.2" cy="870.5" rx="1.9" ry="1.9" transform="rotate(176 444.2 870.5)"/><ellipse cx="398.9" cy="892.5" rx="1.5" ry="1.5" transform="rotate(161 398.9 892.5)"/><ellipse cx="437.2" cy="934.7" rx="1.6" ry="0.7" transform="rotate(158 437.2 934.7)"/><ellipse cx="444.4" cy="887.6" rx="2.2" ry="2.0" transform="rotate(9 444.4 887.6)"/><ellipse cx="455.6" cy="916.7" rx="1.5" ry="1.5" transform="rotate(157 455.6 916.7)"/><ellipse cx="417.3" cy="869.1" rx="2.3" ry="2.3" transform="rotate(80 417.3 869.1)"/><ellipse cx="442.7" cy="900.4" rx="1.5" ry="1.5" transform="rotate(35 442.7 900.4)"/><ellipse cx="431.9" cy="912.0" rx="2.2" ry="2.2" transform="rotate(67 431.9 912.0)"/><ellipse cx="396.6" cy="845.2" rx="2.1" ry="1.1" transform="rotate(167 396.6 845.2)"/><ellipse cx="408.3" cy="863.7" rx="2.2" ry="2.1" transform="rotate(79 408.3 863.7)"/><ellipse cx="385.2" cy="881.4" rx="1.0" ry="0.5" transform="rotate(45 385.2 881.4)"/><ellipse cx="426.5" cy="873.3" rx="1.5" ry="1.5" transform="rotate(44 426.5 873.3)"/><ellipse cx="414.8" cy="927.5" rx="1.3" ry="1.3" transform="rotate(178 414.8 927.5)"/><ellipse cx="455.3" cy="896.0" rx="2.4" ry="2.3" transform="rotate(90 455.3 896.0)"/><ellipse cx="437.7" cy="924.6" rx="2.2" ry="1.7" transform="rotate(141 437.7 924.6)"/><ellipse cx="385.7" cy="884.3" rx="2.6" ry="2.6" transform="rotate(94 385.7 884.3)"/><ellipse cx="441.8" cy="881.6" rx="2.4" ry="1.8" transform="rotate(42 441.8 881.6)"/><ellipse cx="380.1" cy="905.6" rx="2.5" ry="2.5" transform="rotate(42 380.1 905.6)"/><ellipse cx="397.8" cy="890.0" rx="2.0" ry="0.7" transform="rotate(107 397.8 890.0)"/><ellipse cx="413.2" cy="848.6" rx="2.6" ry="1.1" transform="rotate(3 413.2 848.6)"/><ellipse cx="388.2" cy="889.2" rx="1.8" ry="1.5" transform="rotate(13 388.2 889.2)"/><ellipse cx="453.5" cy="866.0" rx="2.0" ry="2.0" transform="rotate(43 453.5 866.0)"/><ellipse cx="438.8" cy="912.2" rx="1.0" ry="0.7" transform="rotate(95 438.8 912.2)"/><ellipse cx="418.0" cy="929.4" rx="1.1" ry="1.1" transform="rotate(31 418.0 929.4)"/><ellipse cx="421.0" cy="909.8" rx="2.3" ry="2.3" transform="rotate(142 421.0 909.8)"/><ellipse cx="451.7" cy="901.2" rx="1.6" ry="1.6" transform="rotate(8 451.7 901.2)"/><ellipse cx="377.5" cy="891.4" rx="2.9" ry="1.8" transform="rotate(134 377.5 891.4)"/><ellipse cx="445.7" cy="894.7" rx="2.7" ry="1.5" transform="rotate(54 445.7 894.7)"/><ellipse cx="409.1" cy="895.1" rx="1.0" ry="1.0" transform="rotate(137 409.1 895.1)"/><ellipse cx="419.2" cy="862.6" rx="1.4" ry="0.7" transform="rotate(83 419.2 862.6)"/><ellipse cx="449.5" cy="874.9" rx="1.6" ry="1.6" transform="rotate(110 449.5 874.9)"/><ellipse cx="452.8" cy="896.7" rx="2.2" ry="1.2" transform="rotate(125 452.8 896.7)"/><ellipse cx="447.3" cy="857.2" rx="2.7" ry="1.5" transform="rotate(152 447.3 857.2)"/><ellipse cx="388.7" cy="920.6" rx="1.3" ry="0.6" transform="rotate(99 388.7 920.6)"/><ellipse cx="433.4" cy="909.1" rx="1.3" ry="0.7" transform="rotate(80 433.4 909.1)"/><ellipse cx="463.4" cy="886.4" rx="2.6" ry="1.5" transform="rotate(13 463.4 886.4)"/><ellipse cx="410.6" cy="858.0" rx="1.4" ry="0.6" transform="rotate(47 410.6 858.0)"/><ellipse cx="383.5" cy="920.5" rx="2.3" ry="1.3" transform="rotate(28 383.5 920.5)"/><ellipse cx="449.6" cy="875.8" rx="2.4" ry="2.4" transform="rotate(163 449.6 875.8)"/><ellipse cx="450.1" cy="892.2" rx="1.7" ry="1.5" transform="rotate(59 450.1 892.2)"/><ellipse cx="426.3" cy="849.8" rx="1.0" ry="0.5" transform="rotate(7 426.3 849.8)"/><ellipse cx="444.4" cy="922.0" rx="1.0" ry="0.6" transform="rotate(98 444.4 922.0)"/><ellipse cx="449.6" cy="922.4" rx="1.4" ry="1.4" transform="rotate(120 449.6 922.4)"/></g>
</g>
<rect x="564" y="579.4" width="121.0" height="121.5" fill="#efefef"/>
<ellipse cx="625.2" cy="640.4" rx="56.9" ry="59" fill="#c1b3c6"/>
<g clip-path="url(#dc3)">
<g filter="url(#dbl)" fill="#8a7890" opacity="0.12"><ellipse cx="630.5" cy="647.6" rx="10.8" ry="11.7"/><ellipse cx="611.5" cy="650.0" rx="16.7" ry="7.8"/><ellipse cx="621.4" cy="655.1" rx="10.2" ry="6.3"/><ellipse cx="651.8" cy="644.7" rx="13.7" ry="12.5"/><ellipse cx="637.8" cy="638.4" rx="14.7" ry="13.4"/><ellipse cx="631.4" cy="670.2" rx="14.7" ry="13.6"/><ellipse cx="632.0" cy="632.8" rx="14.3" ry="6.7"/><ellipse cx="610.2" cy="648.0" rx="8.6" ry="9.1"/><ellipse cx="615.2" cy="659.8" rx="10.8" ry="7.3"/><ellipse cx="608.6" cy="652.5" rx="9.7" ry="11.3"/><ellipse cx="625.5" cy="644.5" rx="11.4" ry="9.4"/><ellipse cx="639.7" cy="661.3" rx="15.0" ry="10.4"/><ellipse cx="624.9" cy="639.4" rx="11.9" ry="8.9"/><ellipse cx="641.1" cy="647.3" rx="8.5" ry="10.0"/><ellipse cx="608.0" cy="629.7" rx="11.3" ry="8.0"/><ellipse cx="639.9" cy="642.7" rx="16.9" ry="10.5"/></g>
<ellipse cx="625.2" cy="640.4" rx="56.9" ry="59" fill="#000" filter="url(#tex)"/>
<g filter="url(#wbl)" fill="#f8f5f6" opacity="0.65"><ellipse cx="622.0" cy="684.7" rx="0.8" ry="0.6" transform="rotate(172 622.0 684.7)"/><ellipse cx="599.3" cy="671.8" rx="1.8" ry="1.4" transform="rotate(112 599.3 671.8)"/><ellipse cx="596.5" cy="659.0" rx="1.0" ry="0.9" transform="rotate(69 596.5 659.0)"/><ellipse cx="633.8" cy="634.7" rx="0.8" ry="0.4" transform="rotate(65 633.8 634.7)"/></g>
</g>
<rect x="564" y="703.1" width="121.0" height="121.6" fill="#efefef"/>
<ellipse cx="626.4" cy="763.7" rx="55.3" ry="55.8" fill="#e1dcea"/>
<g clip-path="url(#dc4)">
<g filter="url(#dbl)" fill="#9a90b0" opacity="0.12"><ellipse cx="632.6" cy="762.8" rx="9.9" ry="7.8"/><ellipse cx="622.3" cy="754.8" rx="8.0" ry="10.4"/><ellipse cx="618.6" cy="769.9" rx="12.9" ry="11.2"/></g>
<ellipse cx="626.4" cy="763.7" rx="55.3" ry="55.8" fill="#000" filter="url(#tex)"/>
<g filter="url(#wbl)" fill="#f8f5f6" opacity="0.65"><ellipse cx="587.9" cy="751.6" rx="1.1" ry="1.1" transform="rotate(60 587.9 751.6)"/><ellipse cx="599.0" cy="803.5" rx="0.8" ry="0.7" transform="rotate(124 599.0 803.5)"/><ellipse cx="671.5" cy="753.2" rx="0.7" ry="0.4" transform="rotate(101 671.5 753.2)"/><ellipse cx="607.8" cy="783.8" rx="1.3" ry="0.6" transform="rotate(45 607.8 783.8)"/><ellipse cx="616.6" cy="783.0" rx="1.1" ry="0.4" transform="rotate(12 616.6 783.0)"/></g>
</g>
<g font-family="Liberation Sans, Arial, sans-serif" font-size="11.9" fill="#111" text-anchor="end">
<text x="347.7" y="643.1">COAD</text>
<text x="346.1" y="758.1">BRCA</text>
<text x="347.5" y="872.6">PRAD</text>
<text x="554.8" y="643">LUAD</text>
<text x="554.7" y="758.3">LIHC</text>
</g></g>
<g font-family="Liberation Sans, Arial, sans-serif" font-size="17.6" fill="#000"><text x="0.8" y="12.9">A</text><text x="-0.9" y="331.6">B</text><text x="-0.5" y="573.3">C</text><text x="308.9" y="573.2">D</text></g>
</svg></body></html>
